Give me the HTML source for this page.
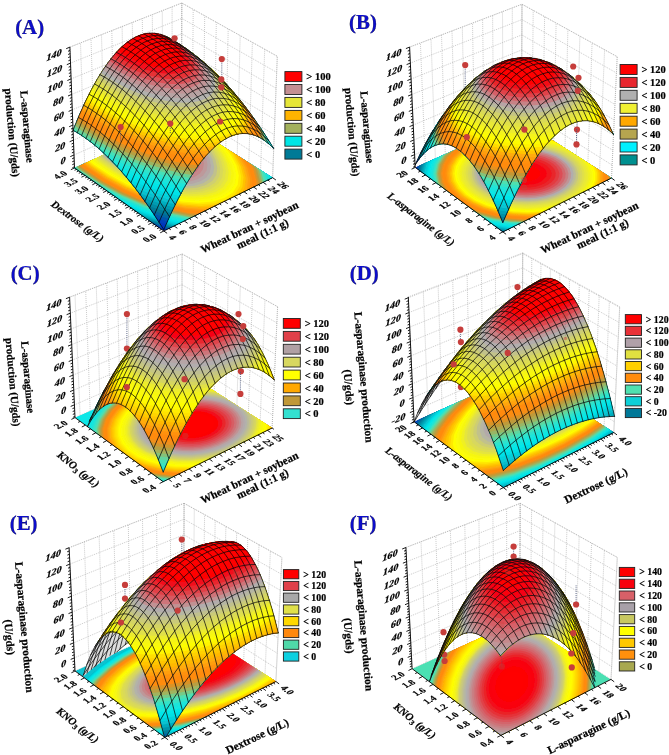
<!DOCTYPE html><html><head><meta charset="utf-8"><title>Figure</title>
<style>html,body{margin:0;padding:0;background:#fff}svg{display:block}text{font-family:"Liberation Serif","DejaVu Serif",serif;font-weight:bold;stroke:#000;stroke-width:.22px}</style></head><body>
<svg width="669" height="755" viewBox="0 0 669 755">
<rect width="669" height="755" fill="#fff"/>
<defs><filter id="bl" x="-2%" y="-2%" width="104%" height="104%"><feGaussianBlur stdDeviation="0.45"/></filter></defs>
<g filter="url(#bl)">
<g>
<path d="M74.5 167.9L69.9 47.1M84.6 163.3L80.5 43M94.7 158.9L91 38.8M104.6 154.4L101.5 34.7M114.5 150L111.8 30.6M124.3 145.6L122.1 26.5M134 141.3L132.3 22.5M143.7 137L142.3 18.5M153.2 132.7L152.3 14.6M162.7 128.5L162.3 10.7M172.1 124.3L172.1 6.8M181.5 120.2L181.8 3M272.6 177.7L277.3 56.3M260.6 170.2L264.7 49.3M248.8 162.7L252.4 42.4M237.2 155.4L240.2 35.6M225.8 148.1L228.2 28.9M214.5 141L216.3 22.2M203.3 134L204.7 15.7M192.3 127L193.2 9.3M181.5 120.2L181.8 3M74 155L181.5 107.6M181.5 107.6L273.1 164.8M73.4 140.1L181.5 93.2M181.5 93.2L273.6 149.8M72.9 125.1L181.6 78.6M181.6 78.6L274.2 134.7M72.3 109.8L181.6 63.8M181.6 63.8L274.8 119.4M71.7 94.4L181.7 48.8M181.7 48.8L275.4 103.9M71.1 78.9L181.7 33.7M181.7 33.7L276 88.2M70.5 63.1L181.8 18.4M181.8 18.4L276.6 72.3M69.9 47.1L181.8 3M181.8 3L277.3 56.3" stroke="#a8a8a8" stroke-width="0.6" stroke-dasharray="1 1" fill="none"/><path d="M69.9 47.1L181.8 3M181.8 3L277.3 56.3M181.5 120.2L181.8 3M272.6 177.7L277.3 56.3M74.5 167.9L181.5 120.2M181.5 120.2L272.6 177.7" stroke="#aaa" stroke-width="0.6" stroke-dasharray="1 1" fill="none"/>
<clipPath id="fcA"><path d="M163.8 231L272.6 177.7L181.5 120.2L74.5 167.9z"/></clipPath><g clip-path="url(#fcA)"><path d="M163.8 231L272.6 177.7L181.5 120.2L74.5 167.9z" fill="#0028c8"/><path d="M275.4 234.1l-19.1 6-23.8 1.9-27.6-2.2-29.8-6.3-30.5-10-30-13.1-27.9-15.4-24.7-17.1-20.7-18-16-18-10.9-17.3-5.7-16.2-.5-14.4 4.5-12.3 9.2-9.8 13.4-7.1 17.1-4.3 20.4-1.4 22.9 1.6 24.9 4.6 26.1 7.3 26.5 10 26.1 12.5 24.8 14.6 22.7 16.2 19.5 17.5 15.4 18 10.6 17.9 5 17-1.1 15.3-7.3 12.8z" fill="#0035bf"/><path d="M274 233.2l-18.8 5.9-23.7 1.9-27.2-2.3-29.5-6.2-30.2-9.8-29.6-13-27.7-15.3-24.5-16.9-20.4-17.7-15.9-17.9-10.8-17.2-5.7-16-.5-14.2 4.5-12.2 9-9.7 13.3-7.1 17-4.2 20.2-1.4 22.7 1.6 24.6 4.5 25.9 7.3 26.2 9.9 25.9 12.3 24.6 14.5 22.4 16.1 19.3 17.3 15.2 17.8 10.5 17.7 4.9 16.8-1.1 15.2-7.2 12.7z" fill="#003eb9"/><path d="M272.6 232.2l-18.6 5.8-23.4 1.9-26.9-2.2-29.2-6.2-29.9-9.7-29.3-12.8-27.3-15.1-24.3-16.8-20.3-17.5-15.7-17.7-10.7-17-5.7-15.8-.5-14.2 4.4-12 9-9.7 13.1-7 16.9-4.2 19.9-1.3 22.6 1.5 24.4 4.5 25.6 7.2 26 9.9 25.6 12.2 24.3 14.3 22.2 16 19.1 17.1 15.1 17.6 10.3 17.5 4.8 16.7-1.1 14.9-7.2 12.6z" fill="#004eb0"/><path d="M271.2 231.2l-18.5 5.7-23.1 1.9-26.6-2.2-28.8-6.1-29.6-9.6-29-12.6-27-15-24-16.5-20.1-17.4-15.6-17.4-10.6-16.9-5.6-15.7-.6-14 4.4-11.9 8.8-9.6 13-6.9 16.7-4.2 19.8-1.4 22.3 1.6 24.2 4.4 25.4 7.2 25.7 9.7 25.4 12.2 24.1 14.1 21.9 15.8 18.9 17 14.9 17.4 10.2 17.4 4.7 16.4-1.1 14.8-7.1 12.4z" fill="#0060a5"/><path d="M269.8 230.2l-18.3 5.7-22.8 1.8-26.3-2.2-28.5-6-29.3-9.5-28.6-12.4-26.8-14.8-23.7-16.4-20-17.2-15.4-17.2-10.5-16.7-5.6-15.6-.5-13.8 4.2-11.9 8.8-9.4 12.9-6.9 16.5-4.2 19.6-1.3 22.1 1.6 23.9 4.3 25.2 7.1 25.5 9.7 25.1 12 23.8 14 21.7 15.7 18.6 16.7 14.8 17.3 10 17.2 4.7 16.2-1.1 14.7-7.1 12.2z" fill="#00729b"/><path d="M268.4 229.2l-18.1 5.6-22.6 1.8-26-2.1-28.2-6-28.9-9.3-28.3-12.4-26.5-14.6-23.5-16.2-19.7-17-15.2-17-10.5-16.5-5.5-15.4-.6-13.8 4.2-11.7 8.7-9.3 12.7-6.9 16.4-4.1 19.4-1.3 21.9 1.6 23.7 4.3 24.8 7 25.3 9.6 24.8 11.9 23.6 13.9 21.5 15.5 18.4 16.5 14.6 17.1 9.9 17 4.6 16.1-1.1 14.4-7 12.1z" fill="#01829d"/><path d="M266.9 228.1l-17.9 5.6-22.3 1.8-25.7-2.1-27.8-5.9-28.6-9.2-28-12.2-26.1-14.5-23.3-15.9-19.5-16.8-15.1-16.9-10.4-16.4-5.4-15.2-.6-13.6 4.1-11.6 8.6-9.3 12.6-6.7 16.2-4.1 19.2-1.3 21.7 1.5 23.4 4.3 24.6 7 25 9.5 24.6 11.8 23.3 13.7 21.2 15.3 18.2 16.4 14.4 16.9 9.8 16.8 4.5 15.9-1.1 14.3-6.9 11.9z" fill="#0392a9"/><path d="M265.5 227.1l-17.7 5.5-22.1 1.7-25.3-2-27.5-5.8-28.2-9.1-27.7-12.1-25.9-14.2-23-15.8-19.3-16.6-14.9-16.7-10.3-16.2-5.4-15-.6-13.5 4.1-11.5 8.4-9.2 12.5-6.7 16-4 19-1.3 21.4 1.5 23.3 4.3 24.3 6.9 24.7 9.4 24.3 11.6 23.1 13.6 21 15.2 18 16.2 14.2 16.7 9.6 16.6 4.5 15.7-1.1 14.1-6.9 11.8z" fill="#04a2b6"/><path d="M264 226.1l-17.5 5.4-21.8 1.7-25-2-27.2-5.7-27.8-9.1-27.4-11.8-25.5-14.1-22.8-15.6-19-16.4-14.8-16.5-10.2-16-5.4-14.9-.6-13.3 4-11.3 8.4-9.2 12.3-6.6 15.8-4 18.8-1.2 21.2 1.5 23 4.2 24.1 6.8 24.5 9.3 24 11.5 22.8 13.5 20.7 15 17.8 16 14 16.5 9.5 16.4 4.4 15.5-1.1 13.9-6.8 11.7z" fill="#06b2c3"/><path d="M262.5 225l-17.3 5.3-21.5 1.8-24.7-2.1-26.8-5.6-27.5-8.9-27-11.7-25.3-13.9-22.4-15.4-18.9-16.2-14.7-16.3-10-15.8-5.4-14.7-.6-13.2 4-11.2 8.2-9 12.2-6.6 15.7-3.9 18.6-1.3 20.9 1.5 22.8 4.1 23.8 6.8 24.2 9.2 23.7 11.4 22.6 13.3 20.4 14.9 17.6 15.8 13.8 16.3 9.4 16.2 4.3 15.3-1.1 13.7-6.8 11.5z" fill="#07c2cf"/><path d="M261 223.9l-17 5.3-21.3 1.7-24.4-2-26.4-5.5-27.2-8.8-26.7-11.6-24.9-13.7-22.2-15.2-18.6-16-14.5-16.1-10-15.6-5.3-14.6-.7-13 3.9-11.1 8.2-8.9 12-6.5 15.5-3.9 18.4-1.2 20.7 1.4 22.5 4.1 23.6 6.7 23.9 9.1 23.5 11.3 22.3 13.2 20.2 14.6 17.3 15.7 13.6 16.1 9.3 16 4.2 15.1-1.2 13.6-6.6 11.3z" fill="#06ced9"/><path d="M259.5 222.9l-16.8 5.2-21 1.6-24.1-1.9-26.1-5.5-26.8-8.7-26.3-11.4-24.6-13.5-21.9-15-18.5-15.8-14.3-15.9-9.9-15.4-5.3-14.4-.6-12.9 3.8-11 8.1-8.8 11.9-6.4 15.3-3.9 18.1-1.2 20.6 1.5 22.2 4 23.3 6.7 23.6 9 23.2 11.1 22 13 20 14.5 17.1 15.5 13.4 15.9 9.1 15.8 4.2 14.9-1.2 13.4-6.6 11.1z" fill="#04d8e0"/><path d="M257.9 221.8l-16.6 5.1-20.6 1.6-23.8-1.9-25.7-5.4-26.5-8.5-25.9-11.2-24.3-13.4-21.7-14.8-18.2-15.6-14.2-15.7-9.8-15.2-5.2-14.2-.6-12.7 3.8-10.9 7.9-8.7 11.7-6.4 15.1-3.8 18-1.2 20.3 1.4 22 4 23 6.6 23.3 8.9 22.9 11 21.8 12.9 19.7 14.3 16.8 15.3 13.3 15.7 8.9 15.5 4.1 14.8-1.2 13.2-6.5 11z" fill="#02e2e7"/><path d="M256.4 220.7l-16.4 5-20.4 1.6-23.4-1.9-25.4-5.3-26.1-8.4-25.6-11-23.9-13.2-21.4-14.6-18-15.4-14-15.5-9.7-15-5.2-14-.6-12.6 3.7-10.8 7.8-8.6 11.6-6.2 14.9-3.8 17.8-1.2 20 1.4 21.7 4 22.8 6.4 23 8.8 22.7 10.9 21.4 12.8 19.4 14.1 16.7 15.1 13 15.5 8.8 15.3 4 14.5-1.1 13-6.5 10.9z" fill="#05e7e9"/><path d="M254.8 219.6l-16.1 4.9-20.1 1.6-23.1-1.8-25-5.3-25.8-8.3-25.2-10.9-23.6-12.9-21.1-14.4-17.8-15.2-13.8-15.3-9.6-14.8-5.1-13.9-.7-12.4 3.7-10.6 7.7-8.5 11.4-6.2 14.7-3.7 17.6-1.2 19.8 1.4 21.4 3.9 22.5 6.4 22.7 8.7 22.4 10.8 21.1 12.5 19.2 14 16.4 14.9 12.8 15.3 8.7 15.1 3.9 14.3-1.1 12.8-6.4 10.7z" fill="#0fe6e3"/><path d="M253.2 218.5l-15.9 4.8-19.8 1.6-22.8-1.8-24.6-5.2-25.3-8.1-24.9-10.8-23.3-12.7-20.9-14.2-17.5-15-13.7-15.1-9.4-14.6-5.1-13.7-.7-12.2 3.6-10.5 7.6-8.4 11.3-6.1 14.6-3.7 17.3-1.2 19.5 1.4 21.2 3.9 22.1 6.3 22.5 8.6 22.1 10.6 20.8 12.4 18.9 13.8 16.2 14.7 12.6 15.1 8.6 14.9 3.8 14.1-1.2 12.6-6.3 10.5z" fill="#19e5dc"/><path d="M251.6 217.3l-15.7 4.8-19.5 1.6-22.4-1.9-24.3-5-24.9-8-24.5-10.6-23-12.6-20.5-13.9-17.3-14.8-13.5-14.8-9.4-14.5-5-13.5-.7-12.1 3.5-10.3 7.5-8.3 11.2-6.1 14.3-3.6 17.1-1.2 19.3 1.4 20.9 3.8 21.8 6.3 22.2 8.4 21.8 10.5 20.5 12.3 18.7 13.6 15.9 14.5 12.4 14.8 8.4 14.7 3.8 13.9-1.2 12.4-6.2 10.4z" fill="#26e3d3"/><path d="M250 216.2l-15.5 4.7-19.2 1.5-22-1.8-23.9-4.9-24.6-7.9-24.2-10.4-22.6-12.4-20.2-13.8-17.1-14.5-13.3-14.6-9.2-14.3-5-13.3-.7-11.9 3.5-10.2 7.3-8.2 11-6 14.1-3.6 16.9-1.1 19 1.3 20.6 3.8 21.6 6.2 21.9 8.3 21.4 10.4 20.3 12.1 18.4 13.4 15.6 14.2 12.3 14.7 8.2 14.5 3.7 13.6-1.2 12.3-6.1 10.2z" fill="#3ce2c1"/><path d="M248.3 215l-15.2 4.6-18.9 1.5-21.7-1.7-23.5-4.9-24.2-7.8-23.8-10.2-22.3-12.2-19.9-13.5-16.8-14.3-13.2-14.4-9.1-14.1-4.9-13.1-.7-11.7 3.4-10.1 7.3-8.1 10.8-5.9 13.9-3.6 16.6-1.1 18.8 1.3 20.3 3.8 21.3 6.1 21.6 8.2 21.1 10.3 20 11.9 18 13.2 15.5 14 12 14.5 8.1 14.2 3.6 13.5-1.2 12-6 10.1z" fill="#52dfae"/><path d="M246.6 213.8l-14.9 4.6-18.6 1.4-21.4-1.7-23.1-4.8-23.8-7.6-23.4-10.1-21.9-11.9-19.6-13.4-16.6-14-13-14.2-9-13.8-4.8-13-.8-11.6 3.4-9.9 7.1-8 10.7-5.8 13.7-3.5 16.4-1.1 18.5 1.3 20 3.7 21 6 21.2 8.1 20.9 10.1 19.6 11.7 17.8 13.1 15.2 13.8 11.8 14.2 8 14.1 3.5 13.2-1.2 11.8-6 9.9z" fill="#80c57f"/><path d="M244.9 212.6l-14.7 4.5-18.2 1.4-21-1.6-22.8-4.8-23.4-7.5-23-9.8-21.6-11.8-19.3-13.1-16.3-13.8-12.8-14-8.9-13.6-4.8-12.7-.7-11.5 3.3-9.8 7-7.8 10.5-5.8 13.5-3.4 16.2-1.1 18.2 1.3 19.7 3.6 20.7 5.9 20.9 8.1 20.5 9.9 19.4 11.6 17.5 12.8 14.9 13.6 11.6 14 7.8 13.8 3.5 13-1.2 11.6-6 9.7z" fill="#a8ad55"/><path d="M243.2 211.4l-14.4 4.4-18 1.4-20.6-1.6-22.4-4.7-23-7.3-22.6-9.7-21.2-11.6-19-12.9-16.1-13.5-12.5-13.8-8.8-13.4-4.8-12.5-.7-11.3 3.2-9.6 6.9-7.8 10.3-5.6 13.3-3.4 15.9-1.1 18 1.3 19.4 3.6 20.4 5.8 20.6 7.9 20.2 9.8 19 11.4 17.2 12.6 14.6 13.4 11.5 13.8 7.6 13.5 3.4 12.8-1.2 11.4-5.8 9.6z" fill="#bd9b3c"/><path d="M241.5 210.2l-14.2 4.3-17.7 1.4-20.2-1.6-22-4.6-22.5-7.2-22.2-9.5-20.9-11.4-18.7-12.6-15.8-13.4-12.4-13.5-8.6-13.2-4.7-12.3-.8-11.1 3.2-9.4 6.8-7.7 10.1-5.6 13.1-3.3 15.6-1.1 17.7 1.3 19.1 3.5 20.1 5.8 20.2 7.8 19.9 9.6 18.7 11.2 16.9 12.4 14.4 13.2 11.2 13.5 7.5 13.3 3.3 12.6-1.2 11.2-5.8 9.4z" fill="#e09224"/><path d="M239.7 208.9l-14 4.3-17.3 1.3-19.8-1.6-21.6-4.4-22.1-7.1-21.8-9.3-20.5-11.2-18.4-12.4-15.5-13.1-12.2-13.3-8.5-12.9-4.7-12.1-.7-10.9 3.1-9.4 6.6-7.5 10-5.5 12.9-3.3 15.3-1 17.4 1.2 18.9 3.5 19.6 5.6 20 7.7 19.5 9.5 18.4 11 16.6 12.2 14.1 13 11 13.3 7.3 13.1 3.2 12.3-1.1 11-5.7 9.2z" fill="#ff8c10"/><path d="M237.9 207.7l-13.7 4.1-17 1.3-19.5-1.5-21.1-4.4-21.7-6.9-21.4-9.2-20.1-10.9-18.1-12.2-15.2-12.8-12-13.1-8.4-12.7-4.6-11.9-.7-10.7 3-9.2 6.5-7.4 9.8-5.4 12.7-3.2 15.1-1.1 17.1 1.3 18.5 3.4 19.3 5.6 19.6 7.5 19.2 9.3 18.1 10.8 16.3 12 13.8 12.8 10.8 13 7.1 12.9 3.2 12-1.2 10.8-5.6 9z" fill="#ff8b10"/><path d="M236.1 206.4l-13.5 4-16.6 1.3-19.1-1.5-20.7-4.3-21.3-6.8-21-8.9-19.7-10.7-17.7-11.9-15-12.7-11.8-12.8-8.2-12.4-4.5-11.7-.8-10.6 2.9-9 6.5-7.2 9.6-5.3 12.4-3.2 14.8-1.1 16.8 1.2 18.2 3.4 19 5.5 19.3 7.4 18.8 9.2 17.7 10.6 16 11.8 13.6 12.5 10.5 12.8 7 12.6 3.1 11.8-1.2 10.6-5.5 8.8z" fill="#ff920e"/><path d="M234.2 205.1l-13.1 3.9-16.3 1.3-18.7-1.5-20.3-4.2-20.9-6.6-20.5-8.8-19.4-10.5-17.3-11.6-14.7-12.4-11.6-12.6-8.1-12.2-4.5-11.5-.7-10.3 2.8-8.9 6.3-7.1 9.4-5.2 12.2-3.1 14.6-1 16.5 1.1 17.8 3.3 18.7 5.4 18.9 7.3 18.4 9 17.4 10.4 15.7 11.6 13.3 12.3 10.3 12.5 6.9 12.3 2.9 11.6-1.2 10.4-5.3 8.6z" fill="#ffa00b"/><path d="M232.3 203.7l-12.9 3.9-15.9 1.3-18.3-1.5-19.8-4.1-20.5-6.5-20.1-8.6-18.9-10.2-17-11.4-14.4-12.2-11.4-12.2-8-12-4.3-11.3-.8-10.1 2.8-8.7 6.1-7 9.2-5.1 12-3.1 14.3-1 16.2 1.1 17.5 3.3 18.3 5.3 18.5 7.1 18.1 8.9 17 10.2 15.4 11.3 13 12 10.1 12.3 6.7 12.1 2.8 11.4-1.1 10.1-5.3 8.4z" fill="#ffaf08"/><path d="M230.4 202.4l-12.6 3.8-15.6 1.2-17.9-1.5-19.4-3.9-19.9-6.4-19.7-8.4-18.6-10-16.6-11.2-14.1-11.8-11.2-12-7.8-11.8-4.3-11-.8-9.9 2.8-8.6 6-6.8 9-5 11.7-3.1 14-.9 15.9 1.1 17.1 3.2 18 5.2 18.1 7 17.7 8.6 16.7 10.1 15 11.1 12.7 11.7 9.9 12.1 6.5 11.8 2.8 11.1-1.2 9.9-5.1 8.2z" fill="#ffc203"/><path d="M228.4 201l-12.3 3.7-15.2 1.2-17.5-1.4-18.9-3.9-19.5-6.2-19.3-8.2-18.1-9.8-16.2-10.9-13.9-11.6-10.9-11.7-7.6-11.5-4.3-10.8-.8-9.7 2.7-8.4 5.8-6.7 8.9-4.9 11.5-3 13.7-.9 15.5 1.1 16.8 3.1 17.6 5.1 17.7 6.8 17.4 8.5 16.3 9.8 14.6 10.9 12.5 11.5 9.6 11.8 6.3 11.5 2.7 10.9-1.1 9.6-5.1 8.1z" fill="#ffd800"/><path d="M226.4 199.6l-12 3.6-14.9 1.1-17-1.3-18.5-3.8-19-6.1-18.8-7.9-17.7-9.6-15.9-10.6-13.5-11.3-10.7-11.5-7.5-11.2-4.1-10.6-.8-9.5 2.6-8.2 5.7-6.6 8.6-4.8 11.2-2.9 13.4-.9 15.2 1.1 16.5 3 17.2 5 17.3 6.7 17 8.3 15.9 9.6 14.3 10.7 12.1 11.2 9.4 11.5 6.2 11.3 2.6 10.5-1.1 9.5-5 7.8z" fill="#ffeb00"/><path d="M224.4 198.1l-11.7 3.5-14.5 1.2-16.6-1.4-18-3.7-18.6-5.8-18.3-7.8-17.2-9.3-15.6-10.4-13.2-11-10.4-11.2-7.4-11-4-10.3-.8-9.3 2.5-7.9 5.6-6.5 8.4-4.7 10.9-2.8 13.1-1 14.9 1.1 16 3 16.8 4.9 17 6.5 16.5 8.2 15.6 9.3 14 10.4 11.8 11 9.1 11.2 6 11 2.5 10.3-1.1 9.2-4.9 7.6z" fill="#ffff00"/><path d="M222.3 196.6l-11.4 3.5-14.1 1-16.2-1.2-17.5-3.6-18.1-5.7-17.8-7.6-16.8-9-15.1-10.1-12.9-10.8-10.2-10.9-7.2-10.7-4-10-.8-9.1 2.5-7.8 5.4-6.3 8.2-4.6 10.7-2.8 12.8-.9 14.5 1.1 15.6 2.9 16.4 4.8 16.6 6.4 16.1 7.9 15.2 9.2 13.6 10.1 11.5 10.7 8.8 10.9 5.9 10.7 2.4 10-1.1 9-4.8 7.4z" fill="#fbfb08"/><path d="M220.1 195.1l-11.1 3.3-13.7 1.1-15.7-1.2-17-3.5-17.6-5.6-17.3-7.3-16.3-8.8-14.8-9.8-12.5-10.5-9.9-10.6-7.1-10.4-3.9-9.8-.7-8.8 2.3-7.6 5.3-6.2 8-4.4 10.4-2.8 12.4-.8 14.2 1 15.2 2.9 16 4.6 16.1 6.3 15.7 7.7 14.8 8.9 13.2 9.9 11.2 10.4 8.6 10.6 5.7 10.4 2.3 9.8-1.1 8.6-4.6 7.2z" fill="#f7f711"/><path d="M217.9 193.6l-10.7 3.2-13.3 1-15.3-1.2-16.5-3.4-17-5.3-16.8-7.2-15.9-8.5-14.3-9.5-12.3-10.1-9.6-10.4-6.9-10.1-3.8-9.5-.8-8.6 2.3-7.4 5.1-6 7.8-4.4 10.1-2.6 12.1-.8 13.8.9 14.9 2.8 15.5 4.5 15.7 6.1 15.3 7.6 14.3 8.6 12.8 9.6 10.9 10.2 8.3 10.3 5.5 10.1 2.3 9.5-1.2 8.4-4.5 7z" fill="#f1f121"/><path d="M215.7 192l-10.5 3.1-12.9 1-14.7-1.2-16-3.2-16.5-5.2-16.3-6.9-15.4-8.3-13.9-9.2-11.8-9.8-9.4-10.1-6.7-9.8-3.7-9.2-.8-8.4 2.2-7.2 4.9-5.8 7.6-4.2 9.8-2.6 11.8-.8 13.3.9 14.5 2.7 15.1 4.4 15.2 6 14.8 7.3 13.9 8.4 12.5 9.3 10.5 9.9 8.1 10 5.3 9.8 2.1 9.1-1.1 8.2-4.4 6.7z" fill="#e8e837"/><path d="M213.4 190.4l-10.2 2.9-12.4 1-14.3-1.1-15.4-3.2-16-5-15.8-6.6-14.9-8-13.4-8.9-11.5-9.5-9.1-9.7-6.5-9.5-3.6-9-.8-8.1 2.1-7 4.8-5.6 7.3-4.2 9.5-2.5 11.5-.8 12.9 1 14 2.6 14.7 4.3 14.7 5.7 14.4 7.1 13.5 8.2 12 9 10.2 9.5 7.8 9.7 5 9.5 2.1 8.9-1.1 7.8-4.2 6.6z" fill="#e1e148"/><path d="M211 188.7l-9.8 2.8-12 1-13.8-1.1-14.9-3-15.4-4.9-15.2-6.4-14.4-7.7-13-8.6-11.1-9.2-8.8-9.3-6.3-9.2-3.5-8.7-.8-7.8 2-6.8 4.7-5.4 7-4 9.2-2.5 11.1-.7 12.5.9 13.6 2.5 14.1 4.2 14.3 5.5 13.9 6.9 13 7.9 11.7 8.7 9.7 9.2 7.6 9.4 4.8 9.1 2 8.6-1 7.6-4.2 6.3z" fill="#d9d959"/><path d="M208.5 186.9l-9.4 2.8-11.6.9-13.2-1.1-14.3-2.9-14.9-4.6-14.6-6.2-13.8-7.4-12.6-8.3-10.7-8.8-8.5-9-6.1-8.9-3.4-8.3-.7-7.6 1.9-6.5 4.4-5.3 6.8-3.9 8.9-2.3 10.7-.7 12.1.8 13.1 2.5 13.6 4 13.8 5.4 13.4 6.6 12.5 7.6 11.2 8.4 9.4 8.9 7.3 9 4.6 8.8 1.9 8.3-1 7.3-4 6z" fill="#cfcf6f"/><path d="M205.9 185.1l-9 2.7-11.1.8-12.7-1-13.7-2.8-14.2-4.4-14.1-5.9-13.3-7.1-12-8-10.3-8.4-8.2-8.7-5.9-8.5-3.3-8-.7-7.3 1.8-6.3 4.3-5.1 6.5-3.7 8.6-2.3 10.2-.7 11.7.9 12.6 2.3 13.1 3.9 13.2 5.2 12.9 6.3 12.1 7.4 10.7 8.1 9.1 8.5 6.9 8.7 4.4 8.4 1.8 7.9-1 7-3.8 5.8z" fill="#c1c18b"/><path d="M203.3 183.2l-8.7 2.6-10.6.8-12.1-1-13.1-2.6-13.6-4.3-13.4-5.6-12.8-6.8-11.5-7.6-9.9-8.1-7.8-8.3-5.6-8.1-3.2-7.7-.8-7 1.8-6 4-4.9 6.3-3.6 8.2-2.2 9.8-.7 11.2.8 12.1 2.3 12.6 3.7 12.7 5 12.3 6.1 11.6 7.1 10.2 7.7 8.7 8.2 6.6 8.3 4.2 8.1 1.7 7.5-1 6.7-3.7 5.5z" fill="#b4b4a8"/><path d="M200.5 181.3l-8.2 2.4-10.1.7-11.6-.9-12.5-2.5-12.9-4-12.8-5.4-12.1-6.4-11-7.2-9.4-7.8-7.5-7.9-5.4-7.7-3.1-7.4-.7-6.7 1.6-5.7 3.9-4.7 6-3.4 7.8-2.1 9.4-.6 10.7.7 11.5 2.2 12.1 3.5 12.1 4.8 11.8 5.8 11 6.8 9.8 7.4 8.2 7.8 6.2 7.9 4.1 7.7 1.6 7.1-1 6.4-3.5 5.3z" fill="#b5a6a7"/><path d="M197.6 179.2l-7.8 2.3-9.6.7-10.9-.8-11.8-2.4-12.3-3.8-12.1-5.1-11.5-6.1-10.4-6.8-8.9-7.4-7.2-7.5-5.1-7.3-3-7-.6-6.4 1.5-5.4 3.7-4.5 5.6-3.2 7.5-2 8.9-.6 10.1.7 11 2.1 11.4 3.3 11.5 4.6 11.2 5.5 10.5 6.4 9.3 7.1 7.7 7.4 5.9 7.4 3.9 7.3 1.4 6.8-.9 6-3.4 5z" fill="#bd999b"/><path d="M194.5 177.1l-7.3 2.1-9 .7-10.3-.8-11.1-2.3-11.5-3.6-11.4-4.7-10.9-5.7-9.8-6.5-8.4-6.9-6.8-7-4.8-7-2.8-6.6-.7-6 1.4-5.2 3.5-4.2 5.3-3 7-1.9 8.5-.6 9.5.7 10.4 2 10.8 3.1 10.9 4.3 10.5 5.3 9.9 6 8.7 6.7 7.3 6.9 5.6 7.1 3.6 6.9 1.3 6.4-.9 5.6-3.1 4.7z" fill="#c5888b"/><path d="M191.3 174.8l-6.9 2-8.4.6-9.6-.8-10.4-2-10.7-3.4-10.7-4.4-10.1-5.4-9.2-6-7.9-6.4-6.3-6.6-4.6-6.5-2.6-6.2-.7-5.6 1.4-4.9 3.2-3.9 5-2.9 6.6-1.8 7.9-.5 8.9.6 9.8 1.9 10.1 3 10.2 4 9.8 4.9 9.2 5.7 8.2 6.2 6.8 6.5 5.2 6.6 3.3 6.4 1.3 6-.9 5.3-2.9 4.3z" fill="#d06d73"/><path d="M187.8 172.3l-6.3 1.9-7.8.5-8.8-.7-9.6-1.9-10-3.1-9.8-4-9.4-5-8.5-5.5-7.3-6-5.9-6.1-4.3-6-2.4-5.7-.6-5.3 1.2-4.5 3-3.6 4.6-2.7 6.1-1.7 7.3-.5 8.3.6 9.1 1.8 9.4 2.7 9.4 3.8 9.2 4.5 8.5 5.3 7.5 5.8 6.3 6 4.8 6.1 3 5.9 1.2 5.5-.8 4.9-2.8 4z" fill="#db535b"/><path d="M184 169.7l-5.7 1.6-7.1.6-8.1-.7-8.7-1.7-9-2.8-9-3.7-8.5-4.5-7.8-5.1-6.7-5.4-5.4-5.6-3.9-5.5-2.3-5.2-.6-4.8 1.1-4.1 2.7-3.4 4.3-2.4 5.5-1.5 6.8-.5 7.6.5 8.2 1.6 8.6 2.6 8.7 3.4 8.3 4.2 7.8 4.8 6.9 5.3 5.7 5.5 4.4 5.5 2.7 5.5 1 5-.7 4.4-2.5 3.7z" fill="#e23b42"/><path d="M179.9 166.8l-5.2 1.4-6.3.5-7.1-.6-7.8-1.5-8.1-2.5-8-3.3-7.6-4-7-4.5-6-4.9-4.8-5-3.5-4.9-2.1-4.7-.5-4.2.9-3.8 2.5-3 3.7-2.2 5-1.3 6-.5 6.9.5 7.4 1.5 7.7 2.2 7.7 3.1 7.5 3.8 7 4.3 6.1 4.7 5.1 5 3.9 4.9 2.4 4.9.9 4.4-.7 4-2.2 3.2z" fill="#ea232a"/><path d="M175.2 163.5l-4.4 1.2-5.5.4-6.2-.4-6.7-1.4-7-2.1-6.9-2.9-6.6-3.4-6-3.9-5.2-4.2-4.2-4.3-3.1-4.3-1.8-4.1-.5-3.7.9-3.2 2.1-2.6 3.2-2 4.4-1.1 5.2-.4 5.9.4 6.5 1.3 6.7 2 6.7 2.6 6.5 3.3 6 3.8 5.3 4 4.4 4.3 3.3 4.3 2.1 4.2.8 3.9-.6 3.4-2 2.8z" fill="#f40a17"/><path d="M169.7 159.6l-3.6 1-4.4.3-5.1-.3-5.4-1.1-5.7-1.8-5.6-2.3-5.4-2.8-4.9-3.2-4.3-3.4-3.5-3.5-2.5-3.5-1.5-3.3-.4-3.1.7-2.6 1.7-2.2 2.6-1.5 3.6-1 4.3-.3 4.8.3 5.3 1.1 5.5 1.6 5.5 2.2 5.3 2.7 4.9 3 4.4 3.4 3.6 3.5 2.7 3.5 1.6 3.4.6 3.2-.5 2.7-1.6 2.3z" fill="#ff0000"/><path d="M162.6 154.6l-2.6.7-3.1.2-3.5-.3-3.9-.7-3.9-1.2-4-1.7-3.8-1.9-3.5-2.3-3-2.4-2.5-2.4-1.8-2.5-1-2.4-.4-2.1.5-1.9 1.2-1.6 1.9-1.1 2.5-.7 3-.2 3.5.3 3.8.7 3.8 1.1 4 1.6 3.7 1.9 3.5 2.2 3.1 2.4 2.5 2.5 1.9 2.4 1.1 2.4.4 2.2-.4 2-1.1 1.6z" fill="#ff0000"/></g>

<path d="M168.1 37.3l4.5 2.9 3 2.1 6.1 5.2 8.9 5.4 9 6.4 9 7.5 9.3 8.5-4.1-4.1-6.7-6.2-6.7-5.7-6.7-5.4-6.9-5-6.7-4.5-6.6-4.1z" fill="#dcdcdc"/><path d="M113.2 55.8l-6.3 8.2-4.7 6.9-4.6 7.6-4.7 8.2-4.7 9-6.1 12.9-4.6 10.5-4.5 11.1 6.1 3.7 5 3.2 6.2 4.6 5 4 6.4 5.5 5.1 4.8 10.3 10.6 6.5 7.4 5.3 6.3 6.6 8.3 5.3 7.1 10.8 15.2 12.1 18.8 8.2-18.2 6.6-13.2 8.1-14.8 6.6-10.5 6.5-9.3 6.5-8 6.4-6.8 3.2-3 4.8-3.8 3.2-2.1 3.2-1.9 3.2-1.5 3.1-1.2 3.1-.9 3.1-.6 3.1-.3 4.6.1 3 .5 3 .7 3 1.1 4.5 2.1 2.9 1.8 2.9 2.1 2.9 2.4 4.3 4.1-5.3-8.7-6.7-10.3-12-17.1-5.4-7.1-6.6-8.3-5.3-6.3-6.6-7.4-5.3-5.5-6.7-6.6-6.7-6.2-6.7-5.7-6.7-5.4-6.9-5-6.7-4.5-6.6-4.1-5.4-3-3.1-1.4-3-1.2-3.1-.8-4.7-.7-3.1-.1-4.7.4-3.2.6-4.7 1.6-3.2 1.4-4.7 2.8-3.1 2.2-4.8 3.9-3.2 3z" fill="#002dc5"/><path d="M113.2 55.8l-6.3 8.2-4.7 6.9-4.6 7.6-4.7 8.2-4.7 9-6.1 12.9-4.6 10.5-4.5 11.1 6.1 3.7 5 3.2 4.9 3.6 5.1 3.9 6.3 5.5 5.1 4.7 10.3 10.4 6.5 7.3 5.3 6.2 10.6 13.4 12 16.8 11.1 16.9 3.7 1.1 8.6-18.8 8.1-15.9 8.2-14.1 3.3-5.1 4.8-7.1 4.9-6.4 6.5-7.4 6.4-6.2 6.4-4.9 3.2-2 3.2-1.7 3.1-1.3 3.2-1.1 3.1-.8 3.1-.4 3-.2 4.6.4 3 .6 3 .9 3 1.2 3 1.5 2.9 1.8 2.9 2.1 2.9 2.4 4.3 4.1-5.3-8.7-6.7-10.3-12-17.1-5.4-7.1-6.6-8.3-5.3-6.3-6.6-7.4-5.3-5.5-6.7-6.6-6.7-6.2-6.7-5.7-6.7-5.4-6.9-5-6.7-4.5-6.6-4.1-5.4-3-3.1-1.4-3-1.2-3.1-.8-4.7-.7-3.1-.1-4.7.4-3.2.6-4.7 1.6-3.2 1.4-4.7 2.8-3.1 2.2-4.8 3.9-3.2 3z" fill="#0036be"/><path d="M114.8 54l-6.3 7.8-4.7 6.7-4.7 7.4-6.2 10.8-4.7 9-6.1 12.9-4.6 10.5-4.5 11.1 6.1 3.7 5 3.2 4.9 3.6 5.1 3.9 6.3 5.5 5.1 4.7 10.3 10.4 10.5 11.9 10.6 13.3 10.6 14.6 11.4 16.9 7.3 2.3 7.4-16.1 6.5-12.9 8.2-14.5 6.5-10.2 6.5-8.9 3.2-4 4.9-5.5 6.4-6.2 3.2-2.6 4.8-3.3 3.2-1.9 3.2-1.5 3.1-1.2 3.1-.9 3.1-.6 3.1-.3 3.1 0 3 .3 3 .6 3 .9 3 1.2 3 1.5 2.9 1.8 2.9 2.1 2.9 2.4 4.3 4.1-10.7-16.9-12-17.4-5.3-7.1-6.7-8.5-5.3-6.4-6.6-7.4-5.3-5.6-6.7-6.7-6.7-6.3-6.7-5.8-6.7-5.5-6.7-5-6.7-4.5-6.9-4.3-8.1-4.5-4.6-1.9-3.1-.8-4.7-.7-3.1-.1-3.2.2-3.1.5-4.7 1.3-3.2 1.3-4.7 2.5-3.2 2-4.7 3.7-3.2 2.8z" fill="#0040b8"/><path d="M114.8 54l-6.3 7.8-4.7 6.7-4.7 7.4-6.2 10.8-4.7 9-6.1 12.9-4.6 10.5-4.5 11.1 6.1 3.7 5 3.2 4.9 3.6 5.1 3.9 10.1 9 10.3 10.3 10.5 11.6 10.5 13.1 10.7 14.5 10.1 14.9 11.1 3.4 7.8-16.6 6.5-12.6 8.2-14.1 6.5-9.9 6.5-8.7 3.3-3.8 4.8-5.3 6.4-5.8 3.2-2.5 4.8-3.1 3.2-1.7 3.1-1.3 3.2-1.1 3.1-.8 3.1-.4 3-.2 3.1.2 3 .5 3 .7 3 1.1 3 1.4 2.9 1.6 3 2 2.9 2.2 5.7 5.3-10.7-16.9-12-17.4-5.3-7.1-6.7-8.5-5.3-6.4-6.6-7.4-5.3-5.6-6.7-6.7-6.7-6.3-6.7-5.8-6.7-5.5-6.7-5-6.7-4.5-6.9-4.3-8.1-4.5-4.6-1.9-3.1-.8-4.7-.7-3.1-.1-3.2.2-3.1.5-4.7 1.3-3.2 1.3-4.7 2.5-3.2 2-4.7 3.7-3.2 2.8z" fill="#0053ad"/><path d="M114.8 54l-6.3 7.8-4.7 6.7-4.7 7.4-6.2 10.8-4.7 9-6.1 12.9-4.6 10.5-4.5 11.1 4.9 2.9 4.9 3.2 5 3.5 5 3.8 10.1 8.8 10.3 10.1 10.4 11.5 9.3 11.2 10.6 14.2 10.2 14.6 14.9 4.7 6.6-13.9 8.2-15.6 6.5-11.1 3.3-5.1 4.8-7.1 6.5-8.3 3.3-3.8 4.8-4.9 6.4-5.6 3.2-2.3 4.8-2.9 4.7-2.1 3.2-1.1 3.1-.8 3.1-.4 3-.2 3.1.2 3 .5 3 .7 3 1.1 3 1.4 2.9 1.6 3 2 2.9 2.2 5.7 5.3-10.7-16.9-12-17.4-5.3-7.1-6.7-8.5-5.3-6.4-6.6-7.4-5.3-5.6-6.7-6.7-6.7-6.3-6.7-5.8-6.7-5.5-6.7-5-6.7-4.5-6.9-4.3-8.1-4.5-4.6-1.9-3.1-.8-4.7-.7-3.1-.1-3.2.2-3.1.5-4.7 1.3-3.2 1.3-4.7 2.5-3.2 2-4.7 3.7-3.2 2.8z" fill="#0067a1"/><path d="M116.4 52.2l-6.3 7.6-4.7 6.4-4.7 7.1-6.3 10.6-4.6 8.7-6.2 12.7-6.1 13.8-4.5 11.1 4.9 2.9 4.9 3.2 5 3.5 5 3.8 10.1 8.8 9 8.7 10.4 11.4 9.2 11.1 9.3 12.1 10.1 14.2 10.5 3.5 8.5 2.5 6.9-14.4 8.2-15.2 6.5-10.8 3.3-5 4.9-6.8 6.5-8 3.2-3.6 4.8-4.7 6.4-5.3 3.2-2.1 4.8-2.7 4.7-1.9 3.1-.9 3.1-.6 3.1-.3 3.1 0 3 .3 3 .6 4.5 1.5 3 1.4 2.9 1.6 3 2 2.9 2.2 5.7 5.3-10.7-16.9-12-17.4-5.3-7.1-6.7-8.5-5.3-6.4-6.6-7.4-5.3-5.6-6.7-6.7-6.7-6.3-6.7-5.8-5.4-4.4-6.7-5.1-5.4-3.8-6.7-4.3-5.3-3.2-5.6-3-3.1-1.3-3.1-1-4.6-1-3.2-.2-3.1 0-3.1.4-4.7 1.1-3.2 1.1-4.7 2.3-3.2 1.9-4.7 3.4-3.2 2.7z" fill="#007a96"/><path d="M116.4 52.2l-6.3 7.6-4.7 6.4-4.7 7.1-6.3 10.6-4.6 8.7-6.2 12.7-6.1 13.8-4.5 11.1 4.9 2.9 4.9 3.2 8.7 6.3 8.9 7.5 8.9 8.4 10.4 11 9.2 10.8 9.3 11.8 9.9 13.7 10.8 3.7 12.3 3.6 7.3-14.8 8.1-14.8 6.6-10.5 3.2-4.8 4.9-6.6 6.5-7.8 3.2-3.4 4.8-4.5 6.4-4.9 3.2-2 4.8-2.4 4.7-1.7 3.1-.8 3.1-.4 4.6-.1 3 .3 3 .6 4.5 1.5 3 1.4 2.9 1.6 3 2 2.9 2.2 5.7 5.3-10.7-16.9-12-17.4-5.3-7.1-6.7-8.5-5.3-6.4-6.6-7.4-5.3-5.6-6.7-6.7-6.7-6.3-6.7-5.8-5.4-4.4-6.7-5.1-5.4-3.8-6.7-4.3-5.3-3.2-5.6-3-3.1-1.3-3.1-1-4.6-1-3.2-.2-3.1 0-3.1.4-4.7 1.1-3.2 1.1-4.7 2.3-3.2 1.9-4.7 3.4-3.2 2.7z" fill="#028ba4"/><path d="M116.4 52.2l-6.3 7.6-4.7 6.4-4.7 7.1-6.3 10.6-4.6 8.7-6.2 12.7-6.1 13.8-4.5 11.1 8.6 5.2 8.7 6.3 8.8 7.2 9 8.4 9 9.3 9.2 10.5 9.2 11.5 9.6 13 15 5.1 12.4 3.6 7.6-15.1 6.5-11.7 6.6-10.5 3.2-4.8 4.9-6.6 6.5-7.8 3.2-3.4 4.8-4.5 6.4-4.9 3.2-2 4.8-2.4 4.7-1.7 3.1-.8 3.1-.4 4.6-.1 3 .3 3 .6 4.5 1.5 3 1.4 2.9 1.6 3 2 2.9 2.2 5.7 5.3-10.7-16.9-12-17.4-5.3-7.1-6.7-8.5-5.3-6.4-6.6-7.4-5.3-5.6-6.7-6.7-6.7-6.3-6.7-5.8-5.4-4.4-6.7-5.1-5.4-3.8-6.7-4.3-5.3-3.2-5.6-3-3.1-1.3-3.1-1-4.6-1-3.2-.2-3.1 0-3.1.4-4.7 1.1-3.2 1.1-4.7 2.3-3.2 1.9-4.7 3.4-3.2 2.7z" fill="#049cb1"/><path d="M118 50.6l-6.3 7.2-6.3 8.4-4.7 7.1-6.3 10.6-4.6 8.7-6.2 12.7-6.1 13.8-4.5 11.1 8.6 5.2 8.7 6.3 8.8 7.2 7.7 7.1 9 9.2 7.8 8.8 9.3 11.2 9.1 12.1 7.7 2.8 9 3 15.2 4.4 7.8-15.3 6.6-11.5 6.5-10.2 3.2-4.6 4.9-6.4 6.5-7.4 3.2-3.2 4.8-4.3 3.2-2.5 3.2-2.1 3.2-1.9 4.7-2.1 4.7-1.5 3.1-.6 3.1-.3 4.6.1 3 .5 3 .7 4.5 1.7 3 1.5 2.9 1.8 4.4 3.3 5.7 5.3-10.7-16.9-12-17.4-10.7-13.9-5.3-6.5-6.6-7.6-6.6-7-6.7-6.7-6.7-6.3-5.4-4.7-6.7-5.5-5.4-4.2-6.7-4.7-5.4-3.5-10.7-6.3-3.1-1.4-3-1.2-4.7-1.1-3.1-.4-3.1-.1-3.2.2-4.7.8-3.1 1-4.8 2-3.1 1.8-4.7 3.2-3.2 2.5z" fill="#05aebf"/><path d="M118 50.6l-6.3 7.2-4.8 6.2-6.2 9.3-4.7 7.8-6.2 11.5-6.2 12.7-6.1 13.8-4.5 11.1 8.6 5.2 7.4 5.3 8.8 7.1 7.7 7 9 9.1 7.8 8.6 7.9 9.4 8.6 11 8.3 3.2 9.5 3.2 9.3 2.9 9.3 2.5 8.2-15.5 6.5-11.1 6.5-9.9 3.3-4.5 4.8-6.1 6.5-7.2 3.2-3 4.8-4.1 3.2-2.3 3.2-2 3.2-1.7 4.7-1.9 4.7-1.3 4.6-.5 4.6.1 3 .5 3 .7 4.5 1.7 3 1.5 2.9 1.8 4.4 3.3 5.7 5.3-10.7-16.9-12-17.4-10.7-13.9-5.3-6.5-6.6-7.6-6.6-7-6.7-6.7-6.7-6.3-5.4-4.7-6.7-5.5-5.4-4.2-6.7-4.7-5.4-3.5-10.7-6.3-3.1-1.4-3-1.2-4.7-1.1-3.1-.4-3.1-.1-3.2.2-4.7.8-3.1 1-4.8 2-3.1 1.8-4.7 3.2-3.2 2.5z" fill="#07bfcd"/><path d="M118 50.6l-6.3 7.2-4.8 6.2-6.2 9.3-4.7 7.8-6.2 11.5-6.2 12.7-6.1 13.8-4.5 11.1 8.6 5.2 7.4 5.3 7.6 6 7.6 6.9 7.7 7.5 7.8 8.4 7.9 9.2 7.7 9.7 11.1 4.2 9.5 3.3 10.1 3.1 10.7 2.8 6.7-12.6 4.9-8.5 6.5-10.2 6.5-8.9 6.5-7.8 6.4-6.4 6.4-5.3 3.2-2.1 3.2-1.9 4.7-2.1 3.2-1.1 3.1-.8 3.1-.4 3-.2 3.1.2 3 .5 3 .7 3 1.1 3 1.4 2.9 1.6 3 2 2.9 2.2 5.7 5.3-10.7-16.9-12-17.4-10.7-13.9-5.3-6.5-6.6-7.6-6.6-7-6.7-6.7-6.7-6.3-5.4-4.7-6.7-5.5-5.4-4.2-6.7-4.7-5.4-3.5-10.7-6.3-3.1-1.4-3-1.2-4.7-1.1-3.1-.4-3.1-.1-3.2.2-4.7.8-3.1 1-4.8 2-3.1 1.8-4.7 3.2-3.2 2.5z" fill="#07cdd8"/><path d="M118.2 50.3l-5 5.6-6.3 8.1-4.7 6.9-6.2 10.2-6.2 11.5-6.2 12.7-6.1 13.8-4.5 11.1 7.4 4.4 7.4 5.2 7.5 5.9 6.4 5.5 7.6 7.3 7.8 8.1 7.9 8.9 6.7 8.2 12.2 4.9 11.3 3.9 10.3 3.2 12.6 3.2 5.3-9.7 6.5-11.1 6.5-9.9 6.5-8.7 4.9-5.7 6.4-6.4 6.4-5.3 3.2-2.1 3.2-1.9 4.7-2.1 3.2-1.1 3.1-.8 3.1-.4 3-.2 3.1.2 3 .5 3 .7 3 1.1 3 1.4 2.9 1.6 3 2 2.9 2.2 5.7 5.3-10.7-16.9-12-17.4-10.7-13.9-5.3-6.5-6.6-7.6-6.6-7-6.7-6.7-6.7-6.3-5.4-4.7-6.7-5.5-5.4-4.2-6.7-4.7-5.4-3.5-10.7-6.3-3.1-1.4-3-1.2-4.7-1.1-3.1-.4-3.1-.1-3.2.2-4.7.8-3.1 1-3.2 1.3-3.1 1.6-4.8 2.9-3.1 2.4-3.2 2.7z" fill="#04d8e0"/><path d="M119.5 49l-6.3 6.9-6.3 8.1-4.7 6.9-6.2 10.2-6.2 11.5-6.2 12.7-6.1 13.8-4.5 11.1 7.4 4.4 6.1 4.3 7.6 5.7 6.3 5.5 7.7 7.2 6.4 6.6 6.5 7.1 6.7 7.8 13.5 5.6 11.5 4.1 13.9 4.3 13 3.2 5.4-9.7 6.5-10.8 6.5-9.6 6.5-8.3 4.9-5.5 6.4-6.2 6.4-4.9 3.2-2 3.2-1.7 4.7-1.9 3.1-.9 3.1-.6 3.1-.3 3.1 0 3 .3 3 .6 4.5 1.5 3 1.4 2.9 1.6 3 2 2.9 2.2 5.7 5.3-10.7-16.9-12-17.4-10.7-13.9-5.3-6.5-6.6-7.6-10.5-11-6.7-6.4-6.9-6.2-6.7-5.6-5.4-4.2-6.7-4.8-5.4-3.6-9.2-5.5-4.3-2.3-3.1-1.3-4.6-1.4-3.1-.6-3.2-.2-3.1 0-4.7.7-3.1.8-4.8 1.8-3.1 1.6-4.8 2.9-3.1 2.4z" fill="#01e2e8"/><path d="M119.5 49l-6.3 6.9-6.3 8.1-4.7 6.9-6.2 10.2-6.2 11.5-6.2 12.7-6.1 13.8-4.5 11.1 6.1 3.7 6.2 4.1 6.2 4.6 6.3 5.2 6.4 5.8 6.4 6.2 6.5 6.8 6.3 7.2 14.3 6 14.3 5.2 13.9 4.3 8.2 2.2 7.1 1.6 5.4-9.6 6.6-10.5 4.8-7.1 6.5-8.3 4.9-5.5 6.4-6.2 6.4-4.9 3.2-2 3.2-1.7 4.7-1.9 3.1-.9 3.1-.6 3.1-.3 3.1 0 3 .3 3 .6 4.5 1.5 3 1.4 2.9 1.6 3 2 2.9 2.2 5.7 5.3-10.7-16.9-12-17.4-10.7-13.9-5.3-6.5-6.6-7.6-10.5-11-6.7-6.4-6.9-6.2-6.7-5.6-5.4-4.2-6.7-4.8-5.4-3.6-9.2-5.5-4.3-2.3-3.1-1.3-4.6-1.4-3.1-.6-3.2-.2-3.1 0-4.7.7-3.1.8-4.8 1.8-3.1 1.6-4.8 2.9-3.1 2.4z" fill="#06e7e8"/><path d="M119.5 49l-6.3 6.9-6.3 8.1-4.7 6.9-6.2 10.2-6.2 11.5-6.2 12.7-6.1 13.8-4.5 11.1 6.1 3.7 5 3.2 6.2 4.6 5 4 6.4 5.5 5.1 4.8 6.4 6.5 5.5 5.8 8.1 3.8 8.2 3.4 8.9 3.5 7.5 2.6 15.6 4.8 8.9 2.2 6.9 1.6 5.5-9.5 6.5-10.2 4.9-6.8 6.5-8 4.8-5.3 6.4-5.8 4.8-3.6 3.2-2 3.2-1.7 4.7-1.9 3.1-.9 3.1-.6 4.6-.4 3.1.2 3 .5 3 .7 3 1.1 3 1.4 2.9 1.6 4.4 3 6.1 5.3-.6-1.7-6.3-10-6.7-10-6.7-9.5-5.3-7.3-6.7-8.5-5.3-6.5-6.6-7.6-10.5-11-6.7-6.4-6.9-6.2-6.7-5.6-5.4-4.2-6.7-4.8-5.4-3.6-9.2-5.5-4.3-2.3-3.1-1.3-4.6-1.4-3.1-.6-3.2-.2-3.1 0-4.7.7-3.1.8-4.8 1.8-3.1 1.6-4.8 2.9-3.1 2.4z" fill="#11e6e1"/><path d="M121.1 47.4l-6.3 6.6-6.3 7.8-6.3 9.1-4.6 7.6-6.3 11.1-6.1 12.4-6.2 13.5-6 14.7 9.8 6.1 5 3.5 5 3.8 10.1 8.8 10.3 10.1 9.1 4.3 8.7 3.9 8.7 3.5 9.2 3.3 9.7 3.2 8.1 2.3 8.6 2.2 9.2 2 5.4-9.1 4.9-7.6 4.9-6.8 6.5-8 4.8-5.3 6.4-5.8 4.8-3.6 3.2-2 3.2-1.7 4.7-1.9 3.1-.9 3.1-.6 4.6-.4 3.1.2 3 .5 4.5 1.2 3 1.2 3 1.5 4.4 2.9 6.1 4.9-1.4-3.8-8.1-12.6-8-11.6-5.4-7.3-6.6-8.7-5.3-6.5-6.7-7.7-10.5-11.2-6.7-6.5-6.7-6.1-5.4-4.6-6.7-5.4-5.4-4-6.7-4.5-9.4-5.8-4.1-2.3-3.1-1.4-4.6-1.6-3.1-.7-3.1-.4-3.1-.1-4.7.4-3.2.6-4.7 1.6-3.2 1.4-4.7 2.8-3.1 2.2z" fill="#1ce5db"/><path d="M121.1 47.4l-6.3 6.6-6.3 7.8-6.3 9.1-4.6 7.6-6.3 11.1-6.1 12.4-6.2 13.5-6 14.7 8.6 5.2 8.7 6.3 7.5 6.1 8.7 8 9.4 4.8 9.7 4.5 10.1 4.2 9.9 3.8 10.9 3.7 9.7 2.8 8.9 2.3 11.1 2.3 5.3-8.7 4.9-7.3 4.9-6.6 6.5-7.8 4.8-4.9 4.8-4.3 4.8-3.6 3.2-2 3.2-1.7 4.7-1.9 4.7-1.3 4.6-.5 3.1 0 3 .3 4.5 1 3 1.1 3 1.4 4.4 2.5 6.1 4.7-2.1-6.1-5.9-9-6.7-9.7-5.3-7.4-6.7-8.8-6.6-8.2-6.7-7.7-10.5-11.2-6.7-6.5-6.7-6.1-5.4-4.6-6.7-5.4-5.4-4-6.7-4.5-9.4-5.8-4.1-2.3-3.1-1.4-4.6-1.6-3.1-.7-3.1-.4-3.1-.1-4.7.4-3.2.6-4.7 1.6-3.2 1.4-4.7 2.8-3.1 2.2z" fill="#2ee3cc"/><path d="M121.1 47.4l-6.3 6.6-6.3 7.8-6.3 9.1-4.6 7.6-6.3 11.1-6.1 12.4-6.2 13.5-6 14.7 6.1 3.7 6.2 4.1 6.2 4.6 5.6 4.6 10.8 6 10.7 5.4 11.4 5.2 12.1 4.8 11.4 3.9 12 3.6 11.2 2.8 11.3 2.2 5.2-8.1 4.8-7.1 4.9-6.4 4.9-5.7 4.8-4.9 4.8-4.3 4.8-3.6 3.2-2 3.2-1.7 4.7-1.9 4.7-1.3 4.6-.5 3.1 0 3 .3 4.5 1 4.5 1.7 4.4 2.4 6 4.2-1.2-4-1.7-4.3-6.2-9.3-6.7-9.5-6.6-9-6.7-8.5-7.9-9.4-5.3-5.9-6.6-6.8-5.4-5.3-6.7-6.2-5.4-4.6-6.7-5.5-6.7-5-6.7-4.5-9.4-5.8-4.1-2.3-3.1-1.4-4.6-1.6-3.1-.7-3.1-.4-3.1-.1-4.7.4-3.2.6-4.7 1.6-3.2 1.4-4.7 2.8-3.1 2.2z" fill="#45e1b9"/><path d="M122.7 46l-6.3 6.2-6.3 7.6-6.3 8.7-4.7 7.4-6.2 10.8-6.2 12.1-6.1 13.2-6.1 14.4-.7 1.8 5.8 4.3 6.2 4.3 11.8 7.4 12.9 7.1 12.5 6.1 13.4 5.7 13.8 5.1 12.7 3.9 12.8 3.3 6.6 1.3 7.6 1.4 4.9-7.6 4.9-6.8 4.8-6.1 4.9-5.5 4.8-4.7 4.8-4.1 4.8-3.3 4.8-2.7 4.7-1.9 4.7-1.3 4.6-.5 4.6.1 4.5.8 4.5 1.5 4.5 2.1 5.7 3.8-.6-2.8-1.3-3.9-1.6-3.9-1.2-1.8-6.7-9.7-8-11-8-10.2-7.9-9.4-5.3-5.9-6.6-6.8-5.4-5.3-6.7-6.2-5.4-4.6-6.7-5.5-5.4-4-6.7-4.7-9.4-5.9-5.4-3-3.1-1.4-4.6-1.6-3.1-.7-3.1-.4-3.1-.1-4.7.4-3.2.6-3.1 1-3.2 1.3-4.7 2.5-3.2 2-3.1 2.4z" fill="#6bd195"/><path d="M122.7 46l-6.3 6.2-6.3 7.6-6.3 8.7-4.7 7.4-6.2 10.8-6.2 12.1-6.1 13.2-5.7 13.5 5.8 4.4 6.1 4.2 11.9 7.4 13 7.1 12.5 6.1 13.5 5.7 14.6 5.2 14.2 4.2 13.3 3.1 12.1 2 4.5-6.7 4.9-6.6 4.9-5.9 4.8-5.3 3.2-3 4.8-4.1 4.8-3.3 4.8-2.7 4.7-1.9 4.7-1.3 4.6-.5 4.6.1 4.5.8 4.5 1.5 4.5 2.1 3.9 2.5-.5-2.8-1-3.7-2.7-6.5-6.7-9.7-6.7-9.1-6.7-8.5-7.9-9.6-5.3-5.9-6.6-7-6.7-6.6-5.4-5-6.7-5.8-5.4-4.4-6.7-5.1-6.7-4.7-9.4-5.9-5.4-3-3.1-1.4-4.6-1.6-3.1-.7-3.1-.4-3.1-.1-4.7.4-3.2.6-3.1 1-3.2 1.3-4.7 2.5-3.2 2-3.1 2.4z" fill="#9cb562"/><path d="M122.7 46l-6.3 6.2-4.7 5.6-6.3 8.4-4.7 7.1-4.7 7.8-6.2 11.5-6.2 12.7-6.1 13.8-1.6 3.9 10.8 7.6 11.8 7.5 12.8 7.1 14.1 6.7 13.6 5.7 14.8 5.2 14.3 4 13 2.9 12.8 2 4.1-5.8 4.9-6.4 3.3-3.8 4.8-5.3 3.2-3 4.8-4.1 4.8-3.3 4.8-2.7 3.1-1.3 4.7-1.5 4.7-.8 4.6-.1 4.5.6 4.5 1.2 4.5 2 3.6 1.9-.5-2.9-.9-4-1.5-4-2-4.5-5.6-7.8-6.6-9-5.4-6.8-6.6-8.1-5.3-6-6.6-7-6.7-6.7-6.7-6.3-6.7-5.8-5.4-4.4-6.7-5.1-6.7-4.7-9.4-5.9-5.4-3-3.1-1.4-4.6-1.6-3.1-.7-3.1-.4-3.1-.1-4.7.4-3.2.6-3.1 1-3.2 1.3-4.7 2.5-3.2 2-3.1 2.4z" fill="#b7a043"/><path d="M124.3 44.6l-6.3 6-4.8 5.2-4.7 6-4.7 6.7-4.7 7.4-4.7 8-4.6 8.7-4.6 9.4-8.2 18.3 8.3 6 6.3 4.2 6.6 4.1 12.8 7.1 14 6.7 14.3 6 14.1 4.9 14.2 4 6.9 1.7 7.9 1.6 7.4 1.1 6.3.8 5.2-6.9 3.2-4 3.3-3.8 4.8-4.9 3.2-3 4.8-3.8 3.2-2.1 4.8-2.7 3.1-1.3 4.7-1.5 3.1-.6 4.6-.4 3.1.2 4.5.8 4.5 1.5 4.6 2.1-.5-4.3-1.3-4.9-1.6-4.2-2.2-4.6-9.5-13-10.7-13.3-5.3-6.1-6.6-7.2-6.7-6.7-6.7-6.4-6.7-5.9-6.7-5.5-6.7-5.1-5.4-3.8-10.7-6.8-5.4-3-3.1-1.4-3-1.2-3.1-.8-3.2-.6-3.1-.2-4.7.2-3.1.5-3.1.8-3.2 1.1-4.7 2.3-3.2 1.9-3.2 2.2z" fill="#d89329"/><path d="M124.3 44.6l-6.3 6-4.8 5.2-4.7 6-4.7 6.7-4.7 7.4-4.7 8-4.6 8.7-4.6 9.4-7 15.6 8.3 6 6.3 4.2 6.6 4.1 12.8 7 14.1 6.8 8.4 3.5 6.9 2.7 7.5 2.6 7.7 2.5 14.7 3.9 6.7 1.4 7.2 1.3 5.4.8 7.7.8 7.7-9.5 3.2-3.6 4.8-4.7 6.4-5.3 3.2-2.1 4.8-2.7 3.1-1.3 4.7-1.5 3.1-.6 4.6-.4 3.1.2 4.5.8 3 .9 3.9 1.6-.2-4.2-.8-4.3-1.7-5.2-2.2-4.8-1.2-2.2-4.2-5.7-10.6-13.6-5.3-6.3-6.6-7.4-6.6-6.8-6.7-6.5-6.7-6.1-8.2-6.9-6.7-5.2-6.7-4.7-10.7-6.8-5.4-3-3.1-1.4-3-1.2-3.1-.8-3.2-.6-3.1-.2-4.7.2-3.1.5-3.1.8-3.2 1.1-4.7 2.3-3.2 1.9-3.2 2.2z" fill="#ff8c10"/><path d="M124.3 44.6l-4.8 4.4-4.7 5-4.7 5.8-4.7 6.4-3.2 4.7-4.6 7.6-4.7 8.2-4.7 9-4.6 9.6-4.3 9.6 7.1 5.2 6.2 4.2 6.6 4.1 12.8 7 14 6.8 13.6 5.5 14.9 5.2 14.3 3.9 12.2 2.6 7.3 1.1 6.8.8 6 .5 6.7-8 3.2-3.4 4.8-4.5 6.4-4.9 3.2-2 4.8-2.4 3.1-1.2 3.1-.9 3.1-.6 3.1-.3 3.1 0 3 .3 3 .6 4.6 1.5.1-4.6-.6-4-1-3.9-1.6-4.2-1.6-3.4-1.9-3.5-9.4-12.1-6.6-8.1-6.6-7.4-6.6-7-6.7-6.6-6.7-6.2-6.7-5.7-6.7-5.4-8.2-5.9-9.2-6-9.7-5.4-4.6-1.9-3.1-.8-3.1-.6-3.2-.2-4.7.2-3.1.5-3.1.8-3.2 1.1-4.7 2.3-3.2 1.9-3.2 2.2z" fill="#ff8b10"/><path d="M125.9 43.3l-4.8 4.1-3.1 3.2-6.3 7.2-4.8 6.2-3.1 4.5-6.2 10-4.7 8.2-4.7 9-7.7 16.5 3.5 2.7 11.1 7.5 12.3 7.2 13.5 6.9 13.1 5.7 14.3 5.3 13.8 4.2 13 3.1 7 1.3 7.6 1.1 6.2.6 8 .5 3.9-4.5 3.2-3.4 3.2-3 4.8-4.1 3.2-2.3 3.2-2 3.2-1.7 4.7-1.9 4.7-1.3 3.1-.4 3-.2 4.6.4 5 1.1.5-4.3-.2-3.3-.6-3.7-.9-3.1-1.9-5-1.8-3.5-2.1-3.7-2.4-3.1-6.6-8.3-6.6-7.8-6.6-7.3-6.6-6.7-8.2-7.8-6.7-5.9-6.7-5.5-8-6.1-9.5-6.3-10.7-6.3-3.1-1.4-3-1.2-3.1-.8-3.2-.6-4.6-.2-3.2.2-4.7.8-3.1 1-4.8 2-3.1 1.8-3.2 2z" fill="#ff920e"/><path d="M125.9 43.3l-4.8 4.1-3.1 3.2-6.3 7.2-6.3 8.4-6.3 9.7-4.7 8-4.6 8.7-4.6 9.4-3.5 7.5 2.3 1.8 11 7.6 12.2 7.2 13.4 6.8 13.1 5.8 13.8 5.1 14.2 4.3 13.1 3.1 11.9 2 9.9 1.1 10.5.3 5.5-5.7 4.8-4.3 4.8-3.6 3.2-2 3.2-1.7 4.7-1.9 3.1-.9 3.1-.6 3.1-.3 3.1 0 5.1.7.9-4 .1-3.2-.2-3.4-.7-3.7-1.2-4-1.8-4.1-1.9-3.5-2.4-4-5.9-7.4-6.6-7.8-6.6-7.3-6.6-6.7-8.2-7.8-6.7-5.9-6.7-5.5-6.7-5.1-10.8-7.3-10.7-6.3-3.1-1.4-3-1.2-3.1-.8-3.2-.6-4.6-.2-3.2.2-4.7.8-3.1 1-4.8 2-3.1 1.8-3.2 2z" fill="#ffa20a"/><path d="M125.9 43.3l-6.4 5.7-6.3 6.8-6.3 8.2-4.7 6.9-3.1 5-4.7 8-7.7 14.9-3.8 8 1.2 1 10.9 7.5 10.7 6.4 11.6 6.2 12.8 5.8 13.4 5.3 11.9 3.9 13 3.4 13.2 2.6 7.6 1.1 8 .7 6.6.2 6.9-.2 3.5-3.3 4.8-4.1 4.8-3.3 4.8-2.7 4.7-1.9 4.7-1.3 4.6-.5 4.7.1 1.4-3.7.6-3.3.1-4.5-.6-4.1-1.1-3.9-1.7-4.2-2.4-4.6-3.3-5.1-10.6-12.6-5.2-5.8-6.6-6.7-6.7-6.4-6.9-6.2-6.7-5.6-6.7-5.2-6.7-4.7-5.4-3.5-10.7-6.3-3.1-1.4-3-1.2-3.1-.8-3.1-.6-4.7-.2-3.2.2-4.7.8-3.1 1-4.8 2-3.1 1.8-3.2 2z" fill="#ffb207"/><path d="M127.4 42.1l-6.3 5.3-4.7 4.8-6.3 7.6-4.7 6.4-4.7 7.1-6.3 10.6-6.2 11.8-4 8.5 9.5 6.7 10.5 6.5 11.5 6.2 12.5 5.9 10.9 4.4 12.1 4.2 14.1 4 11.2 2.4 11.8 1.7 9.4.8 8.5.1 9.1-.7 3.7-3.1 3.2-2.3 3.2-2 3.2-1.7 3.1-1.3 4.7-1.5 3.1-.6 3.5-.4 2-3.4 1.1-2.7.9-4.4 0-3.3-.8-5.3-1.2-4-1.9-4.3-2.6-4.8-3.2-4.6-2.3-2.9-6.6-7.6-6.6-7-6.7-6.7-6.7-6.3-6.7-5.8-5.4-4.4-6.7-5.1-5.4-3.8-5.4-3.5-6.6-4-4.1-2.3-3.1-1.4-4.6-1.6-3.1-.7-4.7-.5-3.1 0-4.7.7-3.1.8-4.8 1.8-3.1 1.6-3.2 1.9z" fill="#ffc902"/><path d="M127.4 42.1l-6.3 5.3-4.7 4.8-4.7 5.6-4.8 6.2-6.2 9.3-4.7 7.8-6.2 11.5-4.3 8.9 9.5 6.7 9.2 5.6 11.4 6.2 10.9 5.2 11.6 4.8 12.9 4.5 10.9 3.2 12.7 2.8 10.9 1.8 6.6.6 5.5.3 8.8 0 5-.3 4.6-.6 6.3-1.4 3.1-1.9 3.2-1.7 3.1-1.3 4.4-1.5 2.5-2.1 1.9-2.2 1.9-3.1 1.4-3.3.6-3.6.1-4.2-.5-3.6-1.1-3.8-1.7-4.3-2.5-4.7-2.9-4.4-2.7-3.6-6-6.8-6.6-7-6.7-6.6-6.7-6.2-5.4-4.6-6.7-5.5-10.8-7.8-5.4-3.5-6.6-4-4.1-2.3-3.1-1.4-4.6-1.6-3.1-.7-4.7-.5-3.1 0-4.7.7-3.1.8-4.8 1.8-3.1 1.6-3.2 1.9z" fill="#ffdf00"/><path d="M127.4 42.1l-6.3 5.3-4.7 4.8-4.7 5.6-4.8 6.2-6.2 9.3-4.7 7.8-4.7 8.5-4.5 9.1 9.6 6.7 9.1 5.6 11.5 6.2 11.5 5.4 13 5.2 11.2 3.7 10.3 2.9 12.4 2.7 10.8 1.5 6.3.6 5.2.2 8.8-.1 4.8-.5 4.5-.6 6-1.5 3.6-1.2 3.2-1.4 2.9-1.6 2.6-1.8 2.2-2 1.9-2.2 2.1-3.6 1-2.8.7-3.9-.1-4-.6-3.6-1.2-4-1.9-4.3-2.5-4.4-2.9-4.3-3.7-4.6-9.9-10.5-5.4-5.3-6.7-6.2-6.7-5.7-6.7-5.4-10.8-7.7-10.7-6.6-4.1-2.3-3.1-1.4-4.6-1.6-3.1-.7-4.7-.5-3.1 0-4.7.7-3.1.8-4.8 1.8-3.1 1.6-3.2 1.9z" fill="#fff400"/><path d="M127.5 42.1l-6.4 5.3-4.7 4.8-4.7 5.6-4.8 6.2-4.7 6.9-4.6 7.6-4.7 8.2-4.7 9.2 9.5 6.7 10.6 6.4 10.1 5.4 11 5 10.2 4.1 11 3.8 12.1 3.4 11.1 2.4 6 1 6.5.8 9.5.6 9.3-.1 8.3-1 6-1.4 3.6-1.2 3.3-1.4 2.9-1.6 2.5-1.8 2.3-2 1.8-2.2 2.1-3.7.9-2.8.5-3 .1-3.2-.5-3.6-1.1-3.8-1.7-4.3-2.7-5-3-4.3-3.2-4.1-2.7-3.1-6.6-6.7-6.7-6.4-6.9-6.2-6.7-5.6-6.7-5.2-6.7-4.7-5.4-3.5-10.7-6.3-3.1-1.4-3-1.2-3.1-.8-3.1-.6-4.7-.2-3.2.2-3.1.5-3.1.8-4.8 1.8-3.1 1.6-3.2 1.9z" fill="#fdfd04"/><path d="M129 40.9l-3.1 2.4-3.2 2.7-4.7 4.6-4.8 5.3-4.7 5.9-4.7 6.7-4.7 7.4-4.7 8-4.8 9.2 9.6 6.7 9.2 5.6 10 5.4 11 5 10.1 4.1 11.1 3.8 9.9 2.8 12.5 2.8 10.7 1.6 9.4.7 8.9-.1 4.3-.3 4.6-.6 6.1-1.3 3.6-1.2 3.3-1.4 2.9-1.6 2.5-1.8 2.2-2 1.9-2.2 2-3.8.9-2.8.4-3-.1-3.3-.6-3.6-1.2-4-1.9-4.3-2.6-4.5-3-4.2-3.4-4.1-3.6-3.9-5.2-5.1-6.7-6.3-5.4-4.7-6.7-5.5-5.4-4.2-10.8-7.4-10.7-6.4-2.8-1.4-3.1-1.3-3.1-1-3.1-.7-4.7-.5-3.1 0-3.1.4-3.2.6-4.7 1.6-3.2 1.4-3.1 1.8z" fill="#f9f90e"/><path d="M129 40.9l-4.7 3.7-4.8 4.4-4.7 5-4.7 5.8-4.7 6.4-4.7 7.1-4.7 7.8-5 9.2 8.4 5.9 9.1 5.6 10 5.3 10.9 5.1 10.7 4.3 11.5 3.9 11 3 10.9 2.3 10.5 1.4 9.2.6 8-.2 4.9-.4 4.4-.7 5.8-1.5 3.5-1.3 3.1-1.4 4-2.7 2.1-2 1.8-2.2 1.6-2.7 1.2-3.9.3-3.1-.1-3.4-.8-3.6-1.4-4.1-1.8-3.8-1.9-3.1-3.1-4.5-3.3-4-3.2-3.5-4.5-4.4-6.7-6.2-5.4-4.6-5.4-4.4-6.7-5.1-10.8-7.3-10.7-6.3-3.1-1.4-3-1.2-4.7-1.1-4.7-.5-3.1 0-3.1.4-3.2.6-4.7 1.6-3.2 1.4-3.1 1.8z" fill="#f3f31b"/><path d="M129 40.9l-4.7 3.7-4.8 4.4-4.7 5-4.7 5.8-4.7 6.4-4.7 7.1-4.7 7.8-3.5 6.4 8.4 5.8 9.1 5.6 10.1 5.3 9.3 4.4 11.8 4.6 9.3 3.2 11.3 3.1 9.8 2 9.4 1.4 9.3.7 8.2 0 4.9-.4 4.4-.7 6-1.4 3.4-1.3 3.1-1.5 2.8-1.7 1.6-1.3 1.8-1.6 1.7-2.3 1.4-2.4.9-2.8.5-3 0-3.2-.6-3.6-1.2-3.9-2-4.2-1.9-3.4-3-4.2-2.8-3.4-3.2-3.5-3.7-3.7-5.5-5.1-6.7-5.7-5.4-4.4-6.7-5-9.5-6.3-10.7-6.3-3.1-1.4-3-1.2-3.1-.8-3.1-.6-4.7-.2-3.2.2-3.1.5-3.1.8-3.2 1.1-3.2 1.4-3.1 1.8z" fill="#eaea32"/><path d="M130.6 39.9l-4.7 3.4-4.8 4.1-4.7 4.8-4.7 5.6-4.8 6.2-4.7 6.9-4.6 7.6-3.5 6.2 8.3 5.8 7.9 4.7 9.9 5.4 9.3 4.3 10.1 4.1 11 3.7 10.1 2.7 9.8 2.1 10.6 1.5 9.1.6 8-.2 6.9-.8 6-1.4 5.1-2 2.9-1.5 2.6-1.8 3-3.2 1.5-2.4 1.1-2.6.7-2.9.1-3.2-.4-3.5-1-3.5-1.5-3.6-1.8-3.4-2.1-3.2-3.2-4.1-3.4-4-2.8-2.8-10.2-9.1-5.4-4.4-6.7-5.1-10.8-7.3-10.7-6.3-3.1-1.4-3-1.2-4.7-1.1-4.7-.5-3.1 0-3.1.4-3.2.6-3.1 1-3.2 1.3-3.1 1.6z" fill="#e1e146"/><path d="M130.6 39.9l-4.7 3.4-4.8 4.1-4.7 4.8-3.2 3.7-4.7 5.9-4.7 6.7-4.7 7.4-3.4 5.9 8.4 5.8 7.8 4.7 8.5 4.6 9.3 4.3 10.1 4.1 9.1 3.1 9.9 2.8 11 2.3 8 1.2 9.4.7 8.1-.1 7-.7 6-1.4 5.2-1.9 2.9-1.6 2.5-1.8 3-3.1 1.5-2.4 1-2.7.6-2.9 0-3.3-.6-3.5-.9-3-1.4-3.2-2.1-3.7-2.5-3.8-2.4-2.9-3.1-3.5-3.5-3.5-9.4-8.2-10.8-8.3-9.5-6.3-10.7-6.3-3.1-1.4-3-1.2-4.7-1.1-4.7-.5-3.1 0-3.1.4-3.2.6-3.1 1-3.2 1.3-3.1 1.6z" fill="#d9d959"/><path d="M130.6 39.9l-4.7 3.4-4.8 4.1-4.7 4.8-3.2 3.6-4.7 6-3.1 4.4-4.7 7.1-3.3 5.6 7.1 4.9 7.8 4.8 8.4 4.6 9.2 4.3 8.3 3.4 10.6 3.6 9.7 2.8 9.4 2 7.2 1.1 8.8.8 8.3 0 7.2-.7 6.1-1.3 5.1-1.9 3-1.5 2.5-1.8 2.1-2.1.8-1.1 1.5-2.4.9-2.7.4-3 0-2.9-.5-2.6-1.1-3.5-1.7-3.7-1.8-3.2-1.8-2.6-2.9-3.7-2.6-2.9-3.8-3.8-4.1-3.5-5.2-4.3-10.8-8-9.2-6-9.7-5.4-3.1-1.3-3.1-1-4.6-1-3.2-.2-3.1 0-3.1.4-3.2.6-3.1 1-3.2 1.3-3.1 1.6z" fill="#cece70"/><path d="M132.2 38.9l-4.8 3.2-4.7 3.9-4.7 4.6-3.2 3.4-4.7 5.8-3.2 4.2-4.7 6.9-3.1 5 7.1 5 7.8 4.7 8.6 4.6 7.7 3.6 8.3 3.3 10.3 3.6 9.7 2.6 8.2 1.8 9.1 1.3 7.6.6 8.1-.1 6.9-.9 5.8-1.4 4.9-2.1 3.9-2.6 2.1-2 .8-1.2 1.4-2.4.7-2.2.4-2.1 0-3.2-.6-3.1-.7-2.5-1.5-3.5-1.8-3.2-4-5.4-2.8-3.2-3.6-3.7-7.2-6.2-10.8-8-8-5.2-9.4-5.5-3.1-1.4-3-1.2-4.7-1.1-3.1-.4-3.1-.1-3.2.2-3.1.5-3.1.8-3.2 1.1-3.2 1.4z" fill="#c0c08f"/><path d="M132.2 38.9l-4.7 3.2-3.2 2.5-4.8 4.4-3.1 3.2-4.7 5.6-3.2 4-4.7 6.7-2.8 4.5 7.1 4.9 7.8 4.7 8.6 4.5 7.8 3.6 8.4 3.3 8.1 2.7 9.6 2.6 8.2 1.7 7.5 1.1 8.8.6 6.6-.2 5.8-.7 5.9-1.4 4.9-2 2.2-1.3 1.7-1.3 1.6-1.6 1.2-1.6 1.3-2.5.8-2.8.2-3.1-.2-1.8-.8-3.4-.9-2.3-1.1-2.4-1.9-3.3-2.3-3.1-2.4-3-5.6-5.6-7.3-6.1-9.7-7-9.4-5.9-6.9-3.7-3.1-1.3-3.1-1-4.6-1-3.2-.2-3.1 0-3.1.4-3.2.6-3.1 1-3.2 1.3z" fill="#b1b1ae"/><path d="M132.2 38.9l-4.7 3.2-3.2 2.5-6.3 6-4.8 5.2-3.1 4-4.7 6.4-2.5 3.7 7.1 5 6.5 3.9 8.6 4.5 7.7 3.5 8.4 3.3 7.3 2.5 9.5 2.5 8.1 1.7 7 .9 9 .5 6.1-.2 5.9-.8 3.9-1 4.9-2 1.4-.8 2.5-1.8 1-1 1.7-2.3 1.2-2.5.5-2.1.2-2.4-.3-3.2-.7-2.5-1.4-3.5-3.1-5.1-2.2-2.9-2.8-3.2-5.9-5.7-6.5-5.1-9.7-6.5-7.9-4.7-5.9-3-3-1.2-3.1-.8-4.7-.7-3.1-.1-3.2.2-4.7.8-3.1 1-3.2 1.3z" fill="#b8a3a3"/><path d="M133.8 38l-4.8 2.9-3.1 2.4-6.4 5.7-4.7 5-3.1 3.8-3.2 4-3.5 5.1 7.1 4.9 6.5 3.9 7.1 3.8 7.8 3.5 6.6 2.6 7.7 2.6 9.5 2.6 6.6 1.3 8.4 1.2 6 .3 5.4 0 6.9-.8 3.9-.9 5-2 2.7-1.7 2.1-2 .9-1.1.9-1.4 1-2.3.4-2.5 0-2.1-.5-3.2-.8-2.4-2.2-4.4-1.7-2.6-2.2-2.8-5.2-5.6-6.2-5.3-6.8-5-8.4-5.2-6.9-3.7-4.6-1.9-4.7-1.1-3.1-.4-3.1-.1-3.2.2-3.1.5-3.1.8-3.2 1.1z" fill="#c09496"/><path d="M133.8 38l-4.8 2.9-3.1 2.4-6.4 5.7-6.3 6.9-6 7.9 5.8 4.1 6.5 3.9 7 3.8 6.9 3.1 7.3 2.9 7.5 2.5 8 2.1 6.6 1.4 7.4 1 5.7.3 6.4-.1 4.6-.5 4-.9 1.8-.6 3.2-1.3 1.4-.8 2.2-1.8 2-2.2 1-1.8.7-2.1.2-1.5 0-2.4-.5-2.6-.6-2-.9-2.2-1.5-2.6-3.8-5.1-2.6-2.9-2.9-2.8-6.3-5.2-7-4.8-6.4-3.8-5.9-3-4.6-1.6-4.7-1-3.1-.2-3.1 0-4.7.7-3.1.8-3.2 1.1z" fill="#cc767b"/><path d="M133.8 38l-3.2 1.9-3.2 2.2-6.3 5.3-6.3 6.6-5.3 6.6 5.9 4.1 5.1 3.1 7 3.8 6.1 2.8 6.6 2.6 7.2 2.5 7.6 2 7 1.4 7.7 1 5.7.2 5.2-.2 4.4-.7 3.8-1 1.7-.6 2.9-1.5 2.3-1.9 1.8-2.2.6-1.2.7-2.1.2-2.2-.1-1.7-.3-1.8-.7-2.2-1-2.2-1.9-3.3-3.4-4.2-5.4-5.3-6.4-5.2-7.2-4.7-6-3.3-4.6-1.9-4.7-1.1-4.7-.5-4.7.2-4.7.8-4.7 1.6z" fill="#dc5159"/><path d="M135.3 37.1l-3.1 1.8-3.2 2-4.7 3.7-6.3 6-5.9 6.7 4.6 3.3 6.4 4 5.6 2.9 6.9 3.2 7.1 2.7 5.6 1.8 6.5 1.6 6.4 1.3 6.7.8 5.7.1 4.9-.3 4.2-.8 3.5-1.1 3-1.5 2.3-1.9 1.6-2.2.6-1.3.4-1.5.1-1.5-.2-2.6-1.1-3.6-2.4-4.3-1.5-2.1-2.6-2.9-4.4-4.2-5.9-4.5-6-3.9-5.2-3-2.9-1.1-4.7-1.1-4.7-.5-4.7.2-4.7.8-4.7 1.6z" fill="#e63036"/><path d="M135.3 37.1l-3.1 1.8-3.2 2-4.7 3.7-4.8 4.4-4.5 4.9 4.6 3.3 5 3.2 4.7 2.5 5.4 2.6 4.9 2 5.7 2 5.2 1.5 6.3 1.4 5.5.8 4.6.4 4.2.1 4.8-.5 4-.8 3.2-1.3 2.6-1.7 1.9-2.1 1.1-2.6.2-1.5 0-1.7-.3-1.7-.6-1.9-1-2.2-1.5-2.4-3-3.7-4.8-4.6-5.5-4.2-6.1-3.8-4-2.2-1.7-.5-4.7-1-4.6-.2-4.7.4-3.2.6-4.7 1.6z" fill="#f30d1a"/><path d="M135.3 37.1l-4.7 2.8-4.7 3.4-4.8 4.1-2.9 3 3.4 2.5 5 3.2 4 2.2 4.5 2.1 4.8 2 5.2 1.9 5.7 1.6 4.8 1 4.2.6 5.6.4 3.4-.1 3.8-.4 3.7-1 3-1.5 2.1-2 .7-1.1.6-1.3.2-1.5 0-1.6-.3-1.8-.7-2-.9-1.6-2.3-3.4-3.3-3.5-4.1-3.5-4.6-3.3-6.5-3.7-1.3-.7-3.2-.6-4.6-.2-3.2.2-3.1.5-3.1.8-3.2 1.1z" fill="#ff0000"/><path d="M136.9 36.4l-4.7 2.5-3.2 2-3.1 2.4-3.8 3.3 3.3 2.5 3.7 2.4 7 3.7 3.9 1.6 4.3 1.6 7.8 2.1 2.8.5 4.4.5 4.6 0 2.3-.2 2.1-.3 3.4-1.2 1.4-.8 1.1-1 .8-1.1.6-1.3.3-1.4-.2-2.2-.4-1.3-1-2.1-1.9-2.8-3-3.1-3-2.6-4.7-3.2-3.9-2.2-2.8-1.5-2.4-.1-3.1 0-3.1.4-3.2.6-3.1 1z" fill="#ff0000"/><path d="M136.9 36.4l-4.7 2.5-4.9 3.4 4.3 3.4 5.2 3 5.1 2.3 6.8 2 3 .6 3.3.4 2.7 0 2.4-.2 2-.4 1.6-.6 1.3-.9 1-1 .5-1.3.2-1.5-.5-1.8-1.4-2.6-2.5-2.8-2.1-1.8-3.4-2.4-4-2.2-2.9-1.4-2 .2-3.1.5-3.1.8z" fill="#ff0000"/><path d="M163.8 229.6l-10.8-16.7-5.4-7.9-6.7-9.3-5.3-7.1-6.6-8.3-5.3-6.3-6.5-7.4-5.2-5.5-5.2-5.1-5.1-4.8-6.3-5.6-5.1-4-6.2-4.5-4.9-3.3-6.1-3.6M163.8 229.6l8.1-18.1 6.5-13.2 6.5-12 6.6-10.8 6.5-9.6 3.2-4.4 4.9-5.9 3.3-3.5 3.2-3.3 3.2-2.9 4.8-3.8 3.2-2.2 3.2-1.8 3.1-1.6 3.2-1.2 3.1-.9 3.1-.6 3.1-.3 4.6.1 3 .5 3.1.8 3 1 4.4 2.2 2.9 1.8 2.9 2.1 2.9 2.4 4.3 4M169.5 216.7l-10.9-16.8-5.4-7.8-6.7-9.4-5.3-7-6.7-8.4-5.3-6.3-6.5-7.4-5.2-5.5-5.2-5.1-5.2-4.8-6.3-5.5-5.1-4-6.3-4.6-4.9-3.2-6.2-3.6M159 222.1l8.1-18.1 6.5-13.3 6.6-12 6.5-10.8 6.5-9.6 3.2-4.3 4.9-6 3.2-3.5 3.3-3.3 3.2-2.9 4.8-3.8 3.2-2.2 3.2-1.8 3.1-1.6 3.2-1.2 3.1-.9 3.1-.6 3.1-.3 4.6.2 3.1.4 3 .8 3 1.1 4.5 2.1 2.9 1.8 2.9 2.1 2.9 2.4 4.3 4.1M175.2 204.7l-10.9-16.8-5.4-7.9-6.8-9.3-5.3-7.1-6.7-8.4-5.3-6.3-6.6-7.3-5.2-5.5-5.2-5.2-5.2-4.8-6.4-5.5-5.1-4-6.3-4.5-4.9-3.3-6.2-3.5M154.3 214.9l8.1-18.2 6.5-13.2 6.5-12.1 6.5-10.8 6.5-9.6 3.2-4.3 4.9-6 3.2-3.5 3.3-3.3 3.2-2.9 4.8-3.8 3.2-2.2 3.2-1.8 3.1-1.6 3.2-1.2 3.1-.9 3.1-.6 3.1-.3 4.7.1 3 .5 3.1.8 3 1.1 4.4 2.1 3 1.8 2.9 2.1 2.9 2.4 4.3 4.1M180.9 193.6l-10.9-16.8-5.5-7.9-6.7-9.4-5.4-7.1-6.7-8.3-5.3-6.3-6.6-7.4-5.3-5.5-5.2-5.2-5.2-4.8-6.4-5.5-5.1-4-6.3-4.5-5-3.2-6.2-3.5M149.6 207.9l8.1-18.2 6.4-13.2 6.5-12.1 6.5-10.8 6.5-9.6 3.3-4.4 4.8-5.9 3.3-3.6 3.2-3.2 3.2-3 4.8-3.8 3.2-2.2 3.2-1.8 3.2-1.5 3.1-1.3 3.2-.9 3.1-.6 3.1-.3 4.6.2 3.1.5 3 .7 3 1.1 4.5 2.2 3 1.8 2.9 2.1 2.9 2.4 4.3 4.1M186.6 183.5l-11-16.9-5.4-7.9-6.8-9.4-5.3-7.1-6.8-8.4-5.3-6.3-6.6-7.4-5.3-5.5-5.2-5.1-5.2-4.8-6.5-5.5-5.1-4-6.3-4.5-5.1-3.2-6.2-3.6M144.9 201.2l8-18.2 6.5-13.2 6.5-12.1 6.5-10.9 6.5-9.6 3.2-4.3 4.9-6 3.2-3.5 3.2-3.3 3.2-2.9 4.8-3.9 3.2-2.1 3.2-1.9 3.2-1.5 3.1-1.2 3.2-.9 3.1-.6 3.1-.3 4.7.1 3 .5 3.1.8 3 1 4.5 2.2 3 1.8 2.9 2.1 2.9 2.4 4.4 4.1M192.3 174.2l-11-16.9-5.4-7.9-6.8-9.4-5.4-7.1-6.7-8.4-5.4-6.3-6.6-7.4-5.3-5.5-5.2-5.2-5.3-4.7-6.4-5.5-5.2-4-6.3-4.5-5.1-3.3-6.3-3.5M140.2 194.8l8-18.2 6.5-13.3 6.4-12.1 6.5-10.8 6.5-9.7 3.2-4.3 4.9-6 3.2-3.5 3.2-3.3 3.3-2.9 4.8-3.9 3.2-2.1 3.2-1.9 3.1-1.5 3.2-1.2 3.1-1 3.2-.6 3.1-.2 4.6.1 3.1.5 3 .7 3.1 1.1 4.5 2.2 3 1.8 2.9 2.1 2.9 2.4 4.4 4.1M198 165.9l-11-16.9-5.4-8-6.8-9.4-5.4-7.1-6.8-8.4-5.3-6.3-6.7-7.4-5.3-5.5-5.3-5.1-5.2-4.8-6.5-5.5-5.1-4-6.4-4.5-5.1-3.2-6.3-3.6M135.6 188.6l8-18.2 6.4-13.3 6.4-12.1 6.5-10.8 6.5-9.7 3.2-4.3 4.9-6 3.2-3.6 3.2-3.2 3.2-3 4.8-3.8 3.2-2.2 3.2-1.8 3.2-1.6 3.1-1.2 3.2-.9 3.1-.6 3.1-.3 4.7.2 3.1.4 3 .8 3.1 1.1 4.5 2.2 3 1.8 2.9 2.1 3 2.4 4.3 4.1M203.7 158.5l-11-16.9-5.4-8-6.9-9.4-5.4-7.1-6.7-8.4-5.4-6.3-6.7-7.4-5.3-5.5-5.2-5.2-5.3-4.8-6.5-5.5-5.2-4-6.4-4.5-5.1-3.2-6.3-3.5M130.9 182.7l8-18.2 6.4-13.3 6.4-12.1 6.5-10.9 6.5-9.6 3.2-4.4 4.8-5.9 3.2-3.6 3.3-3.3 3.2-2.9 4.8-3.9 3.2-2.1 3.2-1.9 3.1-1.5 3.2-1.2 3.1-1 3.2-.6 3.1-.3 4.7.2 3 .5 3.1.7 3 1.1 4.6 2.2 3 1.8 2.9 2.1 3 2.4 4.4 4.1M209.4 152.1l-11-17-5.5-7.9-6.8-9.4-5.4-7.2-6.8-8.4-5.4-6.3-6.6-7.4-5.4-5.5-5.2-5.2-5.3-4.8-6.5-5.5-5.2-4-6.4-4.5-5.1-3.2-6.4-3.5M126.3 177.1l8-18.3 6.3-13.3 6.5-12 6.4-10.9 6.5-9.7 3.2-4.3 4.8-6 3.2-3.6 3.2-3.2 3.3-3 4.8-3.8 3.2-2.2 3.1-1.9 3.2-1.5 3.2-1.2 3.1-.9 3.2-.7 3.1-.2 4.7.1 3 .5 3.1.7 3.1 1.1 4.5 2.2 3 1.8 3 2.1 2.9 2.4 4.4 4.1M215 146.6l-11-17-5.4-7.9-6.9-9.4-5.4-7.2-6.8-8.4-5.3-6.3-6.7-7.4-5.4-5.5-5.2-5.2-5.3-4.8-6.6-5.5-5.2-4-6.4-4.5-5.1-3.2-6.3-3.6M121.7 171.7l7.9-18.2 6.4-13.3 6.4-12.1 6.4-10.9 6.5-9.7 3.2-4.3 4.8-6 3.2-3.6 3.2-3.2 3.3-3 4.8-3.8 3.2-2.2 3.1-1.9 3.2-1.5 3.2-1.2 3.1-1 3.2-.6 3.1-.3 4.7.2 3 .4 3.1.8 3.1 1.1 4.5 2.1 3 1.9 3 2.1 3 2.4 4.4 4.1M220.6 142.1l-11-17-5.4-7.9-6.8-9.5-5.5-7.1-6.7-8.4-5.4-6.4-6.7-7.4-5.4-5.5-5.3-5.2-5.2-4.8-6.6-5.5-5.2-4-6.4-4.5-5.2-3.2-6.3-3.6M117.2 166.6l7.8-18.2 6.4-13.3 6.4-12.1 6.4-10.9 6.4-9.7 3.2-4.3 4.8-6 3.3-3.6 3.2-3.3 3.2-2.9 4.8-3.9 3.2-2.2 3.1-1.8 3.2-1.6 3.2-1.2 3.1-.9 3.2-.6 3.1-.3 4.7.1 3.1.5 3 .7 3.1 1.1 4.6 2.2 3 1.8 3 2.1 2.9 2.4 4.4 4.1M226.2 138.5l-11-17-5.5-7.9-6.8-9.4-5.4-7.2-6.8-8.4-5.3-6.4-6.7-7.4-5.4-5.5-5.3-5.2-5.3-4.8-6.5-5.5-5.2-4-6.5-4.6-5.1-3.2-6.4-3.5M112.6 161.8l7.9-18.3 6.3-13.3 6.4-12.1 6.4-10.9 6.4-9.6 3.2-4.4 4.8-6 3.2-3.5 3.2-3.3 3.2-3 4.8-3.8 3.2-2.2 3.2-1.9 3.2-1.5 3.1-1.3 3.2-.9 3.1-.6 3.1-.3 4.7.1 3.1.5 3.1.8 3.1 1 4.5 2.2 3 1.8 3 2.1 3 2.4 4.4 4.1M231.7 135.9l-10.9-17-5.5-7.9-6.8-9.5-5.4-7.1-6.8-8.4-5.4-6.4-6.7-7.4-5.3-5.5-5.3-5.2-5.3-4.9-6.6-5.5-5.2-4-6.5-4.5-5.1-3.3-6.4-3.5M108.1 157.2l7.8-18.2 6.3-13.3 6.4-12.1 6.4-10.9 6.4-9.7 3.2-4.4 4.8-5.9 3.2-3.6 3.2-3.3 3.2-3 4.8-3.8 3.1-2.2 3.2-1.9 3.2-1.5 3.2-1.2 3.1-1 3.2-.6 3.1-.3 4.7.1 3.1.5 3.1.7 3 1.1 4.6 2.1 3 1.9 3 2 3 2.4 4.4 4.1M237.2 134.2l-11-16.9-5.4-8-6.8-9.4-5.4-7.2-6.8-8.4-5.4-6.4-6.7-7.4-5.3-5.5-5.3-5.2-5.3-4.9-6.6-5.5-5.2-4-6.5-4.6-5.1-3.2-6.4-3.6M103.6 152.9l7.8-18.2 6.3-13.3 6.3-12.1 6.4-10.9 6.4-9.7 6.4-8.4 3.2-3.8 3.2-3.4 3.2-3.1 4.7-4.1 3.2-2.4 3.2-2 3.2-1.7 3.2-1.4 3.1-1.1 3.2-.7 3.1-.5 4.7-.1 3.1.3 3.1.6 3.1.9 4.6 1.9 3 1.7 3 1.9 3 2.2 4.5 3.9M242.6 133.5l-10.9-16.9-5.5-8-6.7-9.4-5.5-7.2-6.7-8.4-5.4-6.4-6.7-7.4-5.3-5.6-5.3-5.2-5.3-4.8-6.6-5.6-5.2-4-6.5-4.6-5.1-3.2-6.4-3.6M99.2 148.9l7.7-18.3 6.3-13.2 6.3-12.1 6.3-10.9 6.4-9.7 6.4-8.4 3.2-3.8 3.2-3.4 3.2-3.1 4.7-4.1 3.2-2.4 3.2-2 3.2-1.7 3.1-1.4 3.2-1.1 3.2-.8 3.1-.5 4.7-.1 3.1.3 3.1.6 3.1.9 3 1.2 3.1 1.5 3 1.8 3 2.1 4.5 3.6M248 133.7l-10.9-16.9-5.5-8-6.7-9.4-5.4-7.2-6.8-8.4-5.4-6.4-6.6-7.4-5.4-5.6-5.3-5.2-5.3-4.8-6.5-5.6-5.2-4-6.5-4.6-5.2-3.3-6.3-3.6M94.7 145.1l7.8-18.2 6.2-13.3 6.3-12.1 6.3-10.9 6.4-9.6 6.3-8.5 3.2-3.7 3.2-3.5 3.2-3.1 3.2-2.8 3.2-2.5 3.1-2.2 3.2-1.9 3.2-1.5 3.1-1.3 3.2-.9 3.1-.7 4.7-.3 3.2.1 3.1.5 3.1.7 3 1 3.1 1.4 3 1.6 3.1 2 4.5 3.4M253.3 134.9l-10.9-17-5.4-7.9-6.8-9.4-5.4-7.2-6.7-8.4-5.4-6.4-6.7-7.5-5.3-5.5-5.3-5.2-5.2-4.9-6.6-5.6-5.2-4-6.5-4.6-5.1-3.3-6.4-3.7M90.3 141.6l7.7-18.2 6.3-13.3 6.2-12.1 6.3-10.9 6.4-9.6 6.3-8.5 3.2-3.7 3.2-3.5 3.2-3.1 3.1-2.8 3.2-2.5 3.2-2.2 3.2-1.9 3.1-1.5 3.2-1.3 3.1-.9 3.2-.7 3.1-.3 3.1 0 3.1.3 3.1.5 3.1.9 3.1 1.2 3.1 1.5 3 1.8 4.5 3.2M258.5 136.9l-10.8-16.9-5.5-7.9-6.7-9.5-5.4-7.1-6.7-8.5-5.3-6.3-6.7-7.5-5.3-5.6-5.3-5.2-5.3-4.9-6.5-5.6-5.2-4-6.5-4.7-5.1-3.3-6.4-3.6M86 138.4l6.1-14.7 6.2-13.6 6.2-12.4 6.3-11.2 6.3-9.9 6.3-8.8 3.2-3.9 3.2-3.6 3.2-3.3 3.1-2.9 3.2-2.7 3.2-2.4 3.1-2 3.2-1.7 3.2-1.4 3.1-1.1 3.2-.8 3.1-.5 3.1-.2 3.2.1 3.1.4 3.1.8 3 1 3.1 1.3 3.1 1.7 4.5 2.9M263.6 139.9l-10.8-16.9-10.7-15.5-5.4-7.3-5.4-6.9-5.3-6.5-6.7-7.7-5.3-5.7-5.3-5.4-5.2-5.1-5.3-4.7-5.2-4.4-5.2-4-5.2-3.7-6.4-4.1M81.6 135.4l6.1-14.7 6.2-13.6 6.2-12.3 6.3-11.2 6.3-10 6.3-8.7 3.1-3.9 3.2-3.6 3.2-3.3 3.1-3 3.2-2.7 3.2-2.3 3.1-2.1 3.2-1.7 3.2-1.4 3.1-1.1 3.2-.8 3.1-.5 3.1-.2 3.1.1 3.1.4 3.1.8 3.1 1 3.1 1.3 3 1.6 3.1 1.9M268.7 143.7l-8.1-12.8-9.4-13.9-9.3-12.9-9.4-11.8-8-9.3-9.2-9.9-9.2-8.8-9.1-7.7M77.3 132.7l6.1-14.7 6.1-13.6 6.2-12.3 6.3-11.2 4.7-7.6 6.3-9 6.3-7.8 3.1-3.5 3.2-3.1 3.2-2.8 3.1-2.6 3.2-2.2 3.1-1.8 3.2-1.6 3.2-1.3 3.1-1 3.1-.6 3.2-.4 3.1 0 3.1.3 3.1.5 3.1.9 3.1 1.1 3 1.5 3.1 1.8M273.7 148.4l-6.7-10.6-6.7-10.2-6.7-9.6-8-10.9-6.6-8.4-6.7-8-6.6-7.3-7.9-8.2M73.1 130.2l6-14.7 6.1-13.5 6.2-12.3 6.2-11.2 4.7-7.6 6.3-9 6.3-7.9 3.1-3.4 3.2-3.1 4.7-4.2 3.2-2.3 3.1-2.1 3.2-1.7 3.1-1.4 3.2-1.2 3.1-.8 3.1-.5 3.2-.2 3.1.1 3.1.4 3.1.7 3.1 1 3 1.3 3.1 1.6" fill="none" stroke="#0a0a0a" stroke-width="0.75" stroke-linejoin="round" stroke-linecap="round"/>
<circle cx="174.6" cy="38.3" r="3.1" fill="#c63e3a" opacity="1"/><path d="M221.8 59.1L221.8 87" stroke="#4a5478" stroke-width="0.9" stroke-dasharray="1 1.1" fill="none" opacity="1"/><circle cx="221.8" cy="59.1" r="3.1" fill="#c63e3a" opacity="1"/><circle cx="221.3" cy="79.4" r="3.1" fill="#c63e3a" opacity="1"/><circle cx="221.3" cy="87.3" r="3.1" fill="#c63e3a" opacity="1"/><path d="M170.3 123.6L170.3 133" stroke="#4a5478" stroke-width="0.9" stroke-dasharray="1 1.1" fill="none" opacity="1"/><circle cx="170.3" cy="123.6" r="3.1" fill="#c63e3a" opacity="1"/><circle cx="220.1" cy="121.5" r="3.1" fill="#c63e3a" opacity="1"/><path d="M120.6 127L120.6 142" stroke="#4a5478" stroke-width="0.9" stroke-dasharray="1 1.1" fill="none" opacity="1"/><circle cx="120.6" cy="127" r="3.1" fill="#c63e3a" opacity="1"/>
<text transform="matrix(1.000 -0.421 -0.200 1.000 65.2 162.9)" font-size="10.3" text-anchor="end">0</text><text transform="matrix(1.000 -0.421 -0.200 1.000 64.7 148)" font-size="10.3" text-anchor="end">20</text><text transform="matrix(1.000 -0.421 -0.200 1.000 64.1 132.9)" font-size="10.3" text-anchor="end">40</text><text transform="matrix(1.000 -0.421 -0.200 1.000 63.5 117.7)" font-size="10.3" text-anchor="end">60</text><text transform="matrix(1.000 -0.421 -0.200 1.000 62.9 102.3)" font-size="10.3" text-anchor="end">80</text><text transform="matrix(1.000 -0.421 -0.200 1.000 62.3 86.7)" font-size="10.3" text-anchor="end">100</text><text transform="matrix(1.000 -0.421 -0.200 1.000 61.7 71)" font-size="10.3" text-anchor="end">120</text><text transform="matrix(1.000 -0.421 -0.200 1.000 61.1 55)" font-size="10.3" text-anchor="end">140</text><text transform="matrix(0.826 -0.405 0.751 0.531 157.5 237.3)" font-size="10.3" text-anchor="end">0.0</text><text transform="matrix(0.826 -0.405 0.751 0.531 145.8 229)" font-size="10.3" text-anchor="end">0.5</text><text transform="matrix(0.826 -0.405 0.751 0.531 134.2 220.9)" font-size="10.3" text-anchor="end">1.0</text><text transform="matrix(0.826 -0.405 0.751 0.531 122.8 212.8)" font-size="10.3" text-anchor="end">1.5</text><text transform="matrix(0.826 -0.405 0.751 0.531 111.6 204.9)" font-size="10.3" text-anchor="end">2.0</text><text transform="matrix(0.826 -0.405 0.751 0.531 100.5 197)" font-size="10.3" text-anchor="end">2.5</text><text transform="matrix(0.826 -0.405 0.751 0.531 89.6 189.3)" font-size="10.3" text-anchor="end">3.0</text><text transform="matrix(0.826 -0.405 0.751 0.531 78.8 181.7)" font-size="10.3" text-anchor="end">3.5</text><text transform="matrix(0.826 -0.405 0.751 0.531 68.2 174.2)" font-size="10.3" text-anchor="end">4.0</text><text transform="matrix(0.751 0.531 -0.826 0.405 167.8 237.4)" font-size="10.3" text-anchor="start">4</text><text transform="matrix(0.751 0.531 -0.826 0.405 178.1 232.3)" font-size="10.3" text-anchor="start">6</text><text transform="matrix(0.751 0.531 -0.826 0.405 188.3 227.3)" font-size="10.3" text-anchor="start">8</text><text transform="matrix(0.751 0.531 -0.826 0.405 198.5 222.3)" font-size="10.3" text-anchor="start">10</text><text transform="matrix(0.751 0.531 -0.826 0.405 208.5 217.4)" font-size="10.3" text-anchor="start">12</text><text transform="matrix(0.751 0.531 -0.826 0.405 218.5 212.5)" font-size="10.3" text-anchor="start">14</text><text transform="matrix(0.751 0.531 -0.826 0.405 228.4 207.7)" font-size="10.3" text-anchor="start">16</text><text transform="matrix(0.751 0.531 -0.826 0.405 238.2 202.9)" font-size="10.3" text-anchor="start">18</text><text transform="matrix(0.751 0.531 -0.826 0.405 247.9 198.1)" font-size="10.3" text-anchor="start">20</text><text transform="matrix(0.751 0.531 -0.826 0.405 257.5 193.4)" font-size="10.3" text-anchor="start">22</text><text transform="matrix(0.751 0.531 -0.826 0.405 267.1 188.7)" font-size="10.3" text-anchor="start">24</text><text transform="matrix(0.751 0.531 -0.826 0.405 276.5 184.1)" font-size="10.3" text-anchor="start">26</text><path d="M74.5 167.9L69.9 47.1M74 155l-3.7 1.6M73.9 152l-2 0.9M73.8 149l-2 0.9M73.7 146.1l-2 0.9M73.5 143.1l-2 0.9M73.4 140.1l-3.7 1.6M73.3 137.1l-2 0.9M73.2 134.1l-2 0.9M73.1 131.1l-2 0.9M73 128.1l-2 0.9M72.9 125.1l-3.7 1.6M72.7 122l-2 0.9M72.6 119l-2 0.9M72.5 115.9l-2 0.9M72.4 112.9l-2 0.9M72.3 109.8l-3.7 1.6M72.2 106.8l-2 0.9M72 103.7l-2 0.9M71.9 100.6l-2 0.9M71.8 97.5l-2 0.9M71.7 94.4l-3.7 1.6M71.6 91.3l-2 0.9M71.4 88.2l-2 0.9M71.3 85.1l-2 0.9M71.2 82l-2 0.9M71.1 78.9l-3.7 1.6M71 75.7l-2 0.9M70.8 72.6l-2 0.9M70.7 69.4l-2 0.9M70.6 66.3l-2 0.9M70.5 63.1l-3.7 1.6M70.4 59.9l-2 0.9M70.2 56.7l-2 0.9M70.1 53.6l-2 0.9M70 50.4l-2 0.9M69.9 47.1l-3.7 1.6M74.1 157.9l-2 0.9M74.2 160.9l-2 0.9M74.3 163.8l-2 0.9M74.4 166.8l-2 0.9M74.5 167.9L163.8 231M163.8 231L272.6 177.7M163.8 231l-3.6 1.8M161.4 229.4l-2 1M159.1 227.7l-2 1M156.7 226l-2 1M154.4 224.4l-2 1M152 222.7l-3.6 1.8M149.7 221.1l-2 1M147.4 219.5l-2 1M145.1 217.8l-2 1M142.8 216.2l-2 1M140.5 214.6l-3.6 1.8M138.2 212.9l-2 1M135.9 211.3l-2 1M133.6 209.7l-2 1M131.4 208.1l-2 1M129.1 206.5l-3.6 1.8M126.8 204.9l-2 1M124.6 203.3l-2 1M122.3 201.7l-2 1M120.1 200.1l-2 1M117.9 198.5l-3.6 1.8M115.6 197l-2 1M113.4 195.4l-2 1M111.2 193.8l-2 1M109 192.3l-2 1M106.8 190.7l-3.6 1.8M104.6 189.2l-2 1M102.4 187.6l-2 1M100.2 186.1l-2 1M98 184.5l-2 1M95.9 183l-3.6 1.8M93.7 181.4l-2 1M91.5 179.9l-2 1M89.4 178.4l-2 1M87.2 176.9l-2 1M85.1 175.4l-3.6 1.8M83 173.9l-2 1M80.8 172.3l-2 1M78.7 170.8l-2 1M76.6 169.3l-2 1M74.5 167.9l-3.6 1.8M163.8 231l3.3 2.3M169 228.5l1.8 1.3M174.1 226l3.3 2.3M179.2 223.5l1.8 1.3M184.3 221l3.3 2.3M189.4 218.5l1.8 1.3M194.5 216l3.3 2.3M199.5 213.5l1.8 1.3M204.6 211l3.3 2.3M209.6 208.6l1.8 1.3M214.5 206.2l3.3 2.3M219.5 203.7l1.8 1.3M224.4 201.3l3.3 2.3M229.3 198.9l1.8 1.3M234.2 196.5l3.3 2.3M239.1 194.1l1.8 1.3M243.9 191.7l3.3 2.3M248.7 189.4l1.8 1.3M253.6 187l3.3 2.3M258.3 184.7l1.8 1.3M263.1 182.3l3.3 2.3M267.8 180l1.8 1.3M272.6 177.7l3.3 2.3" stroke="#000" stroke-width="0.9" fill="none"/><text transform="translate(23.5 127) rotate(85)" font-size="11" text-anchor="middle" style="" fill="#000">L-asparaginase</text><text transform="translate(8.5 133) rotate(85)" font-size="11" text-anchor="middle" style="" fill="#000">production (U/gds)</text><text transform="translate(75.5 224) rotate(36.5)" font-size="10.4" text-anchor="middle" style="font-style:italic;" fill="#000">Dextrose (g/L)</text><text transform="translate(251 230.5) rotate(-25.5)" font-size="11.1" text-anchor="middle" style="" fill="#000">Wheat bran + soybean</text><text transform="translate(264.1 237.1) rotate(-25.5)" font-size="11.1" text-anchor="middle" style="" fill="#000">meal (1:1 g)</text>
<rect x="284.9" y="71.6" width="17" height="10" fill="#ff0000" stroke="#222" stroke-width="0.9"/><text transform="translate(306.3 80.4) rotate(0)" font-size="10.5" text-anchor="start" style="" fill="#000">&gt; 100</text><rect x="284.9" y="84.5" width="17" height="10" fill="#c48f93" stroke="#222" stroke-width="0.9"/><text transform="translate(306.3 93.3) rotate(0)" font-size="10.5" text-anchor="start" style="" fill="#000">&lt; 100</text><rect x="284.9" y="97.4" width="17" height="10" fill="#e6e637" stroke="#222" stroke-width="0.9"/><text transform="translate(306.3 106.2) rotate(0)" font-size="10.5" text-anchor="start" style="" fill="#000">&lt; 80</text><rect x="284.9" y="110.4" width="17" height="10" fill="#ffb400" stroke="#222" stroke-width="0.9"/><text transform="translate(306.3 119.2) rotate(0)" font-size="10.5" text-anchor="start" style="" fill="#000">&lt; 60</text><rect x="284.9" y="123.3" width="17" height="10" fill="#a3b15b" stroke="#222" stroke-width="0.9"/><text transform="translate(306.3 132.1) rotate(0)" font-size="10.5" text-anchor="start" style="" fill="#000">&lt; 40</text><rect x="284.9" y="136.2" width="17" height="10" fill="#00e5e5" stroke="#222" stroke-width="0.9"/><text transform="translate(306.3 145) rotate(0)" font-size="10.5" text-anchor="start" style="" fill="#000">&lt; 20</text><rect x="284.9" y="149.1" width="17" height="10" fill="#007a96" stroke="#222" stroke-width="0.9"/><text transform="translate(306.3 157.9) rotate(0)" font-size="10.5" text-anchor="start" style="" fill="#000">&lt; 0</text>
</g>
<g>
<path d="M415.2 167.4L409.6 47.1M425.3 163L420.4 43M435.4 158.5L431 38.9M445.3 154.1L441.5 34.9M455.2 149.7L452 30.9M464.9 145.4L462.3 27M474.6 141.1L472.5 23.1M484.2 136.9L482.6 19.2M493.6 132.7L492.6 15.4M503 128.5L502.5 11.6M512.3 124.4L512.3 7.9M521.5 120.4L522 4.2M611.5 178L617.2 56.7M599.6 170.3L604.6 49.7M587.9 162.8L592.1 42.9M576.3 155.5L579.9 36.1M565 148.2L567.9 29.5M553.9 141.1L556.1 23M542.9 134.1L544.6 16.6M532.1 127.2L533.2 10.3M521.5 120.4L522 4.2M414.6 154.7L521.5 108M521.5 108L612.1 165.1M413.9 140L521.6 93.8M521.6 93.8L612.8 150.3M413.2 125.1L521.7 79.3M521.7 79.3L613.5 135.3M412.5 109.9L521.7 64.7M521.7 64.7L614.2 120M411.8 94.5L521.8 49.9M521.8 49.9L615 104.5M411.1 79L521.8 34.9M521.8 34.9L615.7 88.8M410.3 63.1L521.9 19.6M521.9 19.6L616.4 72.9M409.6 47.1L522 4.2M522 4.2L617.2 56.7" stroke="#a8a8a8" stroke-width="0.6" stroke-dasharray="1 1" fill="none"/><path d="M409.6 47.1L522 4.2M522 4.2L617.2 56.7M521.5 120.4L522 4.2M611.5 178L617.2 56.7M415.2 167.4L521.5 120.4M521.5 120.4L611.5 178" stroke="#aaa" stroke-width="0.6" stroke-dasharray="1 1" fill="none"/>
<clipPath id="fcB"><path d="M502.9 231.9L611.5 178L521.5 120.4L415.2 167.4z"/></clipPath><g clip-path="url(#fcB)"><path d="M502.9 231.9L611.5 178L521.5 120.4L415.2 167.4z" fill="#0034c0"/><path d="M634.7 184.5l-4.3 11.2-8.5 10.7-12.6 9.5-16.3 8-19.3 6.1-21.5 3.8-22.8 1.3-22.9-1.2-22-3.7-20.2-6-17.5-7.9-14-9.5-10-10.6-5.9-11.3-1.6-11.4 2.7-11.2 6.6-10.4 10.1-9.5 13.3-8.1 15.9-6.5 17.9-4.9 19.2-2.9 20.1-1.1 20.2 1 19.7 2.9 18.5 4.7 16.8 6.5 14.4 8.1 11.6 9.4 8.1 10.4 4.2 11.1z" fill="#0043b6"/><path d="M633.6 184.3l-4.2 11.2-8.5 10.5-12.5 9.5-16.1 7.9-19.1 6-21.3 3.7-22.5 1.3-22.7-1.2-21.8-3.6-20-5.9-17.3-7.9-13.8-9.4-10-10.5-5.8-11.1-1.6-11.3 2.6-11 6.5-10.4 10.1-9.4 13.1-8 15.8-6.5 17.7-4.8 19.1-2.9 19.8-1 20 .9 19.5 2.8 18.4 4.7 16.6 6.5 14.3 8 11.4 9.3 8 10.3 4.2 11z" fill="#0055ac"/><path d="M632.5 184.2l-4.2 11.1-8.4 10.4-12.4 9.3-15.9 7.9-18.9 5.9-21.1 3.7-22.2 1.3-22.5-1.2-21.6-3.6-19.7-5.9-17.1-7.7-13.8-9.3-9.9-10.4-5.7-11-1.6-11.2 2.6-10.9 6.4-10.3 10-9.3 13-7.9 15.5-6.5 17.6-4.7 18.9-2.9 19.7-1 19.8.9 19.3 2.8 18.2 4.7 16.5 6.4 14.1 7.9 11.3 9.2 7.9 10.2 4.1 10.9z" fill="#0067a1"/><path d="M631.4 184.1l-4.2 10.9-8.3 10.4-12.2 9.2-15.8 7.7-18.8 5.9-20.8 3.6-22 1.3-22.2-1.2-21.3-3.5-19.6-5.8-16.9-7.7-13.6-9.1-9.8-10.3-5.7-10.9-1.6-11.1 2.5-10.8 6.4-10.2 9.8-9.2 12.9-7.9 15.4-6.4 17.4-4.6 18.7-2.9 19.5-1 19.6.9 19.1 2.8 18.1 4.6 16.3 6.3 14 7.9 11.1 9.1 7.8 10.1 4.1 10.8z" fill="#007997"/><path d="M630.2 184l-4.1 10.8-8.2 10.2-12.1 9.1-15.7 7.7-18.5 5.8-20.6 3.6-21.7 1.2-22-1.1-21.1-3.5-19.4-5.7-16.7-7.6-13.4-9.1-9.8-10.2-5.6-10.7-1.6-11 2.5-10.7 6.3-10.1 9.7-9.1 12.8-7.8 15.2-6.3 17.2-4.7 18.5-2.8 19.3-1 19.5.9 18.9 2.8 17.8 4.6 16.2 6.2 13.8 7.8 11.1 9 7.7 10.1 4 10.6z" fill="#0289a2"/><path d="M629.1 183.9l-4.1 10.7-8.1 10.1-12 9-15.5 7.5-18.3 5.7-20.4 3.6-21.5 1.3-21.7-1.2-20.9-3.5-19.1-5.6-16.5-7.5-13.4-9-9.6-10-5.6-10.7-1.5-10.8 2.4-10.6 6.2-10 9.6-9 12.6-7.7 15.1-6.3 17-4.6 18.4-2.8 19.1-1 19.2.9 18.7 2.8 17.7 4.5 16 6.2 13.7 7.7 10.9 8.9 7.6 10 4 10.5z" fill="#0399af"/><path d="M627.9 183.8l-4 10.5-8.1 10-11.9 8.9-15.2 7.5-18.1 5.6-20.2 3.6-21.2 1.2-21.5-1.2-20.6-3.4-18.9-5.5-16.4-7.4-13.2-8.9-9.5-9.9-5.6-10.6-1.5-10.7 2.4-10.5 6.1-9.9 9.5-8.9 12.5-7.6 14.9-6.2 16.8-4.6 18.2-2.8 18.9-.9 19 .8 18.6 2.8 17.5 4.5 15.8 6.1 13.5 7.6 10.8 8.9 7.5 9.8 3.9 10.5z" fill="#05a9bb"/><path d="M626.8 183.7l-4 10.4-8 9.8-11.8 8.9-15.1 7.3-17.9 5.6-19.9 3.5-21 1.2-21.2-1.1-20.4-3.4-18.7-5.5-16.1-7.3-13.1-8.8-9.4-9.8-5.5-10.4-1.6-10.6 2.4-10.4 6.1-9.7 9.4-8.8 12.3-7.6 14.7-6.2 16.7-4.5 17.9-2.7 18.7-1 18.9.9 18.3 2.7 17.3 4.4 15.6 6.1 13.4 7.5 10.7 8.8 7.4 9.7 3.9 10.4z" fill="#06b9c8"/><path d="M625.6 183.5l-4 10.4-7.9 9.7-11.6 8.7-15 7.3-17.6 5.5-19.7 3.4-20.7 1.2-21-1.1-20.1-3.4-18.5-5.4-16-7.2-12.9-8.6-9.3-9.7-5.5-10.3-1.5-10.5 2.3-10.3 6-9.6 9.3-8.7 12.2-7.5 14.6-6.1 16.4-4.5 17.8-2.7 18.5-1 18.6.9 18.2 2.7 17.1 4.4 15.4 6 13.3 7.4 10.5 8.7 7.3 9.6 3.8 10.3z" fill="#08c9d5"/><path d="M624.4 183.4l-3.9 10.2-7.9 9.6-11.4 8.6-14.8 7.2-17.5 5.4-19.4 3.4-20.5 1.2-20.7-1.1-19.9-3.3-18.2-5.3-15.8-7.2-12.8-8.5-9.2-9.6-5.4-10.2-1.5-10.3 2.3-10.2 5.9-9.5 9.1-8.6 12.1-7.4 14.4-6 16.3-4.5 17.5-2.7 18.3-.9 18.4.9 18 2.6 16.9 4.4 15.3 5.9 13.1 7.4 10.4 8.5 7.2 9.5 3.8 10.2z" fill="#05d3dc"/><path d="M623.2 183.3l-3.9 10.1-7.7 9.4-11.4 8.5-14.6 7.1-17.2 5.4-19.2 3.3-20.2 1.2-20.5-1.1-19.6-3.2-18-5.3-15.6-7.1-12.6-8.4-9.1-9.4-5.4-10.1-1.5-10.2 2.2-10 5.8-9.5 9.1-8.5 11.9-7.3 14.2-6 16.1-4.3 17.4-2.7 18.1-.9 18.2.8 17.7 2.6 16.7 4.3 15.1 5.9 13 7.3 10.2 8.5 7.2 9.4 3.7 10z" fill="#03dde3"/><path d="M622 183.2l-3.9 9.9-7.6 9.4-11.3 8.3-14.4 7-17 5.3-18.9 3.3-20 1.2-20.1-1.1-19.4-3.2-17.8-5.2-15.4-6.9-12.5-8.4-9-9.3-5.3-9.9-1.5-10.1 2.2-9.9 5.7-9.3 8.9-8.4 11.8-7.3 14.1-5.9 15.9-4.3 17.1-2.7 17.9-.9 18 .9 17.5 2.6 16.6 4.2 14.9 5.8 12.7 7.2 10.2 8.4 7 9.3 3.7 9.9z" fill="#00e6eb"/><path d="M620.8 183l-3.9 9.9-7.5 9.2-11.1 8.3-14.3 6.9-16.8 5.2-18.6 3.2-19.7 1.2-19.9-1.1-19.2-3.2-17.5-5.1-15.2-6.8-12.3-8.3-8.9-9.2-5.3-9.8-1.5-9.9 2.2-9.8 5.6-9.2 8.8-8.3 11.6-7.2 13.9-5.8 15.7-4.3 17-2.6 17.6-.9 17.8.8 17.4 2.6 16.3 4.2 14.7 5.8 12.6 7.1 10 8.2 7 9.2 3.5 9.8z" fill="#09e7e6"/><path d="M619.5 182.9l-3.8 9.7-7.5 9.1-10.9 8.2-14.1 6.8-16.5 5.1-18.5 3.2-19.4 1.1-19.6-1-18.9-3.1-17.3-5.1-15-6.7-12.2-8.1-8.7-9.1-5.2-9.7-1.6-9.8 2.2-9.7 5.5-9.1 8.7-8.2 11.5-7.1 13.7-5.7 15.5-4.2 16.7-2.6 17.5-.9 17.6.8 17.1 2.5 16.1 4.2 14.5 5.7 12.5 7 9.8 8.2 6.9 9 3.5 9.7z" fill="#13e6e0"/><path d="M618.2 182.8l-3.7 9.5-7.4 9-10.8 8-13.9 6.8-16.3 5-18.2 3.2-19.2 1.1-19.3-1-18.6-3.1-17.1-5-14.8-6.6-12-8-8.7-9-5.1-9.5-1.5-9.7 2.1-9.5 5.5-9 8.5-8.1 11.3-7 13.6-5.7 15.3-4.2 16.5-2.5 17.2-.9 17.4.8 16.9 2.5 15.9 4.1 14.3 5.6 12.3 7 9.7 8 6.8 9 3.4 9.5z" fill="#1ee4d9"/><path d="M617 182.7l-3.8 9.4-7.3 8.8-10.6 7.9-13.7 6.6-16.1 5-17.9 3.1-18.9 1.1-19.1-1-18.3-3-16.9-4.9-14.6-6.6-11.8-7.8-8.6-8.9-5-9.4-1.5-9.5 2-9.4 5.4-8.9 8.4-8 11.2-6.9 13.3-5.6 15.1-4.1 16.4-2.5 17-.9 17.1.8 16.7 2.5 15.7 4 14.1 5.6 12.1 6.8 9.6 8 6.7 8.8 3.4 9.4z" fill="#32e3c9"/><path d="M615.7 182.5l-3.7 9.3-7.2 8.7-10.5 7.8-13.5 6.5-15.9 4.9-17.6 3.1-18.7 1.1-18.7-1-18.1-3-16.6-4.8-14.4-6.5-11.7-7.7-8.4-8.7-5.1-9.3-1.4-9.4 2-9.3 5.3-8.7 8.3-7.9 11-6.8 13.1-5.6 14.9-4 16.1-2.5 16.8-.9 16.9.8 16.5 2.4 15.5 4 13.9 5.5 12 6.8 9.4 7.8 6.6 8.7 3.3 9.3z" fill="#48e1b7"/><path d="M614.3 182.4l-3.6 9.1-7.1 8.6-10.4 7.7-13.3 6.4-15.6 4.8-17.4 3.1-18.3 1-18.5-1-17.8-2.9-16.4-4.8-14.2-6.3-11.4-7.6-8.4-8.6-5-9.1-1.4-9.3 1.9-9.2 5.2-8.6 8.2-7.8 10.8-6.7 13-5.4 14.7-4.1 15.9-2.4 16.6-.9 16.6.8 16.3 2.4 15.2 4 13.8 5.4 11.8 6.6 9.3 7.8 6.4 8.6 3.3 9.1z" fill="#6ecf91"/><path d="M613 182.2l-3.6 9-7 8.5-10.2 7.6-13.1 6.3-15.4 4.7-17.1 3-18.1 1-18.2-.9-17.5-2.9-16.1-4.7-14-6.2-11.3-7.6-8.2-8.4-4.9-9-1.5-9.1 1.9-9 5.1-8.5 8.1-7.7 10.6-6.6 12.8-5.4 14.5-4 15.7-2.4 16.3-.9 16.4.8 16 2.4 15.1 3.9 13.6 5.3 11.5 6.6 9.2 7.7 6.4 8.4 3.2 9z" fill="#9eb460"/><path d="M611.7 182.1l-3.6 8.9-6.9 8.3-10.1 7.4-12.9 6.2-15.1 4.7-16.9 2.9-17.7 1-17.9-.9-17.3-2.8-15.8-4.6-13.8-6.2-11.1-7.4-8.2-8.3-4.8-8.8-1.5-9 1.9-8.9 5-8.4 8-7.5 10.5-6.6 12.6-5.3 14.2-3.9 15.5-2.4 16.1-.8 16.1.8 15.8 2.3 14.8 3.8 13.4 5.3 11.4 6.5 9 7.5 6.3 8.3 3.1 8.9z" fill="#b7a043"/><path d="M610.3 182l-3.5 8.7-6.9 8.2-9.9 7.3-12.6 6.1-15 4.6-16.5 2.8-17.5 1-17.6-.9-17-2.8-15.6-4.5-13.5-6-11-7.3-8-8.2-4.7-8.7-1.5-8.9 1.8-8.7 5-8.2 7.8-7.5 10.3-6.4 12.4-5.2 14.1-3.9 15.2-2.3 15.8-.9 15.9.8 15.6 2.3 14.6 3.8 13.1 5.2 11.3 6.4 8.8 7.4 6.2 8.2 3 8.7z" fill="#d0952e"/><path d="M608.9 181.8l-3.5 8.6-6.7 8-9.8 7.2-12.4 6-14.7 4.5-16.3 2.8-17.1 1-17.4-.9-16.6-2.7-15.4-4.5-13.3-5.9-10.8-7.1-7.9-8.1-4.7-8.5-1.4-8.8 1.8-8.5 4.8-8.1 7.7-7.4 10.2-6.3 12.2-5.2 13.8-3.8 15-2.3 15.5-.8 15.7.8 15.3 2.2 14.4 3.8 12.9 5.1 11.1 6.2 8.7 7.4 6 8 3.1 8.6z" fill="#f08f1a"/><path d="M607.5 181.7l-3.5 8.4-6.6 7.9-9.6 7.1-12.2 5.8-14.4 4.5-16 2.7-16.9 1-17-.9-16.4-2.7-15.1-4.3-13.1-5.9-10.6-7-7.7-7.9-4.7-8.4-1.4-8.6 1.8-8.4 4.7-8 7.6-7.2 9.9-6.2 12-5.1 13.6-3.7 14.8-2.3 15.3-.8 15.4.7 15.1 2.3 14.1 3.6 12.8 5 10.8 6.2 8.6 7.2 5.9 8 2.9 8.4z" fill="#ff8b10"/><path d="M606 181.5l-3.4 8.3-6.5 7.8-9.4 6.9-12 5.8-14.2 4.3-15.7 2.7-16.6 1-16.7-.9-16-2.7-14.8-4.2-12.9-5.7-10.4-6.9-7.7-7.8-4.5-8.2-1.5-8.5 1.7-8.2 4.7-7.9 7.4-7.1 9.8-6.1 11.8-5 13.4-3.7 14.5-2.2 15-.8 15.2.7 14.8 2.2 13.9 3.6 12.5 5 10.7 6 8.4 7.1 5.8 7.8 2.9 8.3z" fill="#ff8a10"/><path d="M604.5 181.4l-3.3 8.1-6.4 7.6-9.3 6.8-11.8 5.7-13.9 4.2-15.4 2.7-16.2.9-16.4-.8-15.8-2.6-14.5-4.2-12.6-5.6-10.3-6.8-7.5-7.6-4.5-8.1-1.4-8.3 1.7-8.1 4.5-7.7 7.3-7 9.6-6 11.6-4.9 13.2-3.6 14.2-2.2 14.8-.8 14.9.7 14.6 2.2 13.6 3.5 12.3 4.9 10.5 6 8.2 6.9 5.7 7.7 2.8 8.1z" fill="#ff910e"/><path d="M603 181.2l-3.2 8-6.3 7.5-9.1 6.6-11.6 5.6-13.7 4.1-15.1 2.6-15.9.9-16-.8-15.5-2.5-14.3-4.1-12.4-5.5-10-6.6-7.4-7.5-4.4-7.9-1.4-8.2 1.6-8 4.5-7.5 7.1-6.9 9.4-5.9 11.4-4.8 12.9-3.6 14-2.1 14.6-.8 14.6.7 14.3 2.1 13.4 3.5 12.1 4.8 10.2 5.9 8.1 6.8 5.6 7.5 2.8 8z" fill="#ff9d0c"/><path d="M601.5 181.1l-3.2 7.8-6.2 7.3-8.9 6.5-11.4 5.4-13.3 4.1-14.8 2.6-15.7.9-15.7-.9-15.1-2.4-14-4.1-12.1-5.3-9.9-6.5-7.2-7.3-4.4-7.8-1.4-8 1.6-7.8 4.4-7.4 6.9-6.7 9.3-5.9 11.2-4.7 12.6-3.5 13.7-2.1 14.3-.8 14.4.7 14 2.1 13.2 3.4 11.8 4.7 10.1 5.8 7.9 6.7 5.4 7.4 2.7 7.8z" fill="#ffaa09"/><path d="M599.9 180.9l-3.1 7.7-6.1 7.1-8.7 6.4-11.2 5.3-13.1 4-14.4 2.5-15.3.9-15.4-.8-14.9-2.5-13.6-3.9-11.9-5.3-9.7-6.3-7.1-7.1-4.3-7.7-1.3-7.8 1.5-7.7 4.3-7.2 6.8-6.6 9.1-5.7 10.9-4.7 12.4-3.4 13.4-2.1 14.1-.7 14.1.7 13.7 2 12.9 3.4 11.6 4.6 9.9 5.6 7.7 6.6 5.4 7.2 2.6 7.7z" fill="#ffc004"/><path d="M598.4 180.8l-3.2 7.4-5.9 7-8.6 6.3-10.9 5.2-12.8 3.9-14.1 2.4-15 .9-15-.8-14.6-2.4-13.3-3.8-11.7-5.2-9.4-6.2-7-7-4.2-7.4-1.3-7.7 1.4-7.5 4.2-7.1 6.7-6.5 8.9-5.6 10.7-4.5 12.1-3.4 13.2-2 13.7-.8 13.8.7 13.5 2 12.6 3.3 11.4 4.5 9.6 5.6 7.6 6.4 5.2 7.1 2.6 7.5z" fill="#ffd600"/><path d="M596.7 180.6l-3 7.3-5.8 6.8-8.4 6.1-10.7 5.1-12.5 3.8-13.9 2.4-14.6.8-14.7-.7-14.2-2.4-13-3.7-11.4-5-9.3-6.1-6.8-6.8-4.1-7.3-1.3-7.5 1.4-7.3 4.1-7 6.5-6.3 8.7-5.5 10.5-4.5 11.8-3.2 12.9-2.1 13.5-.7 13.5.7 13.2 1.9 12.3 3.3 11.1 4.4 9.5 5.4 7.4 6.3 5.1 7 2.5 7.3z" fill="#ffeb00"/><path d="M595.1 180.4l-3 7.2-5.7 6.6-8.2 6-10.4 4.9-12.3 3.7-13.5 2.4-14.2.8-14.4-.8-13.8-2.2-12.8-3.7-11.1-4.9-9.1-5.9-6.6-6.7-4-7.1-1.4-7.3 1.4-7.2 4-6.8 6.4-6.2 8.4-5.3 10.3-4.4 11.6-3.2 12.6-2 13.1-.7 13.3.7 12.8 1.9 12.1 3.2 10.9 4.3 9.2 5.3 7.3 6.2 4.9 6.7 2.4 7.2z" fill="#ffff00"/><path d="M593.4 180.2l-3 7-5.5 6.5-8 5.8-10.2 4.8-11.9 3.7-13.2 2.2-13.9.8-14-.7-13.5-2.2-12.4-3.6-10.9-4.8-8.8-5.7-6.5-6.5-4-7-1.3-7.1 1.4-7 3.8-6.6 6.2-6.1 8.3-5.2 10-4.3 11.3-3.1 12.3-2 12.9-.6 12.9.6 12.6 1.9 11.8 3.1 10.6 4.2 9 5.2 7.1 6 4.8 6.6 2.3 7z" fill="#fbfb08"/><path d="M591.6 180.1l-2.9 6.7-5.4 6.4-7.8 5.6-9.9 4.7-11.6 3.5-12.8 2.2-13.6.8-13.6-.7-13.1-2.1-12.2-3.5-10.5-4.7-8.7-5.6-6.3-6.3-3.9-6.8-1.2-6.9 1.3-6.8 3.7-6.5 6.1-5.9 8-5.1 9.7-4.2 11.1-3 12-1.9 12.5-.7 12.7.6 12.2 1.9 11.5 3 10.4 4.1 8.8 5.1 6.8 5.8 4.7 6.5 2.3 6.8z" fill="#f7f711"/><path d="M589.8 179.9l-2.8 6.6-5.3 6.1-7.6 5.5-9.6 4.6-11.3 3.4-12.5 2.1-13.1.8-13.3-.7-12.8-2.1-11.8-3.3-10.2-4.6-8.4-5.4-6.2-6.2-3.8-6.5-1.2-6.8 1.2-6.7 3.6-6.3 5.9-5.7 7.8-5 9.5-4 10.8-3 11.7-1.9 12.2-.6 12.3.6 12 1.8 11.2 2.9 10 4 8.6 5 6.7 5.7 4.5 6.3 2.2 6.6z" fill="#f0f023"/><path d="M588 179.7l-2.8 6.4-5.1 6-7.4 5.3-9.4 4.4-10.9 3.4-12.1 2-12.8.7-12.9-.6-12.4-2-11.4-3.3-10-4.4-8.2-5.3-6-5.9-3.7-6.4-1.2-6.6 1.2-6.5 3.5-6.1 5.7-5.6 7.6-4.8 9.2-4 10.5-2.9 11.4-1.8 11.9-.6 11.9.6 11.7 1.7 10.9 2.9 9.7 3.9 8.3 4.8 6.5 5.6 4.4 6.1 2.2 6.4z" fill="#ebeb31"/><path d="M586.1 179.5l-2.7 6.2-5 5.8-7.2 5.2-9 4.3-10.7 3.2-11.7 2-12.4.7-12.5-.7-12-1.9-11.1-3.2-9.7-4.2-7.9-5.2-5.8-5.7-3.6-6.2-1.2-6.4 1.1-6.3 3.4-5.9 5.6-5.5 7.3-4.7 9-3.8 10.2-2.8 11-1.8 11.5-.6 11.7.6 11.2 1.7 10.6 2.8 9.5 3.8 8.1 4.6 6.3 5.4 4.2 6 2.1 6.2z" fill="#e7e73b"/><path d="M584.1 179.3l-2.6 6-4.8 5.6-7 5-8.8 4.1-10.2 3.2-11.4 1.9-12 .7-12-.7-11.7-1.8-10.7-3.1-9.4-4.1-7.6-5-5.7-5.5-3.5-6-1.2-6.2 1.1-6.1 3.3-5.8 5.4-5.2 7.1-4.6 8.7-3.7 9.8-2.8 10.7-1.6 11.2-.6 11.3.5 10.9 1.7 10.3 2.7 9.2 3.6 7.7 4.6 6.1 5.2 4.2 5.8 1.9 6z" fill="#e0e049"/><path d="M582.1 179.1l-2.5 5.8-4.7 5.4-6.7 4.8-8.5 4-9.9 3-11 1.9-11.5.6-11.7-.6-11.2-1.8-10.4-2.9-9-4-7.4-4.8-5.5-5.4-3.4-5.8-1.2-5.9 1.1-5.9 3.2-5.6 5.1-5.1 6.9-4.4 8.4-3.6 9.5-2.6 10.4-1.7 10.8-.5 10.9.5 10.6 1.6 9.9 2.6 8.8 3.6 7.6 4.4 5.9 5 3.9 5.6 1.9 5.8z" fill="#d9d958"/><path d="M580 178.9l-2.4 5.6-4.6 5.2-6.4 4.6-8.2 3.8-9.6 2.9-10.5 1.8-11.1.6-11.2-.5-10.8-1.8-10-2.8-8.7-3.8-7.2-4.6-5.3-5.2-3.2-5.6-1.2-5.7 1-5.7 3.1-5.4 4.9-4.9 6.7-4.2 8-3.5 9.2-2.6 10-1.6 10.5-.5 10.5.5 10.2 1.5 9.5 2.6 8.6 3.4 7.2 4.2 5.7 4.9 3.8 5.4 1.8 5.7z" fill="#d2d269"/><path d="M577.9 178.7l-2.4 5.3-4.4 5-6.2 4.5-7.9 3.6-9.1 2.8-10.2 1.7-10.6.6-10.8-.5-10.3-1.7-9.6-2.7-8.4-3.7-6.9-4.4-5.1-5-3.1-5.3-1.1-5.5 1-5.5 2.9-5.1 4.7-4.8 6.4-4.1 7.8-3.3 8.8-2.5 9.6-1.5 10-.5 10.1.5 9.9 1.4 9.1 2.5 8.3 3.3 6.9 4.1 5.5 4.7 3.6 5.1 1.8 5.5z" fill="#c6c681"/><path d="M575.6 178.4l-2.3 5.2-4.2 4.7-5.9 4.3-7.6 3.5-8.7 2.6-9.7 1.7-10.2.6-10.3-.6-9.9-1.6-9.2-2.6-8-3.5-6.6-4.2-4.8-4.7-3.1-5.2-1-5.2.9-5.2 2.8-5 4.5-4.5 6.1-4 7.4-3.2 8.5-2.3 9.2-1.5 9.6-.5 9.7.5 9.4 1.4 8.8 2.3 7.9 3.2 6.7 3.9 5.2 4.5 3.5 5 1.6 5.2z" fill="#baba9a"/><path d="M573.2 178.2l-2.2 4.9-4 4.5-5.6 4.1-7.2 3.3-8.4 2.5-9.2 1.6-9.7.5-9.8-.5-9.4-1.5-8.8-2.5-7.6-3.3-6.3-4-4.6-4.5-2.9-4.9-1.1-5 .9-5 2.6-4.7 4.3-4.4 5.9-3.7 7-3.1 8.1-2.2 8.8-1.4 9.2-.5 9.2.4 9 1.4 8.4 2.2 7.6 3.1 6.3 3.7 5 4.3 3.3 4.7 1.5 5z" fill="#b1adae"/><path d="M570.7 177.9l-2 4.7-3.8 4.3-5.4 3.8-6.8 3.2-8 2.3-8.7 1.5-9.2.5-9.3-.4-8.9-1.5-8.3-2.3-7.2-3.1-6-3.8-4.4-4.3-2.8-4.7-1-4.7.8-4.8 2.5-4.4 4.1-4.1 5.5-3.6 6.7-2.9 7.7-2.2 8.4-1.3 8.7-.5 8.8.4 8.5 1.3 8 2.2 7.1 2.8 6.1 3.6 4.6 4.1 3.2 4.5 1.4 4.7z" fill="#bf9597"/><path d="M568.1 177.7l-2 4.3-3.6 4.1-5.1 3.6-6.4 3-7.4 2.2-8.3 1.4-8.6.5-8.7-.5-8.5-1.3-7.8-2.2-6.8-3-5.6-3.5-4.2-4.1-2.6-4.4-.9-4.4.7-4.5 2.3-4.2 3.9-3.9 5.2-3.4 6.3-2.7 7.3-2.1 7.9-1.2 8.2-.5 8.3.4 8 1.3 7.6 2 6.7 2.7 5.7 3.3 4.4 3.9 2.9 4.2 1.4 4.5z" fill="#c97d81"/><path d="M565.3 177.4l-1.8 4.1-3.4 3.8-4.8 3.3-6 2.8-7 2.1-7.6 1.3-8.1.4-8.2-.4-7.8-1.3-7.3-2-6.4-2.8-5.3-3.3-3.9-3.8-2.4-4-.9-4.2.6-4.2 2.2-4 3.6-3.6 4.9-3.2 5.9-2.6 6.8-1.9 7.4-1.1 7.7-.5 7.8.4 7.5 1.2 7.1 1.9 6.3 2.5 5.3 3.2 4.1 3.6 2.7 3.9 1.3 4.2z" fill="#d3666c"/><path d="M562.3 177.1l-1.7 3.7-3.2 3.6-4.4 3.1-5.5 2.5-6.5 1.9-7.1 1.2-7.4.4-7.6-.3-7.2-1.2-6.8-1.9-5.9-2.5-4.9-3.1-3.6-3.5-2.3-3.8-.8-3.9.6-3.8 2-3.7 3.3-3.4 4.5-2.9 5.5-2.4 6.3-1.8 6.8-1.1 7.2-.3 7.2.3 7 1.1 6.5 1.7 5.9 2.4 4.9 2.9 3.8 3.4 2.5 3.6 1.2 3.9z" fill="#dc4e56"/><path d="M559 176.7l-1.5 3.5-2.9 3.2-4 2.8-5.1 2.3-5.9 1.8-6.5 1.1-6.8.3-6.8-.3-6.7-1.1-6.1-1.7-5.4-2.3-4.4-2.8-3.4-3.2-2.1-3.4-.7-3.6.5-3.5 1.8-3.3 3.1-3.1 4.1-2.7 5-2.2 5.7-1.6 6.3-1 6.5-.4 6.6.3 6.4 1 6 1.6 5.3 2.2 4.5 2.7 3.5 3 2.3 3.4 1 3.5z" fill="#e33a40"/><path d="M555.4 176.4l-1.4 3-2.6 2.9-3.6 2.5-4.5 2.1-5.3 1.6-5.7.9-6.1.4-6.1-.4-6-.9-5.4-1.5-4.9-2.1-3.9-2.5-3-2.8-1.9-3.1-.7-3.2.5-3.1 1.6-3 2.7-2.8 3.6-2.4 4.5-2 5.2-1.4 5.6-.9 5.8-.3 6 .3 5.7.8 5.3 1.5 4.8 1.9 4 2.4 3.1 2.8 2.1 3 .9 3.1z" fill="#e9252c"/><path d="M551.3 176l-1.2 2.6-2.2 2.5-3.2 2.2-3.9 1.8-4.5 1.3-5 .8-5.3.3-5.3-.3-5.1-.8-4.7-1.3-4.2-1.8-3.4-2.1-2.6-2.5-1.7-2.6-.6-2.8.4-2.7 1.4-2.6 2.3-2.4 3.2-2.1 3.9-1.7 4.4-1.3 4.9-.8 5.1-.2 5.1.2 5 .8 4.6 1.2 4.2 1.7 3.5 2.1 2.6 2.4 1.8 2.6.8 2.7z" fill="#f0131e"/><path d="M546.5 175.5l-1 2.1-1.9 2-2.5 1.8-3.2 1.5-3.7 1.1-4.1.6-4.3.3-4.3-.2-4.1-.7-3.9-1.1-3.4-1.4-2.8-1.8-2.1-2-1.4-2.1-.5-2.3.3-2.2 1.1-2.2 1.9-1.9 2.6-1.7 3.2-1.4 3.6-1.1 4-.6 4.2-.2 4.2.2 4.1.6 3.7 1 3.4 1.4 2.9 1.7 2.1 2 1.5 2.1.6 2.2z" fill="#f80111"/><path d="M540.2 174.8l-.8 1.5-1.3 1.5-1.8 1.2-2.2 1-2.6.8-2.9.5-3 .1-3.1-.1-2.9-.5-2.7-.7-2.4-1-2-1.3-1.5-1.4-1-1.5-.4-1.6.2-1.6.8-1.5 1.4-1.4 1.8-1.2 2.2-1 2.6-.7 2.9-.5 2.9-.2 3 .2 2.9.4 2.7.8 2.4 1 2 1.2 1.5 1.4 1 1.5.4 1.5z" fill="#ff0000"/></g>
<path d="M465.2 65.1L465.2 112" stroke="#4a5478" stroke-width="0.9" stroke-dasharray="1 1.1" fill="none" opacity="1"/><circle cx="465.2" cy="65.1" r="3.1" fill="#c63e3a" opacity="1"/><path d="M577 129.6L577 100" stroke="#4a5478" stroke-width="0.9" stroke-dasharray="1 1.1" fill="none" opacity="1"/><circle cx="577" cy="129.6" r="3.1" fill="#c63e3a" opacity="1"/><path d="M576.5 144.4L576.5 129" stroke="#4a5478" stroke-width="0.9" stroke-dasharray="1 1.1" fill="none" opacity="1"/><circle cx="576.5" cy="144.4" r="3.1" fill="#c63e3a" opacity="1"/>
<path d="M477.3 76.5l-5.7 4.9-5.6 5.3-5.5 5.9-5.5 6.4-5.9 7.4-5.4 7.5-5.3 7.9-5.3 8.4 6.3-9.3 4.6-6.2 4.6-5.5 6.2-6.4 4.7-3.9 3.1-2.3 3.1-1.9 4.6-2.4 3.1-1.2 3.1-.9 4.6-.9 3.1-.1 3.1.1 3 .4 3.1.7 3 1 3 1.2 4.5 2.5 5.9 4.1 5.9 5.3 5.8 6.4 5-7.9 3.7-5.2 3.8-4.6 3.8-4.1 5.2-4.5 3.9-2.7 3.9-2 4-1.4 2.6-.6 2.7-.3 4 .1 4 .8 4 1.4 4 2.1 4.1 2.8 4 3.5 4.1 4.1-5.6-6-8.4-7.9-7.1-5.6-7.1-4.8-7.3-3.9-5.7-2.5-7.4-2.3-7.1-1.4-7.4-.5-5.8.2-7.4 1.1-7.1 1.9-7.3 2.9-5.8 3-7.3 4.5z" fill="#dcdcdc"/><path d="M513.6 58.5l-5.8 1.3-7.3 2.6-5.8 2.6-7.3 4.2-5.7 3.9-7.3 5.8-5.6 5.1-7.1 7.3-6.7 7.7-7 9-6.9 9.7-5.4 8.2-5.6 9.3-4.6 8.2-6 11.9-4.5 9.7 5.5-7.6 4.4-4.9 3.4-3 2.3-1.6 2.3-1.4 2.3-1.1 3.6-1 2.4-.4 2.4-.1 2.5.3 3.7.9 2.5.9 2.5 1.3 2.6 1.6 3.8 3 2.6 2.3 5.3 5.6 5.3 6.9 5.3 8.1 5.4 9.3 5.4 10.5 5.5 11.7 6.8 16.4 8.3-18.9 6.6-13.7 8.3-15.5 6.6-11 6.6-9.8 6.6-8.6 6.5-7.2 3.3-3.2 4.8-4.1 3.2-2.4 3.3-2 3.1-1.7 3.2-1.4 3.2-1.1 3.1-.8 3.1-.4 4.6-.1 3 .3 3 .7 3 .9 4.4 2 3 1.6 2.8 2 2.9 2.3 4.3 3.9-3.9-8.5-5.3-10.2-5.4-9-5.3-7.9-4-5-7-7.5-7-6.7-7-5.7-5.7-4.1-7.3-4.3-7.1-3.3-7.3-2.5-5.8-1.4-7.4-.8-7.1 0z" fill="#0039bd"/><path d="M514.5 58.3l-6.7 1.5-5.7 2-7.4 3.2-5.7 3.2-7.3 4.9-5.7 4.4-7.2 6.5-5.5 5.6-7.1 8-5.5 6.8-7 9.5-6.9 10.2-6.7 11.1-4.6 8.2-6 11.9-3.3 6.9-.3 1.4 5.7-7.5 4.4-4.7 3.4-2.7 2.3-1.5 2.3-1.3 2.4-.9 3.6-.8 2.4-.3 2.4.1 2.5.4 2.5.7 2.5.9 2.5 1.3 2.6 1.6 3.8 3 2.6 2.3 5.3 5.6 5.3 6.9 5.3 8.1 5.4 9.3 5.4 10.5 5.5 11.7 6.8 16.4 8.3-18.9 6.6-13.7 8.3-15.5 6.6-11 6.6-9.8 6.6-8.6 6.5-7.2 3.3-3.2 4.8-4.1 3.2-2.4 3.3-2 3.1-1.7 3.2-1.4 3.2-1.1 3.1-.8 3.1-.4 4.6-.1 3 .3 3 .7 3 .9 4.4 2 3 1.6 2.8 2 2.9 2.3 4.3 3.9-3.9-8.5-5.3-10.2-5.4-9-5.3-7.9-4-5-7-7.5-7-6.7-7-5.7-5.7-4.1-7.3-4.3-7.1-3.3-7.3-2.5-5.8-1.4-7.4-.8-5.8-.1-2.9.2z" fill="#0045b5"/><path d="M514.9 58.3l-7.1 1.5-5.7 2-7.4 3.2-5.7 3.2-7.3 4.9-5.7 4.4-7.2 6.5-5.5 5.6-7.1 8-5.5 6.8-7 9.5-6.9 10.2-6.7 11.1-6.1 11-6.5 13.3-.7 2.7 5.9-7.4 4.4-4.4 2.3-1.7 2.3-1.5 2.3-1.3 2.4-.9 3.6-.8 2.4-.3 2.4.1 2.5.4 2.5.7 2.5.9 2.5 1.3 2.6 1.6 3.8 3 2.6 2.3 5.3 5.6 5.3 6.9 5.3 8.1 5.4 9.3 5.4 10.5 5.5 11.7 6.8 16.4 8.3-18.9 6.6-13.7 8.3-15.5 6.6-11 6.6-9.8 6.6-8.6 6.5-7.2 3.3-3.2 4.8-4.1 3.2-2.4 3.3-2 3.1-1.7 3.2-1.4 3.2-1.1 3.1-.8 3.1-.4 4.6-.1 3 .3 3 .7 3 .9 4.4 2 3 1.6 2.8 2 2.9 2.3 4.3 3.9-3.9-8.5-5.3-10.2-5.4-9-5.3-7.9-4-5-7-7.5-7-6.7-7-5.7-5.7-4.1-7.3-4.3-7.1-3.3-7.3-2.5-5.8-1.4-7.4-.8-5.8-.1z" fill="#0058aa"/><path d="M514.9 58.3l-7.1 1.5-5.7 2-7.4 3.2-5.7 3.2-7.3 4.9-5.7 4.4-7.2 6.5-5.5 5.6-7.1 8-5.5 6.8-7 9.5-6.9 10.2-6.7 11.1-6.1 11-5.2 10.6-1 4 4.9-6 4.4-4.4 3.5-2.5 2.3-1.4 2.3-1.1 2.4-.7 3.6-.7 2.4-.1 2.5.3 2.4.5 2.5.8 2.6 1.1 2.5 1.5 2.6 1.7 3.8 3.2 2.7 2.5 5.2 5.9 5.3 7.2 5.4 8.4 5.4 9.6 5.4 10.8 5.4 12 5.5 13.3 8.3-18.9 6.6-13.7 8.3-15.5 6.6-11 6.6-9.8 6.6-8.6 6.5-7.2 3.3-3.2 4.8-4.1 3.2-2.4 3.3-2 3.1-1.7 3.2-1.4 3.2-1.1 3.1-.8 3.1-.4 4.6-.1 3 .3 3 .7 3 .9 4.4 2 3 1.6 2.8 2 2.9 2.3 4.3 3.9-3.9-8.5-5.3-10.2-5.4-9-5.3-7.9-4-5-7-7.5-7-6.7-7-5.7-5.7-4.1-7.3-4.3-7.1-3.3-7.3-2.5-5.8-1.4-7.4-.8-5.8-.1z" fill="#006c9e"/><path d="M514.9 58.3l-7.1 1.5-5.7 2-7.4 3.2-5.7 3.2-7.3 4.9-5.7 4.4-7.2 6.5-5.5 5.6-7.1 8-5.5 6.8-7 9.5-6.9 10.2-8.3 13.8-6 11.3-2.4 4.9-.9 3.1-.5 2.3 5.1-5.9 4.5-4.1 2.3-1.6 2.3-1.4 2.3-1.1 2.4-.7 3.6-.7 2.4-.1 2.5.3 2.4.5 2.5.8 2.6 1.1 2.5 1.5 2.6 1.7 5.1 4.4 5.3 5.6 5.3 6.9 4 5.9 6.7 11.5 5.4 10.5 5.5 11.7 5.6 13.4 2.3.3 7.2-16.2 6.6-13.7 8.3-15.5 6.6-11 6.6-9.8 6.6-8.6 6.5-7.2 3.3-3.2 4.8-4.1 3.2-2.4 3.3-2 3.1-1.7 3.2-1.4 3.2-1.1 3.1-.8 3.1-.4 4.6-.1 3 .3 3 .7 3 .9 4.4 2 3 1.6 2.8 2 2.9 2.3 4.3 3.9-3.9-8.5-5.3-10.2-5.4-9-5.3-7.9-4-5-7-7.5-7-6.7-7-5.7-5.7-4.1-7.3-4.3-7.1-3.3-7.3-2.5-5.8-1.4-7.4-.8-5.8-.1z" fill="#007f9a"/><path d="M516.4 58l-5.7 1.1-7.3 2.2-5.8 2.3-7.3 3.9-5.8 3.6-7.2 5.4-5.7 4.9-7.1 7-6.8 7.4-7 8.6-7 9.5-6.8 10.2-8.4 13.8-6 11.3-1.1 2.1-.5 1.6-1.2 5.2 4.1-4.5 4.5-4.1 2.3-1.6 2.3-1.4 2.3-1.1 2.4-.7 2.4-.5 2.4-.3 2.4.1 2.5.4 2.5.7 2.5.9 2.5 1.3 2.6 1.6 5.1 4.1 4 3.9 3.9 4.5 4 5.3 6.7 10.3 6.7 12.2 6.8 14.1 5.7 13.2 4.8.7 7.6-16.9 6.6-13.5 6.7-12.2 6.6-11 6.6-9.8 6.6-8.6 6.5-7.2 3.3-3.2 4.8-4.1 3.2-2.4 3.3-2 3.1-1.7 3.2-1.4 3.2-1.1 3.1-.8 3.1-.4 4.6-.1 3 .3 3 .7 3 .9 4.4 2 3 1.6 2.8 2 2.9 2.3 4.3 3.9-3.9-8.5-5.3-10.2-5.4-9-5.3-7.9-4-5-7-7.5-5.6-5.4-7.1-6-7-5.1-5.8-3.4-7.2-3.6-5.8-2.2-7.4-2-7.1-1-7.4-.2z" fill="#0290a8"/><path d="M516.5 58l-5.8 1.1-7.3 2.2-5.8 2.3-5.8 3-7.3 4.5-5.6 4.1-7.3 6.2-5.6 5.3-7.1 7.7-8.2 10-7 9.5-6.8 10.2-6.8 11.1-7.3 13.3-1.5 4.8-.5 3.5 4.1-4.3 4.5-3.8 2.3-1.5 2.3-1.3 2.4-.9 2.4-.6 2.4-.4 2.4-.1 2.5.3 2.4.5 2.5.8 2.6 1.1 3.8 2.3 5.1 4.1 5.3 5.3 5.3 6.6 5.3 7.7 5.4 9 5.4 10.3 5.4 11.4 4.4 10.1 7.3 1 8.1-17.6 6.6-13.1 6.6-12 6.6-10.7 6.6-9.5 6.6-8.2 6.5-7 3.3-2.9 4.8-3.9 3.3-2.2 3.1-1.9 3.2-1.6 3.2-1.2 3.1-.9 3.1-.6 3.1-.3 4.6.1 3 .5 3 .8 3 1.1 2.9 1.4 3 1.6 2.8 2 2.9 2.3 4.3 3.9-3.9-8.5-5.3-10.2-5.4-9-5.3-7.9-4-5-7-7.5-5.6-5.4-7.1-6-7-5.1-5.8-3.4-7.2-3.6-5.8-2.2-7.4-2-7.1-1-7.4-.2z" fill="#04a2b5"/><path d="M516.5 58l-5.8 1.1-7.3 2.2-5.8 2.3-5.8 3-7.3 4.5-5.6 4.1-7.3 6.2-5.6 5.3-7.1 7.7-8.2 10-7 9.5-6.8 10.2-6.8 11.1-5.8 10.5-1.7 4.8-.7 5 4.1-4.1 4.6-3.5 2.3-1.4 2.3-1.1 3.6-1 2.4-.4 2.4-.1 2.5.3 2.4.5 2.5.8 2.6 1.1 3.8 2.3 5.1 4.1 5.3 5.3 5.3 6.6 4 5.7 5.3 8.7 5.4 9.9 5.4 11.1 4.4 9.9 10 1.4 6.8-14.8 6.6-13.1 6.6-12 6.6-10.7 6.6-9.5 6.6-8.2 6.5-7 3.3-2.9 4.8-3.9 3.3-2.2 3.1-1.9 3.2-1.6 3.2-1.2 3.1-.9 3.1-.6 3.1-.3 4.6.1 3 .5 3 .8 3 1.1 2.9 1.4 3 1.6 2.8 2 2.9 2.3 4.3 3.9-3.9-8.5-5.3-10.2-5.4-9-5.3-7.9-4-5-7-7.5-5.6-5.4-7.1-6-7-5.1-5.8-3.4-7.2-3.6-5.8-2.2-7.4-2-7.1-1-7.4-.2z" fill="#06b3c3"/><path d="M516.5 58l-5.8 1.1-7.3 2.2-5.8 2.3-5.8 3-7.3 4.5-5.6 4.1-7.3 6.2-5.6 5.3-7.1 7.7-8.2 10-7 9.5-6.8 10.2-6.8 11.1-4.3 7.7-1.8 4.9-.7 2.9-.3 3 .1.6 4-3.9 2.3-1.7 2.3-1.5 2.3-1.3 2.4-.9 3.6-.8 2.4-.3 2.4.1 3.7.7 3.8 1.3 3.8 2.1 5.1 3.8 5.3 5 5.2 6.2 4 5.5 5.4 8.4 5.4 9.6 5.4 10.8 4.3 9.6 12.6 1.7 7.2-15.3 6.6-12.8 6.7-11.7 6.6-10.4 6.6-9.2 6.5-7.9 6.6-6.6 6.4-5.3 3.3-2.2 3.1-1.9 3.2-1.6 3.2-1.2 3.1-.9 3.1-.6 3.1-.3 4.6.1 3 .5 3 .8 3 1.1 2.9 1.4 3 1.6 2.8 2 2.9 2.3 4.3 3.9-3.9-8.5-5.3-10.2-5.4-9-5.3-7.9-4-5-7-7.5-5.6-5.4-7.1-6-7-5.1-5.8-3.4-7.2-3.6-5.8-2.2-7.4-2-7.1-1-7.4-.2z" fill="#08c4d1"/><path d="M516.6 58l-5.9 1.1-7.3 2.2-5.8 2.3-5.8 3-7.3 4.5-5.6 4.1-7.3 6.2-5.6 5.3-7.1 7.7-7 8.5-6.6 8.8-6.9 10.1-6.8 10.8-4.4 7.7-1.2 2.8-1 3.1-.8 5 .1 1.9 4-3.6 2.3-1.6 2.3-1.4 2.3-1.1 2.4-.7 3.6-.7 3.6 0 3.7.7 3.8 1.3 3.8 2.1 5.1 3.8 5.3 5 5.2 6.2 4 5.5 5.4 8.4 4 7.1 5.4 10.5 4.3 9.1 7.2 1.2 8.1.9 7.6-15.7 6.6-12.6 6.6-11.3 6.6-10.1 6.6-8.9 6.6-7.5 6.5-6.3 3.2-2.7 3.2-2.4 3.3-2 3.1-1.7 3.2-1.4 3.2-1.1 3.1-.8 3.1-.4 3.1-.1 3 .1 3 .5 3 .8 3 1.1 2.9 1.4 3 1.6 2.8 2 2.9 2.3 4.3 3.9-3.9-8.5-5.3-10.2-4-6.9-5.4-8.1-4-5.3-5.5-6.2-7-7-7-6.1-5.7-4.3-7.2-4.7-7.1-3.6-7.3-2.9-7.4-2-7.1-1-7.4-.2z" fill="#06d1da"/><path d="M518.8 57.7l-5.2.8-7.4 1.8-5.7 2.1-5.8 2.6-7.3 4.2-5.7 3.9-5.7 4.4-7.2 6.5-8.3 8.6-7.1 8.3-7 9.2-8 11.7-6.8 10.8-3.5 6.3-1.8 4.8-.6 3-.3 2.9.1 2.3 3.9-3.2 2.3-1.5 2.3-1.3 2.4-.9 2.4-.6 3.6-.5 3.7.3 3.7.9 3.8 1.5 2.5 1.5 5.1 3.8 4 3.6 5.2 5.9 4 5.3 5.3 8.1 4.1 6.8 5.4 10.3 4.1 8.5 10 1.7 8.1.9 6.3-12.9 6.6-12.6 6.6-11.3 6.6-10.1 6.6-8.9 6.6-7.5 6.5-6.3 3.2-2.7 3.2-2.4 3.3-2 3.1-1.7 3.2-1.4 3.2-1.1 3.1-.8 3.1-.4 3.1-.1 3 .1 3 .5 3 .8 3 1.1 2.9 1.4 3 1.6 2.8 2 2.9 2.3 4.3 3.9-3.9-8.5-5.3-10.2-4-6.9-5.4-8.1-4-5.3-5.5-6.2-7-7-7-6.1-5.7-4.3-7.2-4.7-7.1-3.6-7.3-2.9-5.8-1.7-7.4-1.2-5.8-.3z" fill="#03dbe2"/><path d="M519.4 57.7l-5.8.8-5.8 1.3-7.3 2.6-5.8 2.6-7.3 4.2-5.7 3.9-5.7 4.4-7.2 6.5-5.5 5.6-7.1 8-8.2 10.4-6.9 9.7-6.9 10.6-4.6 7.8-1.2 2.8-.9 3-.8 5 .1 3.8 3.8-2.8 3.4-2 3.6-1.2 3.6-.7 3.6 0 3.7.7 3.8 1.3 3.8 2.1 5.1 3.8 4 3.6 3.9 4.3 4 5.1 5.3 7.7 4 6.7 4.1 7.3 5.2 10.5 10.2 1.8 10.9 1.2 6.5-13.3 6.7-12.2 6.6-11 6.6-9.8 6.6-8.6 6.5-7.2 6.5-6 3.2-2.5 3.3-2.2 3.1-1.9 3.2-1.6 3.2-1.2 3.1-.9 3.1-.6 3.1-.3 3.1 0 3 .3 3 .7 3 .9 3 1.2 2.9 1.6 2.9 1.8 2.9 2.1 5.7 5.1-3.9-8.5-5.3-10.2-4-6.9-5.4-8.1-4-5.3-5.5-6.2-7-7-7-6.1-5.7-4.3-7.2-4.7-7.1-3.6-7.3-2.9-5.8-1.7-5.8-1-7.4-.5z" fill="#01e6ea"/><path d="M519.4 57.7l-5.8.8-5.8 1.3-7.3 2.6-5.8 2.6-7.3 4.2-5.7 3.9-5.7 4.4-7.2 6.5-8.3 8.6-7.1 8.3-7 9.2-6.9 10-5.3 8.2-3.7 6.5-1.1 2.7-.9 3-.6 5 .3 4.1 3.5-2.4 3.5-1.8 3.6-1 3.6-.5 3.7.3 3.7.9 3.8 1.5 2.5 1.5 5.1 3.8 4 3.6 3.9 4.3 4 5.1 4 5.7 4 6.4 4 7.1 5 9.6 11.2 2 12.9 1.5 6.8-13.5 6.6-12 5-8.1 6.6-9.8 6.6-8.6 6.5-7.2 6.5-6 3.2-2.5 3.3-2.2 3.1-1.9 3.2-1.6 3.2-1.2 3.1-.9 3.1-.6 3.1-.3 3.1 0 3 .3 3 .7 3 .9 3 1.2 2.9 1.6 2.9 1.8 2.9 2.1 5.7 5.1-3.9-8.5-5.3-10.2-4-6.9-5.4-8.1-4-5.3-5.5-6.2-7-7-7-6.1-5.7-4.3-7.2-4.7-7.1-3.6-7.3-2.9-5.8-1.7-5.8-1-7.4-.5z" fill="#09e7e6"/><path d="M519.4 57.7l-5.8.8-5.8 1.3-7.3 2.6-5.8 2.6-7.3 4.2-5.7 3.9-5.7 4.4-7.2 6.5-5.5 5.6-7.1 8-8.2 10.4-6.9 9.7-5.4 8.2-3.6 6-1.1 2.7-1 3-.5 2.2-.3 2.9 0 2.8.4 3 4.4-2.6 3.6-1.2 3.6-.7 3.6 0 3.7.7 3.8 1.3 3.8 2.1 3.9 2.7 3.8 3.4 4 4.1 3.9 4.8 2.7 3.6 6.7 10.3 4 7.1 3.3 6.2 6 1.2 7.5 1.3 8 1 5.7.4 7-13.6 5-8.9 6.6-10.7 6.6-9.5 6.6-8.2 6.5-7 6.5-5.6 3.2-2.4 3.3-2 4.7-2.5 3.2-1.2 3.1-.9 3.1-.6 3.1-.3 3.1 0 3 .3 3 .7 3 .9 3 1.2 2.9 1.6 2.9 1.8 2.9 2.1 5.7 5.1-3.9-8.5-5.3-10.2-4-6.9-5.4-8.1-4-5.3-5.5-6.2-7-7-7-6.1-5.7-4.3-7.2-4.7-7.1-3.6-7.3-2.9-5.8-1.7-5.8-1-7.4-.5z" fill="#15e5df"/><path d="M519.4 57.7l-5.8.8-5.8 1.3-7.3 2.6-5.8 2.6-7.3 4.2-5.7 3.9-5.7 4.4-7.2 6.5-5.5 5.6-7.1 8-8.2 10.4-6.9 9.7-6.2 9.5-1.9 3.5-1 2.5-.9 3-.4 2.3-.2 2.8.1 2.8.6 3.4 2.8-1.6 3.6-1.2 3.6-.7 3.6 0 3.7.7 3.8 1.3 3.8 2.1 3.9 2.7 3.8 3.4 2.7 2.7 3.9 4.5 2.7 3.5 4 5.7 2.6 4.2 6.8 11.9 8.1 1.8 7.3 1.2 6.8.9 8.4.7 5.5-10.7 6.7-11.7 6.6-10.4 6.6-9.2 4.9-6 6.5-7 6.5-5.6 3.2-2.4 3.3-2 4.7-2.5 3.2-1.2 3.1-.9 3.1-.6 3.1-.3 3.1 0 3 .3 3 .7 3 .9 3 1.2 2.9 1.6 2.9 1.8 2.9 2.1 5.7 5.1-3.9-8.5-5.3-10.2-4-6.9-5.4-8.1-4-5.3-5.5-6.2-7-7-7-6.1-5.7-4.3-7.2-4.7-7.1-3.6-7.3-2.9-5.8-1.7-5.8-1-7.4-.5z" fill="#20e4d8"/><path d="M520.7 57.6l-7.1.9-5.8 1.3-7.3 2.6-5.8 2.6-5.7 3.2-5.7 3.8-6 4.5-5.7 4.9-7.1 7-6.8 7.4-7 8.6-7 9.5-5.3 7.9-3.7 6-1.2 2.6-.9 2.9-.5 2.4-.3 2.8.2 4.1.8 3.9 3.6-1.5 3.6-.8 3.6-.3 3.7.5 3.7 1.1 3.8 1.8 3.9 2.5 2.5 2.1 4 3.6 2.6 2.8 5.3 6.6 5.3 7.7 6.2 10.5 7.6 1.8 8.2 1.5 9.5 1.3 8.6.6 5.8-10.8 6.6-11.3 5-7.7 6.6-9.2 4.9-6 6.5-7 6.5-5.6 3.2-2.4 3.3-2 4.7-2.5 3.2-1.2 3.1-.9 3.1-.6 3.1-.3 3.1 0 3 .3 3 .7 3 .9 3 1.2 2.9 1.6 2.9 1.8 2.9 2.1 5.7 5.1-3.9-8.5-5.3-10.2-4-6.9-5.4-8.1-4-5.3-5.5-6.2-5.6-5.7-7.1-6.3-7-5.4-5.7-3.8-7.3-3.9-5.7-2.5-5.8-1.9-7.4-1.6-7.1-.7z" fill="#38e2c4"/><path d="M521 57.6l-6.1.7-5.8 1.2-5.7 1.8-5.8 2.3-5.7 3-4.5 2.6-5.7 3.9-5.7 4.4-5.6 5-5.9 5.9-5.6 6-5.5 6.5-7 9.2-8 11.7-2.6 4.4-1.5 3.6-.9 3.8-.3 3.5.4 4 1.2 4.5 2.9-.9 2.4-.5 3.6-.3 2.5.3 3.7.9 2.5.9 2.5 1.3 2.6 1.6 3.8 3 2.6 2.3 4 4.1 2.6 3.1 5.3 7.2 6.8 10.8 8.6 2.2 9.6 1.8 10.6 1.3 8.8.6 7.5-13.6 6.6-10.7 6.6-9.5 6.6-8.2 6.5-7 6.5-5.6 3.2-2.4 3.3-2 3.1-1.7 4.8-2 4.7-1.3 4.6-.5 4.6.1 3 .5 3 .8 4.5 1.7 4.4 2.4 4.3 3.1 5.7 5.1-3.9-8.5-5.3-10.2-4-6.9-5.4-8.1-4-5.3-5.5-6.2-5.6-5.7-7.1-6.3-7-5.4-5.7-3.8-7.3-3.9-5.7-2.5-5.8-1.9-7.4-1.6-5.8-.6z" fill="#50e0b0"/><path d="M521 57.6l-6.1.7-5.8 1.2-5.7 1.8-5.8 2.3-5.7 3-4.5 2.6-5.7 3.9-5.7 4.4-5.6 5-5.9 5.9-5.6 6-5.5 6.5-7 9.2-5.3 7.6-2.9 4.4-2.2 4.8-1.2 4.5-.3 4.3.6 4.3.6 2.3.9 2.6 3.4-.7 2.4-.3 2.4.1 2.5.4 2.5.7 2.5.9 2.5 1.3 2.6 1.6 3.8 3 2.6 2.3 5.3 5.6 5.3 6.9 5.8 8.9 9.9 2.6 10.7 2.1 10.2 1.3 10.7.7 7.6-13.4 6.6-10.4 6.6-9.2 6.5-7.9 6.6-6.6 6.4-5.3 3.3-2.2 3.1-1.9 3.2-1.6 4.8-1.7 4.6-1 4.7-.3 4.5.3 4.5 1.1 4.5 1.7 4.4 2.4 4.3 3.1 5.7 5.1-3.9-8.5-5.3-10.2-4-6.9-5.4-8.1-4-5.3-5.5-6.2-5.6-5.7-7.1-6.3-7-5.4-5.7-3.8-7.3-3.9-5.7-2.5-5.8-1.9-7.4-1.6-5.8-.6z" fill="#84c27b"/><path d="M521.2 57.6l-4.7.4-5.8 1.1-4.5 1.2-5.7 2.1-5.8 2.6-5.7 3.2-4.5 2.9-5.6 4.1-5.7 4.7-4.4 4.1-5.5 5.6-7.1 8-5.5 6.8-7 9.5-3.8 5.5-2.2 4.5-.9 2.4-.6 3.1-.3 2.1.1 2.7.3 2.6.6 2.6.8 2.4 1.2 2.5 2.3-.3 2.4-.1 2.5.3 2.4.5 2.5.8 2.6 1.1 3.8 2.3 5.1 4.1 5.3 5.3 5.3 6.6 4.6 6.7 9.5 2.8 12 2.5 12.2 1.6 11.9.8 7.6-13.1 6.6-10.1 6.6-8.9 6.6-7.5 6.5-6.3 3.2-2.7 3.2-2.4 3.3-2 3.1-1.7 3.2-1.4 3.2-1.1 4.6-1 4.7-.3 4.5.3 4.5 1.1 4.5 1.7 4.4 2.4 4.3 3.1 5.7 5.1-3.9-8.5-5.3-10.2-4-6.9-5.4-8.1-4-5.3-5.5-6.2-5.6-5.7-7.1-6.3-7-5.4-5.7-3.8-7.3-3.9-5.7-2.5-5.8-1.9-7.4-1.6-5.8-.6z" fill="#afa74d"/><path d="M522.3 57.5l-5.8.5-5.8 1.1-4.5 1.2-5.7 2.1-5.8 2.6-5.7 3.2-4.5 2.9-5.6 4.1-5.7 4.7-4.4 4.1-5.5 5.6-5.6 6.2-5.8 7.1-5.5 7.2-4.7 6.7-2.3 4.1-.9 2.6-.8 3-.4 3.4.1 2.8.5 2.6.8 3 1.3 3.1 1.5 2.6 4.6.2 3.7.9 3.8 1.5 3.8 2.3 5.1 4.1 4 3.9 3.9 4.5 4.5 6 5 1.7 6.2 1.8 11.4 2.6 7.2 1.1 6.7.8 7.4.6 6.2.2 7.6-12.6 6.6-9.8 6.6-8.6 6.5-7.2 6.5-6 3.2-2.5 3.3-2.2 3.1-1.9 3.2-1.6 3.2-1.2 3.1-.9 4.7-.8 4.6-.1 4.5.6 4.5 1.3 4.4 2 4.4 2.6 4.3 3.3 4.2 3.8-3.8-8.4-5.3-10.2-4-6.9-5.4-8.1-4-5.3-5.5-6.2-5.6-5.7-5.6-5.1-5.6-4.5-7.2-5-5.8-3.4-7.1-3.3-7.3-2.5-5.8-1.4-7.4-.8z" fill="#c49735"/><path d="M522.3 57.5l-7.4.8-7.1 1.5-7.3 2.6-4.5 2-4.2 2.2-7.3 4.5-8.5 6.4-7.2 6.5-8.3 8.6-7.1 8.3-7 9.2-4.2 6.1-1.5 3-.8 2-.7 3-.4 2.8 0 2.9.4 2.6.7 2.6 1.4 3.5 1.2 2.3 2.1 3.1 2.7.4 2.5.7 3.8 1.5 2.5 1.5 3.9 2.7 3.8 3.4 4 4.1 3.6 4.4 5.9 2.3 5.9 1.9 6.3 1.7 11.6 2.3 12.1 1.6 7.2.4 6.4.2 5.8-9.5 4.9-7.5 5-6.8 6.5-7.9 4.9-5.1 4.9-4.3 4.8-3.7 3.3-2 3.1-1.7 4.8-2 3.1-.9 3.1-.6 4.7-.3 3 .1 3 .5 4.5 1.3 3 1.2 2.9 1.6 4.3 2.8 5.6 4.6 0-1.9-5-10.3-5.3-9.6-5.3-8.4-4.1-5.5-4-4.9-7-7.3-7-6.5-5.6-4.5-7.2-5-5.8-3.4-7.1-3.3-7.3-2.5-5.8-1.4-7.4-.8z" fill="#e69120"/><path d="M523.9 57.5l-7.4.5-4.5.8-4.2 1-4.4 1.5-5.8 2.3-7.3 3.9-4.2 2.5-4.4 3.1-7.3 5.8-8.4 7.8-8.3 9.1-7 8.6-6.4 8.7-1.2 2.1-1.3 2.7-1.2 4.5-.3 3.2.1 2.7.4 2.6 1.1 3.4 1.3 2.8 2 3.2 3.7 4.5 4.7 1.8 3.8 2.3 5.1 4.1 4.4 4.3 7.9 3.5 7.6 2.6 10.6 2.8 12 2.2 11.1 1.1 12.5.5 5.6-9 5-7.2 4.9-6.6 4.9-5.8 4.9-5.1 4.9-4.3 4.8-3.7 3.3-2 3.1-1.7 4.8-2 4.7-1.3 4.6-.5 3.1 0 3 .3 4.5 1.1 3 1.1 2.9 1.4 4.4 2.6 5.4 4.2.1-3.6-.8-1.9-6.7-12.6-2.6-4.5-4-6.2-4.1-5.5-4-4.9-7-7.3-7-6.5-5.6-4.5-5.7-4.1-7.3-4.3-5.7-2.7-5.8-2.2-7.4-2-7.1-1z" fill="#ff8c10"/><path d="M525.2 57.5l-4.2.1-4.5.4-5.8 1.1-4.5 1.2-4.1 1.5-4.5 1.8-5.7 3-4.5 2.6-8.5 6-5.7 4.7-4.4 4.1-5.5 5.6-4.4 4.8-8.2 10-5 6.8-2.1 4-1 2.8-.5 1.9-.3 2.8.1 2.7.3 2.6.9 3.1 1.1 2.6 1.5 2.7 2.3 3.2 1.8 2.1 2 2 3.4 2.8 6.4 4.5 7.6 4 8.7 3.6 9.9 3.1 11.3 2.5 10.1 1.5 10.5.9 10.8.2 5.4-8.3 4.9-7 5-6.3 4.9-5.5 4.9-4.9 4.8-4.1 4.9-3.4 4.7-2.7 4.8-2 4.7-1.3 4.6-.5 3.1 0 3 .3 4.5 1.1 4.5 1.7 4.4 2.4 5.2 3.8.3-3.2-.1-2.3-6-11.2-5.3-8.7-4-5.8-5.4-6.6-7-7.3-7-6.5-5.6-4.5-5.7-4.1-7.3-4.3-5.7-2.7-5.8-2.2-5.8-1.7-5.8-1z" fill="#ff8b10"/><path d="M525.2 57.5l-4.2.1-4.5.4-4.5.8-4.2 1-4.4 1.5-5.8 2.3-4.5 2.3-4.1 2.3-7.3 4.9-5.7 4.4-4.4 3.9-8.3 8.2-4.4 4.8-5.5 6.5-5.8 7.7-2.2 3.8-1.6 4.5-.4 2.9 0 2.7.3 2.7.7 2.8 1 2.5 1.6 3 2.3 3.3 1.8 2.1 3 2.9 2.3 1.9 6.4 4.5 7.6 4 8.8 3.6 9.9 3 11.4 2.5 10.3 1.4 10.4.8 11.3.1 5-7.5 5-6.8 3.3-4.1 4.9-5.5 4.9-4.9 4.8-4.1 4.9-3.4 4.7-2.7 4.8-2 4.7-1.3 4.6-.5 4.6.1 4.5.9 4.5 1.5 4.4 2.2 4.9 3.2.5-4-.2-3.4-4.3-7.9-5.3-8.7-4-5.8-5.4-6.6-7-7.3-7-6.5-5.6-4.5-5.7-4.1-7.3-4.3-5.7-2.7-5.8-2.2-5.8-1.7-5.8-1z" fill="#ff900f"/><path d="M525.2 57.5l-4.2.1-4.5.4-4.5.8-4.2 1-4.4 1.5-5.8 2.3-7.3 3.9-4.2 2.5-4.4 3.1-8.5 6.8-4.4 4.1-4.3 4.4-8.3 9.2-6.7 8.4-2.3 3.7-1.6 4.3-.5 2.8-.2 2.8.3 2.7.5 2.5.9 2.4 1.4 2.9 1.8 2.8 1.6 2.1 2.9 3 2.2 2 3.6 2.7 4 2.6 7.6 4 8.8 3.6 10 3 5.2 1.2 6.3 1.2 10.4 1.4 10.4.7 11.8-.1 4.6-6.5 4.9-6.6 3.3-3.9 4.9-5.3 3.3-3.2 4.8-4.1 4.9-3.4 4.7-2.7 3.2-1.4 4.7-1.5 4.7-.8 4.6-.1 4.5.6 4.5 1.3 4.4 2 4.6 2.7.6-2.8.2-2.1-.4-4.5-6.6-11.2-5.3-7.9-5.4-6.6-7-7.3-7-6.5-5.6-4.5-5.7-4.1-7.3-4.3-5.7-2.7-5.8-2.2-5.8-1.7-5.8-1z" fill="#ff9e0c"/><path d="M525.2 57.5l-4.2.1-4.5.4-4.5.8-4.2 1-4.4 1.5-5.8 2.3-7.3 3.9-4.2 2.5-4.4 3.1-8.5 6.8-4.4 4.1-4.3 4.4-8.3 9.2-5.2 6.4-1.2 1.8-1.3 2.6-1 2.4-.5 1.9-.4 2.6 0 2.5.3 2.8.7 2.5.9 2.4 1.2 2.3 1.4 2.2 1.6 2.1 2.2 2.4 2.8 2.6 3.6 2.8 4.1 2.6 7.6 4 8.8 3.5 10.1 3 5.7 1.2 5.9 1.1 10.6 1.3 12.2.6 10.6-.2 3.9-5.5 5-6.3 3.2-3.8 4.9-5.1 3.3-2.9 4.8-3.9 3.3-2.2 4.7-2.7 3.2-1.4 4.7-1.5 4.7-.8 4.6-.1 3 .3 4.5 1.1 4.5 1.7 4 2.2.9-3.5.3-2.8-.1-1.7-.6-3.5-2-3.5-5.3-8.4-5.4-7.2-2.7-3.2-5.6-5.9-7-6.7-7-5.7-5.7-4.1-7.3-4.3-5.7-2.7-5.8-2.2-5.8-1.7-5.8-1z" fill="#ffac08"/><path d="M526.8 57.5l-7.4.2-4.5.6-4.2.8-4.5 1.2-4.1 1.5-4.5 1.8-4.5 2.3-4.1 2.3-4.5 2.9-8.5 6.4-7.2 6.5-8.3 8.6-7 8.2-2.5 3.6-1.2 2.7-.8 2.2-.5 2.2-.3 2.2.1 2.7.4 2.5.8 2.5 1 2.4 1.2 2.3 1.5 2.1 2.2 2.5 2.6 2.6 2.2 1.9 3.7 2.7 4.2 2.5 4.6 2.4 8.6 3.6 9.9 3.1 4.4 1 7 1.4 10.4 1.4 12 .7 11.5-.2 2.8-.2 4.8-6.4 4.9-5.8 3.3-3.4 4.9-4.6 3.2-2.7 3.2-2.4 3.3-2 4.7-2.5 3.2-1.2 4.7-1.3 3.1-.4 4.6-.1 3 .3 4.5 1.1 3 1.1 3.4 1.6 1.2-3.6.4-3.2-.1-3.3-.9-3.7-5.3-8.4-5.4-7.2-5.5-6.2-8.4-8.3-5.6-4.8-5.7-4.3-7.2-4.7-5.8-3-5.7-2.5-7.4-2.3-7.1-1.4z" fill="#ffc502"/><path d="M526.8 57.5l-7.4.2-4.5.6-4.2.8-7.3 2.2-4.2 1.6-4.5 2.1-7.3 4.2-8.5 6-8.5 7.3-4.4 4.2-4.3 4.6-5.5 6.3-3.2 4.2-1.3 2.6-.8 1.8-.6 2.6-.3 1.9 0 2.7.3 2.5.7 2.6.9 2.4 1.3 2.3 1.4 2.1 1.7 2.1 3 3 2.2 1.9 3.8 2.7 2.7 1.7 4.4 2.5 8.4 3.6 9.8 3.1 10.6 2.5 10.8 1.5 11.8.8 11.4-.1 6.7-.5 7.1-8.7 3.3-3.4 4.9-4.6 3.2-2.7 3.2-2.4 3.3-2 4.7-2.5 3.2-1.2 3.1-.9 3.1-.6 4.7-.3 3 .1 3 .5 3 .8 4.1 1.5.9-1.9.8-2.5.5-4.1-.3-3.8-1.2-3.8-4.5-6.8-5.3-6.9-7-7.5-5.6-5.4-5.6-4.8-5.7-4.3-7.2-4.7-5.8-3-5.7-2.5-7.4-2.3-7.1-1.4z" fill="#ffdc00"/><path d="M528.1 57.6l-7.1 0-7.4.9-7.4 1.8-4.1 1.5-4.5 1.8-4.5 2.3-4.1 2.3-7.3 4.9-8.5 6.8-7.2 6.8-7.1 7.7-3.8 4.8-2.1 3.9-.9 2.9-.3 1.6-.1 2.8.2 2.6.6 2.6.8 1.9 1.3 2.7 1.5 2.2 3.6 4.1 3.2 2.9 2.4 1.8 2.9 2 4.1 2.3 8.2 3.7 9.5 3.2 4.9 1.3 6.1 1.3 10.1 1.5 11.5.9 10.1 0 6.2-.3 5.8-.6 4.3-5.1 3.3-3.4 6.5-6 3.2-2.5 3.3-2.2 3.1-1.9 4.8-2.2 4.7-1.5 3.1-.6 3.1-.3 3.1 0 3 .3 3 .7 3.1.9 1.9-3.9.7-2.7.3-2.3-.1-4.1-1.2-4.1-.8-1.8-.7-1.1-5.4-7.2-5.5-6.2-5.6-5.7-5.6-5.1-7.1-5.6-5.7-3.9-7.1-4.1-7.3-3.2-5.8-1.9-5.8-1.4z" fill="#fff200"/><path d="M528.1 57.6l-7.1 0-7.4.9-7.4 1.8-4.1 1.5-4.5 1.8-4.5 2.3-4.1 2.3-7.3 4.9-8.5 6.8-7.2 6.8-5.5 5.9-3.3 4.1-2.2 3.8-.9 2.6-.4 1.8-.2 2.5.1 2.7.6 2.5.6 2 1.3 2.7 1.5 2.2 3.5 4.1 2.6 2.4 3 2.3 4 2.6 3 1.6 7.6 3.5 8.2 2.8 8.5 2.2 10.2 1.8 10.3 1.1 11.2.3 9.3-.4 8.8-1 4.5-4.8 3.3-3.2 6.4-5.3 3.3-2.2 3.1-1.9 3.2-1.6 3.2-1.2 4.7-1.3 4.6-.5 4.6.1 4.7.9 1.4-2.2 1-2 .8-2 .7-2.8.2-1.9-.1-2.9-1-4-2-4.1-3.4-4.4-5.5-6.2-5.6-5.7-5.6-5.1-7.1-5.6-5.7-3.9-7.1-4.1-7.3-3.2-5.8-1.9-5.8-1.4z" fill="#fdfd04"/><path d="M528.1 57.6l-7.1 0-7.4.9-5.8 1.3-7.3 2.6-4.5 2-4.1 2.2-7.4 4.5-7.2 5.4-6.9 6-4.4 4.2-5.8 6.3-2.5 3.6-1.2 2.7-.7 2.1-.4 2.4-.1 1.9.3 2.6.6 2.5.9 2.4 1.3 2.3 1.5 2.1 1.7 2.1 2.7 2.6 2.6 2.2 2.6 1.8 4.1 2.5 3.1 1.6 4.9 2.2 7.4 2.6 8.3 2.3 9.5 1.8 9.5 1.1 10.6.4 6.6-.1 5.2-.3 7.2-.7 5.6-.9 5.7-5.4 4.8-3.9 4.9-3.2 4.7-2.5 4.8-1.7 4.6-1 4.7-.3 4.4.3 1.9-2.4 1.3-2.1 1.6-3.7.5-2 .2-2.8-.3-3.6-1.2-3.9-2.2-3.9-3.6-4.4-5.6-5.9-7-6.7-7-5.7-5.7-4.1-7.3-4.3-7.1-3.3-7.3-2.5-5.8-1.4z" fill="#f9f90d"/><path d="M529.7 57.7l-7.4-.2-7.4.8-7.1 1.5-7.3 2.6-5.8 2.6-7.3 4.2-5.7 3.9-8.5 6.8-4.4 4.1-6.4 6.6-2.5 3.5-1.3 2.6-.6 1.5-.6 2.9-.2 1.7.2 2.5.5 2.5.9 2.4 1.2 2.3 1.4 2.2 1.7 2 4.2 3.9 2.4 1.8 4 2.6 6.1 3.2 6.9 2.8 8 2.4 9.2 2 10 1.4 9.8.6 8.3 0 7.7-.4 9.3-1.2 6.9-1.3 4.5-3.8 3.2-2.4 3.3-2 4.7-2.5 3.2-1.2 4.7-1.3 3.1-.4 3.3-.2 2.9-3 2.4-3.4 1.8-3.9.7-3.7 0-2.3-.2-1.7-1.1-3.8-2-3.8-2.4-3.2-8.1-8.3-5.6-5.1-4.3-3.5-4.2-3.1-7.2-4.7-7.1-3.6-7.3-2.9-7.4-2z" fill="#f4f41a"/><path d="M529.7 57.7l-7.4-.2-5.8.5-7.4 1.5-7 2.3-7.4 3.2-7.3 4.2-5.7 3.9-7.3 5.8-5.6 5.1-5 5.2-2.5 3.6-1.5 3.7-.4 2-.2 2.4.2 2.6.7 2.5 1.5 3.5 1.4 2.2 1.7 2 1.9 2 2.2 1.9 2.4 1.9 4 2.5 6.1 3.2 7 2.7 8 2.4 9.1 1.9 7.7 1.1 8.8.7 9.8 0 9-.5 9.2-1.3 8.2-1.7 4.2-1.2 4.6-3 4.7-2.5 4.8-1.7 3.4-.8 4.6-3.6 3-3.2 2.3-3.5 1.6-3.9.5-3.2-.2-3-.9-3.8-1.8-3.5-1.5-2.2-1.7-1.9-7.2-7.2-7-6.1-5.7-4.3-7.2-4.7-7.1-3.6-7.3-2.9-7.4-2z" fill="#ecec2f"/><path d="M531 57.8l-5.8-.3-5.8.2-7.4 1.1-7.1 1.9-7.3 2.9-5.8 3-7.3 4.5-5.6 4.1-5.7 4.7-6.1 5.8-2.8 3.4-2 3.8-.6 1.9-.4 2.7 0 1.8.3 2.4.4 1.6 1 2.4 1 1.8 1.5 2.2 1.8 2.1 2 1.9 4.8 3.6 2.7 1.7 4.5 2.4 6.8 2.8 7.8 2.5 7 1.6 9.5 1.5 8.5.7 9.8.1 8.5-.4 9.2-1.2 8.4-1.7 7.5-2.3 6.7-2.7 5.8-3.2 5-3.6 3.1-3.1 2.5-3.5 1.4-3 .9-3.7 0-3.2-.9-3.7-.9-2.1-1.3-2.2-2.5-3.2-7-6.8-5.6-4.8-5.7-4.3-7.2-4.7-7.1-3.6-7.3-2.9-5.8-1.7z" fill="#e8e838"/><path d="M531 57.8l-5.8-.3-5.8.2-7.4 1.1-7.1 1.9-7.3 2.9-5.8 3-7.3 4.5-5.6 4.1-5.7 4.7-4.7 4.5-2.6 3.5-1.7 3.6-.7 3.4.1 3.6.6 2.5.8 2 2.2 3.7 1.8 2 2 2 4.7 3.6 5.7 3.3 6.6 2.9 7.6 2.5 8.6 2 7.6 1.2 9.4.9 8.6.1 7.8-.4 9.4-1.1 8.4-1.7 7.5-2.2 6.7-2.7 5.8-3.2 2.6-1.8 2.4-1.9 3-3.1 1.6-2.3 1.8-3.7.8-3.3 0-2.9-.3-1.6-.6-2.3-1.8-3.5-2.4-3.2-5.4-5.3-7.1-6-7-5.1-5.8-3.4-7.2-3.6-5.8-2.2-5.8-1.7z" fill="#e1e147"/><path d="M531 57.8l-5.8-.3-5.8.2-5.8.8-7.4 1.8-5.7 2.1-5.8 2.6-7.3 4.2-5.7 3.9-5.7 4.4-5 4.6-2.2 2.5-2 3.5-.6 1.6-.5 2.7 0 3.5.5 2 .9 2.4 1.9 3.3 1.7 2.1 2 1.9 4.7 3.7 5.7 3.2 6.7 2.9 7.7 2.5 7.9 1.8 8.6 1.3 8.3.6 8.5.1 10-.7 6.8-1 8.3-1.7 7.3-2.4 6.5-2.8 4.6-2.7 4.5-3.4 2.6-2.7 1.9-2.8 1.4-3.2.5-1.6.2-2.1-.2-3.3-.9-3-1.8-3.4-2.5-3.1-5.7-5.3-5.6-4.5-5.7-4.1-7.3-4.3-5.7-2.7-5.8-2.2-5.8-1.7z" fill="#dada57"/><path d="M532.6 58l-7.4-.5-5.8.2-5.8.8-5.8 1.3-4.4 1.5-5.8 2.3-5.8 3-7.3 4.5-5.6 4.1-5.4 4.6-2.6 3-1.6 2.8-.9 2.2-.3 1.5-.2 2.3.1 1.8.5 2 .5 1.7 1.9 3.4 1.7 2.1 1.9 1.9 3.4 2.8 5.4 3.4 6.5 2.9 7.5 2.6 8.7 2 7.8 1.2 8.2.7 9.6 0 7.6-.5 6.9-.9 8.2-1.7 7.4-2.3 6.5-2.9 4.2-2.4 2.5-1.8 2.3-2 2-2.1 2.3-3.5 1.1-2.6.5-3-.1-3.2-1.1-3.5-1.5-2.7-2.3-2.9-3.8-3.6-7.1-5.6-5.7-3.9-5.8-3.4-5.7-2.7-5.8-2.2-5.8-1.7z" fill="#d1d16a"/><path d="M532.6 58l-5.8-.5-5.8.1-6.1.7-5.8 1.2-5.7 1.8-5.8 2.3-5.8 3-5.7 3.4-4.4 3.1-5.6 4.4-2.8 3.3-1.5 2.4-1.1 2.8-.3 1.5-.1 2.7.2 1.3.7 2.4 1.7 3.4 2.5 3.1 2 2 2.3 1.8 5.5 3.4 6.5 2.9 7.3 2.4 6.8 1.6 7.4 1.2 8 .7 8.5.2 7.7-.4 7-.9 8.4-1.7 6.1-1.8 6.2-2.5 4.4-2.4 2.6-1.7 2.3-1.9 2.5-2.5 2.1-3 1.2-2.9.6-3.1-.2-2.9-.4-1.6-.8-2.1-1.3-2.3-2.4-3-4.2-3.7-5.7-4.3-5.7-3.8-5.7-3.2-4.4-2-5.8-2.2-5.8-1.7z" fill="#c5c584"/><path d="M533.9 58.2l-5.8-.6-5.8-.1-5.8.5-5.8 1.1-4.5 1.2-5.7 2.1-5.8 2.6-5.7 3.2-4.5 2.9-5.6 4.2-3 3.2-1.4 2.2-1.2 2.9-.5 3.2.1 1.8.5 2.1 1.6 3.4 2.4 3.2 2 1.9 2.3 1.8 4 2.6 6.2 3 7.4 2.6 6.4 1.6 7.2 1.2 8.3.8 6.5.2 7.9-.3 8.3-1 7.2-1.5 7.4-2.2 4.9-2.1 3-1.5 2.7-1.7 3.6-2.8 2.8-3.3 1.5-2.4.9-2.6.4-2.4-.2-2.8-.8-2.6-1.8-3.2-1.8-2.2-3-2.9-4.9-3.6-5.7-3.8-5.7-3.2-4.4-2-5.8-2.2-5.8-1.7z" fill="#b8b89f"/><path d="M533.9 58.2l-5.8-.6-5.8-.1-5.8.5-4.5.8-5.8 1.5-5.7 2.1-5.8 2.6-4.4 2.5-5.8 3.6-2.8 2.1-3 3.1-1.6 2.4-1.3 3.2-.3 2.8.1 1.6.5 2 1.1 2.6 2.3 3.2 2 1.9 2.2 1.8 4 2.6 6.3 3 5.5 1.9 6.2 1.7 7.2 1.3 8.1.8 7.3.2 7.8-.4 6.9-.9 7.2-1.4 6.6-2 4.9-2.1 3-1.5 2.6-1.8 3.5-2.8 1.9-2.2 1.7-2.7.8-2.3.4-2.9-.2-2.4-.8-2.5-1.9-3.2-1.9-2.2-3.2-2.8-4.6-3.3-4.4-2.7-5.8-3-4.2-1.9-4.4-1.6-5.8-1.7z" fill="#b7a4a5"/><path d="M533.9 58.2l-5.8-.6-4.2-.1-4.5.2-5.8.8-5.8 1.3-4.4 1.5-5.8 2.3-5.8 3-4.4 2.6-2.7 1.9-3.1 3.1-1.7 2.4-1.3 3.2-.3 2.8.2 1.5.5 2.1 1.2 2.5 2.5 3.1 3.2 2.8 2.6 1.7 2.8 1.6 4.9 2.2 5.5 1.9 6.4 1.6 5.3.9 7.6.8 6.3.2 7.3-.3 6.5-.7 6.4-1.2 5.7-1.6 3.5-1.3 3.2-1.4 4.3-2.4 3.6-2.8 1.9-2.1 1.8-2.7.9-2.2.4-2.7-.2-2.7-.9-2.5-1.3-2.2-1.7-2.1-3.1-2.8-2.6-1.9-4.4-2.7-5.8-3-4.2-1.9-4.4-1.6-5.8-1.7z" fill="#c78286"/><path d="M535.5 58.4l-5.8-.7-4.5-.2-5.8.2-4.5.6-4.2.8-5.8 1.6-4.4 1.7-5.8 2.6-4.4 2.4-2.5 1.7-3.2 3-1.7 2.2-1.2 2.8-.3 1.9.1 2.7.7 2.5 2 3.2 2.9 3 3.6 2.6 4.4 2.4 5.2 2 5.9 1.8 6.9 1.4 5.2.6 5.9.4 7.6-.1 7.2-.7 6.5-1.1 5.8-1.6 5.1-1.9 4.4-2.3 3.8-2.7 2-2 1.7-2.3.9-2 .5-2 .1-2.6-.6-2.5-1.2-2.4-1.5-2.1-2-1.9-3.4-2.7-3.9-2.2-4.4-2.3-4.2-1.9-4.4-1.6-4.5-1.3z" fill="#d56168"/><path d="M535.5 58.4l-5.8-.7-4.5-.2-4.2.1-4.5.4-4.5.8-4.2 1-4.4 1.5-5.8 2.3-3.9 2-2.6 1.7-3.2 2.7-1.5 1.9-1 1.8-.5 1.6-.3 1.4.1 2.7.8 2.4 1.3 2.2 2.8 3 3.6 2.6 4.4 2.4 5.2 2 6.1 1.7 5 .9 6.8.8 7.2.2 6.5-.3 6-.7 5-1 5.5-1.7 4.9-2 3.8-2.2 2.7-2.2 1-1 1.7-2.3 1.2-2.5.4-2.3-.2-2.4-.5-1.5-1.1-2.3-1.7-2.1-2-1.9-2.3-1.8-3.1-1.8-4.2-2-7.3-2.9-4.5-1.3z" fill="#e04249"/><path d="M536.8 58.7l-4.2-.7-4.5-.4-4.2-.1-4.5.2-4.5.6-4.2.8-4.5 1.2-5.7 2.1-3.2 1.5-2.7 1.6-2.4 1.8-1.9 2.1-1.5 2.5-.6 2.4 0 2.3.6 2 1.5 2.7 2 2.2 2.3 1.8 4.1 2.5 5 2.1 3.9 1.2 6.1 1.3 5.7.8 4.3.3 5.5 0 7.4-.6 4.4-.7 4-.9 5.4-1.8 4.6-2.2 2.6-1.7 2.2-2 1.8-2.2 1.1-2.5.3-1.4.1-1.7-.6-2.5-.7-1.4-1.4-1.9-3-2.9-2.4-1.7-2.9-1.5-5-2.2-2.9-1z" fill="#e9252c"/><path d="M536.8 58.7l-4.2-.7-4.5-.4-4.2-.1-4.5.2-4.5.6-4.2.8-6.4 1.9-3.1 1.3-2.8 1.5-2.5 1.8-2 2.1-1.3 2.4-.5 1.5-.1 1.7.5 2.3 1.2 2.2 1.7 2.1 2.2 1.8 4.1 2.5 3.3 1.4 3.7 1.2 4.2 1.1 4.8.8 5.6.5 5.6 0 5-.3 4.5-.6 4.1-.9 5.4-1.7 3.1-1.5 2.7-1.6 2-1.6 1.3-1.4 1.5-2.4.4-1.3.3-1.5-.2-1.9-.5-1.7-1.1-1.8-.8-1.1-2-1.9-2.4-1.7-2.8-1.6-5.2-2z" fill="#f30c19"/><path d="M501.2 63.3l-2.2 1.9-1 1.1-.7 1.2-.6 1.3-.2 1.5.2 1.8.7 1.9.7 1.1.8 1 2.1 1.9 4.1 2.4 5.2 2 6.4 1.5 5.7.7 5.8.1 7.2-.6 6.1-1.3 5.1-1.9 4.1-2.5 1.1-1 1.8-2.1.7-1.3.3-1.4.1-2-.4-1.2-.5-1.2-1.5-2.1-2.1-1.9-2.6-1.7-4.7-2.1-3.7-1.1-4.2-.9-5.3-.7-4.5-.2-4 .1-4.6.4-4.2.7-3.7 1-4.8 2z" fill="#ff0001"/><path d="M507.2 61.3l-2.5 1.8-2 2.2-.6 1.2-.3 1.5.2 1.7.5 1.2 1.5 2.1 1 .9 2.6 1.7 4.5 2 4.5 1.2 4.9.8 6.1.2 4.2-.3 6.3-1.1 5.1-1.9 2.7-1.7 2.1-2 .8-1.2.5-1.3.1-1.6-.6-2.1-1.5-2.1-1-1-2.5-1.7-3-1.4-5.6-1.7-4.1-.7-3.2-.3-3.1-.1-4.7.2-6.3 1.1-3.5 1z" fill="#ff0000"/><path d="M514.5 60.2l-2.9 1.5-1.2.9-.9 1.1-.6 1.3-.1.9.2 1.3 1 1.8 1.4 1.3 2.8 1.6 3.7 1.2 2.6.6 5 .4 3.8-.1 4.3-.7 3.6-1.1 2.9-1.6 1.8-2 .6-1.5-.1-1.5-.5-1.1-.8-1.1-1-1-2.7-1.6-3.5-1.2-4.4-.9-2.7-.2-3.2 0-5.4.6z" fill="#ff0000"/><path d="M502.8 222.6l-5.4-13.2-5.5-12-5.4-10.8-2.7-5-4-6.9-5.4-8.1-5.3-6.8-5.2-5.6-2.6-2.4-3.9-2.9-2.5-1.6-2.6-1.3-2.5-1-3.7-.9-2.5-.2-2.4 0-2.4.4-3.6 1.1-2.4 1.1-2.3 1.3-2.3 1.7-3.4 2.9-4.4 5-2.1 2.8-3.2 4.8M502.8 222.6l8.2-18.8 6.6-13.7 5-9.6 3.3-5.9 6.6-11.1 6.6-9.8 6.6-8.5 3.3-3.8 3.3-3.5 3.2-3.1 4.9-4.2 3.2-2.3 3.2-2.1 3.2-1.7 3.2-1.4 3.1-1.1 3.2-.7 3.1-.5 4.6-.1 3 .4 3 .6 3 .9 4.5 2 2.9 1.7 2.9 2 2.8 2.2 4.2 4M508.6 209.3l-5.5-13.2-5.4-11.9-5.5-10.8-2.7-4.9-4-6.8-5.4-8-5.3-6.8-2.7-2.9-2.6-2.6-2.6-2.3-3.9-2.9-2.6-1.5-2.5-1.2-2.6-.9-3.7-.8-2.5-.2-2.4.2-2.5.4-3.6 1.2-2.4 1.2-2.3 1.4-2.3 1.7-3.4 3.1-4.5 5.1-2.2 3-3.2 4.9M498.1 211l8.2-18.7 6.6-13.7 4.9-9.5 3.3-6 6.6-10.9 6.6-9.7 6.6-8.5 3.3-3.7 3.3-3.4 3.3-3.2 4.8-4 3.3-2.3 3.2-2 3.2-1.6 3.1-1.4 3.2-1 3.1-.7 3.2-.4 4.6 0 3 .4 3.1.7 3 1 4.4 2.1 2.9 1.8 2.9 2 2.9 2.3 4.2 4.1M514.3 196.8l-5.4-13.1-5.5-11.9-5.4-10.7-2.8-4.9-4-6.7-5.4-7.9-5.3-6.7-2.7-2.8-2.6-2.6-2.7-2.2-3.9-2.8-2.6-1.4-2.5-1.2-2.6-.8-3.8-.7-2.5-.1-2.4.2-2.5.5-3.6 1.3-2.4 1.3-2.4 1.5-2.3 1.8-3.5 3.2-4.5 5.3-2.2 3-3.2 5M493.3 200.3l8.2-18.7 6.6-13.6 4.9-9.4 3.3-5.9 6.6-10.9 6.7-9.6 6.5-8.4 3.3-3.7 3.3-3.4 3.3-3 4.8-4 3.3-2.2 3.2-2 3.2-1.6 3.2-1.2 3.2-1 3.1-.6 3.1-.4 4.7.1 3 .5 3.1.8 3 1 4.4 2.2 3 1.8 2.9 2.1 2.9 2.5 4.2 4.1M520.1 185.2l-5.5-13-5.4-11.9-5.5-10.6-2.7-4.8-4.1-6.7-5.4-7.8-5.3-6.5-2.7-2.8-2.7-2.5-2.6-2.2-3.9-2.7-2.6-1.4-2.6-1.1-2.6-.7-3.8-.6-2.5 0-2.5.2-2.5.6-3.6 1.5-2.4 1.3-2.4 1.6-2.4 1.8-3.4 3.4-4.6 5.4-2.2 3.1-3.3 5.1M488.5 190.5l8.2-18.6 6.6-13.6 6.6-12.3 6.6-11.1 6.6-9.9 3.3-4.4 4.9-6.1 3.3-3.6 3.3-3.3 3.3-3 4.9-3.9 3.2-2.2 3.2-1.9 3.2-1.5 3.2-1.3 3.2-.9 3.1-.5 3.2-.3 4.6.2 3.1.5 3 .8 3.1 1.2 4.4 2.2 3 1.9 2.9 2.2 2.9 2.5 4.3 4.2M525.9 174.6l-5.5-13-5.4-11.8-5.5-10.5-5.5-9.3-5.4-8-5.4-6.8-2.7-2.9-2.6-2.5-2.7-2.3-3.9-2.8-2.7-1.5-2.6-1.2-2.6-.9-2.5-.5-2.6-.3-2.5.1-2.5.3-3.7 1.1-2.5 1.1-2.4 1.4-2.4 1.7-3.6 3-2.3 2.4-2.3 2.6-2.3 2.9-3.4 4.9M483.8 181.6l8.2-18.5 6.5-13.5 6.6-12.2 6.6-11 6.6-9.8 3.3-4.4 5-6 3.2-3.6 3.3-3.2 3.3-3 4.9-3.8 3.2-2.1 3.2-1.9 3.2-1.4 3.2-1.2 3.2-.8 3.2-.6 3.1-.2 4.7.3 3 .6 3.1.9 3 1.2 4.5 2.3 3 2 2.9 2.2 2.9 2.6 4.3 4.3M531.7 164.8l-5.5-12.9-5.4-11.6-5.5-10.5-5.5-9.2-5.4-7.9-5.4-6.6-2.7-2.9-2.7-2.5-2.7-2.2-2.6-1.9-2.7-1.6-2.6-1.3-2.6-.9-2.6-.7-2.6-.3-2.5-.1-2.5.3-2.6.6-2.4.8-2.5 1.2-2.5 1.4-2.4 1.8-2.4 2-2.3 2.3-2.4 2.6-3.5 4.4M479.1 173.7l8.1-18.4 6.6-13.4 6.6-12.2 6.5-10.9 6.6-9.7 3.3-4.3 5-5.9 3.3-3.6 3.2-3.2 3.3-2.9 4.9-3.7 3.2-2.1 3.2-1.7 3.2-1.5 3.2-1.1 3.2-.8 3.2-.4 3.1-.2 4.7.4 3.1.6 3 1 3.1 1.2 4.5 2.5 2.9 2 3 2.3 2.9 2.6 4.3 4.4M537.5 156.1l-4.1-9.8-5.5-11.9-5.5-10.6-5.4-9.4-5.5-8.2-5.4-6.8-2.7-3-2.7-2.6-2.7-2.3-2.7-2-2.6-1.7-2.7-1.4-2.6-1-2.6-.8-2.6-.4-2.6-.1-2.5.1-2.6.5-2.5.8-2.5 1.1-2.5 1.3-2.4 1.7-2.4 2-2.4 2.2-2.4 2.5-2.4 2.8M474.4 166.6l8.1-18.2 6.6-13.3 6.5-12.1 6.6-10.8 6.6-9.5 6.6-8.3 3.2-3.7 3.3-3.3 3.3-3 4.9-3.9 3.2-2.2 3.2-1.8 3.3-1.6 3.2-1.2 3.2-.9 3.1-.6 3.2-.2 4.7.2 3.1.5 3 .9 3.1 1.1 3 1.5 3 1.8 3 2 2.9 2.4 4.4 4M543.2 148.2l-4-9.6-5.5-11.8-5.5-10.6-5.5-9.3-4.1-6.1-5.4-7.1-2.7-3.1-2.7-2.7-2.7-2.4-2.7-2.1-4-2.6-2.7-1.3-2.6-1-2.6-.7-2.6-.4-2.6 0-2.6.2-3.8.9-2.5 1-2.5 1.3-2.5 1.6-2.5 1.9-2.4 2.1-2.4 2.4M469.8 160.6l6.4-14.7 6.5-13.5 6.6-12.2 6.5-11.1 6.6-9.7 6.6-8.5 3.2-3.8 3.3-3.4 3.3-3.1 3.2-2.8 3.3-2.5 3.2-2.1 3.3-1.8 3.2-1.5 3.2-1.1 3.2-.9 3.1-.5 3.2-.2 3.1.1 3.1.4 3.1.8 3.1 1 3.1 1.4 3 1.7 3 1.9 4.4 3.5M549 141.4l-4.1-9.6-5.5-11.7-4.1-8-5.5-9.5-4.1-6.3-5.4-7.3-4.1-4.6-2.7-2.7-2.7-2.3-4-3-2.7-1.6-2.7-1.2-4-1.3-2.6-.5-2.6-.2-3.9.4-2.5.6-2.6.9-2.5 1.2-2.5 1.4-2.5 1.8-2.4 2.1M465.2 155.5l6.4-14.6 6.5-13.4 6.5-12.1 4.9-8.3 4.9-7.6 6.6-9 3.2-4.1 3.3-3.7 3.3-3.3 3.2-3.1 4.9-4 3.3-2.2 3.2-1.9 3.2-1.6 3.2-1.3 3.2-1 3.2-.6 3.2-.3 3.1 0 3.1.3 3.1.7 3.1.9 3.1 1.3 3 1.5 3 1.9M554.7 135.5l-4.1-9.5-4.1-8.8-4.1-8.1-5.5-9.8-4.1-6.4-5.4-7.5-4.1-4.8-2.7-2.8-2.8-2.5-4-3.1-4-2.4-4-1.7-2.7-.7-2.6-.4-3.9 0-2.6.3-2.6.7-3.8 1.5-2.6 1.4-2.5 1.7M460.6 151.3l6.4-14.5 4.9-10 6.5-12.4 4.8-8.4 4.9-7.8 6.6-9.2 4.9-6.1 3.2-3.6 3.3-3.3 4.9-4.4 3.2-2.5 3.2-2.2 4.9-2.7 3.2-1.4 3.2-1 4.8-1 3.1-.3 3.2.1 3.1.4 3.1.6 3.1 1 3 1.3M560.4 130.6l-4.1-9.4-4.1-8.7-4.1-8.1-4.1-7.3-4.1-6.6-4.1-5.9-4.1-5.2-2.7-3.1-2.8-2.7-4-3.5-4.1-2.8-4-2.1-2.7-1-2.6-.7-4-.4-3.9.3-3.9.9-2.6 1-2.5 1.3M456.1 148l6.4-14.3 4.8-10 4.9-9.2 4.8-8.6 4.9-7.9 4.9-7.2 4.9-6.5 3.2-3.9 3.3-3.6 4.8-4.7 4.9-4.1 4.9-3.3 3.2-1.8 3.2-1.5 4.8-1.7 3.2-.7 3.1-.3 4.8 0 3.1.4 3.1.7M566 126.7l-4.1-9.3-4-8.7-4.1-7.9-4.1-7.3-4.1-6.5-4.2-5.8-4.1-5.2-4-4.3-4.1-3.7-4.1-2.9-4-2.3-4-1.5-4-.8-4-.2-3.9.6-3.9 1.2M451.7 145.7l6.3-14.2 4.8-9.8 4.8-9.2 4.9-8.5 4.8-7.8 4.9-7.1 4.9-6.4 4.8-5.6 4.9-5 4.8-4.2 4.9-3.5 4.8-2.7 4.8-2.1 4.8-1.3 4.8-.6 3.1 0 3.1.3M571.6 123.8l-6.8-15.1-4.1-8.1-4.1-7.4-2.7-4.5-4.1-6.2-4.1-5.5-4.1-4.8-2.7-2.8-4.1-3.6-4.1-2.9-4-2.1-4-1.5-4-.7-4-.1-4 .6M447.3 144.3l4.7-10.6 4.8-10 4.8-9.3 4.8-8.6 4.8-8 3.2-4.9 4.9-6.7 4.8-6.1 3.3-3.6 4.8-4.9 4.9-4.1 4.8-3.4 4.8-2.7 4.8-2 4.8-1.2 4.7-.6M577.1 121.8l-2.7-6.2-4-8.7-2.8-5.4-4-7.5-2.8-4.7-4.1-6.3-4.1-5.7-4.1-4.9-2.7-2.9-4.1-3.8-2.7-2.1-4.1-2.5-2.7-1.4-4-1.3-4-.7-4 0M443 143.9l4.7-10.6 4.7-9.8 4.8-9.2 3.2-5.8 4.8-8.1 3.2-5 3.2-4.6 4.8-6.5 3.2-3.9 4.9-5.2 3.2-3.1 4.8-4.1 3.2-2.3 4.8-2.8 4.8-2.2 4.8-1.4M582.6 120.8l-5.4-11.9-2.7-5.5-4.1-7.7-2.7-4.8-4.1-6.5-2.7-3.9-4.1-5.4-2.8-3.1-4-4.2-2.8-2.3-4-3-2.8-1.6-4-1.8-2.7-.8-4-.6M438.8 144.3l4.6-10.4 3.2-6.6 4.7-9.3 3.2-5.9 4.7-8.2 3.2-5 6.4-9.3 6.4-7.9 3.2-3.6 4.8-4.6 3.2-2.8 4.8-3.5 3.2-1.9 4.8-2.3M587.9 120.8l-5.3-11.8-2.7-5.5-4.1-7.6-5.4-9-2.7-4.1-4.1-5.4-2.7-3.3-2.8-3-2.7-2.6-4.1-3.3-2.7-1.9-2.7-1.5-2.7-1.3-4-1.2M434.6 145.6l6.2-13.6 6.3-12.4 6.3-11.2 6.3-10 6.4-8.8 3.1-3.9 3.2-3.7 3.2-3.3 3.2-3 3.2-2.6 4.8-3.4M593.2 121.7l-5.3-11.7-5.4-10.4-5.4-9.3-5.4-8-5.5-6.7-2.7-2.9-2.7-2.6-2.7-2.2-2.7-2-2.8-1.6-4-1.9M430.5 147.8l6.2-13.4 4.6-9.3 6.3-11.4 4.7-7.7 4.7-7.1 6.4-8.4 3.1-3.7 3.2-3.4 3.2-3.1 3.2-2.7M598.5 123.5l-4-8.7-5.4-10.7-4-7.1-5.4-8.5-4.1-5.6-2.7-3.3-2.7-3-2.7-2.7-2.8-2.4-2.7-2-2.7-1.8M426.5 150.9l6.1-13.3 4.7-9.2 4.6-8.5 4.7-7.9 4.7-7.2 4.7-6.5 4.7-5.8 4.8-5.1M603.6 126.3l-4-8.7-4-8-4-7.3-5.4-8.6-4-5.7-4.1-5-4.1-4.3-2.7-2.5-2.7-2.2M422.6 154.8l4.6-10 4.5-9.2 4.6-8.7 3.1-5.4 4.7-7.5 3.1-4.6 3.1-4.4 4.7-5.9M608.6 130l-2.6-5.8-4-8.1-4-7.5-4-6.7-4-6.1-4.1-5.4-4-4.7-4.1-4M418.8 159.5l6-12.9 6.1-11.8 6.1-10.6 6.2-9.5M613.5 134.5l-5.2-11.1-2.7-5.1-3.9-7.2-2.7-4.3-4-6-2.7-3.6-4-4.8M415.1 165l4.4-9.7 4.5-9 4.6-8.4 4.6-7.8" fill="none" stroke="#0a0a0a" stroke-width="0.75" stroke-linejoin="round" stroke-linecap="round"/>
<circle cx="573.2" cy="66.5" r="3.1" fill="#c63e3a" opacity="1"/><circle cx="578.5" cy="77.8" r="3.1" fill="#c63e3a" opacity="1"/><circle cx="577.8" cy="90.8" r="3.1" fill="#c63e3a" opacity="1"/><circle cx="524.4" cy="129.6" r="3.1" fill="#c63e3a" opacity="1"/><circle cx="466.8" cy="137.2" r="3.1" fill="#c63e3a" opacity="1"/><circle cx="524.2" cy="180" r="3.1" fill="#c63e3a" opacity="0.45"/><circle cx="524.2" cy="187.5" r="3.1" fill="#c63e3a" opacity="0.45"/>
<text transform="matrix(1.000 -0.413 -0.200 1.000 405.8 162.6)" font-size="10.3" text-anchor="end">0</text><text transform="matrix(1.000 -0.413 -0.200 1.000 405.1 147.8)" font-size="10.3" text-anchor="end">20</text><text transform="matrix(1.000 -0.413 -0.200 1.000 404.4 132.9)" font-size="10.3" text-anchor="end">40</text><text transform="matrix(1.000 -0.413 -0.200 1.000 403.7 117.7)" font-size="10.3" text-anchor="end">60</text><text transform="matrix(1.000 -0.413 -0.200 1.000 403 102.4)" font-size="10.3" text-anchor="end">80</text><text transform="matrix(1.000 -0.413 -0.200 1.000 402.3 86.8)" font-size="10.3" text-anchor="end">100</text><text transform="matrix(1.000 -0.413 -0.200 1.000 401.6 71)" font-size="10.3" text-anchor="end">120</text><text transform="matrix(1.000 -0.413 -0.200 1.000 400.8 54.9)" font-size="10.3" text-anchor="end">140</text><text transform="matrix(0.824 -0.409 0.741 0.545 496.6 238.3)" font-size="10.3" text-anchor="end">4</text><text transform="matrix(0.824 -0.409 0.741 0.545 484.9 229.7)" font-size="10.3" text-anchor="end">6</text><text transform="matrix(0.824 -0.409 0.741 0.545 473.5 221.3)" font-size="10.3" text-anchor="end">8</text><text transform="matrix(0.824 -0.409 0.741 0.545 462.2 213.1)" font-size="10.3" text-anchor="end">10</text><text transform="matrix(0.824 -0.409 0.741 0.545 451.2 205)" font-size="10.3" text-anchor="end">12</text><text transform="matrix(0.824 -0.409 0.741 0.545 440.3 197)" font-size="10.3" text-anchor="end">14</text><text transform="matrix(0.824 -0.409 0.741 0.545 429.7 189.1)" font-size="10.3" text-anchor="end">16</text><text transform="matrix(0.824 -0.409 0.741 0.545 419.2 181.4)" font-size="10.3" text-anchor="end">18</text><text transform="matrix(0.824 -0.409 0.741 0.545 408.9 173.9)" font-size="10.3" text-anchor="end">20</text><text transform="matrix(0.741 0.545 -0.824 0.409 506.8 238.4)" font-size="10.3" text-anchor="start">4</text><text transform="matrix(0.741 0.545 -0.824 0.409 517.2 233.2)" font-size="10.3" text-anchor="start">6</text><text transform="matrix(0.741 0.545 -0.824 0.409 527.5 228.1)" font-size="10.3" text-anchor="start">8</text><text transform="matrix(0.741 0.545 -0.824 0.409 537.6 223.1)" font-size="10.3" text-anchor="start">10</text><text transform="matrix(0.741 0.545 -0.824 0.409 547.7 218.1)" font-size="10.3" text-anchor="start">12</text><text transform="matrix(0.741 0.545 -0.824 0.409 557.7 213.1)" font-size="10.3" text-anchor="start">14</text><text transform="matrix(0.741 0.545 -0.824 0.409 567.6 208.2)" font-size="10.3" text-anchor="start">16</text><text transform="matrix(0.741 0.545 -0.824 0.409 577.3 203.4)" font-size="10.3" text-anchor="start">18</text><text transform="matrix(0.741 0.545 -0.824 0.409 587 198.6)" font-size="10.3" text-anchor="start">20</text><text transform="matrix(0.741 0.545 -0.824 0.409 596.6 193.8)" font-size="10.3" text-anchor="start">22</text><text transform="matrix(0.741 0.545 -0.824 0.409 606 189.1)" font-size="10.3" text-anchor="start">24</text><text transform="matrix(0.741 0.545 -0.824 0.409 615.4 184.5)" font-size="10.3" text-anchor="start">26</text><path d="M415.2 167.4L409.6 47.1M414.6 154.7l-3.7 1.5M414.5 151.8l-2 0.8M414.3 148.9l-2 0.8M414.2 145.9l-2 0.8M414 143l-2 0.8M413.9 140l-3.7 1.5M413.8 137l-2 0.8M413.6 134l-2 0.8M413.5 131.1l-2 0.8M413.3 128.1l-2 0.8M413.2 125.1l-3.7 1.5M413.1 122l-2 0.8M412.9 119l-2 0.8M412.8 116l-2 0.8M412.6 113l-2 0.8M412.5 109.9l-3.7 1.5M412.4 106.8l-2 0.8M412.2 103.8l-2 0.8M412.1 100.7l-2 0.8M411.9 97.6l-2 0.8M411.8 94.5l-3.7 1.5M411.7 91.4l-2 0.8M411.5 88.3l-2 0.8M411.4 85.2l-2 0.8M411.2 82.1l-2 0.8M411.1 79l-3.7 1.5M410.9 75.8l-2 0.8M410.8 72.7l-2 0.8M410.6 69.5l-2 0.8M410.5 66.3l-2 0.8M410.3 63.1l-3.7 1.5M410.2 60l-2 0.8M410 56.8l-2 0.8M409.9 53.5l-2 0.8M409.7 50.3l-2 0.8M409.6 47.1l-3.7 1.5M414.7 157.6l-2 0.8M414.9 160.6l-2 0.8M415 163.5l-2 0.8M415.1 166.4l-2 0.8M415.2 167.4L502.9 231.9M502.9 231.9L611.5 178M502.9 231.9l-3.6 1.8M497 227.6l-2 1M491.2 223.3l-3.6 1.8M485.5 219.1l-2 1M479.8 214.9l-3.6 1.8M474.1 210.8l-2 1M468.5 206.7l-3.6 1.8M463 202.6l-2 1M457.5 198.5l-3.6 1.8M452 194.5l-2 1M446.6 190.6l-3.6 1.8M441.3 186.6l-2 1M436 182.7l-3.6 1.8M430.7 178.9l-2 1M425.5 175l-3.6 1.8M420.3 171.2l-2 1M415.2 167.4l-3.6 1.8M502.9 231.9l3.2 2.4M508.1 229.3l1.8 1.3M513.3 226.7l3.2 2.4M518.4 224.2l1.8 1.3M523.6 221.6l3.2 2.4M528.7 219.1l1.8 1.3M533.8 216.6l3.2 2.4M538.8 214l1.8 1.3M543.8 211.6l3.2 2.4M548.8 209.1l1.8 1.3M553.8 206.6l3.2 2.4M558.8 204.1l1.8 1.3M563.7 201.7l3.2 2.4M568.6 199.3l1.8 1.3M573.4 196.9l3.2 2.4M578.3 194.4l1.8 1.3M583.1 192.1l3.2 2.4M587.9 189.7l1.8 1.3M592.7 187.3l3.2 2.4M597.4 185l1.8 1.3M602.1 182.6l3.2 2.4M606.8 180.3l1.8 1.3M611.5 178l3.2 2.4" stroke="#000" stroke-width="0.9" fill="none"/><text transform="translate(363.5 127.5) rotate(85)" font-size="11" text-anchor="middle" style="" fill="#000">L-asparaginase</text><text transform="translate(348.5 132.5) rotate(85)" font-size="11" text-anchor="middle" style="" fill="#000">production (U/gds)</text><text transform="translate(419 222) rotate(37.5)" font-size="10.4" text-anchor="middle" style="font-style:italic;" fill="#000">L-asparagine (g/L)</text><text transform="translate(591 230.9) rotate(-25.5)" font-size="11.1" text-anchor="middle" style="" fill="#000">Wheat bran + soybean</text><text transform="translate(604.1 237.1) rotate(-25.5)" font-size="11.1" text-anchor="middle" style="" fill="#000">meal (1:1 g)</text>
<rect x="620.1" y="64.5" width="17" height="10" fill="#ff0000" stroke="#222" stroke-width="0.9"/><text transform="translate(641.5 73.3) rotate(0)" font-size="10.5" text-anchor="start" style="" fill="#000">&gt; 120</text><rect x="620.1" y="77.4" width="17" height="10" fill="#e8282e" stroke="#222" stroke-width="0.9"/><text transform="translate(641.5 86.2) rotate(0)" font-size="10.5" text-anchor="start" style="" fill="#000">&lt; 120</text><rect x="620.1" y="90.3" width="17" height="10" fill="#b0b0b0" stroke="#222" stroke-width="0.9"/><text transform="translate(641.5 99.1) rotate(0)" font-size="10.5" text-anchor="start" style="" fill="#000">&lt; 100</text><rect x="620.1" y="103.3" width="17" height="10" fill="#f0f030" stroke="#222" stroke-width="0.9"/><text transform="translate(641.5 112.1) rotate(0)" font-size="10.5" text-anchor="start" style="" fill="#000">&lt; 80</text><rect x="620.1" y="116.2" width="17" height="10" fill="#ffa800" stroke="#222" stroke-width="0.9"/><text transform="translate(641.5 125) rotate(0)" font-size="10.5" text-anchor="start" style="" fill="#000">&lt; 60</text><rect x="620.1" y="129.1" width="17" height="10" fill="#b5a550" stroke="#222" stroke-width="0.9"/><text transform="translate(641.5 137.9) rotate(0)" font-size="10.5" text-anchor="start" style="" fill="#000">&lt; 40</text><rect x="620.1" y="142" width="17" height="10" fill="#00f0ff" stroke="#222" stroke-width="0.9"/><text transform="translate(641.5 150.8) rotate(0)" font-size="10.5" text-anchor="start" style="" fill="#000">&lt; 20</text><rect x="620.1" y="154.9" width="17" height="10" fill="#009090" stroke="#222" stroke-width="0.9"/><text transform="translate(641.5 163.7) rotate(0)" font-size="10.5" text-anchor="start" style="" fill="#000">&lt; 0</text>
</g>
<g>
<path d="M80.1 415.4L75 295.2M90.2 410.9L85.7 291.1M100.2 406.4L96.3 287M110.1 402L106.8 283M120 397.7L117.2 279M129.7 393.4L127.4 275M139.4 389.1L137.6 271.1M148.9 384.9L147.7 267.3M158.4 380.7L157.6 263.5M167.8 376.6L167.5 259.7M177.1 372.4L177.3 255.9M272.1 428L277.6 306.7M260.2 420.3L265 299.7M248.4 412.9L252.5 292.9M236.9 405.5L240.3 286.1M225.5 398.3L228.3 279.5M214.3 391.1L216.4 273M203.2 384.1L204.8 266.6M192.4 377.2L193.4 260.3M181.7 370.4L182.1 254M74.4 404.9L181.7 358M181.7 358L272.7 415.1M73.7 390.1L181.8 343.7M181.8 343.7L273.4 400.2M73.1 375.1L181.8 329.3M181.8 329.3L274.1 385.2M72.4 360L181.9 314.6M181.9 314.6L274.8 369.9M71.7 344.6L182 299.8M182 299.8L275.5 354.4M71 329L182 284.7M182 284.7L276.2 338.8M70.3 313.2L182.1 269.5M182.1 269.5L276.9 322.9M69.6 297.2L182.1 254M182.1 254L277.6 306.7" stroke="#a8a8a8" stroke-width="0.6" stroke-dasharray="1 1" fill="none"/><path d="M69.6 297.2L182.1 254M182.1 254L277.6 306.7M181.7 370.4L182.1 254M272.1 428L277.6 306.7M75 417.6L181.7 370.4M181.7 370.4L272.1 428" stroke="#aaa" stroke-width="0.6" stroke-dasharray="1 1" fill="none"/>
<clipPath id="fcC"><path d="M163.2 481.7L272.1 428L181.7 370.4L75 417.6z"/></clipPath><g clip-path="url(#fcC)"><path d="M163.2 481.7L272.1 428L181.7 370.4L75 417.6z" fill="#08e7e7"/><path d="M102.2 460.8l-8.4-9.8-4.4-10.7-.3-11 3.7-10.9 7.5-10.5 10.7-9.6 13.6-8.5 15.8-7 17.6-5.5 18.6-3.6 19.2-1.8 19 .1 18.3 2.1 17 3.9 15.1 5.6 12.6 7.3 9.7 8.6 6.3 9.8 2.6 10.5-1.3 11-5.3 11-9.3 10.6-12.9 9.7-16.2 8.4-18.8 6.6-20.6 4.5-21.5 2.3-21.5-.2-20.4-2.6-18.4-4.8-15.7-6.9z" fill="#10e6e2"/><path d="M103.2 460.5l-8.4-9.8-4.4-10.5-.2-10.9 3.6-10.9 7.4-10.4 10.6-9.5 13.4-8.4 15.7-6.9 17.4-5.4 18.5-3.6 19-1.8 18.8.1 18.2 2.1 16.8 3.8 14.9 5.6 12.5 7.2 9.6 8.6 6.2 9.6 2.6 10.5-1.3 10.9-5.3 10.9-9.2 10.4-12.8 9.6-16 8.3-18.6 6.5-20.4 4.5-21.3 2.3-21.2-.2-20.2-2.5-18.2-4.8-15.6-6.9z" fill="#16e5de"/><path d="M104.1 460.1l-8.3-9.6-4.3-10.5-.3-10.8 3.6-10.7 7.3-10.3 10.5-9.4 13.3-8.3 15.5-7 17.2-5.3 18.4-3.6 18.8-1.7 18.6.1 18 2 16.6 3.9 14.8 5.5 12.4 7.1 9.4 8.5 6.2 9.6 2.6 10.3-1.3 10.8-5.3 10.8-9.1 10.4-12.7 9.4-15.8 8.2-18.4 6.5-20.2 4.4-21.1 2.2-21-.1-19.9-2.5-18.1-4.8-15.3-6.7z" fill="#1de4da"/><path d="M105.1 459.7l-8.3-9.5-4.2-10.3-.3-10.7 3.5-10.7 7.2-10.1 10.4-9.4 13.1-8.2 15.4-6.8 17.1-5.3 18.1-3.6 18.6-1.7 18.5.1 17.8 2 16.5 3.8 14.6 5.5 12.2 7.1 9.4 8.3 6.1 9.5 2.5 10.3-1.3 10.6-5.2 10.7-9 10.3-12.5 9.3-15.7 8.1-18.2 6.4-20 4.4-20.8 2.2-20.8-.1-19.8-2.5-17.8-4.7-15.2-6.7z" fill="#27e3d2"/><path d="M106 459.3l-8.1-9.4-4.3-10.2-.3-10.6 3.5-10.5 7.1-10.1 10.3-9.2 13-8.2 15.2-6.7 16.9-5.3 18-3.5 18.4-1.7 18.3.1 17.6 2 16.3 3.8 14.5 5.4 12.1 7 9.3 8.3 6 9.4 2.5 10.1-1.3 10.6-5.2 10.5-8.9 10.2-12.4 9.2-15.5 8-18.1 6.4-19.7 4.3-20.6 2.2-20.5-.2-19.6-2.4-17.6-4.7-15.1-6.6z" fill="#35e2c7"/><path d="M107 459l-8.1-9.4-4.2-10.1-.3-10.4 3.5-10.4 7-10 10.1-9.2 12.9-8 15.1-6.7 16.7-5.2 17.7-3.5 18.3-1.7 18.1.1 17.4 2 16.2 3.7 14.3 5.4 12 6.9 9.1 8.2 6 9.3 2.4 10.1-1.3 10.4-5.1 10.5-8.8 10-12.3 9.1-15.4 7.9-17.8 6.3-19.5 4.3-20.4 2.1-20.3-.1-19.3-2.5-17.5-4.5-14.8-6.5z" fill="#42e1bc"/><path d="M108 458.6l-8-9.2-4.2-10-.3-10.4 3.4-10.3 6.9-9.8 10.1-9.1 12.7-8 14.9-6.6 16.5-5.1 17.6-3.5 18.1-1.7 17.9.2 17.2 1.9 16 3.7 14.2 5.3 11.8 6.9 9.1 8.1 5.9 9.2 2.4 9.9-1.3 10.4-5.1 10.3-8.7 9.9-12.2 9-15.2 7.9-17.6 6.1-19.3 4.3-20.1 2.1-20.1-.2-19.1-2.4-17.3-4.5-14.7-6.4z" fill="#50e0b0"/><path d="M109 458.2l-7.9-9.1-4.2-9.9-.3-10.2 3.3-10.2 6.9-9.8 9.9-8.9 12.6-7.9 14.7-6.6 16.4-5.1 17.4-3.4 17.8-1.6 17.8.1 17 1.9 15.8 3.6 14.1 5.3 11.7 6.8 8.9 8.1 5.8 9.1 2.4 9.8-1.3 10.2-5 10.2-8.7 9.8-12 8.9-15 7.7-17.4 6.2-19.1 4.1-19.9 2.1-19.8-.1-18.9-2.4-17.1-4.5-14.5-6.3z" fill="#6dd092"/><path d="M110 457.8l-7.9-9-4.1-9.8-.3-10.1 3.3-10 6.7-9.7 9.8-8.8 12.5-7.9 14.6-6.5 16.1-5 17.2-3.4 17.7-1.6 17.6.1 16.8 1.9 15.7 3.6 13.8 5.2 11.6 6.7 8.8 8 5.8 9 2.3 9.7-1.3 10.1-4.9 10.1-8.6 9.7-11.9 8.8-14.9 7.6-17.2 6.1-18.8 4.1-19.7 2.1-19.6-.2-18.6-2.3-16.9-4.5-14.3-6.2z" fill="#8bbf74"/><path d="M111 457.4l-7.8-8.9-4-9.6-.4-10 3.3-10 6.6-9.5 9.7-8.8 12.3-7.7 14.4-6.4 16-5 17-3.3 17.5-1.7 17.3.2 16.7 1.8 15.5 3.6 13.7 5.2 11.4 6.6 8.8 7.9 5.6 8.9 2.3 9.6-1.3 10-4.9 9.9-8.5 9.6-11.8 8.7-14.6 7.5-17 6-18.6 4.1-19.5 2-19.3-.2-18.4-2.3-16.7-4.3-14.2-6.2z" fill="#a6af58"/><path d="M112 457l-7.7-8.8-4-9.5-.3-9.9 3.2-9.8 6.5-9.4 9.6-8.7 12.1-7.6 14.3-6.4 15.8-4.9 16.8-3.3 17.3-1.6 17.1.1 16.5 1.8 15.3 3.6 13.5 5.1 11.3 6.6 8.7 7.7 5.5 8.8 2.3 9.5-1.3 9.9-4.9 9.8-8.3 9.5-11.7 8.6-14.5 7.4-16.8 5.9-18.4 4-19.1 2-19.1-.1-18.2-2.3-16.5-4.3-14-6.1z" fill="#b6a044"/><path d="M113 456.6l-7.5-8.7-4-9.4-.4-9.7 3.2-9.7 6.4-9.3 9.5-8.6 12-7.6 14-6.3 15.6-4.8 16.7-3.3 17-1.6 17 .1 16.3 1.9 15.1 3.5 13.4 5 11.1 6.5 8.5 7.7 5.6 8.7 2.2 9.4-1.3 9.7-4.8 9.7-8.3 9.3-11.5 8.6-14.3 7.3-16.6 5.8-18.2 4-18.9 1.9-18.8-.1-18-2.3-16.2-4.2-13.9-6z" fill="#cc9630"/><path d="M114.1 456.1l-7.5-8.5-4-9.3-.3-9.6 3.1-9.6 6.4-9.2 9.3-8.4 11.8-7.5 13.9-6.2 15.4-4.8 16.4-3.2 16.9-1.6 16.8.1 16.1 1.8 14.9 3.5 13.2 5 11 6.4 8.4 7.6 5.4 8.6 2.2 9.2-1.3 9.6-4.7 9.6-8.2 9.2-11.4 8.4-14.1 7.3-16.4 5.7-17.9 3.9-18.7 1.9-18.6-.1-17.7-2.2-16-4.2-13.7-6z" fill="#e9901e"/><path d="M115.1 455.7l-7.4-8.4-3.9-9.1-.4-9.5 3.1-9.5 6.3-9.1 9.2-8.3 11.7-7.4 13.7-6.1 15.2-4.8 16.2-3.2 16.7-1.5 16.5.1 15.9 1.8 14.8 3.4 13 4.9 10.9 6.3 8.3 7.6 5.3 8.4 2.2 9.2-1.3 9.5-4.7 9.4-8.1 9.1-11.2 8.3-14 7.1-16.1 5.7-17.7 3.8-18.4 1.9-18.4-.1-17.4-2.2-15.9-4.1-13.5-5.9z" fill="#ff8c10"/><path d="M116.2 455.3l-7.3-8.3-3.9-9-.4-9.4 3.1-9.3 6.1-9 9.1-8.2 11.5-7.3 13.5-6.1 15.1-4.7 16-3.1 16.4-1.6 16.4.2 15.7 1.7 14.5 3.4 12.9 4.9 10.7 6.2 8.2 7.4 5.3 8.4 2.1 9-1.3 9.4-4.6 9.3-8 9-11.1 8.2-13.8 7-15.9 5.5-17.4 3.8-18.2 1.9-18.1-.1-17.2-2.2-15.6-4-13.3-5.8z" fill="#ff8b10"/><path d="M117.3 454.9l-7.2-8.2-3.9-8.9-.3-9.2 2.9-9.3 6.1-8.8 8.9-8.1 11.4-7.2 13.3-6 14.9-4.6 15.8-3.2 16.2-1.5 16.2.1 15.5 1.8 14.3 3.3 12.7 4.8 10.6 6.2 8.1 7.3 5.1 8.3 2.1 8.9-1.3 9.2-4.6 9.2-7.9 8.9-10.9 8-13.6 6.9-15.7 5.5-17.2 3.8-17.9 1.8-17.8-.1-17-2.2-15.4-4-13.1-5.6z" fill="#ff8b10"/><path d="M118.4 454.4l-7.1-8-3.8-8.8-.4-9.1 2.9-9.1 6-8.7 8.8-8 11.2-7.1 13.1-5.9 14.7-4.6 15.6-3.1 16-1.5 15.9.1 15.3 1.8 14.2 3.2 12.5 4.8 10.4 6.1 8 7.2 5.1 8.2 2 8.7-1.3 9.2-4.5 9-7.8 8.7-10.8 8-13.4 6.8-15.5 5.4-16.9 3.7-17.6 1.8-17.6-.2-16.7-2-15.2-4-12.9-5.6z" fill="#ff970d"/><path d="M119.5 454l-7-8-3.8-8.6-.4-9 2.9-8.9 5.9-8.6 8.6-7.9 11.1-7 13-5.9 14.4-4.5 15.4-3 15.8-1.5 15.7.1 15 1.7 14 3.3 12.3 4.7 10.3 6 7.9 7.1 5 8 2 8.7-1.3 9-4.5 8.9-7.7 8.6-10.6 7.8-13.2 6.7-15.2 5.3-16.7 3.6-17.4 1.8-17.3-.1-16.5-2-14.9-3.9-12.8-5.5z" fill="#ffa20b"/><path d="M120.6 453.5l-6.9-7.8-3.7-8.5-.4-8.8 2.8-8.8 5.8-8.5 8.5-7.8 10.9-6.9 12.8-5.8 14.2-4.4 15.2-3 15.5-1.5 15.5.1 14.9 1.7 13.7 3.2 12.2 4.7 10.1 5.9 7.7 7 5 7.9 1.9 8.6-1.2 8.8-4.5 8.8-7.6 8.4-10.4 7.7-13 6.6-15 5.3-16.4 3.5-17.1 1.8-17.1-.1-16.2-2.1-14.7-3.8-12.6-5.4z" fill="#ffae08"/><path d="M121.8 453.1l-6.9-7.7-3.6-8.4-.4-8.7 2.7-8.7 5.7-8.3 8.4-7.7 10.7-6.8 12.6-5.7 14-4.3 15-3 15.3-1.4 15.3.1 14.6 1.6 13.6 3.2 11.9 4.5 10 5.9 7.6 6.9 4.9 7.8 1.9 8.4-1.3 8.7-4.4 8.7-7.4 8.3-10.4 7.6-12.8 6.5-14.7 5.1-16.2 3.5-16.8 1.7-16.8-.1-15.9-2-14.5-3.7-12.4-5.4z" fill="#ffbb05"/><path d="M122.9 452.6l-6.7-7.5-3.6-8.3-.4-8.5 2.7-8.6 5.6-8.2 8.2-7.6 10.6-6.7 12.4-5.6 13.7-4.3 14.8-2.9 15.1-1.4 15 .1 14.4 1.6 13.4 3.1 11.8 4.5 9.8 5.8 7.4 6.8 4.8 7.7 1.9 8.3-1.3 8.5-4.3 8.6-7.3 8.1-10.2 7.5-12.6 6.4-14.5 5-15.9 3.5-16.6 1.7-16.5-.1-15.7-2-14.2-3.7-12.2-5.2z" fill="#ffc802"/><path d="M124.1 452.1l-6.6-7.4-3.6-8.1-.4-8.4 2.6-8.4 5.5-8.1 8.2-7.4 10.3-6.6 12.2-5.5 13.6-4.3 14.5-2.9 14.8-1.4 14.8.1 14.2 1.7 13.2 3 11.6 4.4 9.6 5.7 7.4 6.7 4.7 7.6 1.8 8.1-1.2 8.5-4.3 8.4-7.3 8-10 7.3-12.4 6.3-14.3 4.9-15.6 3.4-16.2 1.7-16.2-.1-15.5-1.9-14-3.7-11.9-5.1z" fill="#ffd400"/><path d="M125.3 451.7l-6.5-7.3-3.5-8-.5-8.3 2.6-8.2 5.4-8 8-7.3 10.2-6.5 12-5.4 13.3-4.2 14.3-2.8 14.6-1.4 14.6.1 13.9 1.6 13 3 11.4 4.4 9.5 5.5 7.2 6.7 4.6 7.4 1.7 8-1.2 8.3-4.2 8.2-7.1 7.9-9.8 7.2-12.2 6.2-14.1 4.8-15.3 3.4-16 1.6-15.9-.1-15.2-1.9-13.7-3.6-11.8-5z" fill="#ffdf00"/><path d="M126.5 451.2l-6.4-7.2-3.4-7.8-.5-8.1 2.5-8.1 5.3-7.9 7.9-7.2 10-6.3 11.7-5.4 13.2-4.1 14-2.8 14.4-1.3 14.3.1 13.7 1.5 12.7 3 11.3 4.3 9.3 5.5 7.1 6.5 4.5 7.3 1.7 7.9-1.2 8.1-4.2 8.1-7 7.7-9.6 7.1-12 6-13.8 4.8-15.1 3.3-15.7 1.6-15.6-.1-14.9-1.9-13.5-3.5-11.6-4.9z" fill="#ffea00"/><path d="M127.7 450.7l-6.2-7-3.4-7.7-.5-8 2.5-8 5.2-7.6 7.6-7.1 9.9-6.3 11.5-5.2 12.9-4.1 13.8-2.7 14.1-1.3 14.1.1 13.5 1.5 12.5 2.9 11 4.2 9.2 5.4 6.9 6.4 4.4 7.2 1.7 7.7-1.2 8-4.1 8-6.9 7.6-9.4 6.9-11.8 5.9-13.5 4.7-14.8 3.2-15.4 1.6-15.4-.1-14.6-1.8-13.2-3.5-11.4-4.8z" fill="#fff600"/><path d="M129 450.2l-6.2-6.9-3.3-7.5-.5-7.9 2.4-7.8 5.1-7.5 7.6-7 9.6-6.1 11.3-5.2 12.7-4 13.5-2.6 13.9-1.3 13.8 0 13.3 1.6 12.2 2.8 10.9 4.2 8.9 5.3 6.8 6.2 4.4 7.1 1.6 7.6-1.2 7.8-4 7.8-6.8 7.5-9.3 6.8-11.5 5.8-13.3 4.6-14.5 3.1-15.1 1.6-15-.1-14.4-1.8-13-3.4-11.1-4.8z" fill="#ffff01"/><path d="M130.3 449.7l-6.1-6.8-3.3-7.3-.4-7.7 2.3-7.7 5-7.4 7.4-6.8 9.4-6.1 11.2-5 12.4-3.9 13.2-2.6 13.7-1.3 13.5.1 13 1.4 12.1 2.9 10.6 4 8.8 5.2 6.7 6.2 4.2 6.9 1.6 7.5-1.2 7.6-3.9 7.7-6.7 7.3-9.1 6.6-11.3 5.7-13 4.5-14.3 3.1-14.7 1.5-14.8-.1-14-1.7-12.8-3.3-10.9-4.7z" fill="#fcfc07"/><path d="M131.6 449.2l-6-6.7-3.2-7.2-.4-7.5 2.2-7.5 4.9-7.2 7.2-6.7 9.3-6 10.9-4.9 12.2-3.9 13-2.5 13.3-1.3 13.3.1 12.8 1.4 11.8 2.8 10.4 4 8.6 5.1 6.5 6 4.2 6.8 1.5 7.3-1.1 7.6-3.9 7.4-6.5 7.2-9 6.5-11.1 5.6-12.7 4.4-13.9 3-14.5 1.5-14.4-.1-13.8-1.7-12.4-3.3-10.7-4.5z" fill="#f9f90d"/><path d="M132.9 448.6l-5.8-6.4-3.2-7.1-.4-7.4 2.2-7.3 4.7-7.1 7.1-6.6 9.1-5.8 10.6-4.8 12-3.8 12.7-2.5 13.1-1.3 13 .1 12.5 1.4 11.6 2.8 10.2 3.9 8.4 5 6.4 5.9 4 6.6 1.6 7.2-1.2 7.4-3.8 7.3-6.4 7-8.8 6.3-10.8 5.5-12.5 4.3-13.6 2.9-14.2 1.5-14.1-.1-13.4-1.7-12.2-3.1-10.5-4.5z" fill="#f7f713"/><path d="M134.3 448.1l-5.7-6.3-3.1-6.9-.5-7.2 2.2-7.2 4.6-7 6.9-6.4 8.9-5.7 10.4-4.7 11.7-3.7 12.4-2.5 12.9-1.2 12.7.1 12.3 1.4 11.3 2.6 9.9 3.9 8.3 4.9 6.2 5.8 4 6.5 1.4 7-1.1 7.2-3.7 7.1-6.3 6.9-8.6 6.2-10.6 5.3-12.2 4.2-13.3 2.9-13.8 1.4-13.8-.1-13.1-1.6-12-3.1-10.2-4.4z" fill="#f1f120"/><path d="M135.7 447.5l-5.6-6.1-3.1-6.8-.4-7 2.1-7 4.5-6.8 6.7-6.3 8.7-5.5 10.2-4.7 11.4-3.6 12.2-2.4 12.5-1.2 12.5.1 12 1.3 11 2.6 9.7 3.8 8.1 4.8 6.1 5.6 3.9 6.4 1.4 6.8-1.1 7.1-3.7 7-6.1 6.6-8.4 6.1-10.4 5.2-11.9 4.1-13 2.8-13.5 1.4-13.4-.1-12.9-1.6-11.6-3-10-4.2z" fill="#ebeb2f"/><path d="M137.1 447l-5.5-6.1-3-6.5-.4-6.9 2-6.8 4.4-6.7 6.6-6.1 8.4-5.4 10-4.6 11.1-3.5 12-2.4 12.2-1.1 12.2.1 11.7 1.3 10.7 2.5 9.5 3.7 7.9 4.7 6 5.5 3.7 6.2 1.4 6.7-1.1 6.9-3.6 6.8-6 6.5-8.2 5.9-10.1 5.1-11.6 4-12.7 2.7-13.1 1.4-13.2-.1-12.5-1.6-11.3-2.9-9.8-4.2z" fill="#e2e244"/><path d="M138.6 446.4l-5.4-5.9-2.9-6.4-.5-6.6 2-6.7 4.3-6.5 6.4-6 8.2-5.3 9.7-4.4 10.9-3.4 11.6-2.4 12-1.1 11.8.1 11.4 1.3 10.6 2.5 9.2 3.5 7.7 4.6 5.8 5.4 3.6 6.1 1.4 6.5-1.1 6.7-3.5 6.6-5.9 6.4-8 5.7-9.8 4.9-11.3 3.9-12.4 2.7-12.8 1.3-12.8-.1-12.1-1.5-11.1-2.8-9.5-4.1z" fill="#d6d65f"/><path d="M140 445.8l-5.1-5.7-2.9-6.2-.5-6.5 2-6.5 4.1-6.3 6.2-5.8 8-5.2 9.5-4.3 10.6-3.4 11.3-2.2 11.6-1.2 11.6.1 11.1 1.3 10.2 2.4 9.1 3.5 7.4 4.5 5.7 5.2 3.5 5.9 1.3 6.4-1.1 6.5-3.4 6.4-5.7 6.2-7.8 5.6-9.6 4.8-11 3.8-12 2.5-12.4 1.3-12.5-.1-11.8-1.4-10.8-2.8-9.2-3.9z" fill="#d0d06b"/><path d="M141.6 445.2l-5.1-5.6-2.8-6-.4-6.3 1.8-6.3 4.1-6.1 6-5.7 7.8-5 9.2-4.2 10.3-3.3 11-2.2 11.3-1.1 11.2.1 10.8 1.2 10 2.4 8.8 3.4 7.2 4.3 5.5 5.1 3.4 5.8 1.3 6.1-1.1 6.4-3.3 6.3-5.6 5.9-7.5 5.5-9.3 4.6-10.7 3.7-11.7 2.5-12.1 1.2-12.1-.1-11.4-1.4-10.5-2.7-9-3.8z" fill="#c9c97b"/><path d="M143.2 444.5l-5-5.3-2.7-5.9-.4-6.1 1.8-6.1 3.9-6 5.8-5.5 7.6-4.8 8.9-4.1 10-3.2 10.6-2.1 11-1.1 11 .1 10.5 1.2 9.6 2.3 8.5 3.3 7.1 4.2 5.3 5 3.3 5.5 1.2 6-1.1 6.2-3.2 6.1-5.4 5.8-7.3 5.2-9.1 4.5-10.3 3.6-11.3 2.4-11.7 1.2-11.7-.1-11.2-1.4-10.1-2.6-8.7-3.6z" fill="#c2c28b"/><path d="M144.8 443.9l-4.8-5.2-2.6-5.6-.5-6 1.8-5.9 3.7-5.8 5.7-5.3 7.3-4.7 8.6-4 9.7-3.1 10.3-2 10.7-1.1 10.6.1 10.1 1.2 9.4 2.2 8.3 3.2 6.8 4.1 5.1 4.8 3.2 5.4 1.1 5.8-1 6-3.1 5.9-5.2 5.6-7.2 5.1-8.7 4.3-10 3.4-10.9 2.4-11.4 1.1-11.3-.1-10.8-1.3-9.8-2.5-8.4-3.5z" fill="#baba9a"/><path d="M146.5 443.2l-4.6-5-2.6-5.4-.4-5.8 1.6-5.7 3.6-5.6 5.5-5.1 7-4.6 8.4-3.8 9.3-3 10-2 10.3-1 10.3.1 9.8 1.1 9.1 2.2 7.9 3.1 6.6 3.9 5 4.7 3.1 5.2 1 5.6-.9 5.7-3.1 5.7-5 5.5-6.9 4.9-8.5 4.2-9.7 3.3-10.5 2.2-10.9 1.1-10.9-.1-10.4-1.2-9.5-2.4-8.2-3.5z" fill="#b3b3aa"/><path d="M148.2 442.5l-4.4-4.8-2.5-5.2-.5-5.5 1.6-5.6 3.5-5.3 5.3-5 6.7-4.4 8.1-3.7 9-2.9 9.7-1.9 9.9-1 9.9.1 9.5 1.1 8.7 2 7.7 3 6.3 3.8 4.8 4.5 2.9 5.1 1.1 5.4-1 5.5-2.9 5.5-4.9 5.2-6.6 4.7-8.2 4.1-9.3 3.2-10.1 2.1-10.6 1.1-10.5-.1-10-1.2-9.1-2.3-7.8-3.3z" fill="#b3abac"/><path d="M150 441.8l-4.3-4.6-2.4-5.1-.4-5.2 1.5-5.4 3.3-5.1 5.1-4.8 6.5-4.2 7.7-3.6 8.7-2.8 9.3-1.8 9.5-.9 9.6 0 9.1 1.1 8.4 2 7.4 2.8 6.1 3.7 4.5 4.3 2.9 4.9.9 5.2-.9 5.3-2.8 5.3-4.7 5-6.4 4.5-7.8 3.9-9 3-9.7 2.1-10.1 1-10.1-.1-9.6-1.1-8.8-2.2-7.5-3.2z" fill="#b7a4a5"/><path d="M151.9 441.1l-4.1-4.4-2.3-4.9-.4-5 1.4-5.1 3.2-5 4.8-4.5 6.2-4.1 7.4-3.4 8.3-2.7 8.9-1.8 9.2-.9 9.1.1 8.7 1 8.1 1.9 7.1 2.8 5.8 3.5 4.4 4.2 2.7 4.6.9 5-.9 5.1-2.7 5-4.5 4.8-6.1 4.3-7.5 3.7-8.6 2.9-9.3 2-9.7 1-9.6-.1-9.2-1.1-8.4-2.1-7.2-3z" fill="#c19294"/><path d="M153.8 440.3l-3.9-4.2-2.2-4.6-.4-4.8 1.3-4.9 3.1-4.7 4.6-4.4 5.9-3.9 7.1-3.2 7.9-2.6 8.5-1.7 8.7-.8 8.7 0 8.4 1 7.7 1.8 6.7 2.7 5.6 3.3 4.1 4 2.6 4.4.9 4.8-.9 4.8-2.6 4.8-4.3 4.6-5.8 4.1-7.2 3.5-8.1 2.8-8.9 1.9-9.2.9-9.2 0-8.7-1.1-8-2-6.9-2.9z" fill="#c88184"/><path d="M155.9 439.5l-3.7-4-2.1-4.4-.4-4.6 1.2-4.6 2.9-4.4 4.3-4.2 5.7-3.7 6.7-3.1 7.5-2.4 8.1-1.6 8.3-.8 8.2.1 8 .9 7.3 1.7 6.4 2.5 5.2 3.2 4 3.8 2.4 4.2.8 4.5-.8 4.6-2.5 4.5-4.1 4.4-5.5 3.9-6.8 3.3-7.7 2.6-8.4 1.8-8.7.9-8.7-.1-8.3-1-7.6-1.9-6.5-2.7z" fill="#cf6f74"/><path d="M158.1 438.6l-3.5-3.7-2-4.2-.4-4.3 1.2-4.3 2.6-4.2 4.1-3.9 5.3-3.5 6.4-3 7.1-2.2 7.6-1.6 7.8-.7 7.8 0 7.5.9 6.9 1.6 6 2.4 5 3 3.7 3.6 2.3 3.9.8 4.3-.8 4.3-2.4 4.3-3.9 4.1-5.2 3.7-6.4 3.1-7.3 2.5-7.9 1.7-8.2.8-8.2-.1-7.8-.9-7.1-1.8-6.1-2.6z" fill="#d75d64"/><path d="M160.4 437.7l-3.3-3.5-1.9-3.9-.4-4 1.1-4.1 2.5-3.9 3.9-3.7 4.9-3.2 5.9-2.8 6.7-2.1 7.1-1.5 7.4-.7 7.3.1 7 .8 6.4 1.5 5.7 2.3 4.6 2.8 3.5 3.3 2.1 3.7.7 4-.7 4.1-2.3 4-3.6 3.8-4.9 3.4-5.9 3-6.8 2.3-7.4 1.5-7.7.8-7.7-.1-7.2-.8-6.7-1.7-5.7-2.4z" fill="#dd4c54"/><path d="M162.8 436.7l-3-3.2-1.7-3.6-.4-3.7 1-3.8 2.3-3.6 3.5-3.4 4.6-3.1 5.5-2.5 6.2-2 6.6-1.3 6.8-.7 6.8.1 6.5.7 5.9 1.4 5.3 2.1 4.3 2.6 3.2 3.1 1.9 3.5.7 3.6-.7 3.8-2.1 3.7-3.4 3.5-4.5 3.2-5.5 2.7-6.3 2.1-6.8 1.5-7.1.7-7.1-.1-6.7-.8-6.2-1.5-5.3-2.2z" fill="#e23b42"/><path d="M165.5 435.6l-2.8-2.9-1.6-3.3-.3-3.4.9-3.4 2.1-3.3 3.2-3.1 4.2-2.8 5-2.3 5.6-1.9 6.1-1.2 6.2-.6 6.2.1 5.9.6 5.5 1.4 4.8 1.8 3.9 2.4 2.9 2.9 1.8 3.1.6 3.4-.7 3.4-1.9 3.4-3 3.2-4.2 2.9-5 2.5-5.8 1.9-6.2 1.3-6.5.7-6.4-.1-6.1-.7-5.6-1.4-4.9-2z" fill="#e9252c"/><path d="M168.5 434.4l-2.5-2.6-1.4-2.9-.4-3 .8-3.1 1.9-3 2.9-2.8 3.7-2.4 4.5-2.1 5-1.7 5.4-1.1 5.6-.5 5.6 0 5.3.6 4.9 1.2 4.3 1.7 3.5 2.2 2.6 2.5 1.6 2.8.5 3-.6 3.1-1.7 3-2.8 2.9-3.7 2.6-4.5 2.2-5.1 1.7-5.6 1.2-5.8.5-5.7 0-5.5-.7-5-1.2-4.3-1.8z" fill="#f20e1b"/><path d="M171.8 433.1l-2.1-2.3-1.3-2.5-.3-2.6.7-2.7 1.6-2.5 2.5-2.5 3.2-2.1 3.9-1.8 4.4-1.5 4.7-.9 4.8-.5 4.9.1 4.6.5 4.2 1 3.7 1.5 3.1 1.9 2.2 2.2 1.4 2.4.4 2.6-.5 2.7-1.5 2.6-2.4 2.5-3.2 2.2-3.9 1.9-4.5 1.5-4.8 1-5 .5-4.9-.1-4.8-.5-4.3-1.1-3.7-1.5z" fill="#fd0006"/><path d="M175.8 431.5l-1.8-1.8-1-2.1-.2-2.1.5-2.2 1.3-2.1 2-2 2.7-1.7 3.1-1.5 3.6-1.2 3.8-.8 4-.4 4 .1 3.7.4 3.5.8 3 1.3 2.5 1.5 1.9 1.8 1.1 2 .3 2.1-.5 2.2-1.2 2.1-1.9 2-2.7 1.9-3.1 1.5-3.7 1.2-3.9.8-4 .4-4.1 0-3.8-.5-3.6-.8-3-1.3z" fill="#ff0000"/><path d="M181 429.5l-1.3-1.3-.7-1.5-.2-1.5.3-1.5 1-1.5 1.4-1.4 1.9-1.3 2.2-1 2.5-.9 2.7-.5 2.9-.3 2.8 0 2.6.3 2.5.6 2.2.9 1.7 1.1 1.3 1.3.8 1.4.2 1.5-.3 1.5-.9 1.5-1.4 1.5-1.9 1.2-2.2 1.1-2.6.9-2.7.5-2.9.3-2.8 0-2.7-.3-2.5-.6-2.2-.9z" fill="#ff0000"/></g>
<path d="M126.9 314.1L126.9 349" stroke="#4a5478" stroke-width="0.9" stroke-dasharray="1 1.1" fill="none" opacity="1"/><circle cx="126.9" cy="314.1" r="3.1" fill="#c63e3a" opacity="1"/><circle cx="126.9" cy="348.6" r="3.1" fill="#c63e3a" opacity="1"/><circle cx="238.5" cy="314.1" r="3.1" fill="#c63e3a" opacity="1"/><path d="M240.9 371.3L240.9 345" stroke="#4a5478" stroke-width="0.9" stroke-dasharray="1 1.1" fill="none" opacity="1"/><circle cx="240.9" cy="371.3" r="3.1" fill="#c63e3a" opacity="1"/><path d="M240.4 393.9L240.4 371" stroke="#4a5478" stroke-width="0.9" stroke-dasharray="1 1.1" fill="none" opacity="1"/><circle cx="240.4" cy="393.9" r="3.1" fill="#c63e3a" opacity="1"/>
<path d="M124.7 374.3l6.1-4.6 3.1-1.8 3.1-1.6 3-1.3 3-1 3.1-.7 4.5-.5 3 .1 3 .3 3 .6 4.5 1.4 3 1.3 2.9 1.5 2.9 1.8 3.8 2.8 7.1-.8 4.1-9.4 3.8-7.8 3.8-7 3.9-6.3 3.9-5.5 3.9-4.8 4-3.9 4-3.1 4-2.3 4.1-1.4 4-.5 4.1.4 4.1 1.2 2.7 1.3 4 2.8 4.2 3.6-4.3-4.2-5.6-4.9-4.4-3.4-4.3-2.9-5.8-3.2-4.4-2.1-5.8-2-4.5-1.2-4.5-.7-5.9-.3-4.5.2-4.5.6-5.8 1.3-4.6 1.6-4.5 1.9-5.8 3.1-4.5 2.8-4.5 3.3-5.8 4.7-4.5 4.1-4.4 4.6-5.7 6.3-6 7.4-4.4 6-4.4 6.2-5.5 8.6-8.6 14.5-4.2 7.8-6.8 13.4-8.5 18.4 1.8-3.6 2-3.4 2.7-3.6 2.8-3.2 4.7-7.6 6-8.6 3.1-4 4.6-5.3 3-3.2z" fill="#dcdcdc"/><path d="M183.4 306l-5.9 1.9-7.4 3.4-5.8 3.4-6.1 4.3-5.8 4.7-6.1 5.7-7.3 7.9-5.7 6.8-5.9 8-7.2 10.4-5.5 8.8-5.8 10.1-6.9 12.9-6.8 13.8-5.9 12.8-1 2.6-.9 3.2 5.1-8.5 3.4-4.6 2.3-2.6 2.4-2.3 2.3-1.9 2.4-1.5 2.5-1.1 2.4-.8 2.5-.4 2.5.1 2.5.4 2.6.8 3.8 1.9 2.6 1.9 2.7 2.2 2.6 2.6 2.7 3 5.3 7.3 4.1 6.5 5.4 10.1 4.1 8.7 4.1 9.5 5.5 14.1 8.3-19.2 6.6-14 8.2-15.8 6.7-11.2 6.6-10.1 6.6-8.7 6.5-7.5 3.3-3.3 4.9-4.3 3.2-2.5 3.2-2.1 3.2-1.8 3.2-1.5 3.1-1.2 3.2-.9 3.1-.6 4.6-.2 3.1.2 3 .5 3 .9 4.5 1.8 2.9 1.6 2.9 1.9 2.9 2.1 4.4 3.8-3.9-10-5.3-11.9-4-7.9-5.3-9.1-4.1-5.8-4-4.8-5.7-5.6-5.6-4.9-7.2-5.3-7.3-4.2-5.8-2.6-6-2-5.8-1.2-4.5-.4-3-.1-4.5.2-2.9.3z" fill="#02e8eb"/><path d="M183.4 306l-5.9 1.9-7.4 3.4-5.8 3.4-6.1 4.3-5.8 4.7-6.1 5.7-5.7 6.1-6 7.1-7.2 9.5-5.6 8-5.9 9.3-7 12-6.9 12.9-6.8 13.8-5.3 11.6-1.7 5.4 4.3-6.9 2.3-3.1 2.3-2.9 2.3-2.4 2.3-2.1 3.6-2.4 2.5-1.1 2.4-.8 2.5-.4 2.5.1 2.5.4 2.6.8 3.8 1.9 2.6 1.9 2.7 2.2 2.6 2.6 2.7 3 5.3 7.3 4.1 6.5 5.4 10.1 4.1 8.7 4.1 9.5 5.5 14.1 8.3-19.2 6.6-14 8.2-15.8 6.7-11.2 6.6-10.1 6.6-8.7 6.5-7.5 3.3-3.3 4.9-4.3 3.2-2.5 3.2-2.1 3.2-1.8 3.2-1.5 3.1-1.2 3.2-.9 3.1-.6 4.6-.2 3.1.2 3 .5 3 .9 4.5 1.8 2.9 1.6 2.9 1.9 2.9 2.1 4.4 3.8-3.9-10-5.3-11.9-4-7.9-5.3-9.1-4.1-5.8-4-4.8-5.7-5.6-5.6-4.9-7.2-5.3-7.3-4.2-5.8-2.6-6-2-5.8-1.2-4.5-.4-3-.1-4.5.2-2.9.3z" fill="#09e7e7"/><path d="M183.4 306l-5.9 1.9-7.4 3.4-5.8 3.4-6.1 4.3-5.8 4.7-6.1 5.7-5.7 6.1-6 7.1-7.2 9.5-5.6 8-5.9 9.3-7 12-6.9 12.9-8.3 17-3.2 7.3-1.4 4.9 4.5-6.9 2.3-3 2.3-2.6 2.4-2.3 2.3-1.9 3.6-2.1 2.5-1 2.5-.5 3.7-.1 2.5.4 2.6.8 3.8 1.9 2.6 1.9 2.7 2.2 2.6 2.6 2.7 3 5.3 7.3 4.1 6.5 5.4 10.1 4.1 8.7 4.1 9.5 5.5 14.1 8.3-19.2 6.6-14 8.2-15.8 6.7-11.2 6.6-10.1 6.6-8.7 6.5-7.5 3.3-3.3 4.9-4.3 3.2-2.5 3.2-2.1 3.2-1.8 3.2-1.5 3.1-1.2 3.2-.9 3.1-.6 4.6-.2 3.1.2 3 .5 3 .9 4.5 1.8 2.9 1.6 2.9 1.9 2.9 2.1 4.4 3.8-3.9-10-5.3-11.9-4-7.9-5.3-9.1-4.1-5.8-4-4.8-5.7-5.6-5.6-4.9-7.2-5.3-7.3-4.2-5.8-2.6-6-2-5.8-1.2-4.5-.4-3-.1-4.5.2-2.9.3z" fill="#10e6e2"/><path d="M185 305.6l-5.9 1.7-6.1 2.5-5.8 3.1-7.4 4.9-6.1 4.8-5.8 5.2-6 6.3-5.7 6.5-7.2 9.3-6 8.4-7.1 11.1-5.4 9.2-8.5 15.7-6.8 13.8-3.4 7.6-1.1 3.3-.7 2.9 4.8-6.8 2.3-2.9 2.3-2.4 2.3-2.1 2.4-1.7 3.7-1.8 2.4-.8 2.5-.4 3.8.2 2.5.6 2.6 1 3.8 2.3 2.7 2 2.6 2.4 4 4.4 5.3 7.3 4.1 6.5 5.4 10.1 4.1 8.7 4.1 9.5 5.5 14.1 8.3-19.2 6.6-14 8.2-15.8 6.7-11.2 6.6-10.1 6.6-8.7 6.5-7.5 3.3-3.3 4.9-4.3 3.2-2.5 3.2-2.1 3.2-1.8 3.2-1.5 3.1-1.2 3.2-.9 3.1-.6 4.6-.2 3.1.2 3 .5 3 .9 4.5 1.8 2.9 1.6 2.9 1.9 2.9 2.1 4.4 3.8-3.9-10-4-9-3.9-8.2-5.4-9.5-4-6.1-4.1-5.2-5.5-5.7-5.8-5.2-5.7-4.5-7.2-4.6-7.3-3.6-5.8-2-4.5-1.2-2.9-.5-6.1-.5-5.9.2-2.9.3z" fill="#17e5de"/><path d="M185 305.6l-5.9 1.7-6.1 2.5-5.8 3.1-7.4 4.9-6.1 4.8-5.8 5.2-6 6.3-5.7 6.5-7.2 9.3-6 8.4-7.1 11.1-5.4 9.2-8.5 15.7-8.2 16.7-1.7 4.5-1.1 4.9 4.9-6.8 3.5-3.8 2.3-2.1 2.4-1.7 3.7-1.8 2.4-.8 2.5-.4 3.8.2 2.5.6 2.6 1 3.8 2.3 2.7 2 2.6 2.4 4 4.4 5.3 7.3 4.1 6.5 5.4 10.1 4.1 8.7 4.1 9.5 5.5 14.1 8.3-19.2 6.6-14 8.2-15.8 6.7-11.2 6.6-10.1 6.6-8.7 6.5-7.5 3.3-3.3 4.9-4.3 3.2-2.5 3.2-2.1 3.2-1.8 3.2-1.5 3.1-1.2 3.2-.9 3.1-.6 4.6-.2 3.1.2 3 .5 3 .9 4.5 1.8 2.9 1.6 2.9 1.9 2.9 2.1 4.4 3.8-3.9-10-4-9-3.9-8.2-5.4-9.5-4-6.1-4.1-5.2-5.5-5.7-5.8-5.2-5.7-4.5-7.2-4.6-7.3-3.6-5.8-2-4.5-1.2-2.9-.5-6.1-.5-5.9.2-2.9.3z" fill="#1ee4d9"/><path d="M185 305.6l-5.9 1.7-6.1 2.5-5.8 3.1-7.4 4.9-6.1 4.8-5.8 5.2-6 6.3-5.7 6.5-7.2 9.3-6 8.4-7.1 11.1-5.4 9.2-8.5 15.7-6.8 13.8-2 5.1-1.1 4.7-.1 1 2.8-3.8 2.3-2.9 2.3-2.4 2.3-2.1 3.6-2.4 3.7-1.6 2.5-.5 2.4-.2 3.8.5 3.9 1.3 3.8 2.3 2.7 2 2.6 2.4 4 4.4 5.3 7.3 4.1 6.5 5.4 10.1 4.1 8.7 4.1 9.5 4.4 11.2 2.2.2 7.2-16.5 8.2-17.3 8.3-15.4 6.6-11 6.6-9.7 6.6-8.4 6.6-7.2 6.5-5.9 3.2-2.5 3.2-2.1 3.2-1.8 3.2-1.5 3.1-1.2 3.2-.9 3.1-.6 4.6-.2 3.1.2 3 .5 3 .9 4.5 1.8 2.9 1.6 2.9 1.9 2.9 2.1 4.4 3.8-3.9-10-4-9-3.9-8.2-5.4-9.5-4-6.1-4.1-5.2-5.5-5.7-5.8-5.2-5.7-4.5-7.2-4.6-7.3-3.6-5.8-2-4.5-1.2-2.9-.5-6.1-.5-5.9.2-2.9.3z" fill="#2ce3ce"/><path d="M186.6 305.2l-6.1 1.6-5.9 2.3-6.1 3-5.8 3.6-5.8 4.3-6.1 5.1-5.8 5.6-6 6.6-7.2 8.8-5.6 7.7-6 8.7-7 11.4-8.5 15.3-6.8 13.4-3.1 6.7-.8 2.6-.7 3.1-.3 2.4 4.1-5.2 2.3-2.4 2.3-2.1 2.4-1.7 2.4-1.3 3.7-1.3 2.5-.4 2.5.1 3.8.7 3.8 1.7 3.9 2.6 2.7 2.2 2.6 2.6 4 4.7 4 5.6 4.1 6.5 4 7.5 4.1 8.3 4.1 9.2 4.6 11.3 4.7.4 7.5-17.1 8.3-16.9 8.3-15.1 3.3-5.4 4.9-7.7 5-6.9 6.6-8.1 6.5-6.9 6.5-5.6 3.2-2.3 3.2-2 3.2-1.6 3.2-1.4 3.1-1 3.1-.7 3.1-.4 4.7 0 3 .3 3 .7 3 1 3 1.3 2.9 1.6 2.9 1.9 2.9 2.1 4.4 3.8-3.9-10-4-9-3.9-8.2-5.4-9.5-4-6.1-4.1-5.2-4.1-4.4-5.7-5.3-7.2-5.7-5.7-3.7-4.4-2.4-2.9-1.4-6-2.3-5.8-1.6-2.9-.5-4.5-.4-3-.1-4.5.2z" fill="#3be2c2"/><path d="M186.6 305.2l-6.1 1.6-5.9 2.3-6.1 3-5.8 3.6-5.8 4.3-6.1 5.1-5.8 5.6-6 6.6-7.2 8.8-5.6 7.7-6 8.7-7 11.4-8.5 15.3-6.8 13.4-2.1 4.8-1.4 5-.3 3.5 4.1-4.9 2.4-2.3 2.3-1.9 2.4-1.5 2.5-1.1 3.7-1 3.7-.1 3.8.7 3.8 1.7 3.9 2.6 4 3.4 4 4.4 4 5.3 4 6.3 4.1 7.1 4 8 4.1 8.9 4.7 11.2 7.2.8 8-17.7 6.6-13.4 8.3-15.1 6.6-10.6 6.6-9.4 6.6-8.1 6.5-6.9 3.2-2.9 4.9-3.9 3.2-2.1 3.2-1.8 3.2-1.5 3.1-1.2 3.2-.9 3.1-.6 3.1-.2 3.1.1 3 .3 3 .7 3 1 3 1.3 2.9 1.6 2.9 1.9 2.9 2.1 4.4 3.8-3.9-10-4-9-3.9-8.2-5.4-9.5-4-6.1-4.1-5.2-4.1-4.4-5.7-5.3-7.2-5.7-5.7-3.7-4.4-2.4-2.9-1.4-6-2.3-5.8-1.6-2.9-.5-4.5-.4-3-.1-4.5.2z" fill="#4ae0b5"/><path d="M187.9 305l-5.8 1.3-6.2 2.2-5.8 2.8-5.8 3.4-6.1 4.3-5.8 4.7-6.1 5.7-5.7 6.1-6 7.1-5.6 7.3-6 8.4-7.1 11.1-7 12-8.4 15.9-3.4 7.1-1.4 4.9-.4 3-.1 2.1 4.2-4.6 2.3-2.1 2.4-1.7 2.4-1.3 2.5-1 3.7-.7 3.8.2 3.8 1.1 3.8 1.9 2.6 1.9 4 3.4 4 4.4 4 5.3 4 6.3 4.1 7.1 4 8 4.1 8.9 3.4 7.9 9.8 1 6.7-14.6 6.6-13.4 8.3-15.1 6.6-10.6 6.6-9.4 3.3-4.2 4.9-5.8 6.5-6.5 3.3-2.8 4.8-3.6 3.2-2 3.2-1.6 3.2-1.4 3.1-1 3.1-.7 3.1-.4 3.1-.1 3.1.2 3 .5 3 .9 3 1.1 3 1.4 2.9 1.8 2.9 2 5.8 4.9-3.9-10-4-9-3.9-8.2-5.4-9.5-4-6.1-4.1-5.2-4.1-4.4-5.7-5.3-5.7-4.6-5.8-4-5.8-3.2-7.3-3.2-2.9-.9-4.5-1.2-5.9-.8-6-.2-3 .2z" fill="#64d59c"/><path d="M187.9 305l-5.8 1.3-6.2 2.2-5.8 2.8-5.8 3.4-6.1 4.3-5.8 4.7-6.1 5.7-5.7 6.1-6 7.1-5.6 7.3-6 8.4-7.1 11.1-7 12-6.9 12.9-3.5 7.1-1.5 5-.5 3-.1 3.6 4.2-4.3 3.5-2.7 3.7-1.8 3.7-1 2.4-.2 2.6.2 3.8 1.1 3.8 1.9 4 2.9 3.9 3.8 4 4.7 4 5.6 2.7 4.3 4.1 7.1 2.7 5.2 4.1 8.7 3.3 7.5 6.8.9 5.8.5 6.9-15.1 6.6-13.1 8.3-14.6 6.6-10.4 6.6-9 6.6-7.9 6.5-6.5 3.3-2.8 4.8-3.6 3.2-2 3.2-1.6 3.2-1.4 3.1-1 3.1-.7 3.1-.4 3.1-.1 3.1.2 3 .5 3 .9 3 1.1 3 1.4 2.9 1.8 2.9 2 5.8 4.9-3.9-10-4-9-3.9-8.2-5.4-9.5-4-6.1-4.1-5.2-4.1-4.4-5.7-5.3-5.7-4.6-5.8-4-5.8-3.2-7.3-3.2-2.9-.9-4.5-1.2-5.9-.8-6-.2-3 .2z" fill="#84c27a"/><path d="M187.9 305l-5.8 1.3-6.2 2.2-5.8 2.8-5.8 3.4-6.1 4.3-5.8 4.7-6.1 5.7-5.7 6.1-6 7.1-5.6 7.3-6 8.4-7.1 11.1-7 12-6.9 12.9-2.6 5.5-1.3 4.6-.5 3.6 0 3.6 4.1-3.9 3.6-2.4 3.7-1.6 3.7-.7 3.8.2 3.8 1.1 3.8 1.9 4 2.9 3.9 3.8 2.7 3 4 5.3 2.7 4.1 4 6.8 2.7 5.1 4.1 8.3 3.2 7.1 7 1 8.4.8 7.3-15.5 6.6-12.8 8.3-14.2 6.6-10.1 6.6-8.7 6.5-7.5 6.5-6.2 3.3-2.7 4.8-3.3 4.8-2.6 3.2-1.4 3.1-1 3.1-.7 3.1-.4 3.1-.1 3.1.2 3 .5 3 .9 3 1.1 3 1.4 2.9 1.8 2.9 2 5.8 4.9-3.9-10-4-9-3.9-8.2-5.4-9.5-4-6.1-4.1-5.2-4.1-4.4-5.7-5.3-5.7-4.6-5.8-4-5.8-3.2-7.3-3.2-2.9-.9-4.5-1.2-5.9-.8-6-.2-3 .2z" fill="#a4b05a"/><path d="M189.5 304.7l-6.1 1.3-5.9 1.9-4.5 1.9-5.8 3.1-6.1 3.9-5.8 4.4-6.1 5.4-5.7 5.8-5.7 6.3-6 7.4-5.6 7.7-6 8.7-7 11.4-7 12.4-4.8 9.2-1.1 2.7-.9 3.1-.4 2.3-.3 2.7.2 3.9 2.8-2.5 3.6-2.4 3.7-1.6 3.7-.7 3.8.2 3.8 1.1 3.8 1.9 4 2.9 3.9 3.8 2.7 3 4 5.3 2.7 4.1 4 6.8 2.7 5.1 5.8 12 9.7 1.4 8.6.7 7.5-15.7 6.6-12.5 6.7-11.2 3.3-5.2 4.9-7.2 6.6-8.4 6.6-7.2 6.5-5.9 3.2-2.5 4.8-3.1 4.8-2.3 3.1-1.2 3.2-.9 3.1-.6 3.1-.2 3.1.1 3 .3 4.5 1.2 3 1.1 3 1.4 2.9 1.8 2.9 2 5.8 4.9-3.9-10-4-9-3.9-8.2-5.4-9.5-4-6.1-4.1-5.2-4.1-4.4-5.7-5.3-5.7-4.6-5.8-4-5.8-3.2-7.3-3.2-5.9-1.7-6-1.1-5.9-.3-4.5.2z" fill="#b6a043"/><path d="M189.5 304.7l-6.1 1.3-5.9 1.9-4.5 1.9-5.8 3.1-6.1 3.9-5.8 4.4-6.1 5.4-5.7 5.8-5.7 6.3-6 7.4-5.6 7.7-6 8.7-7 11.4-7 12.4-3.8 7.4-1.6 4.4-.5 2.5-.3 3 0 2.8.3 2.5 2.6-2.1 3.6-2.1 3.7-1.3 3.7-.4 3.8.5 3.9 1.3 3.8 2.3 4 3.2 3.9 4.1 2.7 3.2 5.4 7.7 5.4 9.3 5.5 11 10.7 1.7 10.6.9 7.8-15.8 6.6-12.2 6.6-11 3.3-5 5-6.9 6.6-8.1 6.5-6.9 6.5-5.6 3.2-2.3 4.8-2.8 4.8-2.2 3.1-1 3.1-.7 4.7-.5 3.1.1 3 .3 4.5 1.2 3 1.1 3 1.4 2.9 1.8 2.9 2 5.8 4.9-3.9-10-4-9-3.9-8.2-5.4-9.5-4-6.1-4.1-5.2-4.1-4.4-5.7-5.3-5.7-4.6-5.8-4-5.8-3.2-7.3-3.2-5.9-1.7-6-1.1-5.9-.3-4.5.2z" fill="#d0952e"/><path d="M190.9 304.6l-5.9 1-5.9 1.7-6.1 2.5-5.8 3.1-6.1 3.9-5.8 4.4-4.5 3.9-5.8 5.6-6 6.6-5.7 6.8-5.9 8-5.6 8-5.9 9.3-7 12-5 9.3-1.6 4.3-.8 3.2-.3 3.4.1 3.3.4 2.8 3.6-2.4 2.5-1.1 3.7-1 2.4-.2 3.8.5 2.6.8 2.5 1.2 2.6 1.6 4 3.2 2.6 2.6 2.7 3 2.6 3.5 4.1 5.9 2.7 4.4 2.7 4.9 3.8 7.5 7.5 1.3 5.5.8 11.5.9 7.9-15.9 6.7-11.9 6.6-10.6 6.6-9.4 6.6-8.1 6.5-6.9 6.5-5.6 3.2-2.3 4.8-2.8 4.8-2.2 3.1-1 3.1-.7 4.7-.5 3.1.1 3 .3 4.5 1.2 3 1.1 3 1.4 2.9 1.8 2.9 2 5.8 4.9-3.9-10-4-9-3.9-8.2-4-7.3-4.1-6.4-4-5.5-2.7-3.1-5.7-5.6-7.1-6.1-5.7-4.1-7.3-4.2-4.4-2.1-5.8-2-4.5-1.2-2.9-.5-4.5-.4-3-.1z" fill="#f08f1a"/><path d="M190.9 304.6l-5.9 1-4.5 1.2-5.9 2.3-6.1 3-5.8 3.6-4.5 3.3-5.8 4.7-6.1 5.7-5.7 6.1-4.4 5.1-6 7.6-5.6 7.8-7.1 10.9-5.9 9.7-6.1 11.1-1.7 4.2-.9 3.1-.4 4.2.2 4.1.6 3.2 3.2-1.8 2.5-1 2.5-.5 2.4-.2 3.8.5 2.6.8 2.5 1.2 2.6 1.6 4 3.2 2.6 2.6 2.7 3 2.6 3.5 5.4 8.1 6.1 10.9 5.9 1.2 7.5 1.2 7.9.8 6.5.4 8.1-15.9 6.6-11.5 6.6-10.4 6.6-9 6.6-7.9 6.5-6.5 6.5-5.3 3.2-2.1 4.8-2.6 4.7-1.9 3.2-.9 3.1-.6 4.6-.2 3.1.2 3 .5 4.5 1.4 3 1.3 2.9 1.6 4.4 2.9 5.8 4.9-3.9-10-4-9-3.9-8.2-4-7.3-4.1-6.4-4-5.5-2.7-3.1-5.7-5.6-7.1-6.1-5.7-4.1-7.3-4.2-4.4-2.1-5.8-2-4.5-1.2-2.9-.5-4.5-.4-3-.1z" fill="#ff8b10"/><path d="M190.9 304.6l-5.9 1-4.5 1.2-5.9 2.3-4.5 2.2-5.8 3.4-6.1 4.3-5.8 4.7-4.5 4.1-6 6.3-5.7 6.5-6 7.6-5.6 7.8-5.9 9-5.5 8.9-6.1 10.8-1.8 4.1-1.2 4.4-.4 3.8.3 3.9 1.1 4.5 2.7-1.2 2.4-.8 2.5-.4 2.5.1 2.5.4 2.6.8 2.5 1.2 2.6 1.6 2.7 2 2.6 2.4 2.6 2.9 2.7 3.2 5.4 7.7 5.4 9.3 6.8 1.6 8.6 1.4 6.9.7 9 .6 8.2-15.8 6.7-11.2 6.6-10.1 6.6-8.7 6.5-7.5 6.5-6.2 3.3-2.7 3.2-2.3 3.2-2 4.8-2.3 4.7-1.7 4.7-1 4.6-.2 3.1.2 3 .5 4.5 1.4 3 1.3 2.9 1.6 4.4 2.9 5.8 4.9-3.9-10-4-9-3.9-8.2-4-7.3-4.1-6.4-4-5.5-2.7-3.1-5.7-5.6-7.1-6.1-5.7-4.1-7.3-4.2-4.4-2.1-5.8-2-4.5-1.2-2.9-.5-4.5-.4-3-.1z" fill="#ff8a10"/><path d="M192.4 304.4l-4.5.6-5.8 1.3-6.2 2.2-5.8 2.8-5.8 3.4-6.1 4.3-5.8 4.7-4.5 4.1-4.4 4.6-5.7 6.3-6 7.4-4.4 6-5.6 8-5.9 9.3-7 12-2.1 4.4-1.3 4.5-.4 2.9-.1 2.4.6 4.5 1.4 4.3 2-.7 2.5-.5 2.4-.2 2.6.2 2.5.6 2.6 1 3.8 2.3 2.7 2 2.6 2.4 4 4.4 5.3 7.3 4.6 7.5 8.6 2.1 9.1 1.5 8.3.9 9.1.5 6.6-12.6 6.7-11.2 6.6-10.1 3.3-4.5 4.9-6.2 6.6-7.2 6.5-5.9 3.2-2.5 3.2-2.1 3.2-1.8 4.8-2.2 4.7-1.4 4.6-.7 4.7 0 3 .3 3 .7 4.5 1.6 4.4 2.3 4.4 2.9 5.8 4.9-3.9-10-4-9-3.9-8.2-4-7.3-4.1-6.4-4-5.5-2.7-3.1-5.7-5.6-7.1-6.1-5.7-4.1-7.3-4.2-4.4-2.1-5.8-2-4.5-1.2-2.9-.5-6.1-.5z" fill="#ff910e"/><path d="M192.4 304.4l-4.5.6-5.8 1.3-4.6 1.6-5.8 2.5-4.5 2.5-6.1 3.9-5.8 4.4-4.5 3.9-5.8 5.6-6 6.6-4.4 5.3-5.6 7.3-6 8.4-5.5 8.6-7 11.7-2.1 4.2-1.4 4.4-.5 3-.1 2.9.2 2.7.6 2.6.8 2.6 1.2 2.6 2.3-.4 2.4-.2 3.8.5 3.9 1.3 3.8 2.3 4 3.2 3.9 4.1 4 5 4.9 7.2 9.3 2.5 9.6 1.8 10.9 1.2 9.3.4 6.7-12.3 6.6-11 6.6-9.7 6.6-8.4 6.6-7.2 6.5-5.9 3.2-2.5 3.2-2.1 3.2-1.8 4.8-2.2 4.7-1.4 4.6-.7 4.7 0 3 .3 3 .7 4.5 1.6 4.4 2.3 4.4 2.9 5.8 4.9-3.9-10-4-9-3.9-8.2-4-7.3-4.1-6.4-4-5.5-2.7-3.1-5.7-5.6-7.1-6.1-5.7-4.1-7.3-4.2-4.4-2.1-5.8-2-4.5-1.2-2.9-.5-6.1-.5z" fill="#ff9e0b"/><path d="M192.4 304.4l-4.5.6-5.8 1.3-4.6 1.6-5.8 2.5-4.5 2.5-6.1 3.9-5.8 4.4-4.5 3.9-5.8 5.6-6 6.6-4.4 5.3-5.6 7.3-4.4 6.1-5.9 9-5.5 8.9-3.2 5.9-1.1 2.8-.8 3.1-.3 3 0 2.8.3 2.7.9 3.2 1.3 3 1.5 2.7 3.4 0 3.8.7 3.8 1.7 2.6 1.6 4 3.2 2.6 2.6 4 4.7 3.4 4.7 4.8 1.6 5 1.4 10.8 2.2 11.1 1.3 11.9.5 6.7-12 6.6-10.6 6.6-9.4 6.6-8.1 6.5-6.9 6.5-5.6 3.2-2.3 3.2-2 3.2-1.6 4.7-1.9 4.7-1.2 4.7-.5 4.6.2 4.5.9 4.5 1.6 4.4 2.3 4.4 2.9 5.8 4.9-3.9-10-4-9-3.9-8.2-4-7.3-4.1-6.4-4-5.5-2.7-3.1-5.7-5.6-7.1-6.1-5.7-4.1-7.3-4.2-4.4-2.1-5.8-2-4.5-1.2-2.9-.5-6.1-.5z" fill="#ffab08"/><path d="M194 304.3l-4.5.4-6.1 1.3-5.9 1.9-4.5 1.9-5.8 3.1-4.5 2.8-4.5 3.3-5.8 4.7-4.5 4.1-6 6.3-5.7 6.5-4.4 5.5-4.4 6-5.6 8-5.9 9.3-3.9 6.7-1.5 3.4-.9 3.1-.4 3.1-.1 2 .3 3.5.7 2.6.9 2.7 1.5 2.9 2.6 3.6 2.6.5 2.6.8 3.8 1.9 2.6 1.9 4 3.4 2.6 2.9 2.6 3.1 5.6 2.1 5.5 1.7 4.9 1.3 7 1.4 7.5 1 5.8.6 6 .3 6.5.1 6.6-11.4 5-7.9 4.9-7.2 6.6-8.4 4.9-5.5 6.5-6.2 4.9-3.9 3.2-2.1 3.2-1.8 4.8-2.2 3.1-1 3.1-.7 4.7-.5 3.1.1 3 .3 4.5 1.2 3 1.1 3 1.4 2.9 1.8 2.9 2 5.8 4.9-3.9-10-4-9-3.9-8.2-4-7.3-4.1-6.4-4-5.5-2.7-3.1-5.7-5.6-7.1-6.1-5.7-4.1-7.3-4.2-4.4-2.1-5.8-2-6.1-1.4-5.8-.7z" fill="#ffb905"/><path d="M194 304.3l-4.5.4-4.5.9-4.5 1.2-5.9 2.3-4.5 2.2-5.8 3.4-6.1 4.3-4.5 3.6-5.8 5.2-4.4 4.6-4.5 4.9-5.7 6.8-4.3 5.8-4.4 6.1-4.4 6.5-6.1 10-1.4 2.7-1.1 2.8-1 4.8-.1 2.7.3 2.7.6 2.6.8 2.5 1.2 2.5 2.1 3.3 3.7 4.2 1.1 1 2.5 1.2 2.6 1.6 2.7 2 2.3 2.2 5.2 2.5 7.2 2.8 6 1.8 6.7 1.6 7.3 1.3 8.1.9 6.7.4 8.9.2 6.5-10.9 4.9-7.7 5-6.9 6.6-8.1 4.9-5.3 6.5-5.9 4.8-3.6 3.2-2 3.2-1.6 4.7-1.9 3.2-.9 3.1-.6 4.6-.2 3.1.2 3 .5 4.5 1.4 3 1.3 2.9 1.6 4.4 2.9 5.8 4.9-3.9-10-4-9-3.9-8.2-4-7.3-4.1-6.4-4-5.5-2.7-3.1-5.7-5.6-7.1-6.1-5.7-4.1-7.3-4.2-4.4-2.1-5.8-2-6.1-1.4-5.8-.7z" fill="#ffc702"/><path d="M195.4 304.2l-4.5.4-4.3.6-4.5 1.1-4.6 1.6-4.5 1.9-4.5 2.3-4.2 2.6-4.5 3.1-4.5 3.4-4.5 3.9-4.5 4.3-4.4 4.7-8.6 10-4.3 5.8-4.4 6.1-7.1 10.9-3.1 5.3-1.2 2.8-.8 3-.4 3 0 2.2.4 3.3.7 2.6 1.3 3.1 1.6 2.8 1.6 2.2 2.8 3.1 3.4 2.9 2.5 1.8 5.7 3.5 6.5 3 7.5 2.7 6.3 1.7 9.4 1.9 7.9 1 8.8.6 10 0 6.2-10.2 5-7.4 4.9-6.6 6.6-7.9 4.9-5 4.9-4.3 4.8-3.6 3.2-2 3.2-1.6 4.7-1.9 3.2-.9 3.1-.6 4.6-.2 3.1.2 3 .5 4.5 1.4 3 1.3 2.9 1.6 4.4 2.9 5.1 4.4.2-.7-6.1-14.9-3.9-8.5-4-7.6-4-6.7-4.1-5.8-4-4.8-4.2-4.2-5.8-5.2-5.7-4.5-7.2-4.6-5.8-2.9-6-2.3-5.8-1.6-5.9-.8z" fill="#ffd500"/><path d="M195.4 304.2l-4.5.4-4.3.6-4.5 1.1-4.6 1.6-4.5 1.9-4.5 2.3-4.2 2.6-4.5 3.1-4.5 3.4-4.5 3.9-4.5 4.3-4.4 4.7-8.6 10-4.3 5.8-4.4 6.1-7 10.7-2.1 3.9-1.5 4.4-.5 3 0 2.8.3 2.7.7 2.7 1 2.5 1.7 3.3 2.5 3.2 2 2.1 3.3 2.9 2.5 1.8 5.7 3.5 6.6 3 7.6 2.6 6.3 1.7 7.7 1.6 9.8 1.2 9.6.6 9.6-.1 5.9-9.4 4.9-7.2 5-6.4 4.9-5.8 4.9-5 4.9-4.3 4.8-3.6 3.2-2 3.2-1.6 4.7-1.9 4.7-1.2 4.7-.5 3.1.1 3 .3 4.5 1.2 3 1.1 3 1.4 4.3 2.8 5 3.8.6-2.3-.9-2.4-5.3-12.2-2.6-5.6-4-7.6-4-6.7-4.1-5.8-4-4.8-4.2-4.2-5.8-5.2-5.7-4.5-7.2-4.6-5.8-2.9-6-2.3-5.8-1.6-5.9-.8z" fill="#ffe200"/><path d="M195.4 304.2l-4.5.4-4.3.6-4.5 1.1-4.6 1.6-7.4 3.4-4.5 2.5-4.5 3-4.2 3.2-4.5 3.7-4.5 4.1-4.4 4.6-7.3 8.2-4.4 5.5-4.4 6-7.2 10.4-3 5.2-1.1 2.8-.8 2.9-.3 4.3.2 2.7.6 2.6.9 2.5 1.9 3.5 1.5 2.2 1.8 2.1 3.2 3 2.4 1.8 5.5 3.5 6.4 3.1 7.3 2.8 8.4 2.2 8.1 1.6 9.6 1.1 9.5.5 10.1-.2 5.5-8.5 5-6.9 4.9-6.2 4.9-5.5 4.9-4.8 4.9-4.1 4.8-3.3 4.8-2.6 4.7-1.9 4.7-1.2 4.7-.5 4.6.2 4.5.9 4.5 1.6 4.4 2.3 6.1 4.2 1.1-4-4.9-11.4-5.3-10.8-4-6.9-4-6.1-4.1-5.2-5.5-5.7-5.8-5.2-5.7-4.5-7.2-4.6-5.8-2.9-6-2.3-5.8-1.6-5.9-.8z" fill="#ffee00"/><path d="M196.9 304.2l-4.5.2-2.9.3-4.5.9-4.5 1.2-3 1.1-4.5 1.9-4.5 2.3-4.2 2.6-4.5 3.1-4.5 3.4-7.4 6.6-4.4 4.6-4.5 4.9-7.2 8.8-7.2 9.9-5 7.7-1.2 2.4-1 2.6-.4 1.8-.4 2.7 0 2.8.3 2.7 1 3.3 1.2 2.7 1.5 2.4 1.7 2.1 3 3.1 2.3 1.9 2.5 1.8 3.6 2.2 7 3.5 7.4 2.7 8.5 2.2 9.7 1.7 8.6.9 8.9.4 10.8-.3 5-7.5 4.9-6.6 3.3-4.1 4.9-5.5 4.9-4.8 4.9-4.1 4.8-3.3 4.8-2.6 4.7-1.9 4.7-1.2 4.7-.5 4.6.2 4.5.9 4.5 1.6 4.4 2.3 4.2 2.7 1.1-2.9.6-2.8-3.6-8.2-2.6-5.6-4-7.6-5.4-8.7-4-5.5-2.7-3.1-2.8-2.9-5.7-5.3-5.7-4.6-5.8-4-5.8-3.2-5.8-2.6-6-2-5.8-1.2-4.5-.4z" fill="#fffb00"/><path d="M196.9 304.2l-4.5.2-2.9.3-4.5.9-4.5 1.2-3 1.1-4.5 1.9-4.5 2.3-4.2 2.6-4.5 3.1-4.5 3.4-7.4 6.6-4.4 4.6-4.5 4.9-7.2 8.8-7.2 9.9-3.8 5.8-1.7 4.2-.7 2.6-.3 2.1.1 3.6.4 2.1.9 3 1.1 2.4 1.4 2.2 1.6 2.2 2.8 2.9 2.5 2.1 3.8 2.7 2.9 1.6 6.4 3.1 7.5 2.7 8.6 2.2 8.6 1.5 9.8.9 9.3.3 11.1-.5 4.3-6.2 5-6.4 3.3-3.9 4.9-5.3 3.2-3.1 4.9-4.1 4.8-3.3 4.8-2.6 3.2-1.4 4.7-1.4 4.6-.7 4.7 0 4.5.6 4.5 1.4 4.5 2 3.6 2.2 1.5-3.7.8-3.9-3.5-7.8-4-7.9-5.3-9.1-2.7-3.9-2.7-3.6-2.7-3.1-2.8-2.9-5.7-5.3-5.7-4.6-5.8-4-5.8-3.2-5.8-2.6-6-2-5.8-1.2-4.5-.4z" fill="#fdfd04"/><path d="M198.3 304.2l-4.3.1-4.5.4-4.5.9-2.9.7-4.6 1.6-2.9 1.2-7.4 3.8-4.5 2.8-4.5 3.3-7.4 6.1-7.3 7.3-7.3 8.2-7.2 9.3-5.5 7.8-1.5 2.6-.9 2-.7 2.2-.5 2.5-.2 2.8.2 2.7.6 2.6 1 2.4 1.2 2.3 1.5 2.3 2.6 3 2.3 2.1 3.6 2.7 2.8 1.8 6.2 3.1 5.4 2.1 3.8 1.3 8.7 2.1 8.8 1.5 9.7.8 9.7.2 11.5-.6 5.2-7 3.3-4.1 3.3-3.8 4.9-5 3.2-2.9 4.9-3.9 3.2-2.1 4.8-2.6 3.2-1.4 4.7-1.4 3.1-.6 4.6-.2 3.1.2 4.5.9 4.5 1.6 4.5 2.2 1.2-2.5 1-2.6.5-2.1.3-2.3-4.7-9.8-5.4-9.5-5.4-8-2.7-3.3-2.7-3-7.1-6.7-4.3-3.5-5.7-4.1-7.3-4.2-5.8-2.6-6-2-5.8-1.2z" fill="#fafa0b"/><path d="M198.3 304.2l-4.3.1-4.5.4-4.5.9-2.9.7-4.6 1.6-2.9 1.2-7.4 3.8-7.4 4.9-7.4 5.9-7.4 7-7.2 8-6 7.4-6.8 9.4-1.1 1.9-1.2 2.7-1 3.7-.3 2.9.1 2.7.6 2.6.8 2.4 1.2 2.4 1.5 2.2 2 2.3 2.8 2.8 3.7 2.8 2.8 1.7 6.2 3.1 7.3 2.7 8.5 2.3 9.7 1.7 10.9.9 10.5.1 10.8-.8 1.2-.1 4.2-5.4 3.3-3.9 3.2-3.6 4.9-4.8 6.5-5.3 3.2-2.1 4.8-2.6 3.2-1.4 4.7-1.4 3.1-.6 4.6-.2 3.1.2 4.5.9 3 1 3.6 1.6 1.8-3.2 1-2.6.7-2.8.3-3.1-4.5-9-4-6.9-4-6.1-2.7-3.6-2.7-3.1-5.7-5.6-7.1-6.1-5.7-4.1-7.3-4.2-5.8-2.6-6-2-5.8-1.2z" fill="#f7f711"/><path d="M198.3 304.2l-4.3.1-4.5.4-4.5.9-2.9.7-4.6 1.6-2.9 1.2-6.1 3-7.4 4.7-7.4 5.8-7.4 6.8-7.3 7.9-7.2 8.8-5.2 7.2-2.1 4.1-1.2 4.3-.2 1.8.1 2.8.4 2.6.9 2.5 1.4 2.8 2 2.8 1.8 2 2.2 2 3.6 2.8 2.8 1.7 6.3 3.1 7.3 2.7 8.5 2.2 9.9 1.6 8.5.7 10.6.2 10.2-.7 5.3-.6 4.6-5.5 3.2-3.6 6.5-6.2 3.3-2.7 3.2-2.3 3.2-2 4.8-2.3 3.1-1.2 3.2-.9 3.1-.6 3.1-.2 3.1.1 3 .3 3 .7 4 1.4 1.9-2.8 1.7-3.8 1.1-4.2.1-3.1-4.2-8-4-6.7-4.1-5.8-4-4.8-5.7-5.6-7.1-6.1-5.7-4.1-7.3-4.2-5.8-2.6-6-2-5.8-1.2z" fill="#f2f21e"/><path d="M199.9 304.3l-3-.1-4.5.2-2.9.3-4.5.9-2.9.7-4.6 1.6-5.8 2.5-6.1 3.4-7.4 5.2-7.4 6.1-7.3 7.3-7.3 8.2-6.8 8.7-2.3 3.7-1.2 2.7-.5 1.6-.5 3 0 2.8.4 2.6.7 2.5 1.1 2.4 1.5 2.2 1.7 2.1 1.9 2 2.3 2 2.5 1.8 5.8 3.3 6.8 2.9 8 2.4 8.4 1.7 8.9 1.1 10.3.5 9.5-.3 6-.5 7.3-1 4.7-5.2 3.3-3.3 6.5-5.6 3.2-2.3 3.2-2 3.2-1.6 3.2-1.4 4.7-1.4 3.1-.6 3.1-.2 4.6.2 5.6 1.2 2.8-3.7 1.3-2.5.8-2 .9-3.4.2-3-.1-1.7-3.7-6.8-2.7-4.4-2.7-3.9-4.1-5.2-2.7-3-4.3-4.1-5.6-4.9-5.9-4.4-5.7-3.6-7.3-3.6-5.8-2-6.1-1.4z" fill="#ecec2f"/><path d="M199.9 304.3l-3-.1-4.5.2-2.9.3-4.5.9-2.9.7-4.6 1.6-5.8 2.5-6.1 3.4-7.4 5.2-7.4 6.1-7.3 7.3-7.3 8.2-5.6 7.1-2.2 3.8-1.4 4.1-.3 1.8-.1 2.5.4 2.6.7 2.5 1 2.4 1.4 2.3 1.7 2.1 1.9 2 2.3 1.9 2.5 1.8 5.8 3.3 6.9 2.9 8.1 2.4 8.2 1.6 9.3 1.1 9.4.3 7.1-.2 8.5-.7 9.9-1.5 5.9-5.9 6.5-5.3 4.8-3.1 3.2-1.6 3.2-1.4 3.1-1 4.7-1 4.6-.2 5.3.6.6-.6 1.9-2.1 1.6-2.2 2.1-3.9.9-2.5.5-2.6.1-1.9-.2-2.4-.1-.9-.5-.9-4-6.7-2.7-3.9-4.1-5.2-2.7-3-4.3-4.1-5.6-4.9-5.9-4.4-5.7-3.6-7.3-3.6-5.8-2-6.1-1.4z" fill="#e1e147"/><path d="M199.9 304.3l-3-.1-4.5.2-5.8.8-6.1 1.6-3 1.1-4.5 1.9-7.4 4-7.4 5.2-7.4 6.1-5.8 5.6-6 6.6-6.3 7.7-2.4 4-1.4 3.9-.4 2.3 0 2.7.8 4 1.1 2.4 1.3 2.2 1.6 2.1 2 2.1 2.2 1.9 2.5 1.8 5.9 3.3 5.1 2.2 7.8 2.4 9.2 1.9 7.8 1 9.1.4 8.1-.1 5.1-.4 6.6-.7 5.2-.9 6.2-1.3 4.8-4.2 3.2-2.5 3.2-2.1 4.8-2.6 3.2-1.4 4.7-1.4 4.6-.7 4.3-.1 3.2-2.9 2.1-2.5 1.5-2.2 2-3.8.6-1.7.5-2.5 0-3.6-.5-3-1.1-1.7-4-6.1-4.1-5.2-2.7-3-4.3-4.1-5.6-4.9-5.9-4.4-5.7-3.6-7.3-3.6-5.8-2-6.1-1.4z" fill="#d5d561"/><path d="M201.4 304.4l-6-.2-3 .2-4.5.6-5.8 1.3-4.6 1.6-2.9 1.2-7.4 3.8-6.1 3.9-5.8 4.4-7.4 6.6-7.3 7.7-5.4 6.3-2.5 3.7-1.5 3.4-.6 2.7-.2 1.8 0 1.6.4 2.4.7 2.5 1.2 2.3 1.4 2.2 1.8 2.1 2.1 2 2.3 1.8 2.7 1.8 2.9 1.6 6.7 2.9 5.8 1.9 8.3 1.9 7.1 1 9.4.6 7.7 0 7.8-.5 7.4-.9 8.6-1.6 7.4-2 5.2-3.6 4.8-2.6 3.2-1.4 3.1-1 4.9-1 3.6-2.7 2.2-1.9 2-2.1 1.8-2.2 2.2-3.5 1.5-4 .5-3.2-.2-2.9-1-3.8-2.7-3.9-2.7-3.6-4.1-4.6-7.1-6.7-7.2-5.7-5.7-3.7-5.9-3.2-5.8-2.4-2.9-.9-4.5-1.2z" fill="#cece70"/><path d="M201.4 304.4l-6-.2-5.9.5-4.5.9-2.9.7-6.2 2.2-5.8 2.8-7.4 4.4-5.8 4.3-6.1 5.1-7.3 7.3-6.4 7.2-1.8 2.4-1.9 3.8-.8 2.8-.2 1.8.1 2.4.4 2.6 1.5 3.6 1.4 2.2 1.8 2.1 2 2 2.4 1.8 4 2.6 6.5 3 5.6 2 8.8 2 7.6 1.2 6.9.5 8.6.1 7.7-.4 9.3-1.2 8.5-1.7 7.6-2.1 7-2.6 6.3-2.9 5.5-3.4 5.1-3.9 2.8-2.9 1.7-2.2 1.3-2 1.6-3.6.7-3.3-.1-3.4-.8-3.4-1.1-2.5-2.6-3.4-4.1-4.6-7.1-6.7-7.2-5.7-5.7-3.7-5.9-3.2-5.8-2.4-2.9-.9-4.5-1.2z" fill="#c6c682"/><path d="M202.8 304.5l-5.9-.3-4.5.2-2.9.3-6.1 1.3-5.9 1.9-5.8 2.5-6.1 3.4-5.8 4-6.1 4.8-5.8 5.2-7.3 7.7-3 3.7-2 3.8-1 3.7-.2 2.6.2 1.9.6 2.2.9 2.3 2.3 3.4 1.9 2 2.2 1.9 3.8 2.7 3 1.6 3.2 1.5 5.5 2 7.3 1.9 7.6 1.3 6.6.7 8.8.2 8.1-.3 9.1-1 6.6-1.3 7.9-2 7.2-2.4 6.4-2.8 5.7-3.3 5-3.6 3.2-3 2.6-3.4 1.9-3.6.8-2.8.4-2.9-.4-3.4-1.3-3.6-1.9-3-4.6-4.9-5.7-5.3-7.2-5.7-5.7-3.7-5.9-3.2-5.8-2.4-5.9-1.7z" fill="#bebe93"/><path d="M202.8 304.5l-5.9-.3-6 .4-5.9 1-5.9 1.7-6.1 2.5-5.8 3.1-6.1 3.9-5.8 4.4-7.4 6.6-6 6.3-2 2.5-2 3.5-.6 1.6-.7 3 .2 3.6.3 1.8 1 2.4 2.1 3.3 2.9 3 2.3 1.9 2.7 1.7 2.9 1.6 3.3 1.5 5.5 2 6.3 1.6 7.3 1.3 7.2.7 7.5.2 7.4-.3 8.7-.9 6.5-1.1 8-2 7.2-2.4 6.4-2.8 5.7-3.3 3.8-2.7 3.3-2.9 2.7-3.3 1.5-2.6 1.4-3.7.4-3-.3-3.3-1.1-3.1-2.1-3.4-1.7-2-3.8-3.6-5.6-4.9-5.9-4.4-5.7-3.6-5.8-2.9-4.4-1.8-5.9-1.7z" fill="#b6b6a4"/><path d="M202.8 304.5l-5.9-.3-4.5.2-5.8.8-6.1 1.6-5.9 2.3-6.1 3-5.8 3.6-5.8 4.3-6.1 5.1-6.7 6.6-2.4 3-1.6 3-1.1 3.6-.2 2.4.1 1.8.6 2.1.6 1.6 2 3.3 2.9 3 2.3 1.9 2.6 1.7 4.6 2.4 5.3 2 6.1 1.8 7.1 1.3 8.2.8 6.2.2 8.1-.2 7.2-.8 6.6-1 6.1-1.4 7.4-2.3 6.7-2.7 5.8-3.2 3.9-2.6 3.4-2.9 2.8-3.2 2-3.3 1.1-2.9.4-2.9-.2-3.4-.8-2.5-2-3.4-1.7-2.1-2.1-1.9-5.6-4.9-5.9-4.4-5.7-3.6-5.8-2.9-4.4-1.8-5.9-1.7z" fill="#b2adae"/><path d="M204.4 304.7l-6.1-.5-5.9.2-4.5.6-5.8 1.3-6.2 2.2-5.8 2.8-4.5 2.5-5.8 4-6.1 4.8-5.8 5.2-3.2 3.5-2 3.2-1.2 3.3-.3 1.6 0 2.6.2 1.3.7 2.5 2 3.4 2.8 3 3.6 2.8 4.3 2.4 5.1 2.1 6 1.8 6.8 1.4 6.7.8 7.5.4 7-.1 7.2-.7 6.7-1 6.2-1.3 5.6-1.7 6.9-2.6 4.6-2.2 5.4-3.4 3.5-2.8 2.9-3.1 1.6-2.4 1.6-3.3.6-3.2-.1-2.8-.7-2.6-1.8-3.4-2.7-3.1-4.9-4.2-5.9-4.4-5.7-3.6-5.8-2.9-4.4-1.8-4.5-1.4z" fill="#b6a5a6"/><path d="M204.4 304.7l-6.1-.5-5.9.2-4.5.6-5.8 1.3-4.6 1.6-5.8 2.5-4.5 2.5-6.1 3.9-5.8 4.4-6.1 5.5-2 2.2-2.3 3.5-1.1 3.3-.2 2.7.1 1.5.6 2.5 1.9 3.4 2.7 3.1 3.6 2.7 4.3 2.4 5.2 2.1 6 1.8 5.3 1 6.9.9 6.2.3 8-.1 7.3-.7 6.6-1.1 5.5-1.3 6.1-1.8 5.1-2 4.6-2.2 5.2-3.3 3.6-3 2.3-2.5 2-3 1.1-2.6.5-3.2-.2-2.8-.7-2.5-1.3-2.3-2.5-3.1-3.1-2.6-5.9-4.4-5.7-3.6-5.8-2.9-4.4-1.8-4.5-1.4z" fill="#c28e91"/><path d="M205.7 305l-5.8-.7-4.5-.1-5.9.5-4.5.9-4.5 1.2-5.9 2.3-6.1 3-5.8 3.6-4.5 3.3-6.4 5.2-2.3 2.6-2 3.1-.8 2.1-.4 1.5-.1 2.9.2 1.3.6 2.2 1.4 2.5 1.7 2.1 3.2 2.8 4.1 2.6 4.9 2.1 5.9 1.9 4.4.9 5 .8 6.4.6 5.8.1 7.2-.4 5.3-.5 6.5-1.2 5.9-1.4 5.4-1.8 6.5-2.8 4.3-2.4 2.5-1.8 3.3-2.9 2.7-3.3 1.4-2.5.8-2.6.2-3-.6-3.2-1.1-2.3-2.5-3.1-2.1-1.9-6.2-4.5-4.4-2.7-5.8-2.9-4.4-1.8-4.5-1.4z" fill="#cd757a"/><path d="M205.7 305l-5.8-.7-4.5-.1-5.9.5-4.5.9-4.5 1.2-5.9 2.3-4.5 2.2-4.5 2.5-5.8 4-4.1 3.1-3.1 3-1.9 2.6-1.4 3.3-.4 2.9.3 2.7.8 2.2.7 1.3 1.6 2.1 3.2 2.9 2.7 1.7 4.7 2.3 5.6 1.9 4.3 1 5.3.9 6.5.6 5.7.1 5.3-.2 5.7-.6 5.7-1 6-1.4 5.5-1.7 4.9-2.1 4.4-2.3 2.7-1.7 3.4-2.9 2-2.1 1.4-2 .8-1.5.9-2.7.2-2.4-.4-2.7-1-2.4-1.4-2.1-2.9-2.9-4.2-3-4.4-2.7-5.8-2.9-4.4-1.8-4.5-1.4z" fill="#d75c63"/><path d="M205.7 305l-4.3-.6-4.5-.2-4.5.2-5.8.8-4.5 1.1-4.6 1.6-4.5 1.9-5.8 3.1-4.5 2.8-4 2.9-3.2 3-1.8 2.3-1.2 2.5-.7 3 0 1.7.4 1.9 1 2.3 1.6 2.2 2 2 3.8 2.6 3 1.5 5.4 2 4.2 1.1 4.7.9 5.3.5 4.7.3 5.5-.1 5-.4 6.7-.9 4.2-.9 5.7-1.6 5.1-1.9 4.6-2.3 3.9-2.5 2.4-1.9 2-2.1 1.6-2.2 1.2-2.5.6-2.9-.2-2.4-.3-1.2-.8-1.9-1.8-2.6-2-1.9-2.4-1.8-4-2.4-5.8-2.9-4.4-1.8-4.5-1.4z" fill="#e0444b"/><path d="M207.3 305.2l-4.5-.7-4.5-.3-4.3.1-4.5.4-4.5.9-4.5 1.2-5.9 2.3-4.5 2.2-4.5 2.5-3.8 2.6-3.3 2.9-1.7 2.3-1.3 2.5-.6 2.5.2 2.7.9 2.4 1.4 2.2 1.9 2 2.4 1.8 4.5 2.3 3.5 1.4 4.1 1.1 4.5.9 5.3.6 4.5.3 5.2-.1 5.3-.4 4.5-.6 4.8-1 5.2-1.4 5.1-1.9 3.1-1.4 2.8-1.7 2.6-1.7 3-2.8 1.7-2.1 1.4-2.8.5-2.3-.1-2.2-.5-1.9-1.1-2.2-1.7-2.1-2.2-1.8-2.8-1.9-4.4-2.3-4.3-1.8-4.4-1.5z" fill="#e9262d"/><path d="M207.3 305.2l-4.5-.7-4.5-.3-4.3.1-4.5.4-4.5.9-2.9.7-4.6 1.6-4.5 1.9-4.5 2.3-3.4 2.2-2.3 1.9-2 2.1-1.7 2.7-.7 2.5 0 1.9.6 2.5 1.3 2.3 1.8 2 2.4 1.8 2.9 1.6 3.3 1.4 3.9 1.2 7.2 1.3 5.4.5 3.8 0 5.1-.2 4.7-.5 4.4-.8 3.9-.9 3.7-1.2 5-2 2.9-1.5 2.6-1.7 2.6-2.1 2-2.3 1.1-1.9.9-2.7.1-2-.7-2.5-.5-1.2-1.6-2.1-2-1.9-2.6-1.7-3.5-1.7-4.4-1.8-2.9-.9z" fill="#f60514"/><path d="M207.3 305.2l-2.9-.5-4.5-.4-4.5-.1-4.5.4-4.3.6-4.5 1.1-4.6 1.6-2.9 1.2-3.3 1.6-2.7 1.6-2.4 1.8-2.1 2.4-1.3 2.2-.4 1.2-.3 1.5.2 2 .6 1.8.6 1.1 1.8 2.1 2.3 1.8 2.9 1.6 5.3 2 6.8 1.3 5.2.5 2.9 0 7.6-.4 4.4-.7 4.1-.9 3.7-1.1 3.4-1.2 3.1-1.5 2.7-1.6 2.4-1.9 1.6-1.6 1.4-2 .9-2.1.3-1.5-.3-2.5-.4-1.2-1.4-2.2-2-1.9-2.4-1.7-5.1-2.3-2.9-.9z" fill="#ff0000"/><path d="M172.5 310.5l-3.5 2.8-1.4 1.9-.8 1.7-.4 1.5 0 1.4.8 2.5 1.6 2.1 1.1.9 1.2.9 2.9 1.6 5.4 1.8 4.8.9 5.7.5 7.4-.3 6.8-1.2 5.6-1.6 4.7-2.2 3.8-2.6 2-2 .8-1.2.6-1.3.4-1.3 0-1.6-.6-2.3-1.5-2.2-2.1-1.8-2.8-1.6-3.3-1.4-4.4-1.2-2.9-.5-4.5-.4-3-.1-4.5.2-4.5.6-2.9.6-5 1.4-4.8 1.9z" fill="#ff0000"/><path d="M175.6 309.9l-2.2 2-1.2 1.6-.6 1.6-.1 1.5.3 1.3 1 1.9 1.2 1.3 1.2.9 2.9 1.5 3.7 1.3 4.7.8 4.8.3 5.2-.2 5-.7 5.1-1.5 4.7-2.1 2.5-1.8 2-2.1.9-1.8.3-1.5-.1-1.4-.4-1.2-.7-1.1-.9-1-2.3-1.8-1.5-.8-3.4-1.3-2.4-.6-4.4-.6-2.8-.2-4.8.1-6.6 1-3.7 1-3.3 1.2-2.3 1.2z" fill="#ff0000"/><path d="M183.6 307.3l-2.7 1.6-2 2.1-.6 1.6-.1 1.4.5 1.2.8 1.1 1.1.9 2.9 1.6 4.2 1 2.6.3 3.9.1 4.6-.6 3.8-1 3.2-1.4 2.6-1.7 1-1 .7-1.2.3-1.4-.4-1.9-1.4-1.8-2.6-1.6-3.9-1.2-5-.6-3.9.1-4.6.7-3.4 1.1z" fill="#ff0000"/><path d="M163.2 472l-5.5-14-4.1-9.6-4.1-8.6-5.4-10.1-4-6.5-2.7-3.9-2.7-3.4-2.7-3-2.6-2.7-2.6-2.2-2.6-1.8-3.9-2-2.6-.8-2.5-.4-2.5 0-2.5.3-2.5.8-2.4 1.1-2.4 1.6-2.4 1.9-2.3 2.2-2.3 2.7-2.3 3-2.3 3.3-3.9 6.8M163.2 472l8.2-19.1 6.6-14 5-9.7 3.3-6.1 6.6-11.3 6.6-10 6.6-8.8 3.3-3.9 3.3-3.6 3.3-3.2 4.8-4.3 3.3-2.5 3.2-2.2 3.2-1.8 3.2-1.5 3.1-1.2 3.2-.9 3.1-.5 4.6-.3 3.1.2 3 .6 3 .8 4.5 1.8 3 1.6 2.9 1.9 2.8 2.2 4.3 3.8M168.9 458.4l-5.4-14-4.1-9.5-5.5-11.3-5.4-9.7-2.7-4.3-2.7-3.8-2.7-3.4-2.7-3-2.7-2.6-2.6-2.2-2.6-1.8-2.6-1.3-2.6-1-2.6-.6-2.5-.2-2.5.3-2.5.6-2.5 1-2.4 1.4-2.5 1.8-2.3 2.1-2.4 2.5-2.3 2.9-2.3 3.2-2.3 3.6-2.2 4-4.1 8.3M158.4 459.6l8.2-19.1 6.6-14 5-9.7 3.3-6.1 6.6-11.2 6.6-10 6.6-8.8 3.3-3.9 3.3-3.5 3.3-3.3 4.9-4.3 3.2-2.4 3.2-2.1 3.2-1.8 3.2-1.5 3.2-1.2 3.2-.8 3.1-.5 4.7-.2 3 .2 3.1.6 3 .9 4.5 1.9 2.9 1.6 3 2 2.9 2.2 4.3 3.9M174.7 445.8l-5.5-14.1-4.1-9.5-5.5-11.3-5.4-9.7-4.1-6.1-2.7-3.6-2.7-3.2-2.6-2.8-2.7-2.4-2.7-1.9-2.6-1.5-2.6-1.2-2.6-.7-2.6-.3-2.5 0-2.5.5-2.5.9-2.5 1.2-2.5 1.7-2.4 2-2.4 2.4-2.4 2.7-2.3 3.2-2.3 3.4-2.3 3.9-4.4 8.7M153.6 448.4l8.2-19.1 6.6-14 5-9.7 3.3-6 6.6-11.3 6.6-10 6.6-8.7 3.3-3.8 3.3-3.6 3.3-3.2 4.9-4.2 3.2-2.5 3.3-2.1 3.2-1.7 3.2-1.5 3.2-1.1 3.1-.8 3.2-.5 4.6-.1 3.1.3 3.1.6 3 .9 4.5 2 3 1.6 2.9 2 2.9 2.3 4.4 4M180.5 434l-5.5-14.1-4.1-9.5-5.5-11.3-5.5-9.6-4-6.1-2.7-3.6-2.7-3.2-2.7-2.7-2.7-2.3-2.7-2-2.6-1.5-4-1.5-2.6-.4-2.5-.1-2.6.3-2.5.7-2.5 1.1-2.5 1.5-3.7 3-2.4 2.4-2.4 2.8-2.4 3.2-2.3 3.6-4.6 8.1M148.9 438.5l8.1-19.2 6.6-13.9 5-9.7 3.3-6.1 6.6-11.2 6.6-9.9 6.6-8.7 3.3-3.8 3.3-3.6 3.3-3.2 4.9-4.2 3.2-2.4 3.3-2 3.2-1.8 3.2-1.4 3.2-1.1 3.2-.8 3.1-.4 4.7-.1 3.1.3 3.1.7 3 1 4.5 2 3 1.7 3 2 2.9 2.3 4.3 4M186.3 423.1l-5.5-14.1-4.1-9.4-4.1-8.6-5.5-10-4.1-6.5-2.7-3.7-2.8-3.4-2.7-2.9-2.6-2.5-2.7-2.1-2.7-1.7-4-1.7-2.6-.7-2.6-.2-1.3 0-2.6.4-2.5.7-2.5 1.2-3.8 2.5-2.5 2.1-2.4 2.5-2.4 2.9-2.4 3.2-2.3 3.6-2.4 4M144.1 429.7l8.2-19.1 6.5-13.9 5-9.7 3.3-6 6.6-11.2 6.6-9.9 6.6-8.6 3.3-3.9 3.3-3.5 3.3-3.1 4.9-4.2 3.2-2.4 3.3-2 3.2-1.7 3.2-1.4 3.2-1.1 3.2-.7 3.1-.4 4.7-.1 3.1.4 3.1.7 3.1 1 4.5 2 3 1.8 2.9 2 3 2.4 4.3 4.1M192.1 413.2l-5.5-14.1-4.1-9.4-4.1-8.6-5.5-10-4.1-6.4-2.8-3.7-2.7-3.3-4.1-4.2-2.7-2.3-2.6-1.8-4-2-2.7-.9-2.6-.4-1.3 0-2.6.2-2.6.6-2.6 1-3.8 2.2-2.5 2-2.4 2.4-3.7 4.2-2.4 3.3-2.4 3.6M139.4 422.2l8.1-19.1 6.6-13.9 4.9-9.6 3.3-6 6.6-11.2 6.6-9.8 6.6-8.6 3.3-3.8 3.3-3.5 3.3-3.1 4.9-4.2 3.2-2.3 3.2-2 3.3-1.7 3.2-1.4 3.2-1 3.2-.7 3.1-.4 4.7 0 3.1.4 3.1.7 3.1 1 4.5 2.1 3 1.8 3 2.1 2.9 2.4 4.4 4.1M197.9 404.2l-4.1-10.7-4.1-9.7-4.2-8.9-5.5-10.3-4.1-6.7-2.7-3.9-2.8-3.5-4-4.5-2.8-2.4-2.7-2.1-4-2.2-4-1.4-1.3-.2-2.6-.2-2.7.2-2.6.7-3.8 1.7-2.6 1.6-2.5 2-3.7 3.8-2.5 3-2.4 3.3M134.7 415.9l8.1-19 6.5-13.9 5-9.5 3.2-6.1 6.6-11 6.6-9.9 6.6-8.5 3.3-3.8 3.3-3.4 3.2-3.1 4.9-4.1 3.3-2.3 3.2-2 3.3-1.7 3.2-1.3 3.2-1 3.1-.7 3.2-.4 4.7 0 3.1.5 3.1.7 3.1 1.1 4.5 2.1 3.1 1.8 2.9 2.1 3 2.4 4.4 4.2M203.7 396.2l-4.1-10.7-4.2-9.7-4.1-8.8-5.5-10.3-4.1-6.7-4.1-5.7-4.1-4.7-2.8-2.6-2.7-2.3-4-2.5-4-1.6-1.4-.3-2.6-.4-2.7.1-2.6.5-3.9 1.4-3.8 2.4-3.8 3.2-2.5 2.7-2.5 3M130.1 410.9l6.4-15.3 6.5-14.1 6.5-12.9 6.6-11.7 6.6-10.4 6.5-9.1 3.3-4.1 3.3-3.7 3.3-3.4 3.3-3.1 3.2-2.8 3.3-2.5 3.2-2.1 3.2-1.8 3.3-1.5 3.2-1.1 3.2-.9 3.1-.5 3.2-.1 3.1.1 3.1.4 3.1.8 3.1 1.1 3 1.3 3.1 1.7 4.5 3.1M209.4 389.1l-4.1-10.6-4.1-9.7-4.1-8.8-4.1-7.8-4.2-7-4.1-5.9-4.1-5.1-4.1-4-4.1-3.2-4-2.1-4.1-1.3-1.3-.2-2.7-.1-1.3.1-2.6.5-3.9 1.5-3.9 2.4-2.6 2.1-2.5 2.5M125.5 407.1l6.4-15.3 6.5-14 6.5-12.8 4.9-8.8 4.9-8.1 6.5-9.7 6.6-8.5 3.3-3.7 3.2-3.4 4.9-4.5 3.3-2.6 3.2-2.2 3.2-2 3.3-1.6 3.2-1.3 3.2-.9 4.7-.9 3.2-.2 3.1.2 3.1.5 3.1.7 3.1 1.1 3.1 1.4M215.1 383.1l-4-10.6-2.8-6.6-4.1-9.1-4.1-8.1-4.1-7.2-4.2-6.2-4.1-5.3-4.1-4.4-4.1-3.4-4.1-2.4-4-1.6-1.4-.2-2.7-.3-1.3 0-2.6.3-4 1.3-3.9 2.1-3.9 3.1M120.9 404.5l6.4-15.2 4.9-10.5 6.4-13.1 4.9-9 4.9-8.3 4.9-7.6 4.9-6.8 3.2-4.2 3.3-3.9 4.9-5.1 3.2-3.1 3.3-2.7 4.9-3.5 3.2-1.9 3.2-1.6 4.8-1.8 3.2-.8 3.2-.4 4.7-.1 3.1.3 3.1.6M220.8 378l-4-10.6-2.8-6.5-4.1-9.1-4.1-8-2.8-4.9-4.1-6.6-4.1-5.5-4.1-4.7-2.8-2.5-4.1-3.1-4-2.1-4.1-1.1-1.4-.2-2.6-.1-1.4.2-2.6.5-4 1.6-3.9 2.5M116.5 403.2l6.3-15.1 4.8-10.5 4.8-9.9 4.9-9.1 4.8-8.5 4.9-7.8 4.9-7 4.9-6.4 4.9-5.6 4.8-4.9 4.9-4.2 4.8-3.4 4.9-2.7 4.8-2 4.7-1.3 3.2-.4 3.1-.2M226.5 373.9l-4.1-10.6-2.7-6.5-2.7-6.1-4.2-8.3-2.7-5.1-4.1-6.8-4.2-5.8-4.1-5-2.7-2.7-4.1-3.3-4.1-2.4-4.1-1.4-2.7-.5-1.3 0-2.7.1-4 1.1-4 1.9M112.1 403l4.7-11.3 4.8-10.7 4.7-10 3.3-6.3 4.8-8.8 4.8-8.2 3.3-5.1 4.8-7 3.2-4.3 4.9-5.8 4.9-5.1 4.8-4.3 4.8-3.7 4.9-2.9 4.8-2.2 4.7-1.5M232.1 370.7l-4.1-10.5-2.7-6.4-2.7-6.1-4.1-8.3-2.8-5-4.1-6.8-2.7-4-4.2-5.2-2.7-2.9-4.1-3.6-2.8-1.9-4.1-2-2.7-.9-1.3-.2-2.7-.2-1.4 0-2.7.4-4 1.4M107.7 404.1l7.9-18.4 4.7-10.1 3.2-6.4 4.8-9.1 3.2-5.6 4.8-7.9 3.3-4.9 3.2-4.5 4.8-6.2 3.2-3.8 4.9-5.1 3.2-2.9 4.8-3.9 3.2-2.1 4.8-2.7M237.6 368.6l-4-10.5-2.7-6.4-5.5-11.7-2.7-5.2-4.1-7-2.8-4.2-4.1-5.4-2.7-3.1-2.8-2.7-2.7-2.3-4.1-2.6-2.8-1.3-4-1-2.8-.2-1.3 0-2.7.5M103.5 406.4l7.8-18.3 6.3-13.3 6.3-12.1 6.4-10.9 6.4-9.6 6.4-8.4 3.2-3.7 3.2-3.4 3.3-3.1 4.8-4.1M243.1 367.4l-4-10.4-2.7-6.4-5.5-11.6-2.7-5.2-2.7-4.7-2.8-4.4-4.1-5.7-2.7-3.3-2.8-2.9-2.7-2.4-4.1-3-2.8-1.4-2.7-1-2.7-.6-1.4-.1-2.7 0M99.3 409.8l6.2-14.7 6.3-13.4 6.3-12.3 4.7-8.4 4.8-7.8 6.3-9.2 4.8-6.2 3.2-3.7 3.2-3.4M248.5 367.1l-5.3-13.5-5.4-11.9-2.8-5.4-2.7-4.9-2.7-4.5-4.1-6-2.8-3.5-2.7-3.1-2.7-2.6-2.8-2.3-2.7-1.8-2.8-1.4-2.7-1-1.4-.3-2.7-.4M95.3 414.3l4.6-11 4.6-10.3 4.7-9.7 4.7-9 4.7-8.4 4.7-7.6 3.1-4.8 4.8-6.5M253.8 367.9l-5.3-13.5-4-9-5.4-10.6-2.7-4.7-2.8-4.3-2.7-3.9-2.7-3.5-2.8-3-2.7-2.6-2.8-2.2-2.7-1.8-2.7-1.4-2.8-1M91.3 419.9l7.6-17.7 6.2-13 6.2-11.7 6.2-10.6M259.1 369.5l-5.3-13.3-4-9-4.1-8.1-2.7-4.8-2.7-4.5-4.1-5.9-2.7-3.4-2.7-3.1-2.8-2.6-2.7-2.1-2.7-1.8-2.8-1.4M87.5 426.6l4.5-10.8 4.5-10.1 4.6-9.5 3.1-5.9M264.3 372.1l-4-10.1-4-9.2-4-8.3-2.7-5-2.7-4.7-4-6.1-4.1-5.3-4.1-4.3-2.7-2.4-2.8-2M89.7 420.3l1.5-3.4M269.3 375.6l-3.9-10-4-9.2-3.9-8.2-4.1-7.3-4-6.5-4.1-5.5-4-4.6-4.1-3.7M274.3 380l-3.9-10-2.6-6.1-2.6-5.7-4-7.9-2.7-4.8-4-6.4-4.1-5.4-4-4.6" fill="none" stroke="#0a0a0a" stroke-width="0.75" stroke-linejoin="round" stroke-linecap="round"/>
<circle cx="126.8" cy="387.2" r="3.1" fill="#c63e3a" opacity="1"/><circle cx="243.3" cy="326.1" r="3.1" fill="#c63e3a" opacity="1"/><circle cx="242.8" cy="339" r="3.1" fill="#c63e3a" opacity="1"/><circle cx="184.5" cy="379.2" r="3.1" fill="#c63e3a" opacity="1"/><circle cx="185.3" cy="435.8" r="3.1" fill="#c63e3a" opacity="0.45"/>
<text transform="matrix(1.000 -0.414 -0.200 1.000 65.6 412.7)" font-size="10.3" text-anchor="end">0</text><text transform="matrix(1.000 -0.414 -0.200 1.000 65 397.9)" font-size="10.3" text-anchor="end">20</text><text transform="matrix(1.000 -0.414 -0.200 1.000 64.3 383)" font-size="10.3" text-anchor="end">40</text><text transform="matrix(1.000 -0.414 -0.200 1.000 63.6 367.8)" font-size="10.3" text-anchor="end">60</text><text transform="matrix(1.000 -0.414 -0.200 1.000 62.9 352.4)" font-size="10.3" text-anchor="end">80</text><text transform="matrix(1.000 -0.414 -0.200 1.000 62.3 336.9)" font-size="10.3" text-anchor="end">100</text><text transform="matrix(1.000 -0.414 -0.200 1.000 61.6 321.1)" font-size="10.3" text-anchor="end">120</text><text transform="matrix(1.000 -0.414 -0.200 1.000 60.9 305.1)" font-size="10.3" text-anchor="end">140</text><text transform="matrix(0.825 -0.407 0.744 0.541 156.9 488.1)" font-size="10.3" text-anchor="end">0.4</text><text transform="matrix(0.825 -0.407 0.744 0.541 145.2 479.6)" font-size="10.3" text-anchor="end">0.6</text><text transform="matrix(0.825 -0.407 0.744 0.541 133.7 471.3)" font-size="10.3" text-anchor="end">0.8</text><text transform="matrix(0.825 -0.407 0.744 0.541 122.4 463)" font-size="10.3" text-anchor="end">1.0</text><text transform="matrix(0.825 -0.407 0.744 0.541 111.3 455)" font-size="10.3" text-anchor="end">1.2</text><text transform="matrix(0.825 -0.407 0.744 0.541 100.4 447)" font-size="10.3" text-anchor="end">1.4</text><text transform="matrix(0.825 -0.407 0.744 0.541 89.6 439.2)" font-size="10.3" text-anchor="end">1.6</text><text transform="matrix(0.825 -0.407 0.744 0.541 79.1 431.5)" font-size="10.3" text-anchor="end">1.8</text><text transform="matrix(0.825 -0.407 0.744 0.541 68.7 424)" font-size="10.3" text-anchor="end">2.0</text><text transform="matrix(0.744 0.541 -0.825 0.407 172.4 485.6)" font-size="10.3" text-anchor="start">5</text><text transform="matrix(0.744 0.541 -0.825 0.407 182.7 480.5)" font-size="10.3" text-anchor="start">7</text><text transform="matrix(0.744 0.541 -0.825 0.407 193 475.4)" font-size="10.3" text-anchor="start">9</text><text transform="matrix(0.744 0.541 -0.825 0.407 203.1 470.4)" font-size="10.3" text-anchor="start">11</text><text transform="matrix(0.744 0.541 -0.825 0.407 213.2 465.5)" font-size="10.3" text-anchor="start">13</text><text transform="matrix(0.744 0.541 -0.825 0.407 223.1 460.5)" font-size="10.3" text-anchor="start">15</text><text transform="matrix(0.744 0.541 -0.825 0.407 233 455.7)" font-size="10.3" text-anchor="start">17</text><text transform="matrix(0.744 0.541 -0.825 0.407 242.7 450.9)" font-size="10.3" text-anchor="start">19</text><text transform="matrix(0.744 0.541 -0.825 0.407 252.4 446.1)" font-size="10.3" text-anchor="start">21</text><text transform="matrix(0.744 0.541 -0.825 0.407 261.9 441.4)" font-size="10.3" text-anchor="start">23</text><text transform="matrix(0.744 0.541 -0.825 0.407 271.4 436.7)" font-size="10.3" text-anchor="start">25</text><path d="M75 417.6L69.6 297.2M74.4 404.9l-3.7 1.5M74.3 401.9l-2 0.8M74.1 399l-2 0.8M74 396l-2 0.8M73.9 393.1l-2 0.8M73.7 390.1l-3.7 1.5M73.6 387.1l-2 0.8M73.5 384.1l-2 0.8M73.3 381.1l-2 0.8M73.2 378.1l-2 0.8M73.1 375.1l-3.7 1.5M72.9 372.1l-2 0.8M72.8 369.1l-2 0.8M72.7 366.1l-2 0.8M72.5 363l-2 0.8M72.4 360l-3.7 1.5M72.3 356.9l-2 0.8M72.1 353.8l-2 0.8M72 350.8l-2 0.8M71.9 347.7l-2 0.8M71.7 344.6l-3.7 1.5M71.6 341.5l-2 0.8M71.5 338.4l-2 0.8M71.3 335.3l-2 0.8M71.2 332.2l-2 0.8M71 329l-3.7 1.5M70.9 325.9l-2 0.8M70.8 322.7l-2 0.8M70.6 319.6l-2 0.8M70.5 316.4l-2 0.8M70.3 313.2l-3.7 1.5M70.2 310.1l-2 0.8M70.1 306.9l-2 0.8M69.9 303.7l-2 0.8M69.8 300.5l-2 0.8M69.6 297.2l-3.7 1.5M74.5 407.8l-2 0.8M74.7 410.7l-2 0.8M74.8 413.6l-2 0.8M74.9 416.5l-2 0.8M75 417.6L163.2 481.7M163.2 481.7L272.1 428M163.2 481.7l-3.6 1.8M157.4 477.5l-2 1M151.5 473.2l-3.6 1.8M145.8 469l-2 1M140 464.9l-3.6 1.8M134.4 460.8l-2 1M128.7 456.7l-3.6 1.8M123.2 452.6l-2 1M117.6 448.6l-3.6 1.8M112.1 444.6l-2 1M106.7 440.7l-3.6 1.8M101.3 436.7l-2 1M95.9 432.8l-3.6 1.8M90.6 429l-2 1M85.4 425.2l-3.6 1.8M80.1 421.4l-2 1M75 417.6l-3.6 1.8M168.5 479.2l3.2 2.4M173.7 476.6l1.8 1.3M178.8 474l3.2 2.4M184 471.5l1.8 1.3M189.1 469l3.2 2.4M194.2 466.5l1.8 1.3M199.2 464l3.2 2.4M204.3 461.5l1.8 1.3M209.3 459l3.2 2.4M214.3 456.5l1.8 1.3M219.2 454.1l3.2 2.4M224.1 451.7l1.8 1.3M229.1 449.2l3.2 2.4M233.9 446.8l1.8 1.3M238.8 444.4l3.2 2.4M243.6 442l1.8 1.3M248.4 439.7l3.2 2.4M253.2 437.3l1.8 1.3M258 434.9l3.2 2.4M262.7 432.6l1.8 1.3M267.5 430.3l3.2 2.4M272.1 428l1.8 1.3" stroke="#000" stroke-width="0.9" fill="none"/><text transform="translate(24.2 377.5) rotate(85)" font-size="11" text-anchor="middle" style="" fill="#000">L-asparaginase</text><text transform="translate(9.3 382.5) rotate(85)" font-size="11" text-anchor="middle" style="" fill="#000">production (U/gds)</text><text transform="translate(76 472) rotate(39)" font-size="10.6" text-anchor="middle" style="font-style:italic;" fill="#000">KNO<tspan font-size="70%" dy="2">3</tspan><tspan dy="-2"> (g/L)</tspan></text><text transform="translate(251 480.9) rotate(-25.5)" font-size="11.1" text-anchor="middle" style="" fill="#000">Wheat bran + soybean</text><text transform="translate(264.1 487.1) rotate(-25.5)" font-size="11.1" text-anchor="middle" style="" fill="#000">meal (1:1 g)</text>
<rect x="283.3" y="318.5" width="17" height="9.8" fill="#ff0000" stroke="#222" stroke-width="0.9"/><text transform="translate(304.7 327.1) rotate(0)" font-size="10.5" text-anchor="start" style="" fill="#000">&gt; 120</text><rect x="283.3" y="331.4" width="17" height="9.8" fill="#e04048" stroke="#222" stroke-width="0.9"/><text transform="translate(304.7 340) rotate(0)" font-size="10.5" text-anchor="start" style="" fill="#000">&lt; 120</text><rect x="283.3" y="344.3" width="17" height="9.8" fill="#b0a0a4" stroke="#222" stroke-width="0.9"/><text transform="translate(304.7 352.9) rotate(0)" font-size="10.5" text-anchor="start" style="" fill="#000">&lt; 100</text><rect x="283.3" y="357.2" width="17" height="9.8" fill="#d8d860" stroke="#222" stroke-width="0.9"/><text transform="translate(304.7 365.8) rotate(0)" font-size="10.5" text-anchor="start" style="" fill="#000">&lt; 80</text><rect x="283.3" y="370.1" width="17" height="9.8" fill="#ffff00" stroke="#222" stroke-width="0.9"/><text transform="translate(304.7 378.7) rotate(0)" font-size="10.5" text-anchor="start" style="" fill="#000">&lt; 60</text><rect x="283.3" y="383" width="17" height="9.8" fill="#ffa800" stroke="#222" stroke-width="0.9"/><text transform="translate(304.7 391.6) rotate(0)" font-size="10.5" text-anchor="start" style="" fill="#000">&lt; 40</text><rect x="283.3" y="395.9" width="17" height="9.8" fill="#c09838" stroke="#222" stroke-width="0.9"/><text transform="translate(304.7 404.5) rotate(0)" font-size="10.5" text-anchor="start" style="" fill="#000">&lt; 20</text><rect x="283.3" y="408.8" width="17" height="9.8" fill="#30e0d0" stroke="#222" stroke-width="0.9"/><text transform="translate(304.7 417.4) rotate(0)" font-size="10.5" text-anchor="start" style="" fill="#000">&lt; 0</text>
</g>
<g>
<path d="M414.1 421.8L408.3 296.9M428.2 415.5L423.3 291.2M442.2 409.3L438.1 285.5M456 403.1L452.7 279.8M469.6 397.1L467.1 274.3M483 391.1L481.3 268.8M496.2 385.2L495.3 263.5M509.3 379.4L509.1 258.1M522.2 373.6L522.7 252.9M613.8 432.5L619.7 306.7M604.1 426.2L609.4 301M594.5 420.1L599.2 295.3M585.1 414L589.2 289.8M575.7 408L579.3 284.3M566.5 402.1L569.5 278.9M557.4 396.2L559.9 273.5M548.5 390.5L550.4 268.3M539.6 384.8L541 263.1M530.8 379.1L531.8 258M522.2 373.6L522.7 252.9M413.6 411.1L522.2 363.2M522.2 363.2L614.3 421.7M412.9 397.6L522.3 350.1M522.3 350.1L615 408M412.3 383.8L522.3 336.8M522.3 336.8L615.6 394.2M411.7 369.9L522.4 323.3M522.4 323.3L616.3 380.2M411 355.8L522.4 309.7M522.4 309.7L616.9 366M410.4 341.6L522.5 295.9M522.5 295.9L617.6 351.7M409.7 327.1L522.6 282M522.6 282L618.3 337.1M409.1 312.5L522.6 267.9M522.6 267.9L618.9 322.4M408.4 297.7L522.7 253.6M522.7 253.6L619.6 307.4" stroke="#a8a8a8" stroke-width="0.6" stroke-dasharray="1 1" fill="none"/><path d="M408.3 296.9L522.7 252.9M522.7 252.9L619.7 306.7M522.2 373.6L522.7 252.9M613.8 432.5L619.7 306.7M414.1 421.8L522.2 373.6M522.2 373.6L613.8 432.5" stroke="#aaa" stroke-width="0.6" stroke-dasharray="1 1" fill="none"/>
<clipPath id="fcD"><path d="M503.4 487.6L613.8 432.5L522.2 373.6L414.1 421.8z"/></clipPath><g clip-path="url(#fcD)"><path d="M503.4 487.6L613.8 432.5L522.2 373.6L414.1 421.8z" fill="#0034c0"/><path d="M402.5 500.1l-11.1-9.8-4-13.5 2.9-16.5 9.4-18.5 15.2-19.6 19.8-19.8 23.6-19.2 26.1-18 27.6-16.2 28.2-13.9 27.8-11.4 26.7-8.7 24.7-5.6 22.2-2.6 18.7.6 10.6 5.8 11.9 6.4 11.6 7.3 1.9 12.2-3.3 14.7-8.5 16.8-14 18.4-19.1 19.5-23.8 19.8-27.9 19.4-30.8 18-32.6 15.6-32.9 12.5-31.3 8.5-28.3 4-23.6-.8z" fill="#003fb8"/><path d="M404.1 499l-10.9-9.7-4-13.4 2.8-16.3 9.3-18.3 15-19.3 19.6-19.7 23.3-19 25.9-17.8 27.3-16.1 27.9-13.8 27.6-11.3 26.4-8.5 24.5-5.6 22-2.6 19 .4 11.4 5.3 11.7 6.4 10.2 7.8 1.9 12.1-3.3 14.6-8.5 16.6-13.8 18.3-18.9 19.3-23.6 19.6-27.6 19.2-30.6 17.7-32.3 15.5-32.4 12.3-31 8.4-27.9 4-23.4-.8z" fill="#004eb0"/><path d="M405.8 497.8l-10.8-9.6-4-13.2 2.8-16.1 9.1-18 14.8-19.2 19.4-19.4 23-18.9 25.6-17.6 27.1-15.9 27.7-13.7 27.2-11.2 26.2-8.5 24.3-5.6 21.9-2.5 18.7.4 12.7 4.7 11.6 6.3 8.7 8.4 1.8 12-3.2 14.4-8.5 16.5-13.7 18.1-18.7 19.1-23.4 19.4-27.3 18.9-30.3 17.6-31.9 15.3-32.1 12.1-30.6 8.3-27.6 3.9-23.1-.7z" fill="#005ea6"/><path d="M407.5 496.6l-10.8-9.4-3.9-13.1 2.7-15.9 9.1-17.8 14.5-19 19.2-19.2 22.8-18.7 25.3-17.4 26.8-15.8 27.4-13.6 27-11.1 25.9-8.4 24.1-5.5 21.7-2.5 18.5.4 14 4 11.4 6.2 7.3 9 1.8 11.9-3.2 14.3-8.4 16.3-13.6 17.9-18.6 18.9-23.2 19.2-27 18.8-29.9 17.3-31.6 15.1-31.7 12-30.3 8.2-27.3 3.9-22.8-.7z" fill="#006e9d"/><path d="M409.2 495.5l-10.6-9.4-4-12.9 2.7-15.7 8.9-17.6 14.4-18.8 18.9-19 22.5-18.4 25.1-17.3 26.5-15.6 27.1-13.5 26.8-11 25.7-8.3 23.8-5.5 21.4-2.5 18.5.5 14.8 3.4 10.9 6.4 6.6 9.1 1.7 11.8-3.2 14.2-8.3 16.2-13.5 17.7-18.4 18.7-23 19-26.7 18.5-29.6 17.2-31.2 14.9-31.3 11.8-30 8.1-27 3.8-22.5-.7z" fill="#007e99"/><path d="M410.9 494.3l-10.5-9.2-3.9-12.8 2.6-15.5 8.7-17.4 14.2-18.6 18.8-18.7 22.2-18.3 24.8-17.1 26.2-15.5 26.8-13.3 26.5-10.9 25.5-8.2 23.6-5.5 21.2-2.5 18.3.5 14.7 3.4 10.8 6.3 6.4 9.1 1.7 11.7-3.2 14-8.2 16-13.4 17.6-18.3 18.5-22.6 18.7-26.5 18.3-29.3 17-30.8 14.7-31 11.7-29.6 8-26.6 3.8-22.3-.7z" fill="#028ca4"/><path d="M412.6 493.1l-10.4-9.1-3.9-12.6 2.6-15.3 8.6-17.2 14-18.3 18.5-18.6 22-18.1 24.5-16.9 25.9-15.3 26.6-13.2 26.2-10.8 25.2-8.2 23.4-5.3 21-2.5 18 .4 14.6 3.4 10.7 6.3 6.3 9 1.7 11.5-3.1 13.9-8.3 15.9-13.2 17.3-18.1 18.3-22.4 18.6-26.2 18.1-28.9 16.7-30.5 14.6-30.6 11.5-29.2 7.9-26.3 3.7-22.1-.7z" fill="#039aaf"/><path d="M414.4 491.9l-10.3-9-3.9-12.4 2.5-15.1 8.5-17 13.8-18.1 18.3-18.4 21.7-17.8 24.2-16.8 25.6-15.1 26.3-13.1 26-10.7 24.9-8.1 23.1-5.3 20.8-2.5 17.9.5 14.4 3.3 10.6 6.2 6.3 8.9 1.6 11.5-3.2 13.7-8.1 15.7-13.1 17.2-17.9 18.1-22.2 18.3-25.9 17.9-28.6 16.5-30.1 14.4-30.2 11.4-28.9 7.8-26 3.6-21.7-.6z" fill="#05a8bb"/><path d="M416.1 490.7l-10.2-8.9-3.8-12.2 2.4-14.9 8.4-16.8 13.6-17.9 18-18.1 21.5-17.7 23.9-16.6 25.4-15 25.9-12.9 25.7-10.6 24.7-8 22.9-5.3 20.6-2.4 17.7.4 14.2 3.4 10.5 6.1 6.2 8.8 1.6 11.4-3.2 13.6-8.1 15.5-13 17-17.7 17.8-22 18.2-25.5 17.6-28.3 16.3-29.7 14.2-29.9 11.3-28.4 7.6-25.7 3.6-21.5-.6z" fill="#06b6c6"/><path d="M417.9 489.4l-10.1-8.7-3.8-12 2.4-14.8 8.2-16.6 13.4-17.6 17.8-17.9 21.2-17.5 23.6-16.4 25.1-14.8 25.7-12.8 25.4-10.5 24.4-7.9 22.6-5.2 20.4-2.4 17.5.4 14.1 3.3 10.3 6.1 6.2 8.7 1.5 11.2-3.1 13.5-8 15.4-12.9 16.7-17.5 17.7-21.8 17.9-25.3 17.4-27.9 16.1-29.3 14-29.5 11.1-28.1 7.6-25.3 3.5-21.2-.6z" fill="#08c4d1"/><path d="M419.7 488.2l-10-8.6-3.8-11.9 2.4-14.5 8.1-16.4 13.2-17.4 17.5-17.7 20.9-17.2 23.3-16.3 24.8-14.6 25.4-12.7 25.1-10.3 24.1-7.9 22.5-5.2 20.1-2.3 17.3.4 14 3.2 10.2 6.1 6 8.6 1.6 11.1-3.2 13.3-7.9 15.2-12.8 16.6-17.3 17.5-21.5 17.7-25 17.1-27.5 15.9-29 13.8-29.1 11-27.7 7.4-25 3.5-20.9-.6z" fill="#06cfd9"/><path d="M421.5 487l-9.8-8.5-3.8-11.7 2.3-14.4 7.9-16.1 13-17.2 17.3-17.5 20.6-17 23.1-16 24.5-14.5 25-12.5 24.9-10.3 23.8-7.8 22.2-5.1 19.9-2.3 17.1.4 13.9 3.2 10 6 6 8.5 1.5 11-3.2 13.2-7.8 15-12.7 16.4-17.1 17.2-21.2 17.5-24.7 16.9-27.2 15.7-28.6 13.6-28.7 10.8-27.3 7.3-24.7 3.5-20.6-.7z" fill="#03dde4"/><path d="M423.3 485.7l-9.7-8.3-3.7-11.6 2.2-14.1 7.8-15.9 12.8-17 17.1-17.2 20.3-16.9 22.7-15.8 24.2-14.3 24.8-12.4 24.5-10.1 23.6-7.7 21.9-5.1 19.7-2.3 16.9.4 13.7 3.2 9.9 5.9 5.9 8.4 1.5 10.9-3.2 13-7.8 14.9-12.5 16.2-16.9 17-21 17.2-24.3 16.7-26.9 15.5-28.2 13.4-28.3 10.6-27 7.2-24.2 3.4-20.4-.6z" fill="#03e8ea"/><path d="M425.2 484.4l-9.6-8.2-3.7-11.4 2.1-13.9 7.7-15.7 12.6-16.7 16.8-17 20.1-16.6 22.4-15.7 23.9-14.1 24.4-12.2 24.3-10.1 23.3-7.6 21.6-5 19.5-2.3 16.7.4 13.5 3.2 9.8 5.8 5.8 8.4 1.4 10.7-3.1 12.9-7.7 14.6-12.4 16-16.7 16.8-20.7 17-24.1 16.5-26.5 15.3-27.8 13.2-27.9 10.4-26.6 7.1-23.9 3.4-20-.6z" fill="#10e6e2"/><path d="M427 483.1l-9.4-8.1-3.7-11.2 2.1-13.7 7.5-15.4 12.4-16.5 16.6-16.8 19.7-16.4 22.2-15.4 23.5-14 24.2-12.1 23.9-9.9 23-7.5 21.4-5 19.3-2.3 16.5.5 13.3 3.1 9.7 5.7 5.7 8.3 1.4 10.6-3.1 12.8-7.7 14.4-12.2 15.8-16.6 16.6-20.4 16.8-23.7 16.2-26.2 15-27.4 13-27.5 10.3-26.2 7-23.5 3.3-19.8-.6z" fill="#1ce5db"/><path d="M428.9 481.8l-9.3-7.9-3.7-11.1 2.1-13.4 7.4-15.3 12.2-16.2 16.2-16.6 19.5-16.1 21.8-15.3 23.3-13.8 23.8-11.9 23.7-9.8 22.7-7.4 21.1-4.9 19-2.3 16.3.4 13.2 3.1 9.5 5.7 5.6 8.2 1.4 10.5-3.1 12.5-7.6 14.3-12.1 15.6-16.3 16.3-20.2 16.6-23.4 16-25.7 14.8-27.1 12.8-27 10.1-25.8 6.9-23.3 3.2-19.4-.6z" fill="#31e3ca"/><path d="M430.8 480.5l-9.2-7.8-3.6-10.9 2-13.2 7.2-15 12-16 16-16.4 19.2-15.9 21.5-15 22.9-13.6 23.6-11.8 23.3-9.7 22.4-7.4 20.9-4.8 18.8-2.2 16.1.4 12.9 3 9.4 5.7 5.6 8 1.3 10.4-3.1 12.4-7.5 14.1-11.9 15.4-16.2 16.1-19.9 16.3-23.1 15.7-25.3 14.6-26.7 12.6-26.6 10-25.4 6.7-22.9 3.2-19.1-.6z" fill="#4be0b4"/><path d="M432.8 479.2l-9.1-7.7-3.6-10.7 1.9-13 7.1-14.8 11.8-15.8 15.8-16 18.9-15.8 21.1-14.8 22.6-13.4 23.2-11.6 23-9.6 22.2-7.3 20.6-4.7 18.5-2.2 15.9.4 12.7 3 9.3 5.5 5.5 8 1.3 10.3-3.1 12.2-7.4 13.9-11.8 15.1-15.9 15.9-19.7 16.1-22.7 15.5-25 14.3-26.2 12.4-26.3 9.8-25 6.7-22.5 3.1-18.8-.6z" fill="#69d296"/><path d="M434.7 477.8l-9-7.5-3.5-10.5 1.9-12.9 6.9-14.5 11.6-15.5 15.5-15.8 18.6-15.5 20.9-14.6 22.2-13.2 22.9-11.5 22.7-9.5 21.8-7.1 20.3-4.8 18.3-2.1 15.6.4 12.7 2.9 9.1 5.5 5.3 7.9 1.3 10.1-3 12.1-7.4 13.7-11.6 14.9-15.7 15.7-19.4 15.8-22.4 15.3-24.6 14-25.8 12.2-25.8 9.6-24.6 6.6-22.1 3.1-18.6-.6z" fill="#88c076"/><path d="M436.7 476.5l-8.9-7.5-3.5-10.3 1.8-12.6 6.9-14.3 11.4-15.2 15.2-15.6 18.3-15.3 20.5-14.3 21.9-13.1 22.5-11.3 22.4-9.3 21.5-7.1 20.1-4.7 18-2.1 15.4.4 12.4 2.9 9 5.4 5.3 7.8 1.2 10-3 11.9-7.3 13.5-11.5 14.7-15.4 15.4-19.1 15.6-22.1 15-24.2 13.8-25.4 12-25.4 9.5-24.1 6.4-21.8 3-18.3-.5z" fill="#a6af58"/><path d="M438.7 475.1l-8.7-7.3-3.5-10.1 1.8-12.4 6.7-14.1 11.1-15 15-15.3 17.9-15 20.2-14.2 21.6-12.8 22.2-11.2 22-9.2 21.2-6.9 19.8-4.6 17.7-2.2 15.3.4 12.2 2.9 8.9 5.4 5.1 7.6 1.2 9.9-3 11.7-7.2 13.3-11.3 14.5-15.3 15.2-18.8 15.2-21.7 14.8-23.8 13.6-25 11.8-24.9 9.3-23.8 6.3-21.3 2.9-18-.5z" fill="#b7a043"/><path d="M440.7 473.7l-8.6-7.2-3.4-9.9 1.7-12.2 6.6-13.8 10.9-14.7 14.7-15.1 17.6-14.7 19.9-14 21.2-12.7 21.8-11 21.7-9 20.9-6.9 19.5-4.5 17.5-2.1 15 .4 12 2.8 8.7 5.3 5.1 7.6 1.1 9.6-2.9 11.6-7.1 13.1-11.2 14.3-15 14.9-18.5 15-21.4 14.5-23.4 13.4-24.5 11.5-24.5 9.2-23.4 6.1-21 3-17.6-.6z" fill="#d0952e"/><path d="M442.8 472.2l-8.5-7-3.4-9.7 1.7-11.9 6.4-13.6 10.7-14.5 14.4-14.8 17.4-14.5 19.5-13.7 20.8-12.5 21.5-10.8 21.4-8.9 20.5-6.8 19.2-4.5 17.2-2 14.8.4 11.8 2.8 8.6 5.2 5 7.4 1.1 9.6-3 11.3-7 12.9-11 14-14.8 14.7-18.2 14.8-21 14.3-23 13.1-24.1 11.3-24.1 8.9-22.9 6.1-20.6 2.8-17.3-.5z" fill="#ef8f1a"/><path d="M444.9 470.8l-8.3-6.9-3.4-9.5 1.6-11.7 6.3-13.3 10.5-14.2 14.1-14.5 17-14.3 19.2-13.5 20.5-12.3 21.1-10.6 21-8.8 20.2-6.7 18.9-4.4 16.9-2 14.5.4 11.7 2.7 8.4 5.1 4.9 7.4 1.1 9.4-2.9 11.2-7 12.7-10.8 13.7-14.6 14.5-17.9 14.5-20.6 14-22.6 12.8-23.7 11.1-23.6 8.8-22.4 5.9-20.3 2.8-16.9-.5z" fill="#ff8b10"/><path d="M447 469.3l-8.2-6.7-3.3-9.3 1.5-11.5 6.2-13 10.2-14 13.9-14.2 16.7-14.1 18.8-13.2 20.1-12.1 20.7-10.5 20.7-8.6 19.9-6.6 18.5-4.3 16.7-2 14.3.4 11.4 2.7 8.3 5 4.8 7.3 1 9.2-2.9 11-6.8 12.5-10.7 13.5-14.3 14.2-17.6 14.2-20.3 13.7-22.1 12.6-23.2 10.9-23.2 8.6-22 5.8-19.8 2.8-16.7-.5z" fill="#ff8a10"/><path d="M449.1 467.9l-8-6.6-3.2-9.2 1.4-11.2 6-12.8 10-13.6 13.6-14 16.3-13.8 18.5-13 19.8-11.8 20.3-10.4 20.3-8.4 19.6-6.5 18.2-4.3 16.3-1.9 14.1.3 11.2 2.7 8.2 5 4.6 7.1 1 9.1-2.8 10.8-6.7 12.2-10.6 13.3-14.1 13.9-17.2 14-19.9 13.4-21.8 12.4-22.7 10.6-22.7 8.4-21.5 5.7-19.4 2.7-16.4-.5z" fill="#ff970d"/><path d="M451.3 466.3l-7.8-6.4-3.3-8.9 1.5-11 5.8-12.5 9.8-13.4 13.2-13.7 16.1-13.5 18-12.8 19.4-11.6 20-10.1 19.9-8.4 19.2-6.3 17.9-4.2 16.1-2 13.8.4 11 2.6 8 4.9 4.5 7 1 8.9-2.8 10.6-6.6 12.1-10.4 13-13.8 13.6-17 13.7-19.5 13.2-21.3 12.1-22.2 10.4-22.2 8.2-21.2 5.6-19 2.6-15.9-.5z" fill="#ffa60a"/><path d="M453.5 464.8l-7.6-6.3-3.2-8.7 1.3-10.8 5.7-12.2 9.6-13.1 12.9-13.4 15.7-13.2 17.7-12.6 19-11.4 19.6-9.9 19.5-8.2 18.8-6.2 17.6-4.1 15.8-1.9 13.5.3 10.8 2.6 7.8 4.8 4.5 6.8.9 8.8-2.8 10.4-6.5 11.8-10.1 12.8-13.6 13.3-16.6 13.4-19.1 12.9-20.9 11.8-21.8 10.2-21.7 8-20.7 5.5-18.5 2.5-15.7-.4z" fill="#ffb506"/><path d="M455.8 463.2l-7.5-6.1-3.2-8.5 1.3-10.5 5.5-12 9.4-12.8 12.6-13.1 15.4-13 17.3-12.2 18.6-11.2 19.2-9.8 19.1-8 18.5-6.1 17.2-4 15.5-1.9 13.2.3 10.6 2.6 7.7 4.7 4.3 6.7.9 8.6-2.7 10.2-6.4 11.6-10 12.5-13.3 13.1-16.3 13.1-18.7 12.6-20.4 11.5-21.3 9.9-21.3 7.9-20.1 5.3-18.2 2.5-15.3-.5z" fill="#ffc403"/><path d="M458.1 461.6l-7.4-5.9-3-8.4 1.2-10.2 5.4-11.6 9.1-12.6 12.3-12.8 15-12.7 16.9-12 18.2-10.9 18.8-9.6 18.7-7.9 18.1-6 16.9-3.9 15.1-1.8 13 .3 10.4 2.5 7.4 4.6 4.3 6.6.8 8.4-2.7 10-6.3 11.3-9.7 12.3-13.1 12.8-15.9 12.8-18.3 12.3-20 11.2-20.8 9.7-20.7 7.7-19.7 5.2-17.7 2.4-14.9-.5z" fill="#ffd400"/><path d="M460.4 460l-7.1-5.8-3.1-8.1 1.2-10 5.2-11.4 8.9-12.2 12-12.5 14.6-12.4 16.5-11.7 17.8-10.7 18.4-9.4 18.3-7.7 17.7-5.9 16.5-3.9 14.8-1.8 12.7.4 10.2 2.4 7.3 4.5 4.1 6.5.8 8.2-2.6 9.8-6.2 11.1-9.6 12-12.8 12.5-15.6 12.5-17.8 12-19.5 11-20.3 9.4-20.2 7.5-19.2 5-17.3 2.4-14.5-.5z" fill="#ffe900"/><path d="M462.8 458.4l-7-5.7-2.9-7.9 1.1-9.7 5-11.1 8.6-11.9 11.7-12.2 14.3-12.1 16.1-11.5 17.3-10.4 18-9.2 17.9-7.5 17.3-5.8 16.1-3.8 14.5-1.7 12.4.3 9.9 2.4 7.2 4.4 4 6.3.8 8.1-2.7 9.6-6 10.8-9.4 11.7-12.5 12.2-15.2 12.2-17.4 11.7-19 10.7-19.8 9.2-19.7 7.2-18.7 4.9-16.9 2.3-14.1-.4z" fill="#fffe00"/><path d="M465.3 456.7l-6.9-5.5-2.9-7.7 1.1-9.4 4.9-10.8 8.3-11.6 11.4-11.9 13.9-11.8 15.7-11.2 16.9-10.2 17.5-8.9 17.4-7.4 16.9-5.6 15.8-3.7 14.1-1.7 12.2.3 9.6 2.3 7 4.3 3.9 6.2.7 7.9-2.6 9.3-5.9 10.6-9.2 11.4-12.1 11.9-14.9 11.8-17 11.4-18.5 10.4-19.2 9-19.2 7-18.2 4.8-16.4 2.2-13.8-.4z" fill="#fbfb08"/><path d="M467.8 454.9l-6.7-5.3-2.8-7.4 1-9.2 4.7-10.5 8.1-11.2 11.1-11.6 13.4-11.5 15.3-10.9 16.4-9.9 17.1-8.7 17-7.2 16.5-5.5 15.3-3.7 13.8-1.6 11.8.3 9.5 2.3 6.7 4.2 3.9 6 .6 7.7-2.5 9.1-5.8 10.3-9 11.1-11.8 11.6-14.5 11.5-16.5 11.1-18 10.1-18.8 8.7-18.6 6.8-17.7 4.6-15.9 2.2-13.3-.4z" fill="#f7f711"/><path d="M470.4 453.2l-6.5-5.2-2.8-7.2 1-8.9 4.5-10.2 7.8-10.9 10.8-11.2 13-11.2 14.8-10.6 16-9.7 16.6-8.4 16.6-7.1 16-5.3 15-3.5 13.4-1.7 11.5.3 9.2 2.3 6.5 4.1 3.7 5.8.7 7.5-2.5 8.9-5.7 10-8.7 10.8-11.6 11.2-14.1 11.3-16 10.7-17.5 9.8-18.2 8.4-18 6.6-17.2 4.5-15.4 2.1-13-.4z" fill="#f0f024"/><path d="M473 451.3l-6.3-5-2.7-6.9.9-8.6 4.4-9.9 7.5-10.5 10.4-11 12.6-10.8 14.4-10.3 15.5-9.4 16.1-8.2 16.1-6.8 15.6-5.2 14.5-3.5 13.1-1.6 11.2.3 8.9 2.2 6.4 4 3.5 5.7.6 7.3-2.4 8.6-5.5 9.7-8.5 10.5-11.3 10.9-13.6 10.9-15.6 10.4-17 9.5-17.6 8.1-17.5 6.4-16.6 4.3-14.9 2.1-12.6-.4z" fill="#e5e53e"/><path d="M475.7 449.5l-6.1-4.9-2.6-6.7.8-8.3 4.2-9.5 7.3-10.2 10-10.6 12.2-10.4 13.9-10 15.1-9.1 15.6-8 15.6-6.7 15.1-5 14.1-3.4 12.7-1.5 10.8.3 8.6 2.1 6.2 3.9 3.5 5.5.5 7.1-2.4 8.4-5.4 9.4-8.2 10.2-10.9 10.5-13.3 10.5-15.1 10.1-16.3 9.1-17.1 7.9-16.9 6.2-16 4.1-14.4 2-12.2-.4z" fill="#dddd50"/><path d="M478.5 447.5l-5.9-4.6-2.6-6.5.8-8 4.1-9.1 7-9.9 9.6-10.2 11.8-10.1 13.4-9.7 14.5-8.8 15.1-7.7 15.1-6.4 14.6-4.9 13.7-3.3 12.2-1.5 10.5.3 8.4 2 6 3.8 3.3 5.4.5 6.8-2.3 8.1-5.3 9.2-8 9.8-10.5 10.2-12.8 10.1-14.6 9.7-15.8 8.8-16.4 7.6-16.3 5.9-15.5 4.1-13.9 1.8-11.7-.3z" fill="#d7d75e"/><path d="M481.4 445.5l-5.7-4.4-2.5-6.2.7-7.7 3.9-8.8 6.7-9.5 9.3-9.8 11.3-9.8 12.9-9.3 14-8.5 14.6-7.5 14.5-6.2 14.1-4.7 13.2-3.1 11.9-1.5 10.1.3 8.1 1.9 5.7 3.7 3.2 5.2.5 6.6-2.3 7.8-5.1 8.8-7.7 9.5-10.2 9.8-12.3 9.8-14.1 9.3-15.2 8.5-15.8 7.3-15.7 5.7-14.8 3.8-13.4 1.8-11.3-.3z" fill="#cdcd73"/><path d="M484.4 443.5l-5.5-4.3-2.4-5.9.7-7.4 3.6-8.4 6.5-9.1 8.8-9.5 10.9-9.3 12.4-9 13.4-8.2 14-7.2 14-6 13.6-4.5 12.7-3 11.4-1.4 9.8.2 7.7 1.9 5.6 3.5 3 5 .5 6.4-2.3 7.6-4.8 8.4-7.5 9.1-9.8 9.5-11.9 9.3-13.5 9-14.6 8.1-15.2 7-15 5.4-14.2 3.7-12.8 1.7-10.8-.3z" fill="#c1c18c"/><path d="M487.5 441.3l-5.3-4-2.3-5.7.6-7 3.5-8.1 6.1-8.7 8.5-9 10.4-9 11.8-8.5 12.9-7.9 13.4-6.9 13.4-5.8 13.1-4.3 12.2-3 10.9-1.3 9.4.2 7.4 1.9 5.3 3.4 2.9 4.8.4 6.1-2.1 7.2-4.8 8.1-7.1 8.8-9.5 9-11.3 9-13 8.5-13.9 7.8-14.5 6.6-14.4 5.2-13.6 3.5-12.2 1.7-10.3-.3z" fill="#b6b6a4"/><path d="M490.7 439.1l-5-3.8-2.3-5.4.6-6.7 3.3-7.7 5.8-8.3 8-8.6 9.9-8.5 11.3-8.2 12.3-7.5 12.8-6.6 12.8-5.5 12.5-4.2 11.6-2.8 10.5-1.3 8.9.3 7.1 1.7 5.1 3.3 2.7 4.6.4 5.8-2.1 6.9-4.5 7.8-6.9 8.3-9 8.6-10.8 8.6-12.4 8.1-13.3 7.4-13.7 6.3-13.7 4.9-12.9 3.4-11.7 1.5-9.8-.3z" fill="#b3aaaa"/><path d="M494 436.8l-4.7-3.6-2.1-5.1.5-6.4 3.1-7.2 5.4-7.9 7.6-8.1 9.4-8.1 10.7-7.8 11.7-7.1 12.1-6.3 12.2-5.2 11.8-4 11.1-2.7 10-1.2 8.5.2 6.7 1.7 4.8 3.1 2.6 4.3.3 5.6-2 6.6-4.3 7.4-6.5 7.9-8.6 8.1-10.3 8.1-11.7 7.7-12.6 7-13.1 6-12.9 4.6-12.2 3.2-11 1.5-9.3-.3z" fill="#be9798"/><path d="M497.6 434.3l-4.5-3.4-2-4.8.5-5.9 2.8-6.8 5.2-7.4 7.1-7.7 8.8-7.6 10.1-7.4 11-6.7 11.4-6 11.5-4.9 11.2-3.8 10.5-2.5 9.4-1.2 8 .3 6.4 1.5 4.5 3 2.5 4.1.3 5.3-1.9 6.2-4.1 7-6.2 7.4-8.1 7.7-9.8 7.6-11 7.3-11.9 6.6-12.3 5.6-12.1 4.3-11.5 3-10.3 1.4-8.8-.3z" fill="#c97f83"/><path d="M501.3 431.7l-4.1-3.1-1.9-4.5.4-5.5 2.6-6.4 4.8-6.9 6.6-7.1 8.2-7.2 9.5-6.9 10.2-6.3 10.8-5.6 10.8-4.6 10.5-3.6 9.8-2.3 8.8-1.1 7.5.2 6 1.5 4.2 2.7 2.3 3.9.3 5-1.8 5.8-3.9 6.5-5.8 7-7.6 7.2-9.1 7.1-10.4 6.8-11.1 6.1-11.4 5.2-11.4 4.1-10.7 2.7-9.6 1.3-8.2-.2z" fill="#d3676d"/><path d="M505.4 429l-3.9-3-1.8-4.1.3-5.1 2.5-5.8 4.4-6.4 6.1-6.6 7.5-6.7 8.8-6.3 9.5-5.9 9.9-5.2 10.1-4.3 9.7-3.3 9.1-2.2 8.2-1 7 .2 5.6 1.4 3.9 2.5 2.1 3.6.2 4.6-1.7 5.5-3.6 6-5.5 6.5-7 6.6-8.5 6.6-9.5 6.3-10.3 5.6-10.6 4.8-10.4 3.8-9.9 2.5-8.9 1.2-7.5-.2z" fill="#dc4f57"/><path d="M509.7 426l-3.5-2.7-1.7-3.7.3-4.6 2.2-5.4 4-5.8 5.5-6 6.9-6.1 8-5.8 8.6-5.4 9.1-4.7 9.2-4 8.9-3 8.4-2 7.5-1 6.4.2 5.1 1.3 3.5 2.3 1.9 3.3.2 4.3-1.6 4.9-3.3 5.6-5 5.9-6.4 6.1-7.8 6-8.7 5.6-9.3 5.2-9.7 4.3-9.5 3.5-9 2.2-8.1 1.1-6.8-.2z" fill="#e33a41"/><path d="M514.5 422.7l-3.2-2.4-1.5-3.3.2-4.1 2-4.8 3.5-5.1 4.9-5.5 6.2-5.4 7.1-5.2 7.7-4.8 8.2-4.3 8.2-3.5 8-2.8 7.5-1.8 6.8-.8 5.7.1 4.6 1.2 3.1 2.1 1.7 3 .2 3.8-1.5 4.4-3 5-4.4 5.3-5.8 5.4-7 5.4-7.8 5.1-8.3 4.5-8.6 3.9-8.5 3.1-8 2-7.2.9-6.1-.1z" fill="#ea232a"/><path d="M519.8 419l-2.7-2.1-1.3-2.8.2-3.6 1.6-4.1 3-4.4 4.3-4.7 5.3-4.7 6.1-4.5 6.7-4.2 7.1-3.7 7.2-3.1 6.9-2.4 6.5-1.6 5.9-.7 5 .1 3.9 1 2.8 1.9 1.5 2.6.1 3.3-1.3 3.8-2.6 4.4-4 4.5-5 4.8-6 4.6-6.7 4.4-7.3 3.9-7.4 3.4-7.3 2.6-6.9 1.7-6.2.8-5.3-.1z" fill="#f40a18"/><path d="M526.1 414.6l-2.2-1.6-1.1-2.3.1-2.9 1.4-3.4 2.4-3.6 3.4-3.8 4.3-3.8 5-3.7 5.5-3.5 5.8-3 5.9-2.6 5.7-1.9 5.3-1.3 4.9-.6 4 .1 3.3.8 2.2 1.5 1.2 2.2.1 2.7-1.1 3.2-2.2 3.5-3.2 3.7-4.1 3.9-4.9 3.8-5.5 3.5-5.9 3.2-6.1 2.7-5.9 2.1-5.6 1.5-5.1.6-4.2-.1z" fill="#ff0000"/><path d="M534.3 409l-1.6-1.2-.8-1.6.1-2 .9-2.3 1.7-2.6 2.4-2.7 3-2.7 3.5-2.6 3.9-2.5 4.1-2.1 4.2-1.9 4-1.4 3.9-.9 3.4-.4 2.9.1 2.3.5 1.6 1.1.8 1.6 0 1.9-.7 2.3-1.6 2.5-2.3 2.6-2.9 2.7-3.5 2.7-3.9 2.5-4.2 2.3-4.2 1.9-4.2 1.4-3.9 1-3.6.5-3-.1z" fill="#ff0000"/></g>
<path d="M517.5 287.1L517.5 300" stroke="#4a5478" stroke-width="0.9" stroke-dasharray="1 1.1" fill="none" opacity="1"/><circle cx="517.5" cy="287.1" r="3.1" fill="#c63e3a" opacity="1"/><path d="M460.4 329.7L460.4 342" stroke="#4a5478" stroke-width="0.9" stroke-dasharray="1 1.1" fill="none" opacity="1"/><circle cx="460.4" cy="329.7" r="3.1" fill="#c63e3a" opacity="1"/><circle cx="460.9" cy="342.1" r="3.1" fill="#c63e3a" opacity="1"/><circle cx="460.9" cy="387" r="3.1" fill="#c63e3a" opacity="1"/>
<path d="M430.2 390.1l-5.5 8.3-3.3 6.2-4.3 9.4-3 7.9 14-21.8 6.2-9.3 7.8-11 6.2-8.5 7.8-10.1 6.3-7.7 7.7-9.1 10.9-11.9 6.2-6.3 6.2-5.9 6.2-5.6 7.7-6.5 7.6-6 7.6-5.4 3.9-5.3 3.9-4.4 3.9-3.5 4-2.8-6.2 3.5-6.2 3.9-7.9 5.4-6.2 4.7-7.9 6.4-6.4 5.5-6.3 5.9-6.4 6.3-8 8.3-6.4 7.1-12.8 15.2-8 10.2-6.5 8.6z" fill="#dcdcdc"/><path d="M544.8 278.4l-4 1.1-5.7 3-9.3 5.7-7.9 5.4-7.8 5.9-7.9 6.5-7.9 7.1-6.4 6.1-8 8.1-8 8.7-8 9.2-6.4 7.8-8 10.2-8.1 10.8-8 11.4-6.4 9.4 4.7-6 2.4-2.4 2.4-2.1 2.4-1.7 2.4-1.2 3.8-1.1 2.5-.2 2.5.2 3.9 1.1 2.6 1.3 2.7 1.7 3.9 3.4 2.7 2.8 2.7 3.2 5.5 7.8 5.5 9.5 4.2 8.3 4.1 9.2 5.6 13.8 4.2 11.5 5.6 16.6 8.5-7.5 6.6-5.6 6.7-5.3 6.6-4.8 6.5-4.5 6.6-4.2 6.4-3.8 8.1-4.2 6.3-3 7.9-3.2 6.3-2.2 7.7-2.2 6.1-1.4 7.6-1.2 6-.6 7.4-.4-3.6-15.4-5-19.3-3.7-13.4-3.9-12.6-5.1-15.4-4-10.4-3.9-9.5-4-8.6-4.1-7.6-4-6.6-4-5.7-2.8-3.2-2.7-2.8-4.1-3.4-2.7-1.7-2.7-1.3-4.1-1.1-2.7-.2z" fill="#04a1b5"/><path d="M544.8 278.4l-4 1.1-5.7 3-9.3 5.7-7.9 5.4-7.8 5.9-7.9 6.5-7.9 7.1-6.4 6.1-8 8.1-8 8.7-8 9.2-6.4 7.8-8 10.2-8.1 10.8-8 11.4-6.4 9.4 4.7-6 2.4-2.4 2.4-2.1 2.4-1.7 2.4-1.2 3.8-1.1 2.5-.2 2.5.2 3.9 1.1 2.6 1.3 2.7 1.7 3.9 3.4 2.7 2.8 2.7 3.2 4.1 5.7 5.5 9.1 4.2 7.9 5.5 12.1 4.2 10.2 5.6 15.1 5 14.6 4.4-1.3 8-7.1 6.7-5.4 6.6-5 8.2-5.8 11.4-7.2 11.3-6.1 11.1-5 10.9-3.8 7.8-2.2 7.6-1.5 7.5-1.1 6.2-.4 3.7-2.6-4.3-18-3.8-14.3-5-17.7-3.9-12.3-5.1-15-4-10.1-4-9.2-4-8.2-4-7.3-4-6.3-4.1-5.3-2.7-3-2.7-2.6-4.1-3.1-4.1-2.1-4.1-1.1-2.7-.2z" fill="#05aebf"/><path d="M547.5 278.2l-4 .5-2.7.8-4.2 2.1-9.3 5.6-7.8 5.3-7.8 5.8-7.9 6.4-7.9 6.9-8 7.6-8 8.1-8 8.7-8 9.2-6.4 7.8-8 10.2-8.1 10.8-8 11.4-6.4 9.4 4.7-6 2.4-2.4 2.4-2.1 2.4-1.7 2.4-1.2 3.8-1.1 2.5-.2 2.5.2 3.9 1.1 2.6 1.3 2.7 1.7 3.9 3.4 2.7 2.8 2.7 3.2 4.1 5.7 5.5 9.1 4.2 7.9 5.5 12.1 4.2 10.2 4.2 11.1 5.5 15.9 10.5-3.3 6.1-5.1 6.7-5.3 11.5-8.2 11.4-7.2 6.5-3.6 6.4-3.3 11.1-4.8 10.9-3.7 4.6-1.3 6.1-1.4 6.1-1 6-.7 7.8-5.3-3.7-15.6-3.8-14.3-5-17.7-3.9-12.3-5.1-15-4-10.1-4-9.2-4-8.2-4-7.3-4-6.3-4.1-5.3-2.7-3-2.7-2.6-4.1-3.1-4.1-2.1-4.1-1.1z" fill="#07bbca"/><path d="M546.2 278.3l-4 .8-4.1 1.7-9.2 5.4-9.4 6.3-7.8 5.8-7.9 6.4-7.9 6.9-8 7.6-8 8.1-8 8.7-8 9.2-6.4 7.8-8 10.2-8.1 10.8-8 11.4-6.4 9.4 4.7-6 3.6-3.5 2.4-1.9 2.4-1.4 3.7-1.4 2.5-.5 2.6 0 3.8.8 2.6 1.1 2.6 1.5 4 3.1 2.7 2.5 2.7 3.1 4.1 5.3 5.4 8.7 4.2 7.6 5.5 11.7 4.2 9.8 5.6 14.6 4.6 13.2 8-2.4 9.3-3.1 10.2-7.9 11.5-8 9.7-6 11.3-5.9 9.5-4.2 10.9-3.8 9.3-2.5 9.8-1.8 12.5-8.3-4.4-18-3.7-14.1-3.8-13.1-3.9-12.3-5.1-15-4-10.1-4-9.2-4-8.2-4-7.3-4-6.3-4.1-5.3-4.1-4.4-4-3.4-4.1-2.4-4.1-1.4-2.7-.4z" fill="#08c8d4"/><path d="M546.2 278.3l-4 .8-4.1 1.7-9.2 5.4-9.4 6.3-7.8 5.8-7.9 6.4-7.9 6.9-8 7.6-8 8.1-8 8.7-8 9.2-6.4 7.8-8 10.2-8.1 10.8-8 11.4-6.4 9.4 4.7-6 3.6-3.5 2.4-1.9 2.4-1.4 3.7-1.4 2.5-.5 2.6 0 3.8.8 2.6 1.1 2.6 1.5 4 3.1 2.7 2.5 2.7 3.1 4.1 5.3 5.4 8.7 4.2 7.6 5.5 11.7 4.2 9.8 4.2 10.8 5.1 14.3 12.9-4 12.1-4.2 6.7-4.9 8.2-5.6 8.1-5 8.1-4.5 9.5-4.6 9.5-3.8 9.3-3 9.8-2.3 10.4-6.5 7.8-5.3-3.9-15.5-3.7-14.1-3.8-13.1-3.9-12.3-5.1-15-4-10.1-4-9.2-4-8.2-4-7.3-4-6.3-4.1-5.3-4.1-4.4-4-3.4-4.1-2.4-4.1-1.4-2.7-.4z" fill="#05d2dc"/><path d="M546.2 278.3l-4 .8-4.1 1.7-9.2 5.4-9.4 6.3-7.8 5.8-7.9 6.4-7.9 6.9-8 7.6-8 8.1-8 8.7-8 9.2-6.4 7.8-8 10.2-8.1 10.8-8 11.4-6.4 9.4 4.7-6 3.6-3.5 2.4-1.9 2.4-1.4 3.7-1.4 2.5-.5 2.6 0 3.8.8 2.6 1.1 2.6 1.5 4 3.1 2.7 2.5 2.7 3.1 4.1 5.3 4.1 6.3 4.1 7.3 5.6 11.3 4.1 9.5 4.2 10.5 5.5 15.2 9.3-2.7 8.5-2.7 16.6-6.2 8.1-5.4 6.5-3.9 6.5-3.6 6.4-3.3 6.3-2.9 6.3-2.5 6.3-2.2 6.6-1.9 13.3-8 12.1-8-4.5-17.9-3.8-13.8-3.8-12.8-3.8-12-3.9-11.1-4-10.1-4-9.2-4-8.2-4-7.3-4-6.3-4.1-5.3-4.1-4.4-4-3.4-4.1-2.4-4.1-1.4-2.7-.4z" fill="#02dfe6"/><path d="M547.5 278.2l-4 .5-4 1.4-7.5 4.2-9.4 6-9.4 6.8-7.8 6.2-8 6.9-7.9 7.4-8 8-8 8.6-8 9.1-8 9.7-8 10.2-8.1 10.8-8 11.4-6.4 9.4 4.7-6 3.6-3.5 2.4-1.9 2.4-1.4 3.7-1.4 2.5-.5 2.6 0 3.8.8 3.9 1.8 4 2.7 2.6 2.4 2.7 2.8 4.1 5 5.5 8.2 4.1 7.3 5.6 11.3 4.1 9.5 4.2 10.5 4.6 12.5 12-3.5 11.5-3.9 12.7-4.7 11.6-4.9 6.9-4 6.5-3.3 7.9-3.7 7.3-2.9 5.1-2.7 15.7-9.1 8.1-5.1 7.8-5.3-3.9-15.4-3.8-13.8-3.8-12.8-3.8-12-3.9-11.1-4-10.1-4-9.2-4-8.2-4-7.3-4-6.3-4.1-5.3-4.1-4.4-4-3.4-4.1-2.4-4.1-1.4z" fill="#04e8ea"/><path d="M547.5 278.2l-4 .5-4 1.4-7.5 4.2-9.4 6-9.4 6.8-7.8 6.2-8 6.9-7.9 7.4-8 8-8 8.6-8 9.1-8 9.7-8 10.2-8.1 10.8-8 11.4-6.4 9.4 4.7-6 3.6-3.5 2.4-1.9 2.4-1.4 3.7-1.4 2.5-.5 2.6 0 3.8.8 3.9 1.8 4 2.7 2.6 2.4 2.7 2.8 4.1 5 4.1 6 4.1 7 5.6 10.8 4.1 9.2 4.2 10.2 5 13.3 12.2-3.5 15.2-5 14.3-5.6 15.2-6.6 14.3-7 15-8 14.1-8.4 13.2-8.6-3.3-13-3.8-13.8-3.8-12.8-3.8-12-3.9-11.1-4-10.1-4-9.2-4-8.2-4-7.3-4-6.3-4.1-5.3-4.1-4.4-4-3.4-4.1-2.4-4.1-1.4z" fill="#0fe6e2"/><path d="M547.5 278.2l-4 .5-4 1.4-7.5 4.2-9.4 6-9.4 6.8-7.8 6.2-8 6.9-7.9 7.4-8 8-8 8.6-8 9.1-8 9.7-8 10.2-8.1 10.8-8 11.4-6.4 9.4 4.7-6 3.6-3.5 2.4-1.9 2.4-1.4 3.7-1.4 2.5-.5 2.6 0 3.8.8 3.9 1.8 4 2.7 2.6 2.4 2.7 2.8 4.1 5 4.1 6 4.1 7 4.2 7.9 4.1 9 4.2 9.8 5.4 14 14.2-4 13.3-4.4 14.4-5.5 15.3-6.6 14.3-6.9 15.1-8.1 14.1-8.3 13.2-8.6-6.5-24.3-3.8-12.8-3.8-12-3.9-11.1-4-10.1-4-9.2-4-8.2-4-7.3-4-6.3-4.1-5.3-4.1-4.4-4-3.4-4.1-2.4-4.1-1.4z" fill="#1be5db"/><path d="M548.7 278.3l-2.5 0-2.7.4-4 1.4-6 3.3-7.7 4.8-9.4 6.5-7.9 6.1-9.5 8-7.9 7.3-8 7.9-8 8.4-8 9-8 9.6-8 10.2-8.1 10.6-8 11.3-8 11.7 4.7-6 3.6-3.5 3.6-2.7 3.7-1.7 2.5-.6 2.5-.2 3.8.5 3.9 1.4 4 2.4 2.6 2.2 2.7 2.5 4 4.7 4.1 5.7 4.1 6.7 5.6 10.3 4.1 9 4.2 9.8 4.4 11.2 14.3-3.9 13.4-4.4 14.4-5.4 15.3-6.6 14.4-6.9 15.1-8 14.1-8.3 13.3-8.6-3.4-12.7-3.7-13.4-3.9-12.6-3.8-11.7-4-10.7-3.9-9.9-2.7-6-4-8.2-4-7.3-4-6.3-4.1-5.3-4.1-4.4-4-3.4-4.1-2.4-4.1-1.4z" fill="#2de3cd"/><path d="M548.9 278.3l-4.1.1-4 1.1-5.7 3-9.3 5.7-9.4 6.5-7.9 6.1-9.5 8-7.9 7.3-8 7.9-8 8.4-8 9-8 9.6-8 10.2-8.1 10.6-8 11.3-8 11.7 4.7-6 3.6-3.5 3.6-2.7 3.7-1.7 2.5-.6 2.5-.2 3.8.5 3.9 1.4 4 2.4 2.6 2.2 2.7 2.5 4 4.7 4.1 5.7 4.1 6.7 4.2 7.6 4.2 8.6 4.1 9.5 4.7 11.7 12.8-3.3 15.1-4.8 14.5-5.4 15.4-6.5 14.4-6.8 15.1-8 14.2-8.3 13.2-8.5-6.4-23.7-3.9-12.6-3.8-11.7-4-10.7-3.9-9.9-2.7-6-4-8.2-2.7-5-4-6.6-4-5.7-4.1-4.6-4.1-3.7-4.1-2.8-4-1.7z" fill="#45e1b9"/><path d="M548.9 278.3l-4.1.1-4 1.1-5.7 3-9.3 5.7-9.4 6.5-7.9 6.1-9.5 8-7.9 7.3-8 7.9-8 8.4-8 9-8 9.6-8 10.2-8.1 10.6-8 11.3-7.7 11.3 4.4-5.6 3.6-3.5 3.6-2.7 3.7-1.7 2.5-.6 2.5-.2 3.8.5 3.9 1.4 4 2.4 3.9 3.4 4.1 4.4 4.1 5.3 4.1 6.3 4.1 7.3 4.2 8.3 4.1 9.2 5 12.1 12.5-3.1 15.6-4.8 14.6-5.3 15.4-6.5 14.5-6.8 15.2-7.9 14.1-8.3 13.3-8.5-3.3-12.4-3.8-13.1-3.9-12.3-3.8-11.4-4-10.4-3.9-9.5-2.7-5.8-4-8-2.7-4.7-4-6.3-4.1-5.3-4.1-4.4-2.7-2.4-4.1-2.7-4-1.7z" fill="#5fd7a0"/><path d="M548.9 278.3l-4.1.1-4 1.1-5.7 3-9.3 5.7-9.4 6.5-7.9 6.1-9.5 8-7.9 7.3-8 7.9-8 8.4-8 9-8 9.6-8 10.2-8.1 10.6-8 11.3-6.8 9.9 4.7-5.5 3.6-3.2 3.6-2.3 3.7-1.4 3.8-.5 3.8.5 3.9 1.4 4 2.4 3.9 3.4 4.1 4.4 4.1 5.3 4.1 6.3 4.1 7.3 4.2 8.3 4.1 9.2 3.9 9.3 8.5-2 6.1-1.7 13.7-4.1 14.7-5.3 15.5-6.4 14.5-6.8 15.2-7.9 14.2-8.2 13.2-8.5-6.4-23-3.9-12.3-3.8-11.4-4-10.4-3.9-9.5-2.7-5.8-4-8-2.7-4.7-4-6.3-4.1-5.3-4.1-4.4-2.7-2.4-4.1-2.7-4-1.7z" fill="#7cc783"/><path d="M550.2 278.4l-4-.1-2.7.4-2.7.8-4.2 2.1-7.7 4.6-9.4 6.3-9.4 7-9.5 7.9-7.9 7.2-8 7.8-8 8.3-8 8.9-8 9.5-8 10-8.1 10.6-9.6 13.4-5.8 8.6 3.7-4.2 3.6-3.2 3.6-2.3 3.7-1.4 3.8-.5 3.8.5 3.9 1.4 4 2.4 3.9 3.4 4.1 4.4 4.1 5.3 2.7 4.1 4.1 7 4.2 7.9 4.1 9 4.1 9.4 7.2-1.5 7.4-1.9 14-4.2 14.7-5.2 15.6-6.3 14.6-6.8 15.2-7.8 14.2-8.2 13.3-8.5-3.3-11.9-3.8-12.8-6.4-19.5-4-10.4-3.9-9.5-2.7-5.8-4-8-2.7-4.7-4-6.3-2.7-3.7-4.1-4.6-2.7-2.6-4.1-3.1-4.1-2.1z" fill="#99b665"/><path d="M550.2 278.4l-4-.1-2.7.4-2.7.8-4.2 2.1-7.7 4.6-9.4 6.3-7.8 5.8-9.5 7.7-7.9 7.1-8 7.7-8 8.2-8 8.8-8 9.3-9.6 12-8.1 10.6-9.6 13.4-4.8 7.3 3.9-4 3.6-3 3.6-2 3.8-1.1 3.8-.2 3.8.8 3.9 1.8 2.7 1.7 3.9 3.4 4.1 4.4 4.1 5.3 2.7 4.1 4.1 7 2.8 5.2 4.2 8.6 4.2 9.6 12.9-2.9 8-2.1 7.9-2.4 14.8-5.2 15.7-6.3 14.6-6.7 15.2-7.8 14.3-8.1 13.3-8.5-6.4-22.2-6.4-19.5-4-10.4-3.9-9.5-2.7-5.8-4-8-2.7-4.7-4-6.3-2.7-3.7-4.1-4.6-2.7-2.6-4.1-3.1-4.1-2.1z" fill="#aea84e"/><path d="M550.3 278.4l-4.1-.1-2.7.4-2.7.8-4.2 2.1-7.7 4.6-9.4 6.3-7.8 5.8-9.5 7.7-7.9 7.1-8 7.7-8 8.2-8 8.8-8 9.3-9.6 12-8.1 10.6-8.8 12.3-4.5 7.2 4-3.9 2.4-1.9 3.6-2 3.8-1.1 3.8-.2 3.8.8 3.9 1.8 2.7 1.7 3.9 3.4 4.1 4.4 4.1 5.3 2.7 4.1 4.1 7 2.8 5.2 2.8 5.6 4.3 9.6 13.1-2.7 14.8-4.1 14.3-4.8 15.9-6.2 14.7-6.6 15.4-7.8 14.9-8.4 14.2-8.9-3.1-11.2-3.9-12.6-6.4-19-4-10.1-2.6-6.2-2.7-5.8-4-8-2.7-4.7-4-6.3-2.7-3.7-4.1-4.6-2.7-2.6-4.1-3.1-4.1-2.1z" fill="#be9a3a"/><path d="M551.6 278.7l-4.1-.5-2.7.2-2.6.7-4.1 1.7-6.1 3.5-9.4 6-9.4 6.8-9.4 7.6-7.9 6.9-9.6 9.2-8 8.2-8 8.8-8 9.3-9.6 12-9.7 12.7-6.5 9.2-2.4 3.8-1.7 3.2 2.9-2.7 3.6-2.7 3.7-1.7 2.5-.6 3.8-.2 3.8.8 3.9 1.8 2.7 1.7 3.9 3.4 2.7 2.8 4.1 5 2.7 3.9 4.1 6.7 2.8 4.9 2.8 5.4 4.4 9.5 13.2-2.6 14.3-3.8 15.1-4.9 15.9-6.2 14.9-6.5 15.4-7.8 14.4-8 14.7-9.2-6.3-21.3-6.4-19-4-10.1-2.6-6.2-2.7-5.8-4-8-2.7-4.7-4-6.3-2.7-3.7-4.1-4.6-2.7-2.6-4.1-3.1-2.7-1.5z" fill="#da9328"/><path d="M551.6 278.7l-4.1-.5-2.7.2-2.6.7-4.1 1.7-6.1 3.5-9.4 6-9.4 6.8-9.4 7.6-7.9 6.9-9.6 9.2-8 8.2-8 8.8-8 9.3-11.2 14.1-9.7 12.8-4 5.9-2.3 3.8-1.5 3.1 2.9-2.5 3.6-2.3 3.7-1.4 2.5-.5 3.8.2 2.6.6 3.9 1.8 2.7 1.7 3.9 3.4 2.7 2.8 4.1 5 2.7 3.9 4.1 6.7 2.8 4.9 5.8 11.8 13.4-2.5 14.4-3.6 15.3-4.9 15.9-6 15-6.6 15.4-7.6 14.5-8.1 14.7-9.2-5.6-18.7-6.4-19-4-10.1-2.6-6.2-2.7-5.8-4-8-2.7-4.7-4-6.3-2.7-3.7-4.1-4.6-2.7-2.6-4.1-3.1-2.7-1.5z" fill="#f78d15"/><path d="M551.6 278.7l-4.1-.5-2.7.2-2.6.7-4.1 1.7-6.1 3.5-9.4 6-9.4 6.8-9.4 7.6-7.9 6.9-9.6 9.2-8 8.2-9.6 10.6-8 9.5-9.6 12.1-9.3 12.4-4.6 7.1-2.4 4.9 2.9-2.2 2.4-1.4 3.7-1.4 2.5-.5 3.8.2 2.6.6 3.9 1.8 2.7 1.7 3.9 3.4 2.7 2.8 2.7 3.2 2.8 3.7 4.1 6.3 2.7 4.8 5.8 11.2 7-1.1 6.6-1.2 8.5-2 6.1-1.6 13.5-4.1 16.1-5.9 8.5-3.6 8.2-3.6 15.6-7.7 15.8-8.8 13.4-8.3-6.2-20.2-6.5-18.4-3.9-9.9-2.7-6-2.6-5.6-4.1-7.6-5.3-8.6-2.7-3.7-4.1-4.6-2.7-2.6-4.1-3.1-2.7-1.5z" fill="#ff8b10"/><path d="M553 279.1l-4.1-.8-4.1.1-4 1.1-4.2 2.1-10.8 6.6-9.4 6.5-9.5 7.3-9.5 8.2-9.5 9-9.6 9.8-9.6 10.6-8 9.5-9.6 12.1-8.1 10.7-3.6 5.8-1.9 3.6-1.4 3.2 2.8-1.9 2.4-1.2 3.8-1.1 2.5-.2 3.8.5 2.6.8 2.6 1.3 2.7 1.7 3.9 3.4 2.7 2.8 2.7 3.2 2.8 3.7 5.4 8.7 5.7 10.4 7.1-.9 6.7-1.2 8.3-1.8 6.4-1.6 7.9-2.3 7.6-2.4 14.4-5.3 8.6-3.5 8.2-3.6 15.6-7.6 14.5-7.9 8.2-5 6.5-4.2-5.4-17.6-6.5-18.4-5.2-12.9-2.7-5.8-4-8-5.4-9-2.7-3.9-4.1-5-2.7-2.8-4-3.4-2.8-1.7z" fill="#ff8a10"/><path d="M553 279.1l-4.1-.8-4.1.1-4 1.1-4.2 2.1-10.8 6.6-9.4 6.5-9.5 7.3-9.5 8.2-9.5 9-9.6 9.8-9.6 10.6-9.6 11.4-9.6 12.2-5.5 7.6-4 6.8-1.2 2.4-1.3 3.5 2.6-1.5 2.5-1.1 2.5-.6 2.5-.2 2.5.2 2.6.6 2.6 1.1 2.6 1.5 2.7 1.9 2.6 2.4 2.7 2.8 2.7 3.2 5.5 7.8 2.7 4.6 4 7.2.7-.1 6.6-.7 6.9-1.1 7.6-1.6 7.2-1.7 8.1-2.2 7.6-2.4 14.5-5.2 15.2-6.3 15.8-7.5 16-8.7 14.8-9.2-5.9-18.9-6.6-17.9-5.3-12.5-2.6-5.6-4.1-7.6-5.3-8.6-2.7-3.7-4.1-4.6-2.7-2.6-2.8-2.2-2.7-1.7z" fill="#ff970d"/><path d="M553 279.1l-4.1-.8-4.1.1-4 1.1-5.7 3-10.9 6.7-9.4 6.7-9.4 7.4-9.5 8.3-9.6 9.2-9.6 9.9-9.6 10.7-9.6 11.6-8.4 10.7-4.1 5.9-2.2 3.8-1.7 3.6-1.4 3.4-.6 2.1 2.2-1.1 2.5-.8 3.8-.5 2.5.2 2.6.6 3.9 1.8 2.7 1.7 2.6 2.2 2.7 2.5 2.7 3.1 2.7 3.4 2.7 3.9 2.8 4.3 3.5 6.3 6.1-.5 6.2-.9 6.8-1.1 8.5-1.9 6.2-1.5 13.5-4.1 7.4-2.5 8.8-3.3 15.1-6.4 15.5-7.5 14.5-8 13.4-8.2-5.1-16.4-6.6-17.9-5.3-12.5-2.6-5.6-4.1-7.6-5.3-8.6-2.7-3.7-4.1-4.6-2.7-2.6-2.8-2.2-2.7-1.7z" fill="#ffa50a"/><path d="M554.3 279.5l-4-1.1-4.1-.1-4 .8-4.1 1.7-10.8 6.4-9.4 6.4-11 8.4-9.5 8.2-11.1 10.6-9.6 9.9-11.2 12.6-9.6 11.7-5.9 7.6-2.7 3.9-1.9 3.2-2.8 5.9-1.2 3.4-.6 2.6 3-1 3.8-.5 3.8.5 3.9 1.4 2.6 1.5 2.7 1.9 2.6 2.4 2.7 2.8 2.7 3.2 2.8 3.7 2.7 4.1 3 5 5.3-.2 6.4-.7 12.3-2 12.5-3 7.9-2.2 7.5-2.4 14.3-5.2 15-6.4 14-6.8 14.5-7.9 13.4-8.2-5.6-17.6-5.3-14.1-5.3-12.5-2.6-5.6-4.1-7.6-5.3-8.6-2.7-3.7-2.8-3.2-2.7-2.8-2.7-2.4-2.7-1.9z" fill="#ffb307"/><path d="M554.3 279.5l-4-1.1-4.1-.1-4 .8-2.7 1-2.9 1.5-10.8 6.6-9.4 6.5-11 8.6-9.5 8.3-11.2 10.8-9.6 10-11.2 12.8-10 12.3-4.2 5.9-2.3 3.8-1.4 2.7-1.1 2.6-1.2 3.3-.8 3.2-.2 1.9 3.6-.8 3.8.2 3.9 1.1 3.9 2.1 4 3.1 4 4 4.1 5 5 7.5 8.8-.3 9-1 11.2-2.1 6.9-1.5 7.5-2 13.2-4.2 14.2-5.3 13.2-5.6 14-6.8 14.4-7.9 12-7.4-4.8-15-4-10.7-2.6-6.7-5.3-12-5.4-10.4-5.3-8.6-2.7-3.7-2.8-3.2-2.7-2.8-2.7-2.4-2.7-1.9z" fill="#ffc103"/><path d="M554.3 279.5l-4-1.1-4.1-.1-4 .8-2.7 1-2.9 1.5-10.8 6.6-11 7.7-11 8.8-9.5 8.4-9.6 9.3-9.6 10-11.2 12.8-9 11.2-4 5.8-2.1 3.7-1.6 3.5-1.2 3.3-.5 2.3-.5 2.4-.1 2.9 2.7-.2 3.8.5 3.9 1.4 2.6 1.5 4 3.1 2.7 2.5 4 4.7 4 5.5 5.9.1 4.8-.1 8-.8 5.7-.8 12-2.4 12.1-3.2 13.1-4.2 14-5.3 13.1-5.7 13.8-6.8 12.8-7.2 10.7-6.5-5.3-16.1-5.3-13.7-5.3-12-5.4-10.4-5.3-8.6-2.7-3.7-2.8-3.2-2.7-2.8-2.7-2.4-2.7-1.9z" fill="#ffcf00"/><path d="M555.7 280.1l-4.1-1.4-4.1-.5-4 .5-2.7.8-2.7 1.3-10.8 6.4-10.9 7.5-11 8.6-11.1 9.8-9.6 9.3-9.6 10-11.2 12.8-4.9 5.9-3.1 4.1-3.7 5.7-1.8 3.6-1.5 3.4-.9 3.3-.6 3.1-.1 2.9.3 2.9 2.5.2 2.6.6 2.6 1.1 2.6 1.5 2.7 1.9 2.6 2.4 2.7 2.8 3.8 4.6 6.5.5 6.9 0 8.3-.7 9.8-1.4 10.7-2.3 11.9-3.2 13-4.3 12.1-4.7 13.1-5.7 12.2-6 11.5-6.3 12.1-7.4-4.5-13.4-5.3-13.7-5.3-12-5.4-10.4-5.3-8.6-2.7-3.7-2.8-3.2-2.7-2.8-2.7-2.3-2.7-2z" fill="#ffe200"/><path d="M555.7 280.1l-4.1-1.4-2.7-.4-2.7 0-2.7.4-2.7.8-5.7 3-6.2 3.7-6.3 4.1-10.9 8-11.1 9.1-11.1 10.2-9.6 9.7-9.6 10.5-9.2 10.8-2.6 3.4-2.6 3.9-2.2 3.6-1.6 3.5-1.3 3.4-.7 3.2-.4 3 .1 2.8.5 2.7 1 2.4 2.7.9 3.9 2.1 4 3.1 3.9 3.8 5 1 5.6.5 3.1.2 7.3-.2 8.7-.9 10.9-1.8 10.3-2.4 11.6-3.4 10.9-3.7 12.1-4.7 11.3-5 12.2-6.1 11.4-6.3 10.7-6.5-4.9-14.4-5.3-13.3-5.3-11.6-5.4-9.9-4-6.3-2.7-3.7-2.8-3.2-2.7-2.8-2.7-2.3-2.7-2z" fill="#fff500"/><path d="M555.7 280.1l-2.7-1-2.7-.7-2.8-.2-2.7.2-2.6.7-2.7 1-7.5 4.2-6.2 3.9-6.3 4.3-11 8.3-6.3 5.2-6.3 5.6-11.2 10.8-9.6 10-10.8 12.3-4.7 6.2-2.3 3.6-1.9 3.6-1.5 3.4-1 3.3-.6 3.1-.1 2.9.3 2.8.8 2.5 1.3 2.4 1.7 2.2 2.3 1.9 1.4.9 3.1 1.6 1.8.7 4.2 1.2 2.3.5 5.3.6 8.8.2 7.7-.5 9.3-1.3 9.2-1.8 9.6-2.5 11.4-3.5 10.7-3.8 10.2-4.1 11.1-5 10.6-5.3 11.4-6.3 9.3-5.8-4-11.7-5.3-13.3-5.3-11.6-5.4-9.9-4-6.3-2.7-3.7-2.8-3.2-2.7-2.8-2.7-2.3-2.7-2z" fill="#fdfd04"/><path d="M557 280.8l-4-1.7-2.7-.7-2.8-.2-2.7.2-2.6.7-2.7 1-2.9 1.5-6.2 3.7-6.2 3.9-6.3 4.4-6.2 4.7-6.3 5-6.4 5.5-11.1 10.4-11.2 11.5-9.6 10.7-4.7 6.1-2.5 3.8-2 3.6-1.5 3.4-1 3.3-.6 3.1-.1 2.9.4 2.7.8 2.5 1.3 2.4 1.8 2.1 2.4 2 1.4.8 3.2 1.6 1.9.7 5.5 1.3 6.7.8 6.6 0 8-.5 9.9-1.3 9.3-2 10-2.6 9.5-2.9 10.7-3.8 10.1-4.1 11.1-5 10.5-5.3 10-5.5 9.3-5.7-4.5-12.5-5.2-12.9-4-8.6-5.4-9.9-4-6.3-2.7-3.7-2.8-3.2-4-4-2.7-2.2z" fill="#f9f90c"/><path d="M557 280.8l-4-1.7-2.7-.7-2.8-.2-4 .5-2.7.8-2.7 1.3-6.1 3.5-6.2 3.9-11 7.7-6.3 4.9-6.3 5.2-11.1 10.1-11.2 11.2-9.9 10.8-4.8 6.1-3.7 5.7-1.7 3.5-1.3 3.3-.8 3.2-.4 3 .2 2.8.6 2.6 1.1 2.4 1.6 2.3 2.1 2 1.3.9 3 1.6 1.8.7 4 1.2 2.4.5 5.2.7 6.4.2 9.7-.6 7.3-1 10.6-2 10-2.6 9.4-2.9 10.7-3.8 10.1-4.1 9.5-4.3 10.6-5.3 9.9-5.4 9.4-5.7-3.6-9.8-5.2-12.9-4-8.6-5.4-9.9-4-6.3-2.7-3.7-2.8-3.2-4-4-2.7-2.2z" fill="#f5f516"/><path d="M557 280.8l-4-1.7-2.7-.7-2.8-.2-4 .5-2.7.8-2.7 1.3-6.1 3.5-6.2 3.9-11 7.7-6.3 4.9-6.3 5.2-11.1 10.1-9.6 9.5-10.1 11-4.8 6.3-3.3 5.5-1.5 3.4-1.1 3.3-.6 3-.1 2.9.4 2.7.9 2.5 1.4 2.3.9 1.1 2.2 1.9 1.3.9 3.2 1.6 1.8.7 4.4 1.2 7 .9 7.3.1 8.1-.6 7.6-1 9-1.8 9.7-2.5 9.4-2.8 10.6-3.8 10.1-4.1 9.5-4.3 10.5-5.3 8.7-4.7 9.2-5.6-3.9-10.5-3.9-9.5-4-8.6-5.4-9.9-4-6.3-2.7-3.7-2.8-3.2-4-4-2.7-2.2z" fill="#eded2b"/><path d="M558.4 281.6l-4.1-2.1-2.7-.8-2.7-.4-4.1.1-2.6.7-2.7 1-4.4 2.4-6.2 3.7-11 7.4-11 8.4-11 9.6-9.6 9.2-10.8 11.2-3 3.6-2.5 3.2-1.8 2.6-2.1 3.7-1.6 3.4-1 3.2-.6 3.1-.1 2.9.4 2.7.9 2.5.7 1.2 1.7 2.1 2.3 1.9 1.3.9 3.3 1.5 2.1.7 4.1 1 5.3.7 6.3.2 7.8-.5 8-1 8.7-1.6 10-2.5 9.4-2.9 9-3.1 10.1-4.1 9.6-4.2 9-4.5 10-5.4 9.4-5.7-4.2-11-4-9.2-4-8.2-4-7.3-4-6.3-4.1-5.3-4.1-4.4-2.7-2.3z" fill="#e2e244"/><path d="M558.4 281.6l-4.1-2.1-2.7-.8-2.7-.4-4.1.1-2.6.7-2.7 1-9.1 5.2-10.9 7.2-11 8.3-9.5 8-9.5 8.8-10.2 10.3-5.3 6.3-4 5.7-1.9 3.6-1.3 3.3-.9 3.2-.3 2.9.2 2.8.6 2.6.9 1.7 1.2 1.7 2.1 2 1.2.9 3.1 1.6 3.7 1.3 2.2.6 5 .8 6 .3 7.5-.3 8.1-1 8.7-1.6 10.1-2.4 9.5-2.9 8.9-3.1 10.1-4 9.5-4.3 9.1-4.4 9.9-5.5 8-4.8-4.5-11.5-4-8.8-4-8-4-6.9-4.1-6-4.1-5-4-4z" fill="#dcdc52"/><path d="M558.4 281.6l-4.1-2.1-2.7-.8-2.7-.4-4.1.1-2.6.7-2.7 1-9.1 5.2-10.9 7.2-11 8.3-9.5 8-9.5 8.8-8.9 9-5 6.1-3.6 5.6-2.3 5.1-.9 3.2-.3 2.9.2 2.8.7 2.5.6 1.2 1.5 2.2 2.2 2 1.3.9 3.2 1.5 3.8 1.3 2.3.5 5.3.6 6.4.2 8-.5 6-.9 8.7-1.6 9.9-2.5 7.5-2.3 8.9-3.1 10.1-4 9.5-4.2 9-4.5 8.5-4.6 8.1-4.9-3.5-8.7-4-8.8-4-8-4-6.9-4.1-6-4.1-5-4-4z" fill="#d6d65f"/><path d="M559.7 282.5l-4-2.4-2.7-1-2.7-.7-4.1-.1-2.7.4-2.7.8-2.7 1.3-6.1 3.5-9.4 6-9.4 6.8-9.4 7.6-9.5 8.4-10.2 10-5.3 6.2-3.7 5.6-2.4 5.1-.8 3.2-.4 2.9.2 2.7.8 2.6.6 1.2 1.6 2.1 2.2 1.9 1.4.9 3.3 1.5 4.1 1.2 6.5.8 5.8.2 6.5-.4 8.1-1.1 8-1.5 8.5-2.2 9.3-2.8 8.8-3.1 8.3-3.4 8-3.5 9-4.4 8.5-4.6 8.1-4.8-2.4-6-4-8.8-4-8-4-6.9-2.7-4.1-4.1-5.3-4.1-4.4z" fill="#cdcd73"/><path d="M559.8 282.5l-4.1-2.4-2.7-1-2.7-.7-4.1-.1-2.7.4-2.7.8-2.7 1.3-4.6 2.6-9.3 5.8-9.4 6.7-7.9 6.1-9.5 8.2-8.8 8.3-4.8 5.2-4.3 5.9-2.9 5.3-1.2 3.3-.7 3 0 2.8.5 2.6.7 1.8 1.1 1.7 2.1 2 1.2.9 3.1 1.6 3.8 1.3 4.8.8 5.9.4 7.3-.3 7.6-.9 8-1.4 7.5-1.8 8.6-2.6 8.9-3 8.5-3.3 7.9-3.5 9.1-4.4 8.6-4.6 8-4.8-2.5-6.1-4-8.6-2.7-5.2-4-6.9-2.7-4.1-4.1-5.3-4.1-4.4z" fill="#c2c28a"/><path d="M559.8 282.5l-4.1-2.4-2.7-1-2.7-.7-4.1-.1-2.7.4-2.7.8-5.7 3-9.3 5.7-9.4 6.5-7.9 6.1-9.5 8-7.5 7-5.8 6.4-4 5.7-2.5 5.2-1 3.1-.3 2.5 0 1.8.6 2.6.8 1.7 1.1 1.7 2.1 2 1.3.9 3.2 1.5 4.1 1.1 5 .8 6.3.2 5.8-.4 7-.8 6.4-1.2 8.1-1.9 8.8-2.6 7.7-2.7 8.4-3.2 7.9-3.5 9.1-4.4 7.1-3.8 8.1-4.8-2.8-6.3-4-8.2-2.7-5-4-6.6-2.7-3.9-4.1-5-2.7-2.8z" fill="#b7b7a0"/><path d="M561.1 283.5l-4.1-2.7-4-1.7-4.1-.8-2.7 0-2.7.4-4 1.4-7.5 4.2-9.4 6-7.8 5.6-9.4 7.4-8.8 7.7-5.4 5.5-4.8 5.9-3.1 5.4-1.1 2.8-.6 2-.3 2.6 0 1.8.6 2.5 1.2 2.3 1.8 2.1 1.2.9 3 1.6 3.8 1.2 4.8.9 4.9.2 5.4-.1 7.2-.7 6.8-1.2 7-1.6 8.5-2.4 7.2-2.3 8.5-3.3 8-3.4 9.1-4.3 7.1-3.8 8.1-4.8-2.8-6.2-2.7-5.4-2.7-5-4-6.6-2.7-3.9-2.7-3.4-2.7-3z" fill="#b2adad"/><path d="M561.1 283.6l-4.1-2.8-4-1.7-4.1-.8-2.7 0-2.7.4-4 1.4-7.5 4.2-7.8 4.9-7.8 5.5-9.5 7.3-7.1 6.2-6.5 6.6-3.6 4.7-1.9 2.9-1.6 3.5-.9 2.8-.4 1.8-.1 1.4.3 2.7.4 1.3 1.2 2.2 2 2 2.7 1.7 3.6 1.4 4.6.9 5.8.4 4.8-.2 7.2-.7 6.5-1.1 8.1-1.9 7.5-2.2 7.1-2.4 8.4-3.2 7.9-3.5 7.5-3.6 7.1-3.8 6.7-4-2.8-6.1-2.7-5.2-5.4-9-2.7-3.9-2.7-3.4-2.7-3z" fill="#bb9c9d"/><path d="M561.1 283.6l-4.1-2.8-4-1.7-4.1-.8-2.7 0-2.7.4-4 1.4-6 3.3-7.7 4.8-7.9 5.4-9.4 7.2-6.7 5.7-4.3 4.5-2.6 3-2.1 2.9-1.1 1.8-1.8 3.5-.6 1.7-.7 2.9-.1 1.8.3 2.3.7 1.8 1.1 1.7 2 1.9 2.9 1.6 3.9 1.2 4.9.8 5.3.2 5-.3 4.9-.5 6.5-1.2 8-1.9 7.4-2.1 7-2.5 6.7-2.6 6.4-2.7 7.5-3.6 7.1-3.8 6.7-3.9-2.8-5.8-2.7-5-5.3-8.6-2.7-3.7-2.8-3.2-2.7-2.8z" fill="#c97f83"/><path d="M562.5 284.7l-4.1-3.1-4.1-2.1-4-1.1-4.1-.1-2.7.4-4 1.4-6 3.3-7.7 4.8-7.9 5.4-8.3 6.4-5.4 4.8-2.8 2.9-3 3.4-1.5 2-2.2 3.6-1.2 2.7-.7 2.1-.3 2.3 0 2 .4 1.7.9 1.9 1.8 2.1 2.7 1.7 3.6 1.3 3.3.7 4.3.3 4.6 0 7-.6 5.4-.9 6.9-1.5 6.2-1.7 7.1-2.4 6.8-2.5 6.4-2.7 7.6-3.6 7.2-3.7 6.7-3.9-4.1-7.8-5.3-8.6-4.1-5.3-2.7-3z" fill="#d46369"/><path d="M562.5 284.7l-4.1-3.1-4.1-2.1-4-1.1-4.1-.1-2.7.4-4 1.4-6 3.3-6.2 3.8-8.1 5.5-7.1 5.4-5.2 4.8-2.6 2.8-2.9 3.4-2.4 3.7-1 2.1-1 2.8-.3 1.5 0 2.7.7 2.5.7 1.1 1.9 2 2.9 1.6 3.1 1 3.2.6 6 .2 3.8-.1 4.4-.5 6.2-1.1 6-1.3 5.7-1.6 7.1-2.4 6.6-2.5 6.4-2.7 6-2.9 5.7-3 6.7-3.9-3.8-7-4-6.3-4.1-5.3-2.7-3z" fill="#df474f"/><path d="M562.5 284.7l-2.8-2.2-4-2.4-2.7-1-4.1-.8-2.7 0-4 .8-2.7 1-6 3.3-7.5 4.7-7.7 5.4-6 5.1-4.3 4.4-3.3 4.1-2 3.4-.7 1.6-.8 2.7-.2 1.8.2 1.6.7 2.1 1.7 2.1 2.6 1.7 3.7 1.3 2.3.4 4.8.3 4.8-.1 4.5-.5 4.9-.8 6-1.4 5.6-1.6 5.3-1.7 6.7-2.5 6.3-2.7 6-2.9 5.7-3 5.4-3.1-3.5-6.1-4.1-6-4.1-5z" fill="#e62e34"/><path d="M563.8 285.9l-2.7-2.3-2.7-2-2.7-1.5-4.1-1.4-2.7-.4-4.1.1-2.6.7-4.1 1.7-7.8 4.6-8.4 5.8-6.1 5.1-4.1 4.4-2.9 3.8-1.3 2.1-1.2 2.9-.4 2.7.1 1.6.9 2.3.8 1.1 1 .9 1.3.9 3.5 1.3 2.2.5 4.9.3 4.7-.1 4.6-.6 4.6-.8 5.9-1.4 4.9-1.5 10.8-3.9 10.6-4.8 9.7-5.4-3.1-5-2.7-3.9-2.7-3.4z" fill="#f2101c"/><path d="M563.8 285.9l-2.7-2.3-2.7-2-2.7-1.5-4.1-1.4-2.7-.4-2.7 0-2.7.4-3.4 1.1-6.5 3.8-6.1 4.1-4.8 3.7-4.9 4.6-3.4 4-2 3.6-1.1 3.2 0 2.6.4 1.2.6 1.1.9 1 1.2.9 1.5.8 1.8.6 2.2.5 2.6.3 3.2.1 3.9-.3 8-1.3 7.6-2 8.6-2.9 9.4-4.1 5.7-2.9 5.5-3.1-2.4-3.7-2.7-3.7-2.8-3.2z" fill="#ff0000"/><path d="M563.8 285.9l-2.7-2.3-2.7-2-2.7-1.5-2.7-1-2.7-.7-2.8-.2-2.7.2-2.4.6-6.1 3.5-4.8 3.3-3.9 3-4.8 4.4-3.2 3.9-1.8 3.4-.4 1.5-.2 1.5.2 1.3.4 1.2.7 1 1 1 1.4.8 1.8.6 2.1.5 2.7.3 4-.1 6.7-.9 5.9-1.3 7.1-2.2 8.1-3.2 5.9-2.8 6.9-3.9-4.2-5.5z" fill="#ff0000"/><path d="M565.2 287.3l-4.1-3.8-2.7-1.9-2.7-1.5-2.7-1-2.7-.7-2.8-.2-2.4.2-5.3 3-3.6 2.5-4.6 3.5-2.4 2.4-2.3 2.7-1.8 2.9-.6 2-.1 1 .1 1.3.5 1.2.9.9 1.3.9 1.7.7 3.9.5 2.7 0 4.6-.5 4.1-.8 5.5-1.5 5.1-1.8 4.7-2 4.4-2.1 5.4-3.1z" fill="#ff0000"/><path d="M538.8 284.8l-2.7 2.7-1.4 1.9-.8 1.6-.3 1.5.2 1.3.7 1.1 1.2.8 1.9.6 2.7.2 4.1-.3 6.3-1.5 3.4-1.1 4.7-1.9 2.9-1.4 4.1-2.4-2-2-2.7-2.3-4.1-2.8-4-1.7-4.1-.8-2 .9-3.5 2.1z" fill="#ff0000"/><path d="M503.3 470.5l-6.9-20.6-5.6-14.6-5.6-12.9-5.5-11.3-2.8-5-2.8-4.5-2.7-4.1-2.7-3.7-2.7-3.3-2.7-2.8-2.7-2.3-4-2.8-2.6-1.2-2.6-.9-2.5-.4-1.3-.1-2.5.2-2.5.7-2.5 1-2.5 1.5-3.6 2.9-2.3 2.5-2.4 2.8-2.2 3.3-3.4 5.5-4.4 8.7-2.1 4.9-3.1 7.9M503.3 470.5l6.7-6.1 6.7-5.7 6.7-5.3 8.2-6.2 6.6-4.5 6.5-4.1 6.5-3.8 8-4.2 6.4-3 7.9-3.2 6.3-2.2 7.7-2.2 6.1-1.4 7.6-1.3 6-.6 7.4-.3M509.2 465.2l-5.5-16.9-4.2-11.6-5.6-14-4.2-9.4-4.1-8.5-2.8-5-2.7-4.7-2.8-4.2-2.7-3.8-2.7-3.4-2.7-2.9-4-3.5-2.7-1.8-2.6-1.4-1.3-.5-2.6-.8-2.6-.3-2.6.1-1.2.2-2.5.8-2.5 1.1-2.5 1.6-2.4 2-2.4 2.4-2.3 2.7-2.3 3.2M430.4 390.1l-2.3 3.9-3.3 6.6-2.1 4.8-3.2 7.8M498.5 455.8l6.7-6.3 6.7-5.9 6.7-5.5 8.3-6.4 6.5-4.7 8.2-5.4 6.5-3.9 8.1-4.4 6.4-3 6.4-2.7 6.3-2.4 7.7-2.4 6.2-1.6 7.6-1.4 6.1-.8 7.4-.5M515.1 460.1l-5.6-17.1-4.1-11.7-5.6-14.3-4.2-9.5-4.1-8.6-2.8-5.2-2.7-4.8-2.8-4.3-2.7-3.9-2.7-3.5-2.8-3-4-3.7-2.6-1.9-2.7-1.5-3.9-1.4-2.6-.4-2.6 0-1.3.1-2.5.7-2.5 1-2.5 1.5-2.4 1.9-2.4 2.3-2.4 2.7-2.3 3M432.5 387.9l-3.3 6.7-4.3 10.2M493.6 442.4l6.7-6.5 6.7-6.1 6.7-5.8 8.3-6.7 6.7-4.9 8.2-5.6 6.5-4.1 8.1-4.6 6.5-3.3 6.3-2.9 6.4-2.5 7.8-2.7 6.2-1.7 7.7-1.6 6.1-1 7.5-.7M520.9 455.3l-5.5-17.3-4.2-11.9-5.5-14.4-4.2-9.7-4.1-8.8-2.8-5.3-2.8-4.9-2.7-4.4-2.7-4-2.8-3.6-2.7-3.1-4-3.9-2.7-2-2.7-1.6-3.9-1.6-2.6-.5-2.6-.1-1.3.1-2.5.6-2.5.9-2.5 1.4-2.5 1.8-2.4 2.2-2.4 2.6-2.4 3M435.8 384.2l-2.2 4.7-3.2 7.6M488.7 430.2l6.7-6.7 6.8-6.3 6.7-6 8.3-6.9 6.7-5.2 8.2-5.9 6.6-4.3 8.1-4.8 6.5-3.5 6.4-3 6.3-2.8 7.9-2.9 6.3-1.9 7.7-1.9 6.1-1.1 7.6-.9M526.7 450.8l-5.5-17.5-4.1-12-5.6-14.7-4.1-9.9-4.2-8.9-5.5-10.4-2.7-4.6-2.8-4.1-2.7-3.6-2.7-3.3-4.1-4-2.7-2.1-2.6-1.7-4-1.8-2.6-.6-2.6-.2-1.3.1-2.6.4-2.5.9-2.5 1.3-2.5 1.7-2.5 2.1-2.4 2.5-2.4 2.9M439.1 381l-3.3 7.6M483.8 419.4l6.8-7 6.7-6.5 6.7-6.2 8.4-7.2 6.6-5.4 8.3-6.1 6.6-4.5 8.2-5.1 6.4-3.7 6.5-3.3 6.4-2.9 7.9-3.2 6.3-2.1 7.7-2.1 6.2-1.3 7.6-1.1M532.5 446.6l-5.5-17.7-5.5-16.1-5.5-14.4-4.2-9.8-4.1-8.7-2.8-5.3-2.7-4.9-4.1-6.5-2.8-3.8-2.7-3.3-4.1-4.2-2.6-2.3-2.7-1.8-4-1.9-2.6-.7-2.7-.3-1.3 0-2.5.4-2.6.7-2.5 1.2-2.5 1.6-2.5 2-2.5 2.4-2.4 2.9M479 409.8l6.7-7.1 6.8-6.8 6.7-6.4 8.4-7.5 6.6-5.6 8.3-6.4 6.6-4.7 8.2-5.4 6.5-3.9 6.4-3.5 6.5-3.1 7.9-3.4 6.3-2.3 7.8-2.3 6.2-1.5 7.6-1.4M538.2 442.7l-5.4-17.9-5.5-16.3-5.5-14.7-4.1-9.9-4.2-8.9-2.7-5.4-2.8-5-4.1-6.7-2.7-3.9-2.8-3.4-4-4.4-2.7-2.3-2.7-1.9-2.7-1.5-2.6-1.1-2.7-.6-2.6-.1-1.3 0-2.6.5-2.5.9-2.6 1.3-2.5 1.7-2.5 2.1-2.4 2.5-2.5 2.9M474.1 401.6l6.8-7.4 6.7-7 6.8-6.6 8.3-7.8 6.7-5.8 8.3-6.7 6.6-4.9 8.2-5.6 6.5-4.1 6.5-3.7 6.4-3.4 8-3.6 6.3-2.5 7.9-2.6 6.2-1.7 7.7-1.6M543.9 439.1l-5.4-18.1-5.4-16.6-5.5-14.8-4.1-10.1-4.2-9.1-5.5-10.6-4.1-6.8-2.7-4-2.8-3.6-4-4.5-2.7-2.5-2.7-2-2.7-1.6-2.7-1.1-2.6-.8-2.7-.2-1.3 0-2.6.3-2.5.8-2.6 1.2-2.5 1.6-2.5 2-2.5 2.5-2.5 2.8M469.4 394.7l6.7-7.6 6.7-7.3 6.8-6.8 8.3-8 6.7-6 8.3-7 6.6-5.1 8.2-5.9 6.5-4.3 6.5-4 6.5-3.5 8-3.9 6.3-2.7 7.9-2.9 6.2-1.9 7.7-1.8M549.6 435.7l-5.4-18.3-5.4-16.7-5.5-15.1-4.1-10.2-4.1-9.3-5.5-10.8-4.1-7-2.7-4.1-2.8-3.7-4.1-4.7-2.7-2.5-2.7-2.2-2.7-1.7-2.6-1.2-2.7-.9-2.6-.3-1.3-.1-2.7.3-2.6.7-2.5 1-2.6 1.6-2.5 1.9-2.5 2.3-2.5 2.7M464.6 389.1l6.8-7.8 6.7-7.5 6.7-7 8.3-8.3 6.7-6.2 8.3-7.3 6.6-5.3 8.2-6.2 6.5-4.5 6.5-4.2 6.5-3.7 8-4.2 6.4-2.9 7.9-3.1 6.2-2.1 7.7-2.1M555.2 432.6l-5.3-18.5-5.4-16.9-5.4-15.3-4.1-10.4-4.1-9.4-5.5-11.1-4.1-7.1-2.8-4.2-2.7-3.8-4.1-4.8-2.7-2.7-2.7-2.3-2.7-1.8-2.7-1.3-2.7-1-2.6-.5-1.3 0-2.7.1-2.6.6-2.6 1-2.5 1.4-2.6 1.8-2.5 2.2-2.5 2.6M460 384.9l6.7-8.1 6.7-7.6 6.6-7.3 8.4-8.6 6.6-6.4 8.3-7.5 6.6-5.6 8.2-6.5 6.6-4.7 6.5-4.3 6.4-4 8-4.5 6.4-3.1 7.9-3.4 6.3-2.3 7.7-2.3M560.8 429.8l-5.3-18.7-5.3-17.1-5.4-15.5-4.1-10.5-4.1-9.6-5.5-11.3-4.1-7.3-2.7-4.3-2.8-3.9-4-5-2.8-2.8-2.7-2.4-2.7-1.9-2.7-1.4-2.6-1.1-2.7-.6-1.3-.1-2.7 0-2.6.5-2.6.9-2.6 1.3-2.5 1.7-2.6 2.1-2.5 2.5M455.3 381.9l6.7-8.2 6.7-7.9 6.7-7.4 8.3-8.9 6.6-6.6 8.3-7.8 6.6-5.8 8.2-6.7 6.5-5 6.5-4.6 6.5-4.2 8-4.7 6.4-3.3 7.9-3.7 6.2-2.5 7.8-2.6M566.4 427.2l-5.3-18.8-5.3-17.3-5.4-15.7-4-10.7-4.1-9.8-5.5-11.4-4.1-7.5-2.7-4.4-2.7-4-4.1-5.2-2.8-2.9-2.7-2.5-2.7-2-2.7-1.6-2.7-1.1-2.6-.7-1.4-.2-2.6-.1-2.6.4-2.7.7-2.6 1.2-2.5 1.7-2.6 2-2.5 2.4M450.8 380.4l6.6-8.5 6.7-8 6.6-7.7 8.3-9.2 6.6-6.8 8.3-8.1 6.6-6 8.1-7 6.6-5.2 6.5-4.7 6.4-4.5 8-4.9 6.4-3.6 7.9-4 6.3-2.7 7.8-2.9M571.9 425l-5.2-19.1-5.3-17.5-5.3-15.9-4.1-10.8-4-9.9-5.5-11.7-4.1-7.6-2.7-4.6-2.7-4.1-4.1-5.3-2.8-3-2.7-2.6-2.7-2.1-2.7-1.7-2.7-1.3-2.7-.8-1.3-.2-2.7-.2-2.6.2-2.6.7-2.6 1.1-2.6 1.5-2.6 1.9-2.6 2.4M446.3 380.1l6.6-8.7 6.7-8.2 6.6-7.9 8.2-9.4 6.6-7.1 8.2-8.3 6.6-6.2 8.2-7.3 6.5-5.4 6.4-5 6.5-4.6 8-5.3 6.4-3.8 7.9-4.2 6.2-2.9 7.8-3.2M577.4 423l-5.2-19.3-5.2-17.7-5.3-16-4.1-11-5.4-13.2-4-8.8-4.1-7.8-2.8-4.6-2.7-4.2-4.1-5.5-2.7-3.1-2.7-2.7-4.1-3.2-2.7-1.6-2.7-1.1-1.3-.5-2.7-.5-2.7 0-2.6.3-2.6.8-2.7 1.2-2.6 1.6-2.5 2M441.9 381.1l6.6-8.8 6.6-8.5 6.6-8.1 8.2-9.6 6.5-7.3 8.2-8.6 6.6-6.4 8.1-7.6 6.5-5.6 6.4-5.2 6.5-4.8 8-5.6 6.3-4 7.9-4.5 6.3-3.2 7.8-3.4M582.9 421.2l-5.2-19.4-5.2-17.8-5.3-16.3-4-11.1-5.4-13.4-4-8.9-4.1-8-2.7-4.8-2.7-4.3-4.1-5.6-2.8-3.3-2.7-2.8-4.1-3.3-2.7-1.7-2.7-1.3-1.3-.4-2.7-.6-2.7-.2-2.6.2-2.7.7-2.6 1.1-2.6 1.5-2.6 1.9M437.6 383.4l6.6-9 6.5-8.7 6.6-8.3 8.1-9.9 6.6-7.4 8.1-8.9 6.5-6.6 8.1-7.8 6.5-5.8 6.4-5.5 6.4-5.1 8-5.8 6.3-4.2 7.9-4.8 6.3-3.4 7.7-3.7M588.3 419.8l-5.1-19.6-5.2-18.1-5.3-16.4-4-11.3-5.3-13.6-4.1-9-4-8.2-2.7-4.8-2.8-4.4-4-5.9-2.8-3.3-2.7-2.9-4.1-3.5-2.7-1.8-2.7-1.4-1.3-.5-2.7-.8-2.7-.2-2.7.1-2.6.6-2.7.9-2.6 1.4-2.6 1.8M433.4 386.9l6.5-9.2 6.5-8.8 6.5-8.5 8.1-10.1 6.5-7.7 8.1-9.1 6.5-6.8 8.1-8.1 6.4-6 6.4-5.7 6.4-5.3 7.9-6.1 6.4-4.4 7.8-5.1 6.3-3.6 7.7-4M593.6 418.6l-5-19.8-5.2-18.2-5.2-16.6-4-11.5-5.3-13.7-4-9.3-4.1-8.2-2.7-5-2.7-4.5-4.1-6-2.7-3.5-2.7-3-4.1-3.7-2.7-1.9-2.7-1.5-1.3-.5-2.7-.9-2.7-.4-2.7.1-2.7.4-2.6.9-2.7 1.3-2.6 1.7M429.3 391.6l6.5-9.3 6.4-9 6.5-8.7 8-10.3 6.5-7.9 8-9.3 6.5-7.1 8-8.3 6.4-6.2 6.4-5.9 6.3-5.5 7.9-6.4 6.3-4.6 7.9-5.4 6.2-3.8 7.7-4.3M598.9 417.6l-5-19.9-5.1-18.4-5.2-16.8-3.9-11.5-5.3-14-4-9.4-4-8.4-2.8-5.1-2.7-4.6-4-6.2-2.7-3.5-2.8-3.2-4-3.8-2.8-2-2.7-1.6-1.3-.7-2.7-.9-2.7-.5-2.7-.1-2.7.3-2.6.8-2.7 1.2-2.6 1.6M425.4 397.5l3.1-4.8M604.2 417l-5-20.1-5-18.6-5.2-17-3.9-11.7-5.3-14.1-4-9.6-4-8.5-2.7-5.2-2.7-4.8-4-6.3-2.7-3.6-2.8-3.3-4-4-2.7-2.1-2.8-1.7-4-1.8-2.7-.6-2.7-.2-2.7.3-2.7.6-2.6 1.1-2.7 1.5M421.5 404.6l11-16.7M609.4 416.6l-4.9-20.3-5-18.7-5.1-17.2-3.9-11.8-5.3-14.4-3.9-9.6-4-8.8-2.7-5.2-2.7-4.9-4.1-6.5-2.7-3.7-2.7-3.4-4.1-4.1-2.7-2.3-2.7-1.8-4-1.9-2.7-.8-2.7-.3-2.7.2-2.7.5-2.7.9-2.6 1.4M417.7 412.7l9.4-14.6 9.4-13.8M614.6 416.4l-4.9-20.4-5-18.9-5-17.3-3.9-12-5.2-14.5-4-9.8-4-8.9-2.6-5.4-2.7-5-4-6.6-2.7-3.9-2.8-3.4-4-4.3-2.7-2.4-2.7-1.9-4.1-2.1-2.7-.8-2.7-.5-2.7 0-2.7.5-2.7.8-2.6 1.3M414.2 421.8l7.6-12.2 6.2-9.6 6.2-9.2 7.8-11" fill="none" stroke="#0a0a0a" stroke-width="0.75" stroke-linejoin="round" stroke-linecap="round"/>
<circle cx="507.7" cy="352.9" r="3.1" fill="#c63e3a" opacity="1"/><circle cx="453.7" cy="364.3" r="3.1" fill="#c63e3a" opacity="1"/><path d="M565.4 315.8L565.4 338" stroke="#4a5478" stroke-width="0.9" stroke-dasharray="1 1.1" fill="none" opacity="0.35"/><circle cx="565.4" cy="315.8" r="3.1" fill="#c63e3a" opacity="0.35"/><circle cx="565.4" cy="338.5" r="1.8" fill="#c63e3a" opacity="0.45"/>
<text transform="matrix(1.000 -0.417 -0.200 1.000 404.8 419)" font-size="10.3" text-anchor="end">-20</text><text transform="matrix(1.000 -0.417 -0.200 1.000 404.2 405.4)" font-size="10.3" text-anchor="end">0</text><text transform="matrix(1.000 -0.417 -0.200 1.000 403.5 391.7)" font-size="10.3" text-anchor="end">20</text><text transform="matrix(1.000 -0.417 -0.200 1.000 402.9 377.8)" font-size="10.3" text-anchor="end">40</text><text transform="matrix(1.000 -0.417 -0.200 1.000 402.3 363.7)" font-size="10.3" text-anchor="end">60</text><text transform="matrix(1.000 -0.417 -0.200 1.000 401.6 349.4)" font-size="10.3" text-anchor="end">80</text><text transform="matrix(1.000 -0.417 -0.200 1.000 401 335)" font-size="10.3" text-anchor="end">100</text><text transform="matrix(1.000 -0.417 -0.200 1.000 400.3 320.4)" font-size="10.3" text-anchor="end">120</text><text transform="matrix(1.000 -0.417 -0.200 1.000 399.6 305.5)" font-size="10.3" text-anchor="end">140</text><text transform="matrix(0.823 -0.411 0.741 0.545 497.1 494)" font-size="10.3" text-anchor="end">0</text><text transform="matrix(0.823 -0.411 0.741 0.545 487.6 487)" font-size="10.3" text-anchor="end">2</text><text transform="matrix(0.823 -0.411 0.741 0.545 478.3 480.1)" font-size="10.3" text-anchor="end">4</text><text transform="matrix(0.823 -0.411 0.741 0.545 469 473.3)" font-size="10.3" text-anchor="end">6</text><text transform="matrix(0.823 -0.411 0.741 0.545 459.9 466.6)" font-size="10.3" text-anchor="end">8</text><text transform="matrix(0.823 -0.411 0.741 0.545 450.9 460)" font-size="10.3" text-anchor="end">10</text><text transform="matrix(0.823 -0.411 0.741 0.545 442.1 453.5)" font-size="10.3" text-anchor="end">12</text><text transform="matrix(0.823 -0.411 0.741 0.545 433.3 447.1)" font-size="10.3" text-anchor="end">14</text><text transform="matrix(0.823 -0.411 0.741 0.545 424.7 440.7)" font-size="10.3" text-anchor="end">16</text><text transform="matrix(0.823 -0.411 0.741 0.545 416.2 434.4)" font-size="10.3" text-anchor="end">18</text><text transform="matrix(0.823 -0.411 0.741 0.545 407.8 428.3)" font-size="10.3" text-anchor="end">20</text><text transform="matrix(0.741 0.545 -0.823 0.411 507.3 494.1)" font-size="10.3" text-anchor="start">0.0</text><text transform="matrix(0.741 0.545 -0.823 0.411 521.8 486.8)" font-size="10.3" text-anchor="start">0.5</text><text transform="matrix(0.741 0.545 -0.823 0.411 536.1 479.7)" font-size="10.3" text-anchor="start">1.0</text><text transform="matrix(0.741 0.545 -0.823 0.411 550.2 472.7)" font-size="10.3" text-anchor="start">1.5</text><text transform="matrix(0.741 0.545 -0.823 0.411 564.1 465.7)" font-size="10.3" text-anchor="start">2.0</text><text transform="matrix(0.741 0.545 -0.823 0.411 577.8 458.9)" font-size="10.3" text-anchor="start">2.5</text><text transform="matrix(0.741 0.545 -0.823 0.411 591.3 452.2)" font-size="10.3" text-anchor="start">3.0</text><text transform="matrix(0.741 0.545 -0.823 0.411 604.6 445.5)" font-size="10.3" text-anchor="start">3.5</text><text transform="matrix(0.741 0.545 -0.823 0.411 617.7 439)" font-size="10.3" text-anchor="start">4.0</text><path d="M414.1 421.8L408.3 296.9M413.6 411.1l-3.7 1.5M413.4 408.4l-2 0.8M413.3 405.7l-2 0.8M413.2 403l-2 0.8M413.1 400.3l-2 0.8M412.9 397.6l-3.7 1.5M412.8 394.8l-2 0.8M412.7 392.1l-2 0.8M412.6 389.3l-2 0.8M412.4 386.6l-2 0.8M412.3 383.8l-3.7 1.5M412.2 381.1l-2 0.8M412.1 378.3l-2 0.8M411.9 375.5l-2 0.8M411.8 372.7l-2 0.8M411.7 369.9l-3.7 1.5M411.6 367.1l-2 0.8M411.4 364.3l-2 0.8M411.3 361.5l-2 0.8M411.2 358.7l-2 0.8M411 355.8l-3.7 1.5M410.9 353l-2 0.8M410.8 350.2l-2 0.8M410.6 347.3l-2 0.8M410.5 344.4l-2 0.8M410.4 341.6l-3.7 1.5M410.3 338.7l-2 0.8M410.1 335.8l-2 0.8M410 332.9l-2 0.8M409.9 330l-2 0.8M409.7 327.1l-3.7 1.5M409.6 324.2l-2 0.8M409.5 321.3l-2 0.8M409.3 318.4l-2 0.8M409.2 315.5l-2 0.8M409.1 312.5l-3.7 1.5M408.9 309.6l-2 0.8M408.8 306.6l-2 0.8M408.6 303.6l-2 0.8M408.5 300.7l-2 0.8M408.4 297.7l-3.7 1.5M413.7 413.8l-2 0.8M413.8 416.5l-2 0.8M413.9 419.2l-2 0.8M414.1 421.8l-2 0.8M414.1 421.8L503.4 487.6M503.4 487.6L613.8 432.5M503.4 487.6l-3.6 1.8M498.7 484.1l-2 1M493.9 480.6l-3.6 1.8M489.2 477.1l-2 1M484.6 473.7l-3.6 1.8M479.9 470.3l-2 1M475.3 466.9l-3.6 1.8M470.7 463.5l-2 1M466.2 460.2l-3.6 1.8M461.7 456.9l-2 1M457.2 453.6l-3.6 1.8M452.8 450.3l-2 1M448.4 447.1l-3.6 1.8M444 443.8l-2 1M439.6 440.6l-3.6 1.8M435.3 437.4l-2 1M431 434.3l-3.6 1.8M426.7 431.1l-2 1M422.5 428l-3.6 1.8M418.2 424.9l-2 1M414.1 421.8l-3.6 1.8M503.4 487.6l3.2 2.4M506.3 486.1l1.8 1.3M509.3 484.7l1.8 1.3M512.2 483.2l1.8 1.3M515 481.8l1.8 1.3M517.9 480.3l3.2 2.4M520.8 478.9l1.8 1.3M523.7 477.5l1.8 1.3M526.5 476l1.8 1.3M529.4 474.6l1.8 1.3M532.2 473.2l3.2 2.4M535.1 471.8l1.8 1.3M537.9 470.4l1.8 1.3M540.7 469l1.8 1.3M543.5 467.6l1.8 1.3M546.3 466.2l3.2 2.4M549.1 464.8l1.8 1.3M551.9 463.4l1.8 1.3M554.7 462l1.8 1.3M557.4 460.6l1.8 1.3M560.2 459.2l3.2 2.4M562.9 457.9l1.8 1.3M565.7 456.5l1.8 1.3M568.4 455.1l1.8 1.3M571.2 453.8l1.8 1.3M573.9 452.4l3.2 2.4M576.6 451l1.8 1.3M579.3 449.7l1.8 1.3M582 448.3l1.8 1.3M584.7 447l1.8 1.3M587.4 445.7l3.2 2.4M590.1 444.3l1.8 1.3M592.7 443l1.8 1.3M595.4 441.7l1.8 1.3M598 440.3l1.8 1.3M600.7 439l3.2 2.4M603.3 437.7l1.8 1.3M606 436.4l1.8 1.3M608.6 435.1l1.8 1.3M611.2 433.8l1.8 1.3M613.8 432.5l3.2 2.4" stroke="#000" stroke-width="0.9" fill="none"/><text transform="translate(360 377.5) rotate(85)" font-size="11.4" text-anchor="middle" style="" fill="#000">L-asparaginase production</text><text transform="translate(345 387.5) rotate(85)" font-size="11.4" text-anchor="middle" style="" fill="#000">(U/gds)</text><text transform="translate(416.8 476.5) rotate(37.5)" font-size="10.4" text-anchor="middle" style="font-style:italic;" fill="#000">L-asparagine (g/L)</text><text transform="translate(597.5 489) rotate(-25.5)" font-size="11.2" text-anchor="middle" style="" fill="#000">Dextrose (g/L)</text>
<rect x="625.3" y="314.6" width="16.2" height="9.2" fill="#ff0000" stroke="#222" stroke-width="0.9"/><text transform="translate(645.8 322.6) rotate(0)" font-size="9.8" text-anchor="start" style="" fill="#000">&gt; 120</text><rect x="625.3" y="326.3" width="16.2" height="9.2" fill="#e83038" stroke="#222" stroke-width="0.9"/><text transform="translate(645.8 334.3) rotate(0)" font-size="9.8" text-anchor="start" style="" fill="#000">&lt; 120</text><rect x="625.3" y="338.1" width="16.2" height="9.2" fill="#b0a0a8" stroke="#222" stroke-width="0.9"/><text transform="translate(645.8 346.1) rotate(0)" font-size="9.8" text-anchor="start" style="" fill="#000">&lt; 100</text><rect x="625.3" y="349.8" width="16.2" height="9.2" fill="#e0e040" stroke="#222" stroke-width="0.9"/><text transform="translate(645.8 357.8) rotate(0)" font-size="9.8" text-anchor="start" style="" fill="#000">&lt; 80</text><rect x="625.3" y="361.5" width="16.2" height="9.2" fill="#ffd000" stroke="#222" stroke-width="0.9"/><text transform="translate(645.8 369.5) rotate(0)" font-size="9.8" text-anchor="start" style="" fill="#000">&lt; 60</text><rect x="625.3" y="373.2" width="16.2" height="9.2" fill="#ff8c10" stroke="#222" stroke-width="0.9"/><text transform="translate(645.8 381.2) rotate(0)" font-size="9.8" text-anchor="start" style="" fill="#000">&lt; 40</text><rect x="625.3" y="385" width="16.2" height="9.2" fill="#50e0b0" stroke="#222" stroke-width="0.9"/><text transform="translate(645.8 393) rotate(0)" font-size="9.8" text-anchor="start" style="" fill="#000">&lt; 20</text><rect x="625.3" y="396.7" width="16.2" height="9.2" fill="#10d0d8" stroke="#222" stroke-width="0.9"/><text transform="translate(645.8 404.7) rotate(0)" font-size="9.8" text-anchor="start" style="" fill="#000">&lt; 0</text><rect x="625.3" y="408.4" width="16.2" height="9.2" fill="#007898" stroke="#222" stroke-width="0.9"/><text transform="translate(645.8 416.4) rotate(0)" font-size="9.8" text-anchor="start" style="" fill="#000">&lt; -20</text>
</g>
<g>
<path d="M75 671L69.1 547.7M89.2 664.6L84.2 541.8M103.3 658.3L99.1 536.1M117.1 652.1L113.8 530.4M130.8 646L128.3 524.9M144.3 639.9L142.5 519.4M157.6 634L156.6 513.9M170.7 628.1L170.4 508.6M183.6 622.3L184.1 503.3M275.9 681.5L281.9 557.4M265 674.6L270.4 551M254.3 667.7L259 544.7M243.7 660.9L247.8 538.5M233.3 654.2L236.7 532.4M223.1 647.7L225.9 526.4M213 641.2L215.2 520.5M203 634.8L204.6 514.7M193.2 628.5L194.3 509M183.6 622.3L184.1 503.3M74.4 657.9L183.6 609.7M183.6 609.7L276.5 668.5M73.6 642.9L183.7 595.1M183.7 595.1L277.3 653.3M72.9 627.6L183.8 580.4M183.8 580.4L278 637.9M72.2 612.1L183.8 565.4M183.8 565.4L278.8 622.3M71.4 596.3L183.9 550.2M183.9 550.2L279.6 606.4M70.6 580.3L183.9 534.8M183.9 534.8L280.3 590.3M69.9 564.1L184 519.2M184 519.2L281.1 574M69.1 547.7L184.1 503.3M184.1 503.3L281.9 557.4" stroke="#a8a8a8" stroke-width="0.6" stroke-dasharray="1 1" fill="none"/><path d="M69.1 547.7L184.1 503.3M184.1 503.3L281.9 557.4M183.6 622.3L184.1 503.3M275.9 681.5L281.9 557.4M75 671L183.6 622.3M183.6 622.3L275.9 681.5" stroke="#aaa" stroke-width="0.6" stroke-dasharray="1 1" fill="none"/>
<clipPath id="fcE"><path d="M164.9 737.4L275.9 681.5L183.6 622.3L75 671z"/></clipPath><g clip-path="url(#fcE)"><path d="M164.9 737.4L275.9 681.5L183.6 622.3L75 671z" fill="#07c2cf"/><path d="M78.8 724.1l-6.4-8.8-1-10.4 4.4-11.7 9.3-12.3 13.6-12.5 17.3-12.1 20.2-11.3 22.3-10.2 23.5-8.7 24-7 23.5-5.1 22.5-3.1 20.7-1 18.3 1.1 15.2 3.2 11.8 5.2 7.8 7.1 3.5 8.8-1.1 10.3-5.7 11.3-10.4 12.2-14.9 12.4-18.9 12.3-22.3 11.6-24.9 10.5-26.4 8.7-26.9 6.5-26 4-23.9 1.4-20.8-1.5-16.6-4.2z" fill="#06d2db"/><path d="M80.1 723.6l-6.3-8.7-1-10.4 4.3-11.6 9.2-12.1 13.5-12.4 17.1-12 20-11.2 22.1-10 23.2-8.7 23.7-6.9 23.4-5.1 22.3-3.1 20.5-.9 18.1 1.1 15.1 3.1 11.6 5.2 7.8 7 3.4 8.8-1.1 10.1-5.7 11.3-10.3 12-14.7 12.3-18.7 12.2-22.1 11.5-24.7 10.3-26.1 8.6-26.6 6.4-25.7 4-23.7 1.3-20.5-1.4-16.5-4.1z" fill="#03dde4"/><path d="M81.5 723l-6.3-8.6-1-10.3 4.2-11.4 9.1-12.1 13.3-12.2 17-11.8 19.8-11.1 21.8-10 23.1-8.6 23.4-6.9 23.2-5 22-3 20.3-1 18 1.1 14.9 3.1 11.6 5.2 7.6 6.9 3.4 8.7-1 10-5.7 11.2-10.2 11.9-14.6 12.2-18.6 12-21.8 11.4-24.4 10.2-25.9 8.5-26.3 6.4-25.5 3.9-23.4 1.3-20.3-1.4-16.2-4.1z" fill="#01e8eb"/><path d="M82.8 722.4l-6.2-8.5-1-10.2 4.2-11.3 8.9-11.9 13.2-12.1 16.8-11.7 19.5-11 21.7-9.9 22.8-8.5 23.2-6.8 22.9-5 21.9-3 20.1-.9 17.8 1 14.8 3.2 11.4 5 7.6 6.9 3.3 8.6-1.1 9.9-5.6 11.1-10.1 11.8-14.5 12.1-18.3 11.9-21.7 11.2-24.1 10.1-25.6 8.4-26 6.3-25.2 3.9-23.2 1.3-20-1.4-16.1-4.1z" fill="#0be7e5"/><path d="M84.2 721.8l-6.2-8.4-1-10 4.1-11.2 8.8-11.8 13.1-12 16.6-11.6 19.3-10.9 21.4-9.8 22.6-8.3 23-6.8 22.7-4.9 21.6-3 20-1 17.5 1.1 14.7 3.1 11.3 5 7.5 6.9 3.3 8.4-1.1 9.9-5.6 10.9-10 11.7-14.3 11.9-18.2 11.8-21.4 11.1-23.9 10-25.3 8.3-25.7 6.2-24.9 3.9-22.9 1.3-19.9-1.4-15.9-4z" fill="#16e5de"/><path d="M85.6 721.2l-6.2-8.3-1-9.9 4.1-11.1 8.7-11.6 12.9-11.9 16.4-11.5 19.1-10.7 21.2-9.7 22.3-8.3 22.8-6.7 22.5-4.9 21.4-3 19.7-.9 17.4 1.1 14.5 3 11.2 5 7.4 6.8 3.3 8.4-1.1 9.7-5.5 10.8-10 11.6-14.2 11.8-18 11.6-21.1 11-23.6 9.9-25.1 8.2-25.4 6.2-24.6 3.8-22.7 1.2-19.6-1.4-15.7-3.9z" fill="#20e4d8"/><path d="M86.9 720.6l-6-8.2-1-9.8 3.9-10.9 8.6-11.6 12.8-11.7 16.2-11.3 18.9-10.7 21-9.6 22.1-8.2 22.5-6.6 22.2-4.9 21.2-2.9 19.6-.9 17.2 1 14.4 3 11 5 7.3 6.7 3.2 8.3-1 9.6-5.5 10.8-9.9 11.4-14 11.7-17.8 11.5-21 10.8-23.3 9.8-24.8 8.1-25.1 6.1-24.3 3.7-22.4 1.3-19.4-1.4-15.6-3.9z" fill="#35e2c6"/><path d="M88.3 720l-6-8.1-1-9.7 3.9-10.8 8.5-11.4 12.6-11.6 16-11.2 18.7-10.6 20.7-9.4 21.9-8.2 22.3-6.5 22-4.8 21-2.9 19.3-1 17 1.1 14.3 3 10.9 4.9 7.2 6.6 3.2 8.2-1.1 9.6-5.5 10.6-9.7 11.3-13.9 11.5-17.6 11.4-20.7 10.7-23.1 9.6-24.5 8.1-24.8 6-24 3.7-22.1 1.2-19.2-1.3-15.4-3.9z" fill="#4be0b4"/><path d="M89.7 719.4l-5.9-8-1-9.6 3.8-10.7 8.4-11.2 12.4-11.4 15.8-11.2 18.6-10.4 20.4-9.4 21.6-8 22.1-6.5 21.8-4.8 20.7-2.8 19.1-1 16.9 1.1 14 2.9 10.8 4.9 7.2 6.5 3.1 8.2-1.1 9.4-5.4 10.5-9.7 11.2-13.7 11.4-17.4 11.2-20.5 10.6-22.8 9.5-24.2 7.9-24.5 6-23.7 3.6-21.9 1.2-18.9-1.3-15.2-3.8z" fill="#6bd194"/><path d="M91.2 718.7l-5.9-7.9-1-9.4 3.8-10.5 8.2-11.2 12.3-11.2 15.6-11 18.3-10.4 20.2-9.2 21.4-8 21.8-6.4 21.5-4.7 20.5-2.8 18.9-1 16.7 1.1 13.9 2.9 10.7 4.8 7 6.5 3.1 8-1.1 9.4-5.3 10.3-9.6 11.1-13.6 11.2-17.2 11.2-20.3 10.4-22.5 9.4-23.9 7.8-24.2 5.9-23.4 3.6-21.6 1.2-18.7-1.3-15-3.8z" fill="#8dbd71"/><path d="M92.6 718.1l-5.8-7.8-1-9.3 3.7-10.4 8.1-11 12.1-11.1 15.4-10.9 18.1-10.2 20-9.2 21.1-7.9 21.6-6.3 21.3-4.6 20.3-2.9 18.6-.9 16.5 1 13.8 3 10.5 4.7 7 6.4 3 8-1.1 9.2-5.3 10.3-9.5 10.8-13.4 11.2-17 11-20 10.3-22.3 9.3-23.6 7.7-23.9 5.8-23.1 3.5-21.3 1.2-18.5-1.3-14.8-3.7z" fill="#aaab52"/><path d="M94.1 717.5l-5.8-7.7-1-9.2 3.7-10.3 8-10.8 11.9-11 15.2-10.8 17.9-10 19.7-9.1 20.9-7.8 21.3-6.3 21-4.6 20.1-2.7 18.4-1 16.3 1.1 13.6 2.8 10.4 4.7 6.9 6.4 3 7.8-1.1 9.2-5.3 10.1-9.3 10.7-13.3 11.1-16.8 10.8-19.8 10.2-22 9.1-23.3 7.6-23.5 5.7-22.9 3.6-21 1.1-18.2-1.3-14.6-3.6z" fill="#bd9a3b"/><path d="M95.6 716.8l-5.8-7.6-1-9 3.6-10.1 7.9-10.8 11.8-10.8 15-10.6 17.6-10 19.5-9 20.6-7.7 21.1-6.2 20.8-4.5 19.8-2.7 18.2-.9 16.1 1 13.4 2.8 10.3 4.6 6.8 6.3 2.9 7.8-1 9-5.3 10-9.2 10.6-13.2 10.9-16.6 10.7-19.5 10.1-21.7 9-22.9 7.5-23.3 5.6-22.5 3.5-20.8 1.1-18-1.3-14.4-3.5z" fill="#de9225"/><path d="M97 716.2l-5.6-7.5-1-9 3.5-9.9 7.8-10.6 11.6-10.7 14.8-10.5 17.4-9.8 19.2-8.9 20.4-7.6 20.8-6.1 20.5-4.5 19.6-2.7 18-.9 15.9 1 13.3 2.8 10.1 4.6 6.7 6.2 2.9 7.7-1.1 8.9-5.2 9.8-9.1 10.5-13 10.8-16.4 10.5-19.3 10-21.4 8.8-22.6 7.4-23 5.6-22.2 3.4-20.5 1.1-17.7-1.2-14.2-3.6z" fill="#ff8c10"/><path d="M98.6 715.5l-5.6-7.4-1-8.8 3.4-9.8 7.7-10.4 11.4-10.6 14.6-10.4 17.2-9.7 18.9-8.7 20.1-7.5 20.6-6.1 20.2-4.4 19.4-2.7 17.8-.9 15.7 1 13 2.8 10.1 4.5 6.6 6.1 2.8 7.6-1.1 8.8-5.1 9.8-9.1 10.3-12.8 10.6-16.2 10.4-19 9.8-21.1 8.8-22.3 7.2-22.7 5.5-21.9 3.4-20.1 1.1-17.5-1.2-14.1-3.5z" fill="#ff8b10"/><path d="M100.1 714.8l-5.5-7.2-1-8.7 3.4-9.7 7.5-10.3 11.2-10.4 14.4-10.2 16.9-9.6 18.8-8.6 19.8-7.4 20.3-6 20-4.4 19-2.6 17.6-.9 15.5.9 12.9 2.8 9.9 4.5 6.5 6 2.8 7.5-1.1 8.7-5 9.6-9 10.2-12.6 10.5-16 10.2-18.8 9.7-20.8 8.6-22 7.2-22.3 5.4-21.6 3.3-19.9 1.1-17.2-1.2-13.9-3.5z" fill="#ff8c0f"/><path d="M101.6 714.2l-5.4-7.2-1-8.5 3.3-9.6 7.4-10.1 11.1-10.3 14.2-10.1 16.6-9.4 18.5-8.5 19.6-7.4 20-5.9 19.7-4.3 18.8-2.6 17.4-.8 15.3.9 12.7 2.7 9.7 4.4 6.4 6 2.8 7.4-1.1 8.6-5 9.5-8.9 10-12.4 10.3-15.8 10.1-18.5 9.5-20.5 8.5-21.7 7.1-22 5.3-21.3 3.3-19.5 1-17-1.2-13.7-3.3z" fill="#ff970d"/><path d="M103.2 713.5l-5.4-7.1-1-8.4 3.3-9.4 7.3-10 10.9-10.1 13.9-9.9 16.4-9.3 18.2-8.4 19.3-7.3 19.7-5.8 19.5-4.3 18.6-2.5 17.1-.9 15.1 1 12.5 2.6 9.7 4.4 6.2 5.9 2.7 7.3-1 8.4-5 9.4-8.7 9.9-12.3 10.2-15.6 9.9-18.2 9.4-20.2 8.3-21.4 7-21.7 5.2-20.9 3.2-19.3 1.1-16.7-1.2-13.4-3.3z" fill="#ffa20b"/><path d="M104.8 712.8l-5.3-6.9-1-8.3 3.2-9.3 7.1-9.8 10.8-10 13.7-9.8 16.2-9.2 17.9-8.2 19-7.2 19.4-5.7 19.2-4.2 18.3-2.6 16.9-.8 14.9.9 12.4 2.7 9.4 4.3 6.2 5.8 2.7 7.2-1.1 8.3-4.9 9.2-8.6 9.8-12.2 10-15.3 9.8-17.9 9.2-19.9 8.3-21.1 6.8-21.3 5.1-20.6 3.2-19 1-16.4-1.1-13.3-3.3z" fill="#ffac08"/><path d="M106.4 712.1l-5.2-6.8-1-8.2 3.1-9.1 7-9.7 10.6-9.8 13.5-9.6 15.9-9.1 17.7-8.1 18.7-7.1 19.1-5.6 18.9-4.2 18.1-2.5 16.6-.8 14.7.9 12.2 2.6 9.3 4.2 6.1 5.8 2.6 7.1-1.1 8.2-4.8 9.1-8.5 9.6-12 9.9-15.1 9.6-17.7 9.1-19.6 8.1-20.7 6.7-21 5-20.2 3.1-18.7 1.1-16.2-1.2-13-3.2z" fill="#ffb706"/><path d="M108 711.4l-5.1-6.7-1-8 3-9 6.9-9.5 10.4-9.7 13.3-9.5 15.7-8.9 17.3-8 18.5-6.9 18.8-5.6 18.7-4.1 17.7-2.5 16.4-.8 14.4.9 12.1 2.6 9.1 4.1 6 5.7 2.6 7-1.1 8.1-4.8 8.9-8.4 9.5-11.8 9.7-14.8 9.5-17.4 8.9-19.3 8-20.4 6.6-20.6 4.9-19.9 3.1-18.4 1-15.9-1.1-12.8-3.2z" fill="#ffc203"/><path d="M109.7 710.6l-5.1-6.5-1-7.9 3-8.8 6.8-9.4 10.1-9.5 13.1-9.3 15.4-8.8 17.1-7.9 18.2-6.8 18.5-5.5 18.4-4 17.5-2.5 16.1-.8 14.2.9 11.8 2.5 9.1 4.1 5.8 5.6 2.5 6.9-1 8-4.7 8.8-8.3 9.3-11.6 9.5-14.7 9.4-17.1 8.7-18.9 7.8-20.1 6.5-20.2 4.9-19.6 3-18.1 1-15.6-1.1-12.6-3.1z" fill="#ffcd01"/><path d="M111.4 709.9l-5-6.5-1-7.7 2.9-8.6 6.6-9.2 10-9.4 12.9-9.2 15.1-8.6 16.8-7.8 17.9-6.7 18.2-5.4 18.1-4 17.2-2.4 15.9-.7 13.9.8 11.7 2.5 8.8 4.1 5.8 5.5 2.5 6.7-1.1 7.9-4.6 8.6-8.2 9.2-11.4 9.4-14.4 9.1-16.8 8.6-18.7 7.7-19.7 6.4-19.9 4.8-19.2 2.9-17.7 1-15.4-1.1-12.4-3z" fill="#ffd700"/><path d="M113.1 709.1l-5-6.3-1-7.6 2.9-8.5 6.5-9 9.8-9.2 12.6-9 14.9-8.5 16.5-7.6 17.6-6.6 17.9-5.4 17.7-3.9 17-2.3 15.6-.8 13.7.9 11.5 2.4 8.7 4 5.7 5.4 2.4 6.7-1.1 7.7-4.6 8.5-8 9-11.2 9.2-14.2 9-16.5 8.5-18.3 7.5-19.4 6.2-19.5 4.7-18.9 2.9-17.4 1-15.1-1.1-12.1-3z" fill="#ffe600"/><path d="M114.8 708.4l-4.8-6.2-1-7.5 2.8-8.3 6.3-8.9 9.6-9 12.4-8.8 14.6-8.4 16.2-7.5 17.3-6.5 17.6-5.2 17.4-3.9 16.7-2.3 15.3-.7 13.5.8 11.3 2.4 8.5 3.9 5.6 5.3 2.4 6.6-1.1 7.6-4.5 8.3-7.9 8.9-11.1 9-13.9 8.9-16.2 8.3-18 7.3-18.9 6.2-19.2 4.6-18.5 2.8-17.1.9-14.8-1-12-2.9z" fill="#fff700"/><path d="M116.6 707.6l-4.8-6.1-1-7.3 2.7-8.1 6.3-8.7 9.4-8.9 12.1-8.7 14.3-8.1 15.9-7.4 17-6.4 17.3-5.2 17.1-3.7 16.4-2.3 15-.8 13.3.9 11 2.3 8.5 3.9 5.4 5.2 2.3 6.4-1.1 7.5-4.4 8.2-7.8 8.7-10.8 8.8-13.7 8.7-15.9 8.2-17.6 7.2-18.6 6-18.8 4.5-18.2 2.8-16.7.9-14.5-1-11.7-2.9z" fill="#fdfd04"/><path d="M118.4 706.8l-4.7-5.9-1-7.2 2.7-8 6.1-8.5 9.2-8.7 11.8-8.5 14.1-8 15.6-7.3 16.6-6.2 17-5.1 16.8-3.7 16-2.2 14.8-.8 13.1.8 10.8 2.4 8.2 3.8 5.4 5.1 2.2 6.3-1 7.3-4.4 8.1-7.6 8.5-10.7 8.7-13.4 8.5-15.6 7.9-17.3 7.1-18.2 5.9-18.4 4.4-17.8 2.7-16.4.9-14.2-1-11.5-2.8z" fill="#fafa0b"/><path d="M120.2 706l-4.6-5.8-1-7 2.6-7.8 6-8.4 9-8.5 11.6-8.3 13.7-7.9 15.3-7.1 16.3-6.1 16.7-5 16.5-3.6 15.7-2.2 14.5-.8 12.8.8 10.6 2.3 8.1 3.7 5.2 5.1 2.2 6.2-1.1 7.1-4.3 7.9-7.5 8.4-10.4 8.5-13.1 8.3-15.3 7.8-17 6.9-17.8 5.8-18 4.3-17.5 2.7-16 .8-13.9-.9-11.2-2.8z" fill="#f7f713"/><path d="M122.1 705.2l-4.5-5.7-1-6.8 2.5-7.7 5.8-8.1 8.8-8.4 11.4-8.1 13.4-7.7 15-7 15.9-6 16.4-4.9 16.1-3.6 15.4-2.1 14.3-.7 12.5.8 10.4 2.2 7.9 3.6 5.1 5 2.1 6-1 7.1-4.3 7.7-7.3 8.2-10.3 8.3-12.8 8.1-15 7.7-16.5 6.7-17.5 5.7-17.6 4.2-17.1 2.6-15.6.8-13.7-.9-10.9-2.7z" fill="#f0f023"/><path d="M124 704.4l-4.4-5.6-1-6.7 2.4-7.4 5.7-8 8.6-8.2 11.1-8 13.1-7.5 14.7-6.8 15.6-5.9 16-4.8 15.8-3.5 15.1-2.1 13.9-.7 12.2.8 10.2 2.2 7.7 3.5 5.1 4.9 2 5.9-1 6.9-4.2 7.6-7.2 8-10 8.1-12.6 8-14.6 7.4-16.2 6.6-17.1 5.5-17.2 4.1-16.7 2.6-15.3.8-13.3-.9-10.7-2.6z" fill="#e9e936"/><path d="M125.9 703.5l-4.3-5.4-1-6.5 2.4-7.3 5.5-7.8 8.4-8 10.8-7.8 12.9-7.3 14.3-6.7 15.2-5.8 15.6-4.6 15.5-3.5 14.8-2 13.6-.7 12 .7 9.9 2.2 7.6 3.5 4.9 4.7 2 5.8-1.1 6.7-4 7.4-7.1 7.9-9.8 7.9-12.3 7.8-14.3 7.3-15.8 6.4-16.7 5.4-16.8 4-16.2 2.5-15 .8-13-.9-10.4-2.6z" fill="#dede4d"/><path d="M127.9 702.7l-4.2-5.3-1-6.4 2.3-7.1 5.4-7.6 8.2-7.8 10.5-7.6 12.5-7.2 14-6.5 14.9-5.6 15.2-4.6 15.1-3.3 14.5-2.1 13.3-.6 11.7.7 9.7 2.1 7.4 3.4 4.7 4.6 2 5.7-1.1 6.6-3.9 7.2-6.9 7.7-9.6 7.7-12 7.6-14 7.1-15.4 6.3-16.3 5.2-16.4 3.9-15.8 2.4-14.5.8-12.7-.9-10.2-2.5z" fill="#dada58"/><path d="M129.9 701.8l-4.1-5.2-.9-6.2 2.2-6.9 5.2-7.4 7.9-7.5 10.3-7.5 12.2-7 13.6-6.4 14.5-5.5 14.9-4.4 14.8-3.3 14.1-2 12.9-.6 11.4.7 9.5 2.1 7.2 3.3 4.6 4.5 1.9 5.6-1 6.4-3.9 7-6.7 7.5-9.4 7.5-11.7 7.4-13.6 6.9-15 6.1-15.9 5.1-15.9 3.8-15.4 2.3-14.2.8-12.3-.8-10-2.5z" fill="#d5d563"/><path d="M132 700.9l-4-5-.9-6 2.1-6.8 5.1-7.2 7.7-7.3 10-7.3 11.8-6.8 13.3-6.2 14.1-5.4 14.5-4.3 14.4-3.2 13.7-1.9 12.6-.7 11.2.7 9.2 2 7 3.3 4.5 4.4 1.8 5.4-1 6.2-3.8 6.9-6.6 7.2-9.1 7.4-11.4 7.2-13.3 6.7-14.6 6-15.4 4.9-15.5 3.7-14.9 2.2-13.8.8-12-.8-9.7-2.4z" fill="#cdcd74"/><path d="M134.2 699.9l-4-4.8-.9-5.9 2.1-6.5 4.9-7 7.5-7.1 9.7-7.1 11.5-6.6 12.9-6 13.7-5.3 14.1-4.2 14-3.1 13.3-1.9 12.3-.6 10.9.7 8.9 1.9 6.8 3.2 4.4 4.3 1.7 5.3-.9 6-3.8 6.7-6.3 7-8.9 7.2-11.1 7-12.9 6.5-14.2 5.8-14.9 4.7-15.1 3.6-14.5 2.2-13.4.7-11.7-.8-9.4-2.2z" fill="#c4c485"/><path d="M136.3 699l-3.8-4.7-.9-5.7 2-6.3 4.8-6.8 7.2-6.9 9.4-6.9 11.2-6.4 12.5-5.9 13.3-5 13.7-4.1 13.6-3.1 12.9-1.8 12-.6 10.5.7 8.7 1.9 6.6 3.1 4.2 4.1 1.7 5.1-.9 5.9-3.7 6.5-6.2 6.8-8.6 7-10.8 6.7-12.5 6.3-13.7 5.6-14.5 4.7-14.6 3.4-14.1 2.2-13 .7-11.2-.8-9.2-2.2z" fill="#bcbc97"/><path d="M138.6 698l-3.7-4.6-.9-5.4 1.9-6.2 4.6-6.5 7-6.7 9.1-6.6 10.8-6.3 12.1-5.7 12.9-4.9 13.3-4 13.1-2.9 12.6-1.8 11.6-.5 10.2.6 8.4 1.8 6.4 3 4.1 4.1 1.6 4.9-.9 5.7-3.5 6.3-6.1 6.6-8.4 6.7-10.4 6.6-12.1 6.1-13.3 5.4-14 4.5-14.1 3.3-13.6 2.1-12.6.6-10.9-.7-8.8-2.1z" fill="#b3b3a9"/><path d="M140.9 696.9l-3.5-4.3-.9-5.3 1.8-5.9 4.4-6.3 6.8-6.5 8.7-6.4 10.5-6.1 11.7-5.4 12.4-4.8 12.9-3.9 12.7-2.8 12.2-1.7 11.2-.6 9.8.7 8.2 1.7 6.1 2.9 4 3.9 1.6 4.8-1 5.6-3.4 6-5.8 6.4-8.1 6.5-10.1 6.3-11.7 5.9-12.9 5.2-13.5 4.3-13.6 3.3-13.2 2-12 .6-10.6-.7-8.5-2.1z" fill="#b3aaab"/><path d="M143.4 695.9l-3.5-4.2-.8-5.1 1.7-5.7 4.2-6.1 6.5-6.2 8.4-6.2 10.1-5.8 11.3-5.3 12-4.6 12.4-3.7 12.2-2.7 11.8-1.7 10.8-.5 9.5.6 7.9 1.7 5.9 2.8 3.8 3.7 1.5 4.7-.9 5.3-3.3 5.9-5.7 6.1-7.8 6.3-9.7 6-11.3 5.7-12.4 5-13 4.2-13.1 3.1-12.6 1.9-11.7.6-10.1-.7-8.2-2z" fill="#be9799"/><path d="M145.9 694.8l-3.4-4-.8-4.9 1.7-5.5 4-5.8 6.2-6 8.1-5.9 9.7-5.6 10.8-5.1 11.5-4.4 11.9-3.6 11.9-2.7 11.2-1.6 10.4-.5 9.2.6 7.6 1.7 5.7 2.6 3.6 3.7 1.4 4.4-.8 5.2-3.3 5.6-5.4 5.9-7.5 6-9.4 5.8-10.8 5.5-11.9 4.8-12.5 4-12.5 3-12.2 1.8-11.1.6-9.8-.7-7.8-1.9z" fill="#c68588"/><path d="M148.5 693.7l-3.2-3.9-.8-4.6 1.5-5.3 3.9-5.6 5.9-5.7 7.8-5.7 9.2-5.3 10.3-4.9 11.1-4.3 11.4-3.4 11.4-2.5 10.8-1.6 10-.5 8.7.6 7.3 1.6 5.4 2.6 3.5 3.4 1.4 4.3-.9 4.9-3.1 5.4-5.2 5.7-7.2 5.7-9 5.6-10.3 5.2-11.4 4.6-12 3.8-12 2.9-11.6 1.7-10.6.6-9.3-.7-7.6-1.8z" fill="#ce7378"/><path d="M151.2 692.5l-3.1-3.7-.8-4.4 1.5-5 3.7-5.3 5.6-5.5 7.4-5.4 8.8-5.1 9.9-4.7 10.5-4 10.9-3.3 10.8-2.4 10.4-1.5 9.5-.5 8.4.5 6.9 1.6 5.2 2.4 3.3 3.4 1.3 4-.8 4.7-3 5.2-5 5.4-6.9 5.5-8.5 5.3-9.9 4.9-10.9 4.4-11.3 3.6-11.5 2.7-11 1.7-10.2.5-8.8-.6-7.2-1.7z" fill="#d56167"/><path d="M154 691.2l-2.9-3.4-.7-4.2 1.4-4.7 3.4-5.1 5.3-5.2 7-5.1 8.4-4.9 9.3-4.4 10.1-3.9 10.3-3.1 10.3-2.3 9.8-1.4 9-.4 8 .5 6.6 1.4 4.9 2.4 3.2 3.1 1.2 3.9-.8 4.5-2.9 4.9-4.7 5.1-6.6 5.2-8.1 5-9.4 4.7-10.2 4.2-10.8 3.4-10.9 2.5-10.4 1.6-9.6.5-8.4-.6-6.8-1.6z" fill="#dc4f57"/><path d="M157 689.9l-2.7-3.3-.7-3.9 1.3-4.4 3.2-4.8 5-4.9 6.6-4.8 7.8-4.6 8.9-4.2 9.4-3.6 9.8-3 9.7-2.2 9.3-1.3 8.5-.4 7.5.5 6.2 1.3 4.7 2.3 2.9 2.9 1.2 3.7-.8 4.2-2.7 4.6-4.5 4.9-6.2 4.9-7.6 4.7-8.9 4.4-9.7 3.9-10.1 3.3-10.2 2.4-9.9 1.4-9 .5-7.9-.5-6.4-1.6z" fill="#e13f46"/><path d="M160.2 688.5l-2.5-3-.7-3.7 1.2-4.1 3-4.5 4.6-4.6 6.2-4.5 7.3-4.3 8.3-3.9 8.8-3.4 9.2-2.8 9.1-2 8.7-1.3 8-.4 7 .5 5.8 1.3 4.4 2 2.7 2.8 1.1 3.5-.8 3.9-2.5 4.3-4.2 4.6-5.8 4.5-7.2 4.5-8.3 4.1-9 3.6-9.5 3-9.5 2.3-9.2 1.4-8.5.4-7.3-.5-6-1.4z" fill="#e62f36"/><path d="M163.6 687l-2.3-2.8-.7-3.4 1.1-3.8 2.7-4.1 4.4-4.3 5.6-4.1 6.8-4 7.7-3.7 8.2-3.1 8.5-2.6 8.4-1.9 8.1-1.2 7.4-.3 6.5.4 5.4 1.2 4 1.9 2.6 2.6.9 3.2-.7 3.7-2.3 4-4 4.2-5.3 4.2-6.7 4.1-7.6 3.8-8.4 3.4-8.8 2.7-8.8 2.1-8.5 1.3-7.8.4-6.8-.5-5.5-1.3z" fill="#eb2028"/><path d="M167.3 685.4l-2.1-2.6-.7-3 1-3.5 2.5-3.8 3.9-3.8 5.2-3.9 6.2-3.6 7-3.4 7.5-2.8 7.7-2.4 7.7-1.7 7.4-1.1 6.8-.3 6 .3 4.9 1.1 3.7 1.8 2.3 2.4.9 2.9-.7 3.4-2.1 3.6-3.6 3.9-5 3.8-6 3.8-7 3.4-7.7 3.1-8 2.5-8 1.9-7.7 1.1-7.1.4-6.2-.4-5.1-1.2z" fill="#f20f1b"/><path d="M171.4 683.6l-1.9-2.3-.6-2.7.9-3.1 2.2-3.4 3.5-3.4 4.6-3.5 5.5-3.2 6.3-3 6.7-2.6 6.9-2.1 6.9-1.6 6.6-.9 6.1-.3 5.4.3 4.4 1 3.3 1.6 2.1 2.1.7 2.6-.6 3-1.9 3.3-3.3 3.4-4.4 3.5-5.4 3.3-6.3 3.1-6.8 2.8-7.1 2.2-7.2 1.7-6.9 1-6.3.3-5.6-.3-4.5-1.1z" fill="#f9000f"/><path d="M176 681.6l-1.7-2-.5-2.3.8-2.7 1.9-2.9 3-3 4-3 4.7-2.8 5.5-2.6 5.8-2.3 6-1.8 6-1.4 5.7-.8 5.3-.3 4.7.3 3.8.9 2.9 1.4 1.7 1.8.7 2.3-.6 2.6-1.7 2.9-2.8 2.9-3.8 3-4.7 2.9-5.4 2.7-5.9 2.3-6.2 2-6.2 1.4-6 .9-5.4.3-4.8-.3-3.9-.9z" fill="#ff0000"/><path d="M181.5 679.2l-1.4-1.6-.4-1.9.5-2.2 1.6-2.4 2.4-2.4 3.3-2.4 3.9-2.4 4.4-2.1 4.7-1.8 5-1.5 4.9-1.1 4.7-.7 4.3-.2 3.8.2 3.1.7 2.4 1.1 1.4 1.6.5 1.8-.4 2.2-1.4 2.3-2.3 2.4-3.2 2.5-3.8 2.3-4.4 2.2-4.9 1.9-5 1.6-5 1.1-4.9.8-4.4.2-3.9-.3-3.2-.7z" fill="#ff0000"/><path d="M188.5 676.1l-1-1.1-.3-1.4.4-1.5 1.1-1.7 1.7-1.7 2.3-1.7 2.7-1.7 3.2-1.5 3.3-1.3 3.5-1 3.5-.8 3.4-.5 3-.2 2.7.2 2.2.5 1.7.8 1 1.1.4 1.3-.4 1.5-1 1.7-1.6 1.7-2.2 1.7-2.8 1.7-3.1 1.5-3.4 1.4-3.5 1.1-3.6.8-3.4.5-3.1.2-2.8-.2-2.2-.5z" fill="#ff0000"/></g>
<path d="M181.8 539.5L181.8 556" stroke="#4a5478" stroke-width="0.9" stroke-dasharray="1 1.1" fill="none" opacity="1"/><circle cx="181.8" cy="539.5" r="3.1" fill="#c63e3a" opacity="1"/><path d="M125 584.9L125 598" stroke="#4a5478" stroke-width="0.9" stroke-dasharray="1 1.1" fill="none" opacity="1"/><circle cx="125" cy="584.9" r="3.1" fill="#c63e3a" opacity="1"/><circle cx="125" cy="598.6" r="3.1" fill="#c63e3a" opacity="1"/>
<path d="M99.7 638.8l-5.5 9-3.4 6.9-4.4 11-3.5 11.1 7.2-6.3 7.6-5.9 9.3-6.4 9.2-5.6 6.8-6 6.2-4.8 6.1-4.2 6.2-3.6 4.6-2.4 4.6-2 4.5-1.6 4.6-1.4 4.5-1 4.5-.7 4.5-.3 5.5-.1 5.4-1.8 5.8-18.9 3.9-11.4 2.6-7 4-9.6 2.7-5.8 2.7-5.3 2.8-4.7 4.1-6.2 2.8-3.4 2.8-2.9 2.8-2.3 2.8-1.8 2.8-1.1 2.8-.6 2.8-.1-7.6-.3-7.7.4-7.7 1.2-6.2 1.5-4.6 1.4-4.8 1.8-4.6 1.9-7.8 4-7.9 4.7-7.9 5.4-9.5 7.6-7.9 7.1-7.9 7.9-7.9 8.6-9.5 11.4-7.7 10.2-7.8 10.8z" fill="#dcdcdc"/><path d="M211 542.6l-7.8 1.8-6.2 2-7.8 3.1-6.2 3.1-7.9 4.5-7.9 5.3-4.9 3.7-7.9 6.6-6.2 5.6-7.9 7.9-7.9 8.6-7.8 9.3-7.8 10.1-7.8 10.7-6.5 9.6-6 9.4 2.4-3.3 2.4-2.9 3.7-3.2 2.5-1.5 1.2-.5 2.5-.5 1.3-.1 2.6.3 2.6.9 2.7 1.5 1.3 1 4 3.8 4.1 5.1 4.2 6.6 4.1 7.8 4.2 9.3 4.3 10.5 4.2 11.8 4.2 13.1 4.3 14.4 5.1 19.1 1.9-.3 7.1-11.8 8.3-13 8.4-12 8.3-11.1 6.7-8.2 6.6-7.5 6.6-6.9 6.5-6.2 6.5-5.6 6.5-5 6.4-4.3 7.9-4.5 6.3-2.8 6.2-2.2 6.1-1.6 7.6-1.2-3.7-14.8-3.9-13.6-3.9-12.3-4-11-4-9.6-2.7-5.8-4.1-7.4-4.2-6.1-2.8-3.3-4.2-3.8-2.8-1.8-1.4-.7-2.8-.9-5.9-.5-4.7 0-6.1.4z" fill="#0063a4"/><path d="M211 542.6l-7.8 1.8-6.2 2-7.8 3.1-6.2 3.1-7.9 4.5-7.9 5.3-4.9 3.7-7.9 6.6-6.2 5.6-7.9 7.9-7.9 8.6-7.8 9.3-7.8 10.1-7.8 10.7-6.5 9.6-6 9.4 2.4-3.3 2.4-2.9 3.7-3.2 2.5-1.5 1.2-.5 2.5-.5 1.3-.1 2.6.3 1.3.4 2.6 1.2 1.4.8 4 3.3 4.1 4.8 2.7 3.9 2.8 4.5 4.1 7.8 4.2 9.3 4.3 10.5 4.2 11.8 4.2 13.1 4.3 14.4 4.4 16.1 4.6-.8 8.4-13.6 6.7-10.2 6.7-9.5 6.6-9 6.7-8.3 8.3-9.5 6.6-6.9 8.2-7.7 6.5-5.4 6.4-4.8 6.4-4.2 6.3-3.5 6.3-2.8 6.2-2.2 6.1-1.6 7.6-1.2-3.7-14.8-3.9-13.6-3.9-12.3-4-11-4-9.6-2.7-5.8-4.1-7.4-4.2-6.1-2.8-3.3-4.2-3.8-2.8-1.8-1.4-.7-2.8-.9-5.9-.5-4.7 0-6.1.4z" fill="#007c98"/><path d="M212.3 542.4l-7.5 1.6-7.8 2.4-7.8 3.1-6.2 3.1-7.9 4.5-7.9 5.3-4.9 3.7-7.9 6.6-6.2 5.6-7.9 7.9-7.9 8.6-7.8 9.3-7.8 10.1-7.8 10.7-6.5 9.6-6 9.4 2.4-3.3 2.4-2.9 3.7-3.2 2.5-1.5 1.2-.5 2.5-.5 1.3-.1 2.6.3 1.3.4 2.6 1.2 1.4.8 4 3.3 4.1 4.8 4.1 6 4.1 7.5 4.2 8.7 4.3 10.1 4.2 11.4 4.2 12.7 4.3 14 4.9 17.9 7.7-1.3 7.9-12.6 6.7-10 6.6-9.4 8.4-10.9 6.6-8 6.6-7.4 6.6-6.7 8.2-7.5 6.5-5.3 6.4-4.6 6.4-4 6.3-3.3 6.3-2.7 6.1-2.1 6.1-1.4 6.1-.9-2.5-10-3.8-14-3.9-12.7-3.9-11.4-4-10.2-2.7-6-4.1-7.9-4.2-6.5-2.8-3.6-4.2-4.3-2.8-2.1-1.4-.8-2.8-1.2-2.8-.6-7.6-.3-6.1.2z" fill="#0393aa"/><path d="M212.6 542.3l-7.8 1.7-7.8 2.4-7.8 3.1-6.2 3.1-7.9 4.5-7.9 5.3-4.9 3.7-7.9 6.6-6.2 5.6-7.9 7.9-7.9 8.6-7.8 9.3-7.8 10.1-7.8 10.7-6.5 9.6-6 9.4 2.4-3.3 2.4-2.9 3.7-3.2 2.5-1.5 1.2-.5 2.5-.5 1.3-.1 2.6.3 1.3.4 2.6 1.2 1.4.8 4 3.3 4.1 4.8 4.1 6 4.1 7.5 4.2 8.7 4.3 10.1 4.2 11.4 4.2 12.7 4.3 14 4.1 14.9 10.7-1.8 7.3-11.6 6.7-9.9 6.7-9.3 8.3-10.7 6.7-7.8 8.2-8.9 6.6-6.4 8.1-7.1 4.9-3.8 6.4-4.5 6.4-3.8 6.3-3.2 4.7-1.9 6.1-2.1 6.1-1.4 6.1-.9-2.5-10-3.8-14-3.9-12.7-3.9-11.4-4-10.2-2.7-6-4.1-7.9-4.2-6.5-2.8-3.6-4.2-4.3-2.8-2.1-1.4-.8-2.8-1.2-2.8-.6-7.6-.3-6.1.2z" fill="#05aabc"/><path d="M212.6 542.3l-7.8 1.7-7.8 2.4-7.8 3.1-6.2 3.1-7.9 4.5-7.9 5.3-4.9 3.7-7.9 6.6-6.2 5.6-7.9 7.9-7.9 8.6-7.8 9.3-7.8 10.1-7.8 10.7-6.5 9.6-6 9.4 3.6-4.8 3.6-3.7 2.5-1.7 1.3-.7 2.5-.8 1.2-.2 2.6 0 1.3.2 2.6.9 1.3.7 4 2.9 4.1 4.2 4.1 5.7 4.2 6.9 4.1 8.4 4.2 9.6 4.3 11 4.2 12.3 4.2 13.5 4.8 16.6 13.7-2.3 6.8-10.6 6.7-9.7 6.7-9.1 8.3-10.5 6.6-7.7 8.3-8.7 6.5-6.2 8.2-6.9 4.8-3.7 6.4-4.3 4.8-2.8 6.3-3.2 4.7-1.9 6.1-2.1 6.1-1.4 6.1-.9-2.5-10-3.8-14-3.9-12.7-3.9-11.4-4-10.2-2.7-6-4.1-7.9-4.2-6.5-2.8-3.6-4.2-4.3-2.8-2.1-1.4-.8-2.8-1.2-2.8-.6-7.6-.3-6.1.2z" fill="#07c1cf"/><path d="M212.6 542.3l-7.8 1.7-7.8 2.4-7.8 3.1-6.2 3.1-7.9 4.5-7.9 5.3-4.9 3.7-7.9 6.6-6.2 5.6-7.9 7.9-7.9 8.6-7.8 9.3-7.8 10.1-7.8 10.7-6.5 9.6-6 9.4 3.6-4.8 3.6-3.7 2.5-1.7 1.3-.7 2.5-.8 1.2-.2 2.6 0 1.3.2 2.6.9 1.3.7 4 2.9 4.1 4.2 4.1 5.7 4.2 6.9 4.1 8.4 4.2 9.6 4.3 11 4.2 12.3 4.2 13.5 4 13.5 7-1.1 9.8-1.8 7.9-11.8 6.6-9.4 6.7-8.8 8.3-10.1 6.6-7.4 8.3-8.3 6.5-5.9 8.1-6.5 4.8-3.4 4.8-3.1 4.8-2.6 6.2-3.1 4.7-1.8 6.2-1.9 4.5-1 6.1-.9-2.5-10-3.8-14-3.9-12.7-3.9-11.4-4-10.2-2.7-6-4.1-7.9-4.2-6.5-2.8-3.6-4.2-4.3-2.8-2.1-1.4-.8-2.8-1.2-2.8-.6-7.6-.3-6.1.2z" fill="#05d2dc"/><path d="M214.1 542.1l-7.7 1.5-7.8 2.2-7.8 3-4.8 2.3-6.3 3.3-7.8 4.8-7.9 5.7-7.9 6.3-7.9 7.1-7.9 7.9-7.9 8.6-6.2 7.3-6.5 8.3-7.8 10.5-7.8 11.2-7.6 11.8 3.6-4.8 3.6-3.7 2.5-1.7 1.3-.7 2.5-.8 1.2-.2 2.6 0 1.3.2 2.6.9 1.3.7 4 2.9 4.1 4.2 4.1 5.7 4.2 6.9 4.1 8.4 4.2 9.6 4.3 11 4.2 12.3 7.3 23.9 9.4-1.4 10.7-2 7.1-10.6 6.7-9.3 6.7-8.6 8.3-9.9 6.6-7.2 8.2-8.1 6.5-5.8 8.1-6.3 4.8-3.3 4.8-2.9 4.7-2.6 6.3-2.8 4.7-1.7 4.6-1.4 4.5-1 6.1-.9-2.5-10-3.8-14-3.9-12.7-3.9-11.4-4-10.2-2.7-6-4.1-7.9-4.2-6.5-2.8-3.6-4.2-4.3-2.8-2.1-1.4-.8-2.8-1.2-2.8-.6-6.1-.3-6 .1z" fill="#02e0e6"/><path d="M214.1 542.1l-7.7 1.5-7.8 2.2-7.8 3-4.8 2.3-6.3 3.3-7.8 4.8-7.9 5.7-7.9 6.3-7.9 7.1-7.9 7.9-7.9 8.6-6.2 7.3-6.5 8.3-7.8 10.5-7.8 11.2-7.6 11.8 3.6-4.8 3.6-3.7 2.5-1.7 1.3-.7 2.5-.8 1.2-.2 2.6 0 1.3.2 2.6.9 1.3.7 4 2.9 2.7 2.7 4.1 5.1 4.2 6.6 4.1 7.8 4.2 9.3 4.3 10.5 4.2 11.8 4.2 13.1 3.6 11.9 11.8-1.7 11.6-2.2 6.4-9.3 6.7-9.1 5-6.4 6.6-8 5-5.6 6.6-6.9 6.5-6.2 6.5-5.6 4.9-3.8 6.4-4.5 6.4-3.8 6.3-3.2 4.7-1.9 6.1-2.1 6.1-1.4 6.1-.9-2.5-10-3.8-14-3.9-12.7-3.9-11.4-4-10.2-2.7-6-4.1-7.9-4.2-6.5-2.8-3.6-4.2-4.3-2.8-2.1-1.4-.8-2.8-1.2-2.8-.6-6.1-.3-6 .1z" fill="#05e7e9"/><path d="M214.9 542l-5.5.9-7.8 2-7.8 2.7-7.8 3.5-6.3 3.3-7.8 4.8-7.9 5.7-7.9 6.3-7.9 7.1-7.9 7.9-7.9 8.6-6.2 7.3-6.5 8.3-7.8 10.5-7.8 11.2-7.6 11.8 3.6-4.8 3.6-3.7 2.5-1.7 1.3-.7 2.5-.8 1.2-.2 2.6 0 1.3.2 2.6.9 1.3.7 4 2.9 2.7 2.7 4.1 5.1 4.2 6.6 4.1 7.8 2.8 6 4.3 10.1 4.2 11.4 4.2 12.7 4.1 13.3 14.1-2.1 12.7-2.5 5.6-7.8 6.6-9 5-6.3 6.7-7.8 4.9-5.5 6.6-6.7 6.6-6.1 6.5-5.4 4.8-3.7 6.4-4.3 4.8-2.8 6.3-3.2 4.7-1.9 6.1-2.1 6.1-1.4 6.1-.9-2.5-10-3.8-14-3.9-12.7-3.9-11.4-4-10.2-2.7-6-4.1-7.9-4.2-6.5-2.8-3.6-4.2-4.3-2.8-2.1-1.4-.8-2.8-1.2-2.8-.6-6.1-.3-6 .1z" fill="#12e6e1"/><path d="M215.5 541.9l-6.1 1-7.8 2-7.8 2.7-7.8 3.5-6.3 3.3-7.8 4.8-7.9 5.7-7.9 6.3-7.9 7.1-7.9 7.9-7.9 8.6-6.2 7.3-6.5 8.3-7.8 10.5-7.8 11.2-7.6 11.8 3.6-4.8 3.6-3.7 2.5-1.7 1.3-.7 2.5-.8 1.2-.2 2.6 0 1.3.2 2.6.9 1.3.7 4 2.9 2.7 2.7 4.1 5.1 4.2 6.6 4.1 7.8 2.8 6 4.3 10.1 4.2 11.4 4.2 12.7 3.1 10.1 14.3-2 16.2-3.2 6.2-8.6 5-6.5 5-6.2 6.6-7.7 5-5.3 6.6-6.6 4.9-4.5 6.5-5.4 4.8-3.7 6.4-4.3 4.8-2.8 6.3-3.2 4.7-1.9 6.1-2.1 6.1-1.4 6.1-.9-2.5-10-3.8-14-3.9-12.7-3.9-11.4-4-10.2-2.7-6-4.1-7.9-4.2-6.5-2.8-3.6-4.2-4.3-2.8-2.1-1.4-.8-2.8-1.2-2.8-.6-6.1-.3-6 .1z" fill="#1ee4d9"/><path d="M215.5 541.9l-6.1 1-7.8 2-7.8 2.7-7.8 3.5-6.3 3.3-7.8 4.8-7.9 5.7-7.9 6.3-7.9 7.1-7.9 7.9-7.9 8.6-6.2 7.3-6.5 8.3-7.8 10.5-7.8 11.2-7.6 11.8 3.6-4.8 3.6-3.7 2.5-1.7 1.3-.7 2.5-.8 2.5-.3 1.3.1 2.6.6 1.3.5 2.7 1.5 1.3 1 2.7 2.3 4.1 4.8 4.1 6 4.1 7.5 2.8 5.7 4.2 9.6 4.3 11 4.2 12.3 3.6 11.2 7.3-.9 9.5-1.4 8.8-1.7 8.5-1.8 10.2-13.4 5-6.1 6.6-7.5 4.9-5.2 6.6-6.4 4.9-4.4 6.5-5.3 4.8-3.5 6.4-4.2 4.8-2.6 6.2-3.1 4.7-1.8 6.2-1.9 4.5-1 6.1-.9-2.5-10-3.8-14-3.9-12.7-3.9-11.4-4-10.2-2.7-6-4.1-7.9-4.2-6.5-2.8-3.6-4.2-4.3-2.8-2.1-1.4-.8-2.8-1.2-2.8-.6-6.1-.3-6 .1z" fill="#35e2c7"/><path d="M215.5 541.9l-6.1 1-7.8 2-7.8 2.7-7.8 3.5-6.3 3.3-7.8 4.8-7.9 5.7-7.9 6.3-7.9 7.1-7.9 7.9-7.9 8.6-6.2 7.3-6.5 8.3-7.8 10.5-7.8 11.2-7.6 11.8 3.6-4.8 3.6-3.7 2.5-1.7 1.3-.7 2.5-.8 2.5-.3 1.3.1 2.6.6 1.3.5 2.7 1.5 1.3 1 2.7 2.3 4.1 4.8 4.1 6 4.1 7.5 2.8 5.7 2.8 6.3 4.3 10.5 4.2 11.8 4 12.3 9.8-1.2 9.3-1.4 8.9-1.7 9.9-2.2 10.7-13.6 5-5.8 6.6-7.2 4.9-5 4.9-4.6 4.9-4.3 6.5-5.1 4.8-3.4 4.8-3.1 4.8-2.6 6.2-3.1 4.7-1.8 6.2-1.9 4.5-1 6.1-.9-2.5-10-3.8-14-3.9-12.7-3.9-11.4-4-10.2-2.7-6-4.1-7.9-4.2-6.5-2.8-3.6-4.2-4.3-2.8-2.1-1.4-.8-2.8-1.2-2.8-.6-6.1-.3-6 .1z" fill="#4ee0b2"/><path d="M217.1 541.7l-6.1.9-7.8 1.8-7.8 2.6-7.8 3.3-7.9 4.1-7.8 4.8-7.9 5.7-7.9 6.3-7.9 7.1-7.9 7.9-7.9 8.6-6.2 7.3-6.5 8.3-7.8 10.5-7.8 11.2-7.6 11.8 3.6-4.8 3.6-3.7 2.5-1.7 1.3-.7 2.5-.8 2.5-.3 1.3.1 2.6.6 1.3.5 2.7 1.5 1.3 1 2.7 2.3 4.1 4.8 4.1 6 4.1 7.5 2.8 5.7 2.8 6.3 4.3 10.5 2.8 7.7 4.4 13.2 8.5-1 10.7-1.6 11.2-2 11.5-2.6 6-7.7 5-5.9 9.9-10.8 5-4.9 4.9-4.5 4.8-4.1 6.5-5 4.8-3.3 4.8-2.9 4.7-2.6 6.3-2.8 4.7-1.7 4.6-1.4 4.5-1 6.1-.9-2.5-10-3.8-14-3.9-12.7-3.9-11.4-4-10.2-2.7-6-2.8-5.4-4.1-7-2.8-3.9-4.2-4.7-2.8-2.4-1.4-1-2.8-1.5-2.8-.9-4.4-.4-6.2-.1z" fill="#77ca88"/><path d="M217.1 541.7l-6.1.9-7.8 1.8-7.8 2.6-7.8 3.3-7.9 4.1-7.8 4.8-7.9 5.7-7.9 6.3-7.9 7.1-7.9 7.9-7.9 8.6-6.2 7.3-6.5 8.3-7.8 10.5-7.8 11.2-7.6 11.8 3.6-4.8 3.6-3.7 2.5-1.7 1.3-.7 2.5-.8 2.5-.3 1.3.1 2.6.6 2.6 1.2 1.4.8 2.6 2.1 4.1 4.2 4.1 5.7 4.2 6.9 2.7 5.4 2.8 6 4.3 10.1 4.2 11.4 3.3 9.9 11.8-1.3 10-1.5 11.3-2.1 13-3.1 6.3-7.6 4.9-5.7 9.9-10.3 4.9-4.6 4.9-4.3 4.9-3.9 4.8-3.5 4.8-3.2 4.8-2.8 4.7-2.4 4.7-2.1 4.7-1.7 4.6-1.4 4.5-1 6.1-.9-2.5-10-3.8-14-3.9-12.7-3.9-11.4-4-10.2-2.7-6-2.8-5.4-4.1-7-2.8-3.9-4.2-4.7-2.8-2.4-1.4-1-2.8-1.5-2.8-.9-4.4-.4-6.2-.1z" fill="#a0b35e"/><path d="M217.1 541.7l-6.1.9-7.8 1.8-7.8 2.6-7.8 3.3-7.9 4.1-7.8 4.8-7.9 5.7-7.9 6.3-7.9 7.1-7.9 7.9-7.9 8.6-6.2 7.3-6.5 8.3-7.8 10.5-7.8 11.2-7.6 11.8 3.6-4.8 3.6-3.7 2.5-1.7 1.3-.7 2.5-.8 2.5-.3 1.3.1 2.6.6 2.6 1.2 1.4.8 2.6 2.1 4.1 4.2 2.7 3.6 4.2 6.6 2.7 5.1 4.2 8.7 2.8 6.6 4.3 11 3.6 10.5 12.5-1.3 12.9-1.9 12.1-2.4 13-3.2 9.6-11 9.9-10.1 4.9-4.5 4.8-4.1 4.9-3.8 4.8-3.4 4.8-3.1 4.8-2.6 4.7-2.4 4.7-1.9 4.6-1.6 4.6-1.3 4.6-.9 4.5-.6-2.5-10-3.8-14-3.9-12.7-3.9-11.4-4-10.2-2.7-6-2.8-5.4-4.1-7-2.8-3.9-4.2-4.7-2.8-2.4-1.4-1-2.8-1.5-2.8-.9-4.4-.4-6.2-.1z" fill="#b89f42"/><path d="M217.1 541.7l-6.1.9-7.8 1.8-7.8 2.6-7.8 3.3-7.9 4.1-7.8 4.8-7.9 5.7-7.9 6.3-7.9 7.1-7.9 7.9-7.9 8.6-6.2 7.3-6.5 8.3-7.8 10.5-7.8 11.2-7.6 11.8 3.6-4.8 3.6-3.7 2.5-1.7 1.3-.7 2.5-.8 2.5-.3 1.3.1 2.6.6 2.6 1.2 1.4.8 2.6 2.1 4.1 4.2 2.7 3.6 4.2 6.6 2.7 5.1 4.2 8.7 2.8 6.6 2.9 7.2 3.9 11 13.9-1.3 12.8-2 14.3-2.9 14.2-3.5 9.3-10.3 4.9-5 4.9-4.6 8.2-6.9 4.8-3.7 4.8-3.3 8-4.6 4.7-2.4 4.7-1.9 4.6-1.6 4.6-1.3 4.6-.9 4.5-.6-2.5-10-3.8-14-3.9-12.7-3.9-11.4-4-10.2-2.7-6-2.8-5.4-4.1-7-2.8-3.9-4.2-4.7-2.8-2.4-1.4-1-2.8-1.5-2.8-.9-4.4-.4-6.2-.1z" fill="#da9327"/><path d="M218.7 541.5l-7.7 1.1-7.8 1.8-7.8 2.6-7.8 3.3-6.2 3.2-7.9 4.7-7.9 5.4-7.9 6.2-7.9 7-7.9 7.7-7.8 8.5-7.9 9.1-6.5 8.3-7.8 10.5-7.8 11.2-7.6 11.8 3.6-4.8 2.4-2.6 3.7-2.8 2.5-1.2 2.5-.5 1.3-.1 2.6.3 2.6.9 1.3.7 2.7 1.8 4 3.8 2.8 3.3 4.1 6 2.8 4.8 4.1 8.4 2.8 6.3 2.9 6.8 4.2 11.4 12.7-1.1 9.5-1.3 6.9-1.2 16.1-3.3 14.8-3.8 8.9-9.4 8.2-7.7 8.1-6.7 4.8-3.5 4.8-3.2 7.9-4.5 4.7-2.2 4.7-1.8 7.7-2.3 4.6-.9 4.5-.6-2.5-10-3.8-14-3.9-12.7-3.9-11.4-4-10.2-2.7-6-2.8-5.4-4.1-7-2.8-3.9-4.2-4.7-2.8-2.4-1.4-1-2.8-1.5-2.8-.9-3-.4-6-.1z" fill="#ff8c10"/><path d="M218.7 541.5l-7.7 1.1-7.8 1.8-7.8 2.6-7.8 3.3-6.2 3.2-7.9 4.7-7.9 5.4-7.9 6.2-7.9 7-7.9 7.7-7.8 8.5-7.9 9.1-6.5 8.3-7.8 10.5-7.8 11.2-7.6 11.9 3.6-4.9 2.4-2.6 3.7-2.8 2.5-1.2 2.5-.5 1.3-.1 2.6.3 2.6.9 2.7 1.5 4 3.3 2.7 3 4.1 5.7 2.8 4.5 4.1 7.8 2.8 6 4.3 10.1 2.9 7.9 3.5-.1 14.3-1.4 8.3-1.2 7.9-1.3 15.8-3.5 15.7-4.2 8-8.1 8.1-7.3 8.1-6.3 8-5.3 7.9-4.2 7.8-3.3 7.7-2.3 4.6-.9 4.5-.6-2.5-10-3.8-14-3.9-12.7-2.6-7.8-4-10.5-2.7-6.3-4.1-8.4-4.1-7-2.8-3.9-4.2-4.7-2.8-2.4-1.4-1-2.8-1.5-2.8-.9-3-.4-6-.1z" fill="#ff8b10"/><path d="M218.7 541.5l-7.7 1.1-7.8 1.8-7.8 2.6-7.8 3.3-6.2 3.2-7.9 4.7-7.9 5.4-7.9 6.2-7.9 7-7.9 7.7-7.8 8.5-7.9 9.1-6.5 8.3-7.8 10.5-7.8 11.2-7.6 11.9 3.6-4.9 2.4-2.6 3.7-2.8 2.5-1.2 2.5-.5 1.3-.1 2.6.3 2.6.9 2.7 1.5 4 3.3 2.7 3 4.1 5.7 2.8 4.5 4.1 7.8 2.8 6 6 14.6 5.4-.2 14.5-1.4 9.9-1.4 6.7-1.2 8.7-1.8 9.2-2.2 16.8-4.8 6.7-6.4 8.2-6.9 8-5.9 8-4.9 6.3-3.2 7.8-3 7.6-2.1 7.6-1.2-2.5-10-3.8-14-3.9-12.7-2.6-7.8-4-10.5-2.7-6.3-4.1-8.4-4.1-7-2.8-3.9-4.2-4.7-2.8-2.4-1.4-1-2.8-1.5-2.8-.9-3-.4-6-.1z" fill="#ff910e"/><path d="M220.3 541.4l-7.7.9-7.8 1.7-7.8 2.4-7.8 3.1-7.8 4-7.9 4.7-7.9 5.4-7.9 6.2-7.9 7-7.9 7.7-7.8 8.5-7.9 9.1-6.5 8.3-7.8 10.5-7.8 11.2-6.5 10.2 3.7-4.6 2.4-2.3 2.5-1.7 2.5-1.2 2.5-.5 2.6 0 2.6.6 2.6 1.2 4 2.9 2.7 2.7 4.1 5.1 2.8 4.2 4.1 7.5 2.8 5.7 2.8 6.3 3.2 7.9 6.5-.3 8.2-.6 9.1-1 8.7-1.3 8.9-1.7 8.6-1.9 9.5-2.3 8.7-2.5 9.6-3 8-7 6.5-5 6.4-4.3 6.4-3.6 6.2-3.1 7.8-2.8 6.1-1.6 7.6-1.2-2.5-10-3.8-14-3.9-12.7-2.6-7.8-4-10.5-2.7-6.3-4.1-8.4-4.1-7-2.8-3.9-2.8-3.3-2.8-2.7-2.8-2.1-1.4-.8-2.8-1.2-2.8-.6-6.1-.3z" fill="#ff9e0b"/><path d="M220.3 541.4l-7.7.9-7.8 1.7-7.8 2.4-7.8 3.1-7.8 4-7.9 4.7-7.9 5.4-6.3 4.9-7.8 6.8-6.6 6.3-7.9 8.1-7.9 8.9-7.8 9.7-7.8 10.3-9.4 13.5-3.8 5.8-1.6 2.8 2.6-3 2.4-2.3 2.5-1.7 2.5-1.2 2.5-.5 2.6 0 2.6.6 2.6 1.2 4 2.9 2.7 2.7 2.8 3.3 2.7 3.9 4.2 6.9 2.7 5.4 2.8 6 3.3 7.6 6.2-.1 7.9-.5 8.8-.9 15.2-2.3 10.2-2 8.4-2 8.1-2.2 9.1-2.7 11.4-3.8 6.7-5.3 6.4-4.5 6.4-3.8 6.3-3.2 4.7-1.9 6.1-2.1 6.1-1.4 5.5-.8.5-.3-2.4-9.8-3.8-14-3.9-12.7-3.9-11.4-4-10.2-2.7-6-2.8-5.4-4.1-7-2.8-3.9-2.8-3.3-2.8-2.7-2.8-2.1-1.4-.8-2.8-1.2-2.8-.6-6.1-.3z" fill="#ffab08"/><path d="M221.8 541.4l-7.7.7-7.7 1.5-7.8 2.2-7.8 3-7.8 3.8-7.9 4.5-7.9 5.3-7.9 6.1-7.8 6.8-6.6 6.3-7.9 8.1-7.9 8.9-7.8 9.7-7.8 10.3-11 15.9-1.7 2.8-.8 1.8 2.5-2.6 2.5-2 2.5-1.5 2.5-.8 2.5-.3 2.6.3 2.6.9 1.3.7 4 2.9 2.7 2.7 2.8 3.3 2.7 3.9 2.8 4.5 2.7 5.1 2.8 5.7 3.2 7.1 9.9-.2 8.1-.5 8.2-.9 7.1-1 9.1-1.6 8.6-1.8 8.4-2 15.7-4.4 9.3-3.1 10.6-3.9 6.5-4.4 7.9-4.5 4.7-2.2 4.7-1.8 4.6-1.5 3.9-1 7.5-4.6-2.9-11.5-2.6-9.2-3.9-12.7-2.6-7.8-4-10.5-2.7-6.3-2.7-5.8-4.1-7.4-2.8-4.2-4.2-5.2-2.8-2.7-1.4-1.1-2.8-1.8-2.8-1.2-2.8-.6-6.1-.3z" fill="#ffb806"/><path d="M223.2 541.3l-6.1.4-7.7 1.2-7.8 2-7.8 2.7-7.8 3.5-7.9 4.2-7.9 5-7.9 5.8-7.9 6.6-7.9 7.2-7.9 8.1-7.8 8.7-7.9 9.5-9.4 12.4-9.2 13.2-1.6 2.8-1.4 3 2.4-2.2 2.5-1.7 2.5-1.2 1.3-.3 2.5-.3 2.6.3 2.6.9 1.3.7 2.7 1.8 2.7 2.3 2.7 3 2.7 3.6 2.8 4.2 2.8 4.8 2.7 5.4 3 6.4 6.4.1 7.6-.3 8-.6 7.1-.8 7.1-1 9-1.5 15.2-3.4 7.8-2.1 9.6-2.9 9.3-3 7.1-2.7 8.5-3.4 6.6-2.9 7.8-3.7 6-3.1 7.1-4 5.4-3.4-2.1-8.5-3.9-13.6-3.9-12.3-2.6-7.4-2.7-6.9-2.7-6.3-2.7-5.8-4.1-7.4-2.8-4.2-2.8-3.6-2.8-3-4.2-3.4-2.8-1.5-2.8-.9-5.9-.5z" fill="#ffc403"/><path d="M223.2 541.3l-6.1.4-7.7 1.2-7.8 2-7.8 2.7-7.8 3.5-7.9 4.2-7.9 5-7.9 5.8-7.9 6.6-7.9 7.2-7.9 8.1-9.5 10.6-9.4 11.8-10.7 14.5-2.7 4.1-1.6 2.6-1.1 2.3-.8 2.3 3.4-2.5 2.5-1.2 1.3-.3 2.5-.3 1.3.1 2.6.6 1.3.5 2.7 1.5 2.6 2.1 2.7 2.7 2.8 3.3 2.7 3.9 2.8 4.5 2.7 5.1 2.7 5.4 10.3.2 9.4-.4 7.5-.7 8.4-1.1 14.7-2.5 15.8-3.7 8.4-2.4 8-2.5 7.3-2.5 8.8-3.3 13.2-5.7 7.8-3.7 5.9-3.1 11.1-6.7-5.3-19-3.9-12.3-2.6-7.4-4-10.2-2.7-6-2.8-5.4-4.1-7-2.8-3.9-2.8-3.3-2.8-2.7-1.4-1.1-2.8-1.8-2.8-1.2-2.8-.6-4.5-.3z" fill="#ffd100"/><path d="M223.2 541.3l-6.1.4-7.7 1.2-7.8 2-7.8 2.7-7.8 3.5-7.9 4.2-7.9 5-7.9 5.8-7.9 6.6-7.9 7.2-7.9 8.1-9.5 10.6-10.7 13.4-10.1 14-2.4 4.3-.7 1.8-.8 2.7 1.8-1.1 2.5-1.2 2.5-.5 1.3-.1 2.6.3 1.3.4 2.6 1.2 1.4.8 4 3.3 4.1 4.8 4.1 6 5 9.1 6.2.3 5.8.1 6.2-.2 8-.6 14-1.7 15.2-2.8 8.4-1.9 8.1-2.1 13.4-4.1 14.3-5.2 8.4-3.5 6.4-2.9 12.1-6.1 5.7-3.3 5.4-3.3-3.2-11.6-2.6-8.6-3.9-11.9-2.7-7.2-2.6-6.6-2.7-6-2.8-5.4-4.1-7-2.8-3.9-2.8-3.3-2.8-2.7-1.4-1.1-2.8-1.8-2.8-1.2-2.8-.6-4.5-.3z" fill="#ffdf00"/><path d="M224.8 541.3l-7.7.4-7.7 1.2-7.8 2-7.8 2.7-7.8 3.5-7.9 4.2-7.9 5-7.9 5.8-7.9 6.6-9.5 8.9-4.6 4.6-6.2 6.8-7.9 9.1-9.4 12.1-6.4 8.8-1.6 2.7-1.3 2.8-1 3.3-.2 1.8 3.7-1.4 2.5-.3 1.3.1 2.6.6 1.3.5 2.7 1.5 4 3.3 4.1 4.8 4.1 6 2.9 5.1 8.6.6 6.7.1 7.4-.2 8.2-.6 14.4-1.9 13.4-2.6 14.4-3.5 15.3-4.7 14.2-5.2 13.1-5.7 12.1-6.1 5.7-3.2 5.3-3.4-4.9-17.1-3.9-11.9-2.7-7.2-2.6-6.6-2.7-6-2.8-5.4-4.1-7-2.8-3.9-2.8-3.3-2.8-2.7-1.4-1.1-2.8-1.8-2.8-1.2-2.8-.6z" fill="#fff400"/><path d="M224.8 541.3l-7.7.4-7.7 1.2-7.8 2-7.8 2.7-7.8 3.5-7.9 4.2-7.9 5-7.9 5.8-9.5 8-9.2 8.8-9.5 10.1-9.5 11.1-7.8 10.1-5.2 7.2-1.7 3.4-.8 2.4-.6 2.6 0 2.8 2.7-.6 2.6 0 2.6.6 1.3.5 2.7 1.5 4 3.3 2.7 3 2.7 3.6 3.3 5 7.2.9 9.4.4 10.6-.2 8.8-.8 13-1.8 13.8-2.6 14.9-3.8 14.1-4.4 14.1-5.2 13-5.7 12-6.2 9.5-5.8-2.8-9.8-2.6-8.3-5.3-15-2.6-6.6-2.7-6-2.8-5.4-4.1-7-2.8-3.9-2.8-3.3-2.8-2.7-1.4-1.1-2.8-1.8-2.8-1.2-2.8-.6z" fill="#fdfd04"/><path d="M224.8 541.3l-7.7.4-7.7 1.2-6.2 1.5-4.6 1.4-7.8 3-7.8 3.8-7.9 4.5-7.9 5.3-7.9 6.1-4.9 4.2-6.2 5.6-9.6 9.7-9.5 10.6-10.7 13.4-3.9 5.4-1.5 2.5-1.4 3-.7 3-.2 1.8 0 2 .5 2.2 2.6.1 2.6.6 2.6 1.2 1.4.8 2.6 2.1 2.7 2.7 4.4 5.5 1.9.5 5 .8 4.2.5 4.3.3 6.6.2 11.2-.5 13.1-1.3 11.4-1.9 12.8-2.7 14-3.7 13-4.3 13.9-5.3 11.2-5.1 10.4-5.4 9.5-5.8-3.2-10.9-2.6-8.1-5.3-14.3-2.7-6.3-2.7-5.8-2.7-5.1-4.2-6.5-2.8-3.6-2.8-3-2.8-2.4-2.8-1.8-2.8-1.2-2.8-.6z" fill="#f9f90d"/><path d="M226.3 541.3l-7.6.2-4.6.6-4.7.8-6.2 1.5-4.6 1.4-7.8 3-9.4 4.7-7.9 4.7-7.9 5.4-7.9 6.2-9.5 8.5-6.3 6.2-4.9 5.2-4.6 5.1-6.2 7.3-9 11.6-2 3.3-1.1 2.3-.7 2.1-.4 2.7.1 2.8.3 1.5 1 2.5.9 1.3 2.4.9 2.7 1.5 2.6 2.1 2.8 2.7 6.1 1.9 7.3 1.3 8.7.7 10.2 0 12.2-.8 9.5-1.2 11.3-1.9 12.9-2.9 13.5-3.8 12.8-4.3 12-4.8 11.1-5.1 10.2-5.5 8.1-5-4.9-15.8-5.3-14.3-2.7-6.3-2.7-5.8-2.7-5.1-2.8-4.5-2.8-3.9-2.8-3.3-2.8-2.7-2.8-2.1-2.8-1.5-2.8-.9-3-.4z" fill="#f5f517"/><path d="M226.3 541.3l-7.6.2-7.7 1.1-7.8 1.8-4.6 1.4-4.8 1.8-4.6 1.9-6.2 3.1-7.9 4.5-7.9 5.3-7.9 6.1-4.9 4.2-6.2 5.6-9.6 9.7-9.5 10.6-6.2 7.6-3.9 5.2-1.6 2.7-1.3 3.2-.7 2.9-.1 1.8.2 2.1.6 1.9.5 1.3 1.6 2.3 1 1 2.4 2 2.9 1.7 3.4 1.5 6.2 1.8 7.4 1.3 8.8.7 10.5-.1 12.4-.9 10.1-1.4 11.1-2.1 14.4-3.4 11.5-3.4 10.9-3.8 11.8-4.7 9.5-4.4 9.5-5.1 8.8-5.4-2.7-8.7-2.6-7.8-5.3-13.8-2.7-6-2.8-5.4-2.7-4.8-2.8-4.2-2.8-3.6-2.8-3-2.8-2.4-2.8-1.8-1.4-.7-2.8-.9-3-.4z" fill="#ecec2d"/><path d="M226.3 541.3l-7.6.2-7.7 1.1-7.8 1.8-4.6 1.4-4.8 1.8-4.6 1.9-6.2 3.1-7.9 4.5-7.9 5.3-7.9 6.1-9.5 8.3-9.5 9.4-9.5 10.5-6.2 7.4-3 3.9-1.9 3.2-1 2.4-.6 2.1-.4 2.6.1 1.5.6 2.6.7 1.6 1.4 2 .9 1 2.4 2 2.9 1.7 3.5 1.5 6.2 1.8 7.5 1.2 8.9.6 10.7-.1 9-.7 11.8-1.6 11-2 12.4-3 11.6-3.3 10.9-3.8 11.9-4.7 9.5-4.4 10.2-5.5 8-5-4.3-13.3-5.3-13.8-2.7-6-2.8-5.4-2.7-4.8-2.8-4.2-2.8-3.6-2.8-3-2.8-2.4-2.8-1.8-1.4-.7-2.8-.9-3-.4z" fill="#e0e04a"/><path d="M227.7 541.3l-9 .2-7.7 1.1-7.8 1.8-7.8 2.6-7.8 3.3-7.9 4.1-7.8 4.8-7.9 5.7-9.6 7.8-6.2 5.6-4.6 4.6-9.5 10.1-9.5 11.1-1.9 2.9-1.3 2.8-.6 1.7-.6 3.1.1 2 .5 2.2 1.2 2.4.8 1.1 1 1.1 2.3 1.9 2.9 1.8 3.5 1.4 6.2 1.8 7.6 1.2 9.1.6 10.5-.3 8.9-.7 10.6-1.5 11-2 12.3-3 11.5-3.4 10.8-3.7 10.2-4.1 11-5.1 8.7-4.8 7.9-5-4.6-13.7-2.7-6.9-2.7-6.3-4.1-8.4-2.7-4.8-2.8-4.2-4.2-5.2-2.8-2.7-2.8-2.1-2.8-1.5-2.8-.9z" fill="#dada57"/><path d="M227.7 541.3l-9 .2-7.7 1.1-7.8 1.8-7.8 2.6-7.8 3.3-7.9 4.1-7.8 4.8-7.9 5.7-9.6 7.8-9.5 8.9-4.6 4.6-6.2 6.8-7.4 8.7-1.6 2.5-.9 1.8-.9 2.6-.4 2.3-.1 1.5.5 2.7.5 1.2 1.4 2.4 1.3 1.4 2 1.6 2.9 1.7 1.7.8 5.8 1.9 7.3 1.3 8.7.7 10.4 0 9.2-.7 11.8-1.6 11-2.1 10.8-2.5 11.1-3.3 11.5-3.9 11.1-4.5 9.4-4.5 8.7-4.7 7.9-5.1-2.3-6.8-2.7-7.2-2.6-6.6-2.7-6-4.1-7.9-2.8-4.5-2.8-3.9-4.2-4.7-2.8-2.4-2.8-1.8-1.4-.7-2.8-.9z" fill="#d4d464"/><path d="M227.9 541.3l-7.6.1-7.7.9-7.8 1.7-7.8 2.4-7.8 3.1-7.8 4-7.9 4.7-7.9 5.4-9.5 7.6-7.9 7.1-9.6 9.7-6.2 6.8-2.8 3.5-1.4 1.9-1.4 2.6-.9 2.7-.3 1.6-.1 2.2.3 2 1.1 2.5.8 1.1.9 1.1 2.3 2 1.4.9 3.2 1.5 5.9 2 7.3 1.3 8.9.6 10.3-.2 8.9-.7 10.5-1.4 10.9-2.1 10.3-2.5 11.5-3.4 10.8-3.7 10-4.1 9.4-4.4 8.6-4.7 7.9-5.1-3.9-10.8-2.6-6.6-2.7-6-4.1-7.9-2.8-4.5-2.8-3.9-4.2-4.7-2.8-2.4-2.8-1.8-1.4-.7-2.8-.9z" fill="#caca79"/><path d="M227.9 541.3l-7.6.1-7.7.9-7.8 1.7-7.8 2.4-7.8 3.1-7.8 4-7.9 4.7-6.3 4.2-9.5 7.4-7.9 7-9.5 9.4-7.8 8.7-2.5 3.8-1.2 2.9-.4 1.7-.2 1.6.3 2.7.5 1.5 1.2 2.1 1.3 1.4 1.9 1.6 3 1.7 1.6.8 6 1.9 7.4 1.2 9 .6 7.2-.1 8.8-.6 11.8-1.6 10.9-2.1 12.2-3 10.4-3.2 9.8-3.4 9.9-4.2 9.2-4.4 8.4-4.8 6.5-4.3-4-10.8-4-9.3-4.1-7.9-2.8-4.5-2.8-3.9-4.2-4.7-2.8-2.4-2.8-1.8-1.4-.7-2.8-.9z" fill="#c0c08e"/><path d="M227.9 541.3l-7.6.1-7.7.9-7.8 1.7-6.2 1.8-7.8 3-7.8 3.8-7.9 4.5-4.9 3.2-7.9 5.8-6.2 5.1-4.6 4.1-9.6 9.2-5 5.4-1.9 2.3-2.4 3.8-1.1 2.9-.4 2 0 1.5.4 2 .7 1.9.7 1.1.9 1.1 2.3 2 1.4.8 3.2 1.6 6 1.9 4.8.8 8.7.8 9.4-.1 9.6-.7 9.9-1.4 10.8-2.1 10.2-2.5 9.5-2.8 10.8-3.8 9.9-4.1 9.3-4.4 8.4-4.8 6.3-4.4-4.1-10.7-4.1-8.8-4.1-7.4-2.8-4.2-2.8-3.6-4.2-4.3-1.4-1.1-2.8-1.8-2.8-1.2-1.4-.4z" fill="#b6b6a3"/><path d="M229.4 541.4l-7.6 0-6.3.5-6.1 1-7.8 2-6.2 2.1-7.8 3.3-7.9 4.1-7.8 4.8-7.9 5.7-7.9 6.3-9.6 8.7-7.8 8.1-2.7 4-.9 1.8-.8 2.6-.2 2.1.1 1.4.7 2.4.8 1.3.9 1.1 2.2 1.9 1.4.9 3.2 1.6 6.1 1.8 5.8.9 7.9.6 9.8-.2 9.9-.9 9.2-1.4 10.7-2.2 10-2.6 9.3-2.9 8.8-3.2 9.9-4.1 7.6-3.8 8.4-4.8 6.3-4.3-4.3-10.4-4.1-8.4-4.1-7-4.2-5.6-4.2-4.3-1.4-1.1-2.8-1.8-1.4-.7-2.8-.9z" fill="#b2acac"/><path d="M229.4 541.4l-7.6 0-6.3.5-6.1 1-7.8 2-6.2 2.1-7.8 3.3-6.2 3.2-7.9 4.7-7.9 5.4-7.9 6.2-7.9 7-7.7 7.7-1.9 2.4-1.5 2.5-.9 2-.4 1.6-.2 2.9.5 1.9.9 1.9.8 1.1 2.2 2 1.4.9 3.2 1.5 5.4 1.6 5.8 1 7.9.5 8.4-.1 8.4-.7 10.2-1.5 11.2-2.3 9.9-2.6 9.3-2.9 8.7-3.2 9.8-4.2 7.5-3.8 6.8-4.1 6.2-4.4-2.9-6.9-4.1-8.4-4.1-7-4.2-5.6-4.2-4.3-1.4-1.1-2.8-1.8-1.4-.7-2.8-.9z" fill="#c19193"/><path d="M230.8 541.4l-6-.1-7.7.4-6.1.9-7.8 1.8-6.2 2-7.8 3.1-7.8 4-6.3 3.6-7.9 5.3-7.9 6.1-7.8 6.8-4.2 3.9-2.2 2.3-1.6 2.1-1.3 1.9-1.4 3.4-.4 3 .3 1.7 1 2.2 1.8 2.1 1.1 1 2.9 1.6 3.2 1.3 2.5.7 4.7.9 5.5.6 6.5.2 7.5-.3 8.9-.9 9.4-1.5 8.2-1.7 8.2-2.1 9.4-2.9 8.7-3.2 8.2-3.5 7.5-3.7 5.7-3.2 4.5-3 4.2-3.2-2.8-6.4-2.8-5.4-2.7-4.8-2.8-4.2-2.8-3.6-4.2-4.3-2.8-2.1-2.8-1.5-2.8-.9z" fill="#cd757a"/><path d="M230.8 541.4l-6-.1-6.1.2-7.7 1.1-6.2 1.4-7.8 2.4-6.2 2.4-7.8 3.8-4.9 2.7-7.9 5-7.9 5.8-7.9 6.6-3.7 3.4-2.1 2.1-2.4 3-1.1 1.8-.7 1.8-.4 1.6-.1 1.5.1 1.6.9 2.2 1.7 2.2 2.5 1.8 1.6.8 3.6 1.4 4.4 1.1 5.2.7 6.2.3 7.2-.2 8.6-.7 8.2-1.3 8.6-1.7 8-2 7.6-2.2 7.2-2.5 8.4-3.3 7.8-3.6 5.8-3.1 6.6-4.2 4.7-3.7-4.1-8.3-2.7-4.8-2.8-4.2-4.2-5.2-2.8-2.7-2.8-2.1-1.4-.8-2.8-1.2-1.4-.4z" fill="#d85960"/><path d="M230.8 541.4l-6-.1-6.1.2-7.7 1.1-6.2 1.4-7.8 2.4-6.2 2.4-4.8 2.3-6.3 3.3-6.2 3.8-7.9 5.4-7.9 6.2-5.2 4.7-1.9 2.2-1.3 2-.9 1.8-.6 1.6-.3 1.6 0 1.4.3 1.3.5 1.2 1.6 2.2 2.5 1.9 1.6.8 3.6 1.3 4.5 1 5.4.7 6.3.2 6.5-.2 5.4-.5 6.6-.9 8.7-1.6 8.2-1.9 7.6-2.2 7.2-2.5 6.8-2.6 6.4-2.8 7.3-3.8 7.5-4.7 5.1-4.1-3.7-7.2-2.8-4.5-2.8-3.9-4.2-4.7-2.8-2.4-1.4-1-2.8-1.5-2.8-.9z" fill="#e14047"/><path d="M232.4 541.6l-6.1-.3-7.6.2-6.1.8-6.2 1.3-4.8 1.3-6.2 2.1-6.2 2.5-6.2 3.1-7.9 4.5-4.9 3.2-7.9 5.8-3.6 2.9-2.2 2.1-2.6 3-1.2 1.9-.8 1.8-.4 1.6-.1 1.4.1 1.4.4 1.3.7 1.1.9 1.1 2.4 1.8 3.3 1.5 4.2 1.2 5 .8 6.1.3 6-.1 5.4-.4 6.8-.9 6.6-1.1 6.2-1.4 7.9-2.1 7.4-2.3 6.9-2.6 6.5-2.7 6-3 4.2-2.4 4.8-3.1 3.9-3 2.1-2-3.2-5.8-2.8-4.2-2.8-3.6-2.8-3-2.8-2.4-2.8-1.8-2.8-1.2z" fill="#e8282e"/><path d="M232.4 541.6l-6.1-.3-7.6.2-6.1.8-6.2 1.3-4.8 1.3-6.2 2.1-6.2 2.5-6.2 3.1-7.9 4.5-4.9 3.2-6 4.4-2.7 2.3-1.8 1.7-2.1 2.7-1.1 1.8-.7 1.7-.3 1.5.1 1.4.3 1.3.6 1.2.8 1.1 2.4 1.9 3.3 1.5 4.2 1.1 4.3.6 4 .2 7 0 5.7-.5 7-.9 6.5-1.2 6.1-1.4 5.8-1.6 7.3-2.4 5.2-1.9 4.9-2 5.9-2.9 5.8-3.3 3.9-2.5 3.5-2.8 3-3-2.5-4.1-2.8-3.9-2.8-3.3-2.8-2.7-1.4-1.1-2.8-1.8-2.8-1.2z" fill="#f20f1b"/><path d="M233.8 541.8l-5.9-.5-4.7 0-6.1.4-6.1.9-6.2 1.4-6.2 1.8-4.8 1.8-6.2 2.7-6.2 3.2-6.3 3.6-6.2 4.1-3.7 3.2-3 3.2-1.5 2.6-.5 1.6-.2 1.5.2 1.4.5 1.2.8 1.1 1 1 1.3.9 1.5.8 3.9 1.2 4.7.9 3 .2 6 .1 4.7-.3 9.8-1.2 6-1.2 6.5-1.5 11-3.5 5.1-1.9 4.8-2.1 7.4-3.9 5.2-3.3 4.5-3.8 2.7-3.1-4.2-5.7-4.2-4.3-1.4-1.1-2.8-1.8-1.4-.7z" fill="#fd0005"/><path d="M233.8 541.8l-3-.4-6-.1-6.1.2-6.1.8-6.2 1.3-4.8 1.3-4.6 1.5-6.2 2.4-4.8 2.3-6.3 3.3-5.7 3.5-3.8 2.9-2.4 2.5-1.4 1.9-.9 1.8-.4 1.6 0 1.4.3 1.3.7 1.1 1 1 2.8 1.7 1.8.7 3.9.9 3.3.4 3.3.1 5.5-.1 4.9-.4 4.6-.6 8.6-1.7 9.6-2.6 5.3-1.9 5-1.9 7.6-3.7 2.8-1.6 3.9-2.6 2.3-1.8 2.1-2 1.7-2.1 1.3-2.4-3.8-4.2-2.8-2.4-2.8-1.8-2.8-1.2z" fill="#ff0000"/><path d="M214.1 542.1l-4.7.8-4.6 1.1-7.8 2.4-7.8 3.1-8.1 4.2-5.1 3.6-2.6 2.3-1.5 1.9-.9 1.9-.3 1.6.1 1.3.6 1.2.8 1.1 1.3.9 1.5.8 1.8.7 3.4.7 4.2.4 7.2-.2 4.4-.4 5.4-.9 7.1-1.5 6.5-1.9 6.9-2.5 6.3-2.9 4.2-2.3 3.8-2.6 3.3-2.9 1.7-2.1.8-1.3.5-1.6 0-1.5-.6-1.5-3.9-2.6-3.2-1.3-4.2-.7-4.3-.1-6 .1z" fill="#ff0000"/><path d="M184.3 552.5l-3.8 3-2 2.3-.8 1.6-.3 1.5.3 1.4.7 1.1 1.1.9 1.6.8 1.9.6 2.3.5 6 .3 6.5-.5 8.2-1.4 6.3-1.7 7-2.4 6.2-2.9 5.3-3.3 3.3-2.9 1.5-2.3.5-1.4 0-1.4-.5-1.2-1-1.1-1.2-.8-1.7-.7-2-.5-5.2-.6-7.4.3-7.7 1.2-4.6 1.1-5.5 1.6-5.1 1.9-3.1 1.3-3 1.5z" fill="#ff0000"/><path d="M193 549l-3.8 2.6-1.1.8-1 1.3-.5.8-.5 1.6.4 1.3.9 1 1.5.8 2.1.5 4.1.4 5.2-.3 6.5-1.1 3.8-1.1 5.2-1.8 3.2-1.4 4.2-2.4 2.3-1.8 1.1-1.1.7-1.1.3-.8.1-1.4-.6-1.2-1.2-.9-1.6-.7-4-.6-4.6 0-5.2.7-6.9 1.6-6 2.1z" fill="#ff0000"/><path d="M164.4 737l-5.1-19-5.6-18.9-5.7-16.6-2.8-7.5-2.8-6.9-4.2-9.2-2.8-5.4-2.8-4.8-2.7-4.2-2.8-3.6-2.7-3-2.7-2.4-2.6-1.8-2.7-1.2-2.6-.6-2.6 0-2.5.6-2.5 1.1-2.5 1.8-2.4 2.3-2.4 2.8-2.4 3.4-2.3 4-2.3 4.4-2.2 5-2.2 5.5-4.2 12.4M166.6 736.1l6.7-11.1 6.7-10.5 6.7-9.9 8.3-11.4 6.7-8.5 6.6-7.9 6.6-7.2 8.2-8.1 6.6-5.7 6.4-5.1 6.5-4.5 7.9-4.7 6.3-3 3.1-1.3 4.7-1.6 6.1-1.6 3-.6 4.6-.5M170.8 729.1l-5.6-21-4.2-14.3-4.3-13.1-4.2-11.8-4.2-10.5-4.2-9.2-4.2-7.8-4.1-6.5-4.1-5.1-1.4-1.4-2.7-2.3-1.4-1-2.6-1.4-2.7-.9-2.6-.2-1.3.1-2.5.6-1.3.6-2.5 1.5-1.2 1-2.5 2.3-2.4 2.9-2.4 3.5M99.9 639.1l-3.5 7-3.3 8.2-3.2 9.3-2.9 9.4M160 720.5l6.7-11.2 6.8-10.7 6.7-10 8.4-11.6 6.6-8.6 8.4-9.8 6.6-7.2 8.3-8 6.5-5.6 6.5-5.1 6.5-4.3 3.2-2 4.8-2.6 6.3-2.9 3.1-1.2 4.7-1.5 6.2-1.5 3-.5 4.6-.4M176.6 719.7l-5.5-21-4.2-14.3-4.2-13-4.3-11.8-4.2-10.5-4.2-9.1-4.2-7.7-4.1-6.5-4.2-5-1.3-1.4-2.7-2.3-1.4-.9-2.7-1.4-1.3-.5-2.6-.4-1.3-.1-2.6.4-1.3.5-2.6 1.2-1.2.9-2.5 2.2-2.5 2.7-2.4 3.2M103.2 635.5l-2.3 5.1-3.3 8.6-3.2 9.8-3.1 10.4M155.1 703.6l6.7-11.2 6.8-10.6 6.7-9.9 8.4-11.6 6.7-8.5 8.4-9.8 6.6-7.1 8.3-7.9 6.6-5.6 6.5-4.9 6.5-4.3 3.2-1.8 4.8-2.6 6.4-2.8 3.2-1.1 4.6-1.5 6.2-1.3 3.1-.4 4.6-.4M182.5 710.7l-4.2-15.9-4.1-14.6-4.2-13.5-4.3-12.2-4.2-10.8-4.2-9.5-4.2-8.2-4.1-6.8-4.2-5.4-1.4-1.5-2.7-2.6-1.4-1-2.7-1.7-1.3-.6-2.7-.7-1.3-.1-2.6.1-1.3.3-2.6 1.1-1.3.7-2.5 1.9-2.5 2.5-2.5 3.1M106.6 632.9l-2.3 5.7-3.3 9.5-2.2 6.9-3 11M150.1 688.5l6.8-11.2 6.7-10.6 6.8-9.9 8.4-11.5 6.7-8.4 8.4-9.7 6.7-7 8.3-7.8 6.6-5.5 6.6-4.8 6.5-4.2 3.2-1.9 4.8-2.4 6.4-2.7 3.2-1.1 4.7-1.3 6.2-1.3 3.1-.3 4.6-.3M188.4 702.3l-4.2-15.9-4.2-14.7-4.1-13.4-4.2-12.1-4.3-10.8-4.2-9.5-4.2-8.1-4.1-6.7-4.2-5.4-1.4-1.5-2.7-2.5-1.4-1-2.7-1.6-1.3-.6-2.7-.6-1.3-.1-2.7.2-1.3.3-2.6 1.1-1.3.8-2.5 2-1.3 1.2-2.5 2.8M109.9 631.5l-4.5 13-2.1 7.2-3 11M145.2 675l6.8-11.1 6.7-10.5 6.8-9.9 8.4-11.4 6.8-8.4 8.4-9.5 6.7-7 8.3-7.7 6.6-5.4 6.6-4.7 6.5-4.1 3.2-1.8 4.9-2.3 6.4-2.6 3.1-1.1 4.8-1.2 6.2-1.1 3.1-.4 4.6-.1M194.2 694.3l-4.1-15.9-4.2-14.6-4.1-13.4-4.2-12-4.2-10.8-4.2-9.4-4.2-8.1-4.2-6.6-4.2-5.3-1.4-1.5-2.7-2.5-1.4-1-2.7-1.5-1.4-.5-2.7-.7-1.3 0-2.7.2-1.3.4-2.6 1.2-1.3.8-2.6 2-1.2 1.2-2.6 2.9M113.2 631.2l-4.4 14.1-3.8 14.2M140.3 663.4l6.7-11.1 6.8-10.4 6.8-9.8 8.4-11.4 6.8-8.3 8.4-9.5 6.7-6.8 8.3-7.6 6.6-5.3 6.6-4.6 6.6-4 3.2-1.8 4.9-2.3 6.4-2.4 3.1-1 4.8-1.2 6.2-1 3.1-.3 4.7-.1M200 686.7l-4.1-15.8-4.1-14.5-4.2-13.4-4.1-12-4.2-10.7-2.8-6.4-4.2-8.4-4.2-7.1-4.2-5.7-1.4-1.6-2.8-2.7-1.3-1.1-2.8-1.8-1.3-.7-2.8-.9-1.3-.2-2.7 0-1.3.3-2.7.9-1.3.7-2.6 1.8-1.3 1.1-2.5 2.7M116.6 631.9l-3.4 11.2-3.2 12.2M135.4 653.5l6.7-11 6.8-10.3 6.8-9.8 8.4-11.2 6.8-8.2 8.4-9.4 6.7-6.7 8.3-7.5 6.7-5.3 6.5-4.5 6.6-3.9 3.2-1.7 4.9-2.2 6.4-2.4 3.2-.9 4.8-1.1 6.2-.9 3.1-.2 4.7-.1M205.8 679.7l-4-15.8-4.2-14.5-4.1-13.3-4.2-11.9-4.2-10.7-2.8-6.3-4.2-8.4-4.1-7-2.8-3.9-1.4-1.7-2.8-3-1.4-1.3-2.7-2-1.4-.8-2.7-1.2-1.4-.3-2.7-.2-1.4.1-2.6.7-1.4.5-2.6 1.6-1.3 1-2.6 2.4M119.8 633.7l-2.2 7.9-3 11.8M130.6 645.5l6.7-10.9 6.7-10.3 6.8-9.6 8.4-11.2 6.8-8.1 8.4-9.3 6.7-6.6 8.3-7.4 6.7-5.1 6.6-4.5 6.5-3.8 3.3-1.6 4.8-2.2 6.4-2.3 3.2-.9 4.8-1 6.3-.8 3.1-.2 4.6.1M211.6 673.2l-4-15.8-4.1-14.5-4.1-13.2-2.8-8.1-4.2-11-2.8-6.6-4.2-8.8-4.2-7.4-2.8-4.1-4.1-5.1-1.4-1.4-2.8-2.3-1.4-1-2.7-1.4-1.4-.4-2.7-.5-1.4 0-2.7.4-1.3.4-2.7 1.4-1.3.8-2.6 2.2M123.1 636.5l-3.3 12.7M125.8 639.3l6.7-10.8 6.7-10.2 6.8-9.5 8.4-11 6.7-8.1 8.4-9.2 6.7-6.5 8.3-7.3 6.7-5 6.6-4.4 6.5-3.7 3.3-1.6 4.8-2.1 6.4-2.2 3.2-.8 4.8-1 6.3-.7 3.1-.1 4.6.1M217.4 667.1l-4-15.7-4.1-14.4-4.1-13.2-2.8-8-4.1-11-2.8-6.5-4.2-8.8-4.2-7.3-2.8-4.1-4.2-5-1.4-1.4-2.8-2.3-1.3-.9-2.8-1.3-2.8-.8-1.3-.1-2.7.2-1.4.3-2.7 1.1-1.3.7-2.7 2M126.4 640.3l-1.1 4.4M121.1 635l6.7-10.7 6.7-10.1 6.7-9.5 8.4-10.9 6.7-7.9 8.4-9.1 6.7-6.4 8.3-7.2 6.6-4.9 6.6-4.3 6.5-3.6 3.3-1.6 4.8-2 6.4-2.1 3.2-.8 4.8-.9 6.2-.6 3.2-.1 4.6.2M223.1 661.5l-4-15.6-4-14.4-4.1-13.1-2.8-8-4.1-10.9-2.8-6.5-2.8-5.9-4.2-7.7-2.8-4.4-4.2-5.4-1.4-1.5-2.7-2.6-1.4-1-2.8-1.6-2.8-1-1.4-.3-2.7 0-1.4.1-2.7.9-1.3.6-2.7 1.7M116.4 632.5l6.7-10.6 6.7-10 6.7-9.3 8.3-10.8 6.7-7.9 6.7-7.2 6.7-6.5 8.3-7.2 6.6-5.1 6.6-4.3 6.5-3.7 3.3-1.6 4.8-2.1 6.4-2.2 6.4-1.5 6.3-.9 3.1-.2 4.7 0M228.9 656.5l-4-15.6-4.1-14.3-4-13-2.8-8-4.1-10.8-2.8-6.5-2.8-5.9-4.2-7.6-2.8-4.4-4.2-5.3-1.4-1.5-2.8-2.5-1.3-1-2.8-1.6-2.8-.9-1.4-.3-2.7 0-1.4.2-2.7.9-1.4.6-2.7 1.8M111.9 631.9l9.9-15.6 5-7.2 6.7-9.1 5-6.3 6.7-8 5-5.5 6.6-6.8 5-4.6 6.6-5.6 5-3.8 6.5-4.4 4.9-2.9 6.5-3.3 4.8-2 6.5-2.1M234.5 651.9l-3.9-15.5-4-14.2-4.1-13-2.7-7.9-4.2-10.8-2.7-6.4-2.8-5.8-4.2-7.6-2.8-4.3-4.2-5.3-2.8-2.8-1.4-1.1-2.8-1.8-2.8-1.2-1.3-.4-2.8-.3-1.4.1-2.7.6-1.4.5-2.7 1.5M107.4 633l8.3-12.9 8.3-11.9 8.3-10.9 8.3-9.9 8.2-8.8 8.3-7.8 8.2-6.8 5-3.6 4.9-3.2M240.2 647.8l-4-15.4-2.6-9.6-4.1-13.3-2.7-8.2-4.1-11.1-2.7-6.7-2.8-6.1-4.2-8-2.8-4.5-4.1-5.7-2.8-3-1.4-1.3-2.8-2.1-2.8-1.4-1.4-.5-2.8-.6-1.4-.1-2.8.4-1.3.4-2.8 1.2M103.1 635.9l4.9-7.8 4.9-7.3 5-7.1 6.6-8.8 4.9-6.2 5-5.9 4.9-5.5 6.6-6.7M245.8 644.2l-3.9-15.3-2.7-9.6-4-13.2-2.7-8.1-4.1-11.1-2.7-6.6-2.8-6-4.2-8-2.8-4.5-4.1-5.6-2.8-2.9-1.4-1.3-2.8-2-2.8-1.5-1.4-.4-2.8-.6-2.8.1-1.4.3-2.7 1M98.9 640.5l8.1-12.5 4.9-7.1 4.9-6.7M251.3 641.1l-3.9-15.3-2.6-9.4-4-13.2-2.7-8.1-4.1-10.9-2.7-6.6-2.7-6-2.8-5.4-2.8-4.7-4.2-6-2.8-3.3-1.4-1.3-2.8-2.4-2.8-1.6-1.4-.7-2.8-.7-2.8-.2-1.4.1-2.7.7M94.8 646.8l3.2-5M256.8 638.5l-3.8-15.2-2.7-9.4-3.9-13.1-2.7-8-4.1-10.9-2.7-6.5-2.7-5.9-2.8-5.4-2.8-4.7-2.8-4.1-2.8-3.5-1.4-1.5-2.8-2.6-2.8-1.9-1.4-.8-2.8-1-2.8-.4-1.4 0-2.8.4M90.8 654.8l6.4-9.9 6.5-9.2M262.3 636.4l-3.9-15.1-2.6-9.4-5.2-17-4.1-11.3-2.7-6.7-2.7-6.2-2.8-5.6-2.7-5-2.8-4.3-2.8-3.8-1.4-1.6-2.8-2.9-2.8-2.2-1.4-.9-2.8-1.3-2.8-.7-1.4-.1-2.8.2M87 664.3l4.8-7.4 6.3-9.2 6.4-8.6 6.4-8M267.7 634.7l-3.9-15-2.5-9.3-5.3-16.9-4-11.2-2.7-6.7-2.7-6.1-2.8-5.5-2.7-4.9-2.8-4.3-2.8-3.7-1.4-1.7-2.8-2.8-2.8-2.1-2.8-1.6-2.8-1-1.4-.2-2.8-.1M83.3 675.2l7.9-11.8 7.9-10.8 7.9-10 4.8-5.5 4.8-5.2M273 633.6l-3.8-14.9-2.6-9.3-5.2-16.8-2.6-7.5-2.7-6.9-2.7-6.4-2.7-5.8-2.8-5.1-2.7-4.6-2.8-4-1.4-1.7-2.8-3.1-2.8-2.4-2.8-1.8-2.8-1.3-1.4-.4-2.8-.3M93.9 667.4l6.2-8 7.9-9.3 6.3-6.7 7.8-7.5M278.3 632.9l-3.8-14.8-2.5-9.2-5.2-16.6-2.7-7.5-2.6-6.9-2.7-6.3-2.8-5.7-2.7-5.1-2.7-4.6-2.8-3.9-1.4-1.7-2.8-3-2.8-2.4-2.8-1.8-2.8-1.2-1.4-.4-2.8-.3M116.7 652l6.2-5.4 6.2-4.9" fill="none" stroke="#0a0a0a" stroke-width="0.75" stroke-linejoin="round" stroke-linecap="round"/>
<circle cx="177.7" cy="610.6" r="3.1" fill="#c63e3a" opacity="1"/><circle cx="120.9" cy="622.5" r="3.1" fill="#c63e3a" opacity="1"/><path d="M236.1 571.8L236.1 585" stroke="#4a5478" stroke-width="0.9" stroke-dasharray="1 1.1" fill="none" opacity="0.35"/><circle cx="236.1" cy="571.8" r="3.1" fill="#c63e3a" opacity="0.35"/>
<text transform="matrix(1.000 -0.418 -0.200 1.000 65.6 665.8)" font-size="10.3" text-anchor="end">0</text><text transform="matrix(1.000 -0.418 -0.200 1.000 64.9 650.7)" font-size="10.3" text-anchor="end">20</text><text transform="matrix(1.000 -0.418 -0.200 1.000 64.1 635.4)" font-size="10.3" text-anchor="end">40</text><text transform="matrix(1.000 -0.418 -0.200 1.000 63.4 619.9)" font-size="10.3" text-anchor="end">60</text><text transform="matrix(1.000 -0.418 -0.200 1.000 62.6 604.2)" font-size="10.3" text-anchor="end">80</text><text transform="matrix(1.000 -0.418 -0.200 1.000 61.9 588.2)" font-size="10.3" text-anchor="end">100</text><text transform="matrix(1.000 -0.418 -0.200 1.000 61.1 572)" font-size="10.3" text-anchor="end">120</text><text transform="matrix(1.000 -0.418 -0.200 1.000 60.3 555.5)" font-size="10.3" text-anchor="end">140</text><text transform="matrix(0.822 -0.414 0.740 0.547 158.7 743.9)" font-size="10.3" text-anchor="end">0.2</text><text transform="matrix(0.822 -0.414 0.740 0.547 148 736)" font-size="10.3" text-anchor="end">0.4</text><text transform="matrix(0.822 -0.414 0.740 0.547 137.5 728.3)" font-size="10.3" text-anchor="end">0.6</text><text transform="matrix(0.822 -0.414 0.740 0.547 127.2 720.6)" font-size="10.3" text-anchor="end">0.8</text><text transform="matrix(0.822 -0.414 0.740 0.547 117.1 713.2)" font-size="10.3" text-anchor="end">1.0</text><text transform="matrix(0.822 -0.414 0.740 0.547 107.1 705.8)" font-size="10.3" text-anchor="end">1.2</text><text transform="matrix(0.822 -0.414 0.740 0.547 97.3 698.5)" font-size="10.3" text-anchor="end">1.4</text><text transform="matrix(0.822 -0.414 0.740 0.547 87.6 691.4)" font-size="10.3" text-anchor="end">1.6</text><text transform="matrix(0.822 -0.414 0.740 0.547 78.1 684.3)" font-size="10.3" text-anchor="end">1.8</text><text transform="matrix(0.822 -0.414 0.740 0.547 68.7 677.4)" font-size="10.3" text-anchor="end">2.0</text><text transform="matrix(0.740 0.547 -0.822 0.414 168.8 743.9)" font-size="10.3" text-anchor="start">0.0</text><text transform="matrix(0.740 0.547 -0.822 0.414 183.4 736.6)" font-size="10.3" text-anchor="start">0.5</text><text transform="matrix(0.740 0.547 -0.822 0.414 197.8 729.3)" font-size="10.3" text-anchor="start">1.0</text><text transform="matrix(0.740 0.547 -0.822 0.414 212 722.2)" font-size="10.3" text-anchor="start">1.5</text><text transform="matrix(0.740 0.547 -0.822 0.414 225.9 715.2)" font-size="10.3" text-anchor="start">2.0</text><text transform="matrix(0.740 0.547 -0.822 0.414 239.7 708.3)" font-size="10.3" text-anchor="start">2.5</text><text transform="matrix(0.740 0.547 -0.822 0.414 253.3 701.4)" font-size="10.3" text-anchor="start">3.0</text><text transform="matrix(0.740 0.547 -0.822 0.414 266.6 694.7)" font-size="10.3" text-anchor="start">3.5</text><text transform="matrix(0.740 0.547 -0.822 0.414 279.8 688.1)" font-size="10.3" text-anchor="start">4.0</text><path d="M75 671L69.1 547.7M74.4 657.9l-3.7 1.5M74.2 654.9l-2 0.8M74.1 651.9l-2 0.8M73.9 648.9l-2 0.8M73.8 645.9l-2 0.8M73.6 642.9l-3.7 1.5M73.5 639.8l-2 0.8M73.4 636.8l-2 0.8M73.2 633.7l-2 0.8M73.1 630.7l-2 0.8M72.9 627.6l-3.7 1.5M72.8 624.5l-2 0.8M72.6 621.4l-2 0.8M72.5 618.3l-2 0.8M72.3 615.2l-2 0.8M72.2 612.1l-3.7 1.5M72 608.9l-2 0.8M71.9 605.8l-2 0.8M71.7 602.6l-2 0.8M71.6 599.5l-2 0.8M71.4 596.3l-3.7 1.5M71.3 593.1l-2 0.8M71.1 590l-2 0.8M71 586.8l-2 0.8M70.8 583.6l-2 0.8M70.6 580.3l-3.7 1.5M70.5 577.1l-2 0.8M70.3 573.9l-2 0.8M70.2 570.6l-2 0.8M70 567.4l-2 0.8M69.9 564.1l-3.7 1.5M69.7 560.9l-2 0.8M69.5 557.6l-2 0.8M69.4 554.3l-2 0.8M69.2 551l-2 0.8M69.1 547.7l-3.7 1.5M74.5 660.9l-2 0.8M74.7 663.9l-2 0.8M74.8 666.9l-2 0.8M74.9 669.8l-2 0.8M75 671L164.9 737.4M164.9 737.4L275.9 681.5M164.9 737.4l-3.6 1.8M159.6 733.5l-2 1M154.3 729.5l-3.6 1.8M149 725.7l-2 1M143.8 721.8l-3.6 1.8M138.6 718l-2 1M133.5 714.2l-3.6 1.8M128.4 710.4l-2 1M123.4 706.7l-3.6 1.8M118.4 703l-2 1M113.4 699.3l-3.6 1.8M108.5 695.7l-2 1M103.6 692.1l-3.6 1.8M98.7 688.5l-2 1M93.9 684.9l-3.6 1.8M89.1 681.4l-2 1M84.4 677.9l-3.6 1.8M79.7 674.4l-2 1M75 671l-3.6 1.8M164.9 737.4l3.2 2.4M167.9 735.9l1.8 1.3M170.8 734.5l1.8 1.3M173.7 733l1.8 1.3M176.6 731.5l1.8 1.3M179.5 730.1l3.2 2.4M182.4 728.6l1.8 1.3M185.3 727.1l1.8 1.3M188.2 725.7l1.8 1.3M191.1 724.3l1.8 1.3M193.9 722.8l3.2 2.4M196.8 721.4l1.8 1.3M199.6 719.9l1.8 1.3M202.5 718.5l1.8 1.3M205.3 717.1l1.8 1.3M208.1 715.7l3.2 2.4M210.9 714.3l1.8 1.3M213.7 712.9l1.8 1.3M216.5 711.4l1.8 1.3M219.3 710l1.8 1.3M222.1 708.6l3.2 2.4M224.8 707.3l1.8 1.3M227.6 705.9l1.8 1.3M230.3 704.5l1.8 1.3M233.1 703.1l1.8 1.3M235.8 701.7l3.2 2.4M238.5 700.4l1.8 1.3M241.3 699l1.8 1.3M244 697.6l1.8 1.3M246.7 696.3l1.8 1.3M249.4 694.9l3.2 2.4M252 693.5l1.8 1.3M254.7 692.2l1.8 1.3M257.4 690.9l1.8 1.3M260.1 689.5l1.8 1.3M262.7 688.2l3.2 2.4M265.4 686.8l1.8 1.3M268 685.5l1.8 1.3M270.6 684.2l1.8 1.3M273.3 682.9l1.8 1.3M275.9 681.5l3.2 2.4" stroke="#000" stroke-width="0.9" fill="none"/><text transform="translate(20.7 627.5) rotate(85)" font-size="11.4" text-anchor="middle" style="" fill="#000">L-asparaginase production</text><text transform="translate(5.8 637.5) rotate(85)" font-size="11.4" text-anchor="middle" style="" fill="#000">(U/gds)</text><text transform="translate(75.4 728) rotate(38.5)" font-size="10.6" text-anchor="middle" style="font-style:italic;" fill="#000">KNO<tspan font-size="70%" dy="2">3</tspan><tspan dy="-2"> (g/L)</tspan></text><text transform="translate(258.8 739.6) rotate(-25.5)" font-size="11.2" text-anchor="middle" style="" fill="#000">Dextrose (g/L)</text>
<rect x="283.4" y="569.6" width="15.4" height="9.2" fill="#ff0000" stroke="#222" stroke-width="0.9"/><text transform="translate(303.3 577.6) rotate(0)" font-size="9.8" text-anchor="start" style="" fill="#000">&gt; 120</text><rect x="283.4" y="581.4" width="15.4" height="9.2" fill="#e04048" stroke="#222" stroke-width="0.9"/><text transform="translate(303.3 589.4) rotate(0)" font-size="9.8" text-anchor="start" style="" fill="#000">&lt; 120</text><rect x="283.4" y="593.1" width="15.4" height="9.2" fill="#a8a8a8" stroke="#222" stroke-width="0.9"/><text transform="translate(303.3 601.1) rotate(0)" font-size="9.8" text-anchor="start" style="" fill="#000">&lt; 100</text><rect x="283.4" y="604.9" width="15.4" height="9.2" fill="#e0e048" stroke="#222" stroke-width="0.9"/><text transform="translate(303.3 612.9) rotate(0)" font-size="9.8" text-anchor="start" style="" fill="#000">&lt; 80</text><rect x="283.4" y="616.6" width="15.4" height="9.2" fill="#ffd800" stroke="#222" stroke-width="0.9"/><text transform="translate(303.3 624.6) rotate(0)" font-size="9.8" text-anchor="start" style="" fill="#000">&lt; 60</text><rect x="283.4" y="628.4" width="15.4" height="9.2" fill="#ff8810" stroke="#222" stroke-width="0.9"/><text transform="translate(303.3 636.4) rotate(0)" font-size="9.8" text-anchor="start" style="" fill="#000">&lt; 40</text><rect x="283.4" y="640.1" width="15.4" height="9.2" fill="#50d8a8" stroke="#222" stroke-width="0.9"/><text transform="translate(303.3 648.1) rotate(0)" font-size="9.8" text-anchor="start" style="" fill="#000">&lt; 20</text><rect x="283.4" y="651.9" width="15.4" height="9.2" fill="#10d0e0" stroke="#222" stroke-width="0.9"/><text transform="translate(303.3 659.9) rotate(0)" font-size="9.8" text-anchor="start" style="" fill="#000">&lt; 0</text>
</g>
<g>
<path d="M412.1 668.7L405.9 547.5M426.2 662.3L421 541.7M440.1 656L435.8 536M453.9 649.8L450.4 530.4M467.4 643.8L464.8 524.8M480.8 637.7L478.9 519.3M493.9 631.8L492.9 514M506.9 626L506.6 508.7M519.7 620.2L520.2 503.4M611 679.4L617.3 557.4M598.8 671.6L604.4 550.2M586.9 663.9L591.6 543.1M575.2 656.3L579.2 536.2M563.7 648.8L566.9 529.4M552.4 641.5L554.9 522.7M541.3 634.3L543.1 516.2M530.4 627.2L531.6 509.8M519.7 620.2L520.2 503.4M411.4 655.9L519.7 607.9M519.7 607.9L611.6 666.6M410.8 643L519.8 595.4M519.8 595.4L612.3 653.6M410.1 629.9L519.8 582.8M519.8 582.8L613 640.4M409.4 616.6L519.9 570M519.9 570L613.7 627M408.7 603.2L519.9 557M519.9 557L614.4 613.5M408 589.6L520 543.9M520 543.9L615.1 599.7M407.3 575.7L520.1 530.6M520.1 530.6L615.8 585.8M406.6 561.7L520.1 517.1M520.1 517.1L616.6 571.7M405.9 547.5L520.2 503.4M520.2 503.4L617.3 557.4" stroke="#a8a8a8" stroke-width="0.6" stroke-dasharray="1 1" fill="none"/><path d="M405.9 547.5L520.2 503.4M520.2 503.4L617.3 557.4M519.7 620.2L520.2 503.4M611 679.4L617.3 557.4M412.1 668.7L519.7 620.2M519.7 620.2L611 679.4" stroke="#aaa" stroke-width="0.6" stroke-dasharray="1 1" fill="none"/>
<clipPath id="fcF"><path d="M500.9 735.4L611 679.4L519.7 620.2L412.1 668.7z"/></clipPath><g clip-path="url(#fcF)"><path d="M500.9 735.4L611 679.4L519.7 620.2L412.1 668.7z" fill="#4ce0b3"/><path d="M489.9 781l-16.7-3.5-14.8-7.5-12.3-10.9-9.2-13.8-6-15.8-2.5-17 .8-17.6 3.9-17.3 6.8-16.4 9.1-15 11.1-13.2 12.7-10.9 13.7-8.5 14.4-6 14.6-3.1 14.4-.4 13.8 2.3 12.9 5.2 11.4 7.8 9.7 10.2 7.5 12.6 5.1 14.5 2.2 16.1-.7 17.1-4 17.5-7.1 17.3-10.3 16.3-13 14.4-15.3 11.8-16.9 8.5-17.7 4.7z" fill="#67d399"/><path d="M490.1 779.9l-16.4-3.5-14.7-7.3-12.1-10.8-9.2-13.6-5.9-15.6-2.6-16.9.8-17.4 3.9-17.1 6.7-16.3 9-14.9 11-13 12.5-10.9 13.7-8.4 14.2-5.9 14.5-3.1 14.3-.4 13.7 2.3 12.7 5.1 11.3 7.8 9.6 10.1 7.4 12.5 5 14.4 2.2 15.9-.7 16.9-4 17.4-7.1 17.1-10.1 16.1-12.9 14.2-15.1 11.7-16.8 8.4-17.5 4.6z" fill="#81c47e"/><path d="M490.4 778.9l-16.3-3.5-14.5-7.3-12-10.6-9.1-13.5-5.9-15.4-2.5-16.7.8-17.2 3.8-17 6.6-16.1 8.9-14.7 10.9-12.9 12.4-10.8 13.5-8.4 14.1-5.8 14.3-3.1 14.2-.4 13.6 2.3 12.5 5.1 11.3 7.6 9.5 10.2 7.3 12.3 5 14.2 2.2 15.8-.8 16.8-3.9 17.1-7.1 17-10 15.9-12.8 14.1-15 11.5-16.5 8.3-17.3 4.6z" fill="#9cb562"/><path d="M490.6 777.8l-16.1-3.4-14.3-7.2-11.9-10.6-9-13.2-5.8-15.3-2.5-16.5.7-17 3.8-16.8 6.5-16 8.8-14.5 10.8-12.8 12.3-10.7 13.3-8.3 14-5.8 14.2-3.1 14-.4 13.5 2.4 12.4 5 11.1 7.5 9.4 10.1 7.3 12.2 4.9 14.1 2.2 15.6-.8 16.6-3.9 17-7 16.7-9.9 15.8-12.7 13.9-14.8 11.4-16.3 8.2-17.2 4.5z" fill="#aea84e"/><path d="M490.8 776.7l-15.8-3.4-14.2-7.1-11.8-10.4-8.9-13.1-5.8-15.1-2.5-16.3.8-16.8 3.7-16.7 6.4-15.7 8.7-14.5 10.7-12.6 12.1-10.6 13.3-8.3 13.8-5.7 14.1-3 13.9-.4 13.3 2.3 12.3 4.9 11 7.6 9.3 9.9 7.2 12.1 4.8 13.9 2.1 15.5-.8 16.4-3.8 16.9-6.9 16.5-9.9 15.5-12.5 13.8-14.6 11.2-16.2 8.2-16.9 4.4z" fill="#bd9b3c"/><path d="M491.1 775.6l-15.7-3.3-14-7-11.7-10.3-8.8-13-5.7-14.9-2.5-16.1.7-16.7 3.7-16.4 6.3-15.6 8.7-14.3 10.5-12.6 12-10.4 13.1-8.2 13.7-5.6 13.9-3.1 13.8-.4 13.2 2.3 12.2 4.9 10.9 7.5 9.2 9.8 7.1 12 4.7 13.8 2.1 15.3-.8 16.3-3.8 16.6-6.9 16.4-9.7 15.3-12.4 13.6-14.5 11.1-15.9 8-16.8 4.4z" fill="#d5942b"/><path d="M491.3 774.5l-15.5-3.3-13.8-6.9-11.5-10.2-8.8-12.7-5.6-14.8-2.5-15.9.7-16.5 3.6-16.2 6.2-15.5 8.6-14.1 10.4-12.5 11.9-10.3 12.9-8.1 13.6-5.6 13.8-3 13.6-.4 13.1 2.2 12.1 4.9 10.7 7.4 9.1 9.7 7.1 11.9 4.7 13.7 2 15.1-.8 16.1-3.8 16.4-6.8 16.2-9.7 15.2-12.2 13.4-14.3 11-15.8 7.9-16.5 4.3z" fill="#ef8f1a"/><path d="M491.6 773.4l-15.3-3.3-13.7-6.8-11.4-10-8.6-12.6-5.6-14.6-2.5-15.7.7-16.3 3.5-16.1 6.2-15.3 8.4-14 10.3-12.3 11.8-10.2 12.8-8 13.4-5.6 13.7-3 13.4-.4 13 2.3 11.9 4.8 10.7 7.3 9 9.7 6.9 11.7 4.7 13.6 2 14.9-.9 15.9-3.7 16.3-6.8 16-9.5 14.9-12.1 13.3-14.1 10.8-15.6 7.8-16.4 4.3z" fill="#ff8c10"/><path d="M491.9 772.2l-15.2-3.2-13.5-6.7-11.3-9.9-8.5-12.4-5.5-14.4-2.5-15.6.6-16 3.5-15.9 6.1-15.1 8.4-13.9 10.1-12.1 11.7-10.2 12.6-7.9 13.3-5.5 13.5-3 13.4-.4 12.7 2.2 11.9 4.8 10.5 7.3 8.9 9.5 6.9 11.6 4.5 13.4 2 14.8-.8 15.8-3.7 16-6.7 15.8-9.5 14.8-11.9 13.1-14 10.7-15.4 7.7-16.1 4.2z" fill="#ff8b10"/><path d="M492.1 771.1l-14.9-3.1-13.4-6.7-11.1-9.7-8.4-12.3-5.5-14.2-2.5-15.4.6-15.8 3.5-15.7 6-15 8.2-13.7 10.1-12 11.5-10.1 12.5-7.8 13.1-5.5 13.4-2.9 13.2-.4 12.6 2.2 11.7 4.7 10.5 7.2 8.7 9.5 6.8 11.5 4.5 13.2 2 14.7-.9 15.5-3.7 15.9-6.6 15.6-9.3 14.6-11.8 12.9-13.8 10.5-15.3 7.6-15.9 4.2z" fill="#ff8b10"/><path d="M492.4 770l-14.8-3.1-13.1-6.6-11-9.6-8.4-12.1-5.4-14-2.4-15.2.5-15.7 3.4-15.5 5.9-14.7 8.2-13.6 9.9-11.9 11.4-10 12.4-7.7 13-5.4 13.2-2.9 13-.4 12.5 2.2 11.6 4.7 10.3 7.1 8.7 9.3 6.7 11.4 4.4 13.1 1.9 14.5-.8 15.3-3.7 15.7-6.6 15.4-9.2 14.4-11.6 12.7-13.7 10.4-15 7.5-15.7 4.1z" fill="#ff940e"/><path d="M492.6 768.8l-14.5-3.1-13-6.4-10.9-9.5-8.2-11.9-5.4-13.8-2.4-15 .6-15.5 3.3-15.3 5.8-14.6 8-13.4 9.9-11.8 11.2-9.8 12.2-7.7 12.9-5.3 13-2.9 12.9-.4 12.4 2.2 11.4 4.6 10.2 7 8.6 9.3 6.6 11.2 4.3 13 1.9 14.3-.8 15.2-3.7 15.4-6.4 15.2-9.2 14.2-11.5 12.6-13.4 10.2-14.9 7.4-15.5 4.1z" fill="#ff9d0c"/><path d="M492.9 767.6l-14.4-3-12.8-6.3-10.7-9.4-8.1-11.8-5.4-13.6-2.3-14.7.5-15.3 3.3-15.1 5.7-14.5 7.9-13.2 9.7-11.6 11.1-9.8 12.1-7.6 12.7-5.2 12.9-2.9 12.7-.4 12.3 2.2 11.3 4.6 10 6.9 8.5 9.2 6.5 11.1 4.3 12.8 1.8 14.1-.8 15-3.6 15.3-6.4 15-9 14-11.4 12.4-13.3 10-14.6 7.3-15.3 4z" fill="#ffa50a"/><path d="M493.2 766.4l-14.2-2.9-12.6-6.3-10.6-9.2-8-11.6-5.3-13.4-2.4-14.6.5-15 3.2-15 5.7-14.2 7.8-13.1 9.6-11.5 10.9-9.6 12-7.5 12.5-5.2 12.8-2.9 12.6-.3 12 2.1 11.2 4.5 9.9 6.9 8.4 9 6.4 11 4.2 12.7 1.8 13.9-.8 14.8-3.6 15.1-6.3 14.8-8.9 13.8-11.3 12.2-13.1 9.9-14.4 7.2-15.1 3.9z" fill="#ffae08"/><path d="M493.4 765.2l-13.9-2.9-12.5-6.1-10.4-9.1-7.9-11.4-5.2-13.3-2.4-14.3.5-14.9 3.1-14.7 5.6-14.1 7.7-12.9 9.4-11.3 10.8-9.5 11.8-7.5 12.4-5.1 12.6-2.8 12.5-.4 11.9 2.1 11 4.5 9.8 6.8 8.2 8.9 6.4 10.9 4.2 12.5 1.7 13.8-.8 14.6-3.6 14.8-6.2 14.6-8.8 13.6-11.1 12-12.9 9.8-14.3 7.1-14.8 3.8z" fill="#ffb606"/><path d="M493.7 764l-13.7-2.8-12.3-6.1-10.3-8.9-7.8-11.3-5.2-13-2.3-14.2.5-14.6 3.1-14.5 5.4-13.9 7.6-12.7 9.3-11.3 10.7-9.4 11.6-7.3 12.2-5.1 12.5-2.8 12.3-.3 11.7 2.1 10.9 4.4 9.7 6.7 8.1 8.8 6.3 10.8 4.1 12.3 1.7 13.6-.9 14.4-3.5 14.6-6.2 14.4-8.6 13.4-11 11.9-12.7 9.6-14 6.9-14.6 3.8z" fill="#ffbf04"/><path d="M494 762.8l-13.5-2.8-12.1-6-10.2-8.8-7.7-11-5.1-12.9-2.3-13.9.4-14.4 3.1-14.4 5.4-13.6 7.4-12.6 9.2-11.1 10.5-9.3 11.5-7.2 12.1-5.1 12.2-2.7 12.2-.3 11.6 2 10.7 4.4 9.6 6.6 8 8.7 6.1 10.6 4.1 12.2 1.6 13.4-.8 14.2-3.5 14.5-6.1 14.1-8.6 13.2-10.7 11.7-12.6 9.5-13.8 6.8-14.4 3.7z" fill="#ffc702"/><path d="M494.3 761.6l-13.4-2.8-11.9-5.9-10-8.6-7.6-10.9-5-12.6-2.3-13.8.4-14.2 3-14.1 5.3-13.5 7.4-12.4 9-10.9 10.3-9.2 11.4-7.1 11.9-5 12.1-2.7 12-.3 11.4 2 10.6 4.3 9.4 6.6 7.9 8.6 6.1 10.4 3.9 12 1.7 13.2-.9 14-3.4 14.3-6 13.9-8.5 13-10.6 11.5-12.4 9.3-13.6 6.7-14.1 3.7z" fill="#ffd000"/><path d="M494.6 760.3l-13.2-2.7-11.7-5.8-9.8-8.5-7.5-10.7-5-12.4-2.3-13.5.4-14 3-13.9 5.2-13.3 7.2-12.2 8.9-10.8 10.2-9.1 11.2-7 11.7-4.9 12-2.7 11.8-.3 11.3 2 10.4 4.2 9.3 6.5 7.8 8.5 5.9 10.3 3.9 11.8 1.6 13.1-.8 13.8-3.5 14-5.9 13.7-8.3 12.8-10.5 11.3-12.2 9.1-13.3 6.6-14 3.6z" fill="#ffd800"/><path d="M494.8 759l-12.9-2.6-11.5-5.7-9.7-8.3-7.4-10.6-4.9-12.2-2.2-13.3.4-13.7 2.8-13.7 5.1-13.1 7.1-12.1 8.8-10.6 10.1-8.9 11-7 11.5-4.9 11.8-2.6 11.6-.3 11.2 2 10.3 4.2 9.1 6.3 7.7 8.4 5.8 10.2 3.9 11.7 1.5 12.8-.8 13.6-3.4 13.8-5.9 13.5-8.2 12.6-10.3 11-11.9 9.1-13.2 6.4-13.7 3.6z" fill="#ffe000"/><path d="M495.1 757.8l-12.6-2.7-11.4-5.5-9.5-8.2-7.3-10.4-4.8-12-2.2-13 .3-13.6 2.8-13.5 5-12.9 7-11.8 8.6-10.5 9.9-8.8 10.9-6.9 11.4-4.8 11.6-2.5 11.4-.4 11 2 10.2 4.1 9 6.3 7.5 8.3 5.8 10 3.7 11.5 1.5 12.6-.8 13.4-3.4 13.6-5.7 13.3-8.1 12.3-10.2 10.9-11.7 8.9-13 6.3-13.5 3.5z" fill="#ffe900"/><path d="M495.4 756.4l-12.4-2.5-11.2-5.5-9.3-8-7.2-10.2-4.8-11.8-2.2-12.8.4-13.3 2.7-13.3 4.9-12.7 6.9-11.7 8.5-10.3 9.7-8.6 10.7-6.8 11.2-4.7 11.4-2.6 11.3-.3 10.8 1.9 10 4.1 8.9 6.2 7.4 8.1 5.7 9.9 3.6 11.3 1.5 12.5-.8 13.1-3.3 13.4-5.7 13-8 12.2-10 10.7-11.5 8.6-12.7 6.3-13.3 3.4z" fill="#fff100"/><path d="M495.7 755.1l-12.2-2.5-11-5.4-9.2-7.8-7-10-4.7-11.6-2.2-12.6.3-13.1 2.7-13 4.8-12.5 6.8-11.5 8.3-10.2 9.6-8.5 10.5-6.7 11-4.6 11.3-2.5 11.1-.3 10.6 1.9 9.9 4 8.7 6.1 7.3 8 5.5 9.7 3.6 11.2 1.5 12.2-.9 12.9-3.2 13.2-5.6 12.8-7.9 11.9-9.8 10.5-11.3 8.5-12.5 6.1-13 3.4z" fill="#fff900"/><path d="M496 753.8l-12-2.5-10.7-5.2-9.1-7.8-6.9-9.7-4.6-11.4-2.2-12.4.3-12.8 2.6-12.8 4.8-12.3 6.6-11.3 8.2-10 9.4-8.4 10.3-6.6 10.9-4.6 11-2.4 11-.3 10.4 1.8 9.7 4 8.6 6 7.1 7.9 5.5 9.6 3.5 10.9 1.4 12.1-.8 12.7-3.2 12.9-5.6 12.5-7.7 11.7-9.6 10.3-11.2 8.4-12.2 6-12.8 3.3z" fill="#fefe01"/><path d="M496.3 752.4l-11.7-2.4-10.6-5.1-8.8-7.6-6.9-9.6-4.5-11.1-2.1-12.2.2-12.6 2.6-12.5 4.6-12.1 6.5-11.1 8-9.9 9.3-8.2 10.1-6.5 10.7-4.5 10.9-2.4 10.7-.3 10.3 1.8 9.5 3.9 8.5 5.9 7 7.8 5.3 9.4 3.5 10.8 1.4 11.8-.9 12.5-3.2 12.6-5.4 12.4-7.6 11.4-9.4 10.1-11 8.2-12 5.9-12.5 3.2z" fill="#fbfb08"/><path d="M496.7 751l-11.6-2.3-10.3-5.1-8.7-7.4-6.7-9.4-4.5-10.9-2.1-11.9.3-12.3 2.5-12.4 4.5-11.8 6.3-10.9 7.9-9.7 9.1-8.1 10-6.4 10.4-4.4 10.7-2.4 10.6-.3 10.1 1.8 9.4 3.9 8.2 5.8 6.9 7.6 5.3 9.3 3.4 10.5 1.3 11.7-.9 12.2-3.1 12.4-5.4 12.1-7.4 11.2-9.3 9.9-10.7 8-11.8 5.8-12.3 3.1z" fill="#f8f80f"/><path d="M497 749.6l-11.3-2.3-10.2-4.9-8.5-7.2-6.5-9.2-4.4-10.7-2.1-11.7.2-12.1 2.4-12.1 4.5-11.6 6.2-10.7 7.7-9.5 8.9-8 9.8-6.2 10.3-4.4 10.5-2.3 10.4-.3 9.9 1.7 9.2 3.8 8.1 5.7 6.7 7.5 5.2 9.1 3.3 10.4 1.3 11.4-.9 12-3.1 12.2-5.2 11.8-7.3 11-9.1 9.7-10.5 7.8-11.6 5.6-12 3.1z" fill="#f5f517"/><path d="M497.3 748.2l-11.1-2.3-9.9-4.8-8.3-7-6.5-9-4.3-10.5-2-11.4.2-11.8 2.4-11.9 4.3-11.4 6.1-10.5 7.5-9.3 8.8-7.8 9.5-6.2 10.1-4.2 10.3-2.3 10.2-.3 9.8 1.7 8.9 3.7 8 5.6 6.6 7.4 5 8.9 3.3 10.2 1.2 11.2-.8 11.7-3.1 11.9-5.1 11.6-7.2 10.8-8.9 9.4-10.3 7.7-11.3 5.5-11.7 3z" fill="#eeee28"/><path d="M497.6 746.7l-10.8-2.2-9.7-4.7-8.1-6.9-6.3-8.7-4.3-10.2-2-11.2.2-11.6 2.3-11.6 4.2-11.1 6-10.4 7.4-9.1 8.5-7.7 9.4-6 9.9-4.2 10.1-2.2 10-.3 9.5 1.7 8.8 3.6 7.8 5.5 6.5 7.2 4.9 8.8 3.2 10 1.2 10.9-.9 11.5-3 11.7-5 11.3-7 10.6-8.7 9.2-10.1 7.5-11.1 5.3-11.5 3z" fill="#e7e73a"/><path d="M498 745.3l-10.6-2.2-9.5-4.6-7.9-6.7-6.2-8.6-4.2-9.9-1.9-10.9.1-11.4 2.2-11.3 4.2-10.9 5.8-10.1 7.2-8.9 8.4-7.6 9.2-5.9 9.7-4.1 9.8-2.2 9.8-.3 9.4 1.7 8.6 3.6 7.6 5.4 6.3 7 4.8 8.6 3.1 9.8 1.2 10.7-.9 11.2-2.9 11.4-5 11.1-6.8 10.3-8.5 9-9.9 7.3-10.8 5.2-11.2 2.9z" fill="#d9d95a"/><path d="M498.3 743.8l-10.3-2.2-9.2-4.4-7.8-6.6-6.1-8.3-4-9.7-2-10.7.2-11 2.1-11.1 4.1-10.7 5.6-9.8 7.1-8.8 8.2-7.4 8.9-5.7 9.5-4.1 9.7-2.2 9.6-.2 9.1 1.6 8.4 3.5 7.5 5.3 6.2 6.9 4.7 8.4 2.9 9.6 1.2 10.4-.9 11.1-2.9 11.1-4.8 10.8-6.7 10-8.3 8.8-9.7 7.1-10.5 5.1-10.9 2.8z" fill="#cece71"/><path d="M498.7 742.2l-10.1-2-9-4.4-7.6-6.4-5.9-8.1-3.9-9.4-2-10.4.2-10.8 2-10.8 4-10.4 5.5-9.7 6.9-8.5 7.9-7.2 8.8-5.7 9.3-3.9 9.4-2.2 9.4-.2 8.9 1.6 8.3 3.4 7.2 5.2 6.1 6.8 4.5 8.1 2.9 9.4 1.1 10.2-.8 10.8-2.8 10.8-4.8 10.5-6.5 9.8-8.2 8.6-9.3 6.9-10.3 4.9-10.7 2.8z" fill="#c8c87e"/><path d="M499 740.6l-9.7-2-8.8-4.2-7.4-6.2-5.8-7.9-3.8-9.2-1.9-10.1.1-10.5 2-10.5 3.8-10.2 5.4-9.4 6.7-8.3 7.8-7.1 8.5-5.5 9.1-3.8 9.2-2.1 9.1-.3 8.7 1.6 8.1 3.3 7 5.1 5.9 6.6 4.5 8 2.8 9.1 1.1 10-.9 10.5-2.7 10.5-4.7 10.3-6.4 9.5-7.9 8.3-9.1 6.7-10 4.8-10.4 2.7z" fill="#c1c18c"/><path d="M499.4 739l-9.5-1.9-8.5-4.1-7.2-6-5.6-7.7-3.8-8.9-1.9-9.8.1-10.3 2-10.2 3.7-9.9 5.2-9.2 6.5-8.1 7.6-6.9 8.3-5.4 8.8-3.7 9-2.1 8.9-.2 8.5 1.5 7.8 3.3 7 4.9 5.7 6.5 4.3 7.8 2.7 8.9 1 9.7-.8 10.2-2.7 10.2-4.5 10-6.2 9.2-7.7 8.1-8.9 6.6-9.7 4.6-10.1 2.6z" fill="#bbbb99"/><path d="M499.8 737.4l-9.3-1.9-8.2-4-7-5.8-5.5-7.4-3.6-8.7-1.9-9.5.1-10 1.9-9.9 3.6-9.6 5-9 6.4-7.9 7.3-6.7 8.1-5.2 8.6-3.7 8.8-2 8.6-.2 8.3 1.5 7.6 3.2 6.7 4.8 5.6 6.3 4.2 7.5 2.6 8.7 1 9.5-.8 9.9-2.7 9.9-4.4 9.7-6 9-7.5 7.8-8.6 6.3-9.5 4.6-9.7 2.4z" fill="#b5b5a6"/><path d="M500.1 735.7l-8.9-1.8-8-3.9-6.8-5.6-5.3-7.2-3.5-8.4-1.8-9.2 0-9.7 1.8-9.6 3.5-9.4 4.9-8.6 6.2-7.7 7.1-6.5 7.9-5.1 8.3-3.6 8.5-1.9 8.4-.3 8.1 1.5 7.4 3.1 6.5 4.7 5.4 6.1 4 7.4 2.6 8.4.9 9.1-.8 9.6-2.6 9.7-4.3 9.4-5.8 8.7-7.3 7.6-8.4 6.1-9.1 4.4-9.5 2.4z" fill="#b1aeae"/><path d="M500.5 733.9l-8.6-1.7-7.7-3.7-6.6-5.5-5.1-6.9-3.5-8.1-1.7-8.9 0-9.4 1.7-9.3 3.4-9.1 4.7-8.4 6-7.4 6.9-6.3 7.6-5 8.1-3.5 8.2-1.8 8.2-.3 7.8 1.4 7.2 3.1 6.3 4.5 5.2 5.9 3.9 7.2 2.5 8.1.9 8.9-.8 9.3-2.5 9.4-4.2 9.1-5.7 8.4-7 7.3-8.1 5.9-8.8 4.2-9.2 2.3z" fill="#b5a8a9"/><path d="M500.9 732.1l-8.3-1.7-7.5-3.5-6.3-5.3-4.9-6.6-3.4-7.9-1.7-8.6 0-9 1.7-9 3.2-8.7 4.6-8.2 5.7-7.2 6.7-6.1 7.4-4.8 7.8-3.4 8-1.8 7.9-.2 7.5 1.3 7 3 6.1 4.4 5 5.7 3.8 7 2.4 7.8.8 8.6-.8 9-2.4 9.1-4.1 8.7-5.5 8.1-6.8 7.1-7.8 5.6-8.5 4.1-8.8 2.2z" fill="#bc9b9c"/><path d="M501.4 730.3l-8-1.6-7.2-3.5-6.1-5-4.8-6.4-3.3-7.5-1.6-8.3 0-8.7 1.6-8.7 3.1-8.4 4.4-7.9 5.5-6.9 6.4-5.9 7.2-4.7 7.5-3.2 7.7-1.8 7.6-.2 7.3 1.3 6.7 2.8 5.9 4.3 4.9 5.5 3.6 6.7 2.3 7.7.8 8.2-.8 8.7-2.4 8.7-3.9 8.4-5.3 7.8-6.5 6.8-7.5 5.5-8.2 3.9-8.5 2.1z" fill="#c38d90"/><path d="M501.8 728.3l-7.7-1.5-6.9-3.3-5.8-4.8-4.6-6.1-3.2-7.2-1.5-8-.1-8.3 1.6-8.4 2.9-8.1 4.2-7.5 5.3-6.7 6.2-5.7 6.9-4.5 7.2-3.1 7.4-1.7 7.4-.2 7 1.2 6.4 2.8 5.7 4.1 4.6 5.3 3.5 6.5 2.2 7.3.8 8-.8 8.3-2.3 8.3-3.7 8.1-5.1 7.5-6.3 6.5-7.2 5.2-7.9 3.7-8.1 2.1z" fill="#c88084"/><path d="M502.2 726.4l-7.3-1.5-6.6-3.1-5.6-4.6-4.4-5.9-3-6.9-1.5-7.6 0-7.9 1.4-8 2.8-7.8 4-7.2 5.1-6.5 5.9-5.4 6.6-4.3 6.9-3 7.2-1.7 7-.2 6.7 1.2 6.2 2.7 5.4 3.9 4.5 5.1 3.3 6.2 2.1 7 .7 7.7-.8 8-2.1 8-3.7 7.7-4.8 7.1-6.1 6.2-6.9 5-7.5 3.6-7.7 1.9z" fill="#ce7378"/><path d="M502.7 724.3l-7-1.4-6.2-3-5.4-4.3-4.2-5.6-2.8-6.6-1.5-7.2-.1-7.6 1.4-7.6 2.6-7.4 3.9-6.9 4.8-6.2 5.7-5.2 6.2-4.1 6.7-2.9 6.8-1.6 6.7-.1 6.4 1.1 5.9 2.5 5.2 3.8 4.3 4.9 3.1 5.9 2 6.7.7 7.3-.8 7.6-2.1 7.6-3.4 7.4-4.7 6.8-5.7 5.9-6.6 4.7-7.1 3.4-7.4 1.8z" fill="#d3656c"/><path d="M503.2 722.1l-6.6-1.3-5.9-2.8-5.1-4.1-4-5.3-2.7-6.2-1.4-6.8-.1-7.2 1.3-7.3 2.5-7 3.6-6.6 4.6-5.8 5.4-5 5.9-3.9 6.3-2.7 6.5-1.5 6.4-.2 6.1 1.1 5.6 2.4 4.9 3.6 4.1 4.6 3 5.7 1.8 6.4.6 6.9-.7 7.2-2 7.2-3.3 7-4.4 6.4-5.5 5.6-6.2 4.4-6.7 3.2-7 1.8z" fill="#da555c"/><path d="M503.7 719.8l-6.2-1.2-5.6-2.6-4.8-3.9-3.7-5-2.6-5.8-1.3-6.4-.1-6.8 1.2-6.8 2.3-6.7 3.4-6.2 4.4-5.5 5-4.7 5.6-3.7 6-2.6 6.1-1.4 6-.2 5.8 1.1 5.3 2.2 4.6 3.4 3.9 4.5 2.8 5.3 1.7 6 .6 6.5-.7 6.8-1.9 6.8-3.1 6.6-4.2 6-5.1 5.3-5.9 4.2-6.4 3-6.5 1.6z" fill="#e0434a"/><path d="M504.3 717.4l-5.8-1.2-5.3-2.4-4.4-3.6-3.5-4.6-2.4-5.5-1.3-6-.1-6.3 1.1-6.4 2.2-6.2 3.2-5.8 4-5.2 4.7-4.4 5.3-3.5 5.6-2.4 5.7-1.3 5.7-.2 5.4 1 4.9 2.1 4.4 3.2 3.5 4.2 2.7 4.9 1.6 5.7.5 6.1-.6 6.4-1.8 6.3-3 6.2-3.9 5.6-4.8 4.9-5.4 3.9-6 2.8-6.1 1.5z" fill="#e53238"/><path d="M504.9 714.8l-5.4-1.1-4.8-2.2-4.1-3.3-3.3-4.3-2.3-5-1.1-5.5-.1-5.9 1-5.9 2-5.8 2.9-5.3 3.7-4.9 4.4-4.1 4.9-3.2 5.2-2.3 5.3-1.2 5.3-.2 5 1 4.6 1.9 4 3 3.3 3.9 2.5 4.6 1.4 5.2.5 5.7-.6 5.9-1.7 5.9-2.7 5.6-3.7 5.2-4.4 4.5-5.1 3.6-5.4 2.6-5.7 1.4z" fill="#eb2028"/><path d="M505.5 712l-4.9-1-4.4-2-3.7-3-3-3.9-2.1-4.5-1.1-5.1-.1-5.3.9-5.4 1.8-5.3 2.7-4.9 3.4-4.4 4-3.8 4.5-2.9 4.7-2.1 4.9-1.2 4.8-.1 4.6.9 4.2 1.8 3.7 2.7 3 3.5 2.2 4.3 1.4 4.8.4 5.1-.6 5.4-1.6 5.4-2.4 5.1-3.4 4.8-4 4.1-4.6 3.2-5 2.4-5.2 1.2z" fill="#f30d1a"/><path d="M506.2 708.9l-4.4-.8-3.9-1.8-3.3-2.7-2.7-3.5-1.9-4-1-4.5-.1-4.8.8-4.8 1.6-4.7 2.4-4.4 3.1-4 3.6-3.4 4-2.6 4.2-1.9 4.4-1 4.3-.2 4.1.8 3.8 1.6 3.3 2.5 2.7 3.2 2 3.8 1.1 4.3.4 4.6-.5 4.8-1.4 4.8-2.3 4.6-3 4.2-3.6 3.7-4.1 2.9-4.4 2.1-4.6 1.1z" fill="#f9000e"/><path d="M507 705.5l-3.8-.8-3.4-1.5-2.9-2.3-2.3-3-1.6-3.5-.9-3.9-.1-4.1.7-4.2 1.4-4.1 2-3.8 2.7-3.5 3.1-2.9 3.4-2.3 3.7-1.6 3.8-.9 3.8-.1 3.6.6 3.2 1.4 2.9 2.2 2.3 2.7 1.7 3.4 1.1 3.7.2 4-.4 4.2-1.3 4.1-1.9 4-2.6 3.6-3.1 3.2-3.6 2.5-3.8 1.8-4 .9z" fill="#fb0008"/><path d="M507.9 701.4l-3.1-.6-2.7-1.3-2.4-1.8-1.9-2.4-1.3-2.9-.7-3.2-.1-3.3.5-3.4 1.1-3.4 1.7-3.1 2.1-2.8 2.6-2.4 2.8-1.9 3.1-1.4 3.1-.7 3-.1 3 .5 2.7 1.2 2.3 1.8 1.9 2.2 1.4 2.8.8 3 .2 3.3-.4 3.4-1 3.4-1.6 3.2-2.1 3-2.5 2.5-2.9 2.1-3.2 1.4-3.2.8z" fill="#fe0002"/><path d="M509.1 696.1l-2.2-.4-1.9-.9-1.7-1.3-1.3-1.7-1-2-.5-2.2-.1-2.3.4-2.5.8-2.3 1.2-2.3 1.5-2 1.8-1.7 2-1.4 2.1-.9 2.2-.5 2.2-.1 2.1.4 1.9.8 1.7 1.3 1.3 1.6 1 1.9.6 2.2.1 2.3-.3 2.5-.7 2.3-1.1 2.3-1.5 2.1-1.9 1.8-2 1.4-2.2 1-2.3.6z" fill="#ff0000"/></g>
<path d="M513.6 546.5L513.6 556" stroke="#4a5478" stroke-width="0.9" stroke-dasharray="1 1.1" fill="none" opacity="1"/><circle cx="513.6" cy="546.5" r="3.1" fill="#c63e3a" opacity="1"/><circle cx="513.6" cy="556.6" r="3.1" fill="#c63e3a" opacity="1"/><path d="M576.1 604.5L576.1 585" stroke="#4a5478" stroke-width="0.9" stroke-dasharray="1 1.1" fill="none" opacity="1"/><circle cx="576.1" cy="604.5" r="3.1" fill="#c63e3a" opacity="1"/><circle cx="443.5" cy="632.2" r="3.1" fill="#c63e3a" opacity="1"/><circle cx="444.2" cy="654.6" r="3.1" fill="#c63e3a" opacity="1"/>
<path d="M446.3 637.2l-7.2 17.2-4.1 10.6-3.2 9.1 3.6-8.8 4.6-9.2 5.4-12.4 4.5-9.5 6-11.7 6.1-10.5 6.1-9.2 3.1-4.1 4.6-5.6 3.1-3.3 4.6-4.4 3.1-2.5 4.6-3.2 3-1.7 3.1-1.4 3-1 3.1-.8 3-.4 4.5 0 4.5.6 4.5 1.4 2.5-1.8 2.5-1.4 3.8-1.5 2.6-.5 2.5-.2 3.9.3 3.9 1.1 2.6 1.2 2.6 1.5 2.6 1.9 3.9 3.5 2.6 2.8 2.7 3.2 4 5.3-4.2-5.9-2.8-3.6-4.3-5-2.9-3.1-2.9-2.7-4.3-3.6-4.4-3.1-2.9-1.6-4.4-2-3.2-1.1-2.9-.7-4.5-.5-4.5 0-3.1.5-3 .6-4.5 1.5-3.2 1.5-4.5 2.6-6.1 4.6-4.5 4-3.2 3.3-4.5 5.1-2.8 3.6-3.2 4.3-4.4 6.5-7.5 12.6-7.4 14.3z" fill="#dcdcdc"/><path d="M577.7 659l4.2 6.1 4.3 7 4.2 7.5 4.3 8.2.4-5 .2-5-.4-8.8-4.1-13.3-3.8-11.1-3.8-10.4-6.3-15.7-2.6-5.6-3.9-7.9-2.6-4.7-3.9-6.5-5.5-7.9-4.3-5.4-2.8-3.2-5.8-5.8-4.3-3.6-2.9-2.1-6-3.4-4.4-1.8-2.9-.8-3.1-.6-3-.3-3.1 0-2.9.2-4.6.9-3.2 1-2.9 1.2-6.1 3.4-4.5 3.3-6.1 5.3-4.5 4.7-4.8 5.7-6 8.2-6 9.3-4.3 7.5-4.7 8.8-5.8 12-5.8 12.9-6 15-5.9 15.7-2.4 7.7 5-11.9 4.5-9.2 4.6-8 4.8-6.8 2.4-2.8 2.5-2.6 2.5-2.1 2.5-1.9 2.6-1.4 2.6-1.1 3.9-1 4-.2 4 .7 4.1 1.6 4.2 2.4 4.2 3.3 4.2 4.2 4.2 5.1 4.4 6 7-7.3 5.1-4.5 5.2-3.6 5.1-2.9 5.2-2.1 3.3-.9 3.4-.6 5-.3 3.3.3 3.3.6 3.2 1 4.9 2 3.2 1.8 4.7 3.3 3.1 2.6 4.6 4.5 4.5 5.2z" fill="#33e2c9"/><path d="M577.6 658.9l4.3 6.2 4.3 7 7.6 14 .5-5.1.2-5-.1-4.7-.3-5.1-3.3-10.5-3.8-11.1-3.8-10.4-6.3-15.7-2.6-5.6-3.9-7.9-2.6-4.7-3.9-6.5-5.5-7.9-4.3-5.4-2.8-3.2-5.8-5.8-4.3-3.6-2.9-2.1-6-3.4-4.4-1.8-2.9-.8-3.1-.6-3-.3-3.1 0-2.9.2-4.6.9-3.2 1-2.9 1.2-6.1 3.4-4.5 3.3-6.1 5.3-4.5 4.7-4.8 5.7-6 8.2-6 9.3-4.3 7.5-4.7 8.8-5.8 12-5.8 12.9-6 15-5.2 13.8-2.5 7.9 4.4-10.2 4.5-9.2 4.6-8 4.8-6.8 2.4-2.8 2.5-2.6 2.5-2.1 2.5-1.9 2.6-1.4 2.6-1.1 3.9-1 4-.2 4 .7 4.1 1.6 4.2 2.4 4.2 3.3 4.2 4.2 4.2 5.1 4.4 6 7-7.3 5.1-4.5 5.2-3.6 5.1-2.9 5.2-2.1 3.3-.9 3.4-.6 5-.3 3.3.3 3.3.6 3.2 1 4.9 2 3.2 1.8 4.7 3.3 3.1 2.6 4.6 4.5 3 3.4z" fill="#40e1bd"/><path d="M576.1 656.9l4.4 6.1 4.3 6.7 4.2 7.3 4 7.4.5-5.2.2-4.9-.3-9-.2-1.8-2.4-7.8-3.8-11.1-3.8-10.4-6.3-15.7-2.6-5.6-3.9-7.9-2.6-4.7-3.9-6.5-5.5-7.9-4.3-5.4-2.8-3.2-5.8-5.8-4.3-3.6-2.9-2.1-6-3.4-4.4-1.8-2.9-.8-3.1-.6-3-.3-3.1 0-2.9.2-4.6.9-3.2 1-2.9 1.2-6.1 3.4-4.5 3.3-6.1 5.3-4.5 4.7-4.8 5.7-6 8.2-6 9.3-4.3 7.5-4.7 8.8-5.8 12-5.8 12.9-6 15-4.6 12.2-2.4 7.9 4.8-11 4.5-8.9 4.7-7.7 3.6-5 2.4-2.8 2.5-2.6 2.5-2.1 2.5-1.9 2.6-1.4 2.6-1.1 3.9-1 4-.2 4 .7 4.1 1.6 4.2 2.4 4.2 3.3 4.2 4.2 4.2 5.1 4.4 6 5.2-5.6 5.2-4.7 3.5-2.8 5.1-3.4 5.2-2.6 5-1.8 5.1-1 5-.3 3.3.3 4.9 1.1 4.9 1.8 4.8 2.5 4.7 3.3 4.6 4 4.6 4.7z" fill="#4ee0b1"/><path d="M574.9 655.4l4.1 5.5 4.4 6.5 4.2 7.1 4.5 8.2.6-6.4.2-6.8-.4-7-.1-1.8-.4-1.1-3.7-11.4-3.8-10.7-6.4-16-6.4-13.9-3.9-7.3-3.9-6.5-5.5-7.9-4.3-5.4-2.8-3.2-5.8-5.8-4.3-3.6-2.9-2.1-6-3.4-4.4-1.8-2.9-.8-3.1-.6-3-.3-3.1 0-2.9.2-4.6.9-3.2 1-2.9 1.2-6.1 3.4-4.5 3.3-6.1 5.3-4.5 4.7-4.8 5.7-6 8.2-6 9.3-4.3 7.5-4.7 8.8-5.8 12-5.8 12.9-6 15-4 10.4-2.4 8.1 4.2-9.4 4.5-8.9 4.7-7.7 3.6-5 2.4-2.8 2.5-2.6 2.5-2.1 2.5-1.9 2.6-1.4 2.6-1.1 3.9-1 4-.2 4 .7 4.1 1.6 4.2 2.4 4.2 3.3 4.2 4.2 4.2 5.1 4.4 6 5.2-5.6 5.2-4.7 3.5-2.8 5.1-3.4 3.4-1.8 5.2-2.1 5-1.3 5-.5 3.4.1 4.9.8 4.9 1.6 4.8 2.3 4.7 3 4.7 3.8 4.6 4.5z" fill="#6ad195"/><path d="M574.6 655.1l4.4 5.8 4.4 6.5 4.2 7.1 3.6 6.5.6-5.8.3-6-.1-6-.5-5.3-3.2-9.7-3.8-10.7-6.4-16-6.4-13.9-3.9-7.3-3.9-6.5-5.5-7.9-4.3-5.4-2.8-3.2-5.8-5.8-4.3-3.6-2.9-2.1-6-3.4-4.4-1.8-2.9-.8-3.1-.6-3-.3-3.1 0-2.9.2-4.6.9-3.2 1-2.9 1.2-6.1 3.4-4.5 3.2-4.5 3.9-4.8 4.8-4.5 5.1-6 7.9-6 9-4.7 8-4.3 7.9-5.9 11.7-5.7 12.6-6.1 14.7-4.7 12.5-2.5 8.2 4.6-10.1 4.6-8.6 4.7-7.4 3.6-4.6 2.4-2.7 2.5-2.4 3.8-2.9 2.6-1.4 2.6-1.1 3.9-1 4-.2 4 .7 4.1 1.6 4.2 2.4 4.2 3.3 4.2 4.2 4.2 5.1 4.4 6 5.2-5.6 5.2-4.7 3.5-2.8 5.1-3.4 3.4-1.8 5.2-2.1 5-1.3 5-.5 3.4.1 4.9.8 4.9 1.6 4.8 2.3 4.7 3 4.7 3.8 4.6 4.5z" fill="#88c076"/><path d="M573.8 654.1l3.8 4.8 4.3 6.2 4.3 7 4.1 7.2.6-5.2.4-6.7-.1-6.1-.6-6.2-3.6-10.5-3.8-10.4-6.3-15.7-2.6-5.6-3.9-7.9-2.6-4.7-3.9-6.5-5.5-7.9-4.3-5.4-2.8-3.2-5.8-5.8-4.3-3.6-2.9-2.1-6-3.4-4.4-1.8-2.9-.8-3.1-.6-3-.3-3.1 0-2.9.2-4.6.9-3.2 1-2.9 1.2-6.1 3.4-4.5 3.2-4.5 3.9-4.8 4.8-4.5 5.1-6 7.9-6 9-4.7 8-4.3 7.9-5.9 11.7-5.7 12.6-6.1 14.7-4.2 11-2.3 8.1 5.1-10.7 3.4-6.4 4.7-7.4 3.6-4.6 2.4-2.7 2.5-2.4 3.8-2.9 2.6-1.4 2.6-1.1 3.9-1 4-.2 4 .7 4.1 1.6 4.2 2.4 4.2 3.3 4.2 4.2 4.2 5.1 4.4 6 5.2-5.6 5.2-4.7 3.5-2.8 5.1-3.4 3.4-1.8 5.2-2.1 5-1.3 5-.5 3.4.1 4.9.8 4.9 1.6 4.8 2.3 4.7 3 4.7 3.8 4.6 4.5z" fill="#a5af59"/><path d="M573.1 653.3l3 3.6 4.4 6.1 4.3 6.7 4.6 7.9.7-6.3.4-6.7-.2-6.6-.7-5.8-6.4-18-6.3-15.7-2.6-5.6-3.9-7.9-2.6-4.7-3.9-6.5-5.5-7.9-4.3-5.4-2.8-3.2-5.8-5.8-4.3-3.6-2.9-2.1-6-3.4-4.4-1.8-2.9-.8-3.1-.6-3-.3-3.1 0-2.9.2-4.6.9-3.2 1-2.9 1.2-6.1 3.4-4.5 3.2-4.5 3.9-4.8 4.8-4.5 5.1-6 7.9-6 9-4.7 8-4.3 7.9-5.9 11.7-5.7 12.6-6.1 14.7-3.5 9.4-2.3 8.1 4.4-9.1 3.4-6.4 4.7-7.4 3.6-4.6 2.4-2.7 2.5-2.4 3.8-2.9 2.6-1.4 2.6-1.1 3.9-1 4-.2 4 .7 4.1 1.6 4.2 2.4 4.2 3.3 4.2 4.2 4.2 5.1 4.4 6 5.2-5.6 5.2-4.7 3.5-2.8 5.1-3.4 3.4-1.8 5.2-2.1 5-1.3 5-.5 3.4.1 4.9.8 4.9 1.6 4.8 2.3 3.1 1.9 4.7 3.6 4.7 4.2z" fill="#b6a145"/><path d="M573.1 653.3l3 3.6 4.4 6.1 4.3 6.7 3.7 6.2.8-7 .3-6.5-.2-6.1-.7-6.9-5.5-15.2-6.3-15.7-2.6-5.6-3.9-7.9-2.6-4.7-3.9-6.5-5.5-7.9-4.3-5.4-2.8-3.2-5.8-5.8-4.3-3.6-2.9-2.1-6-3.4-4.4-1.8-2.9-.8-3.1-.6-3-.3-3.1 0-2.9.2-4.6.9-3.2 1-2.9 1.2-6.1 3.4-4.5 3.2-4.5 3.9-4.8 4.8-4.5 5.1-6 7.9-6 9-4.7 8-4.3 7.9-5.9 11.7-5.7 12.6-6.1 14.7-2.9 7.8-2.2 8.1 4.8-9.7 3.4-6.2 4.8-7 3.6-4.4 2.5-2.6 2.5-2.1 3.8-2.6 3.9-1.8 3.9-1 4-.2 4 .7 4.1 1.6 4.2 2.4 4.2 3.3 4.2 4.2 4.2 5.1 4.4 6 5.2-5.6 5.2-4.7 3.5-2.8 5.1-3.4 3.4-1.8 5.2-2.1 5-1.3 5-.5 3.4.1 4.9.8 4.9 1.6 4.8 2.3 3.1 1.9 4.7 3.6 4.7 4.2z" fill="#cb9631"/><path d="M572.5 652.5l3.6 4.4 4.4 6.1 7 11.2.9-6.8.4-6.7-.2-6.9-.9-7.3-5.7-15.6-6.4-15.3-5.2-10.6-2.6-4.7-3.9-6.5-5.5-7.9-4.3-5.4-2.8-3.2-5.8-5.8-4.3-3.6-2.9-2.1-6-3.4-4.4-1.8-2.9-.8-3.1-.6-3-.3-3.1 0-2.9.2-4.6.9-3.2 1-2.9 1.2-6.1 3.4-4.5 3.2-4.5 3.9-4.8 4.8-4.5 5.1-6 7.9-6 9-4.7 8-4.3 7.9-5.9 11.7-5.7 12.6-6.1 14.7-2.4 6.8-2 7.5 4.1-8.1 3.4-6.2 4.8-7 3.6-4.4 2.5-2.6 2.5-2.1 3.8-2.6 3.9-1.8 3.9-1 4-.2 4 .7 4.1 1.6 4.2 2.4 4.2 3.3 4.2 4.2 4.2 5.1 4.4 6 5.2-5.6 3.5-3.2 3.4-3 5.2-3.6 3.4-2 5.2-2.4 5-1.5 5.1-.8 3.3-.1 4.9.6 4.9 1.3 4.9 2 4.7 2.8 4.7 3.6 4.7 4.2z" fill="#ea901d"/><path d="M571.6 651.5l3 3.6 4.4 5.8 2.9 4.2 4.6 7.4 1-7 .4-7.6-.3-7-.9-7.3-6-16-5.1-12-5.2-10.6-2.6-4.7-3.9-6.5-5.5-7.9-4.3-5.4-2.8-3.2-5.8-5.8-4.3-3.6-2.9-2.1-6-3.4-4.4-1.8-2.9-.8-3.1-.6-3-.3-3.1 0-2.9.2-4.6.9-3.2 1-2.9 1.2-6.1 3.4-4.5 3.2-4.5 3.9-4.8 4.8-4.5 5.1-6 7.9-6 9-4.7 8-4.3 7.9-5.9 11.7-5.7 12.6-5.4 13-2.6 7.5-1.8 6.9 4.5-8.6 3.5-5.9 3.6-5.2 3.6-4.4 2.5-2.6 2.5-2.1 3.8-2.6 3.9-1.8 3.9-1 4-.2 4 .7 4.1 1.6 4.2 2.4 4.2 3.3 4.2 4.2 4.2 5.1 4.4 6 5.2-5.6 3.5-3.2 3.4-3 5.2-3.6 3.4-2 5.2-2.4 5-1.5 5.1-.8 3.3-.1 4.9.6 4.9 1.3 4.9 2 3.2 1.8 4.7 3.3 4.6 4z" fill="#ff8c10"/><path d="M571 650.9l3.6 4.2 3 3.8 2.9 4.1 5 7.8 1.1-7.4.4-7.8-.3-7.6-1-7.2-6.3-16.3-5.1-11.6-5.2-10.3-5.2-8.8-5.5-7.9-4.3-5.4-2.8-3.2-5.8-5.8-4.3-3.6-2.9-2.1-6-3.4-4.4-1.8-2.9-.8-3.1-.6-3-.3-3.1 0-2.9.2-4.6.9-3.2 1-2.9 1.2-6.1 3.4-4.5 3.2-4.5 3.9-4.8 4.8-4.5 5.1-6 7.9-6 9-4.7 8-4.3 7.9-5.9 11.7-5.7 12.6-4.7 11.4-2.6 7.7-1.7 6.6 4.9-9 3.5-5.6 3.6-5 3.6-4.1 3.8-3.4 3.8-2.6 3.9-1.8 3.9-1 4-.2 4 .7 4.1 1.6 4.2 2.4 4.2 3.3 4.2 4.2 4.2 5.1 4.4 6 5.2-5.6 3.5-3.2 3.4-3 5.2-3.6 3.4-2 5.2-2.4 5-1.5 5.1-.8 3.3-.1 4.9.6 4.9 1.3 4.9 2 3.2 1.8 4.7 3.3 4.6 4z" fill="#ff8b10"/><path d="M570.1 649.9l3 3.4 4.5 5.6 6.9 10.2 1.1-7 .5-8.2-.4-8.7-1.1-7.4-3.9-10.2-5.1-12-5.2-10.6-5.2-9.1-2.6-4.1-4.2-5.9-5.7-7.1-2.8-3.1-4.4-4.2-5.9-4.8-5.7-3.5-3.1-1.5-2.9-1.1-2.9-.8-3.1-.6-3-.3-4.5 0-3.1.5-3 .6-4.5 1.5-4.5 2.2-4.8 3-4.5 3.5-6.1 5.6-6.1 6.8-4.4 5.7-4.8 6.9-5.9 9.6-5.9 10.6-5.9 11.7-4.6 10.1-5.2 12.2-2.3 7-1.8 7.4 4.1-7.4 3.5-5.6 3.6-5 3.6-4.1 2.5-2.4 2.5-2 3.9-2.3 3.9-1.6 3.9-.7 4 .2 4.1 1 4.1 1.8 4.2 2.7 4.2 3.6 2.8 2.9 4.2 5.1 4.4 6 5.2-5.6 3.5-3.2 3.4-3 5.2-3.6 3.4-2 5.2-2.4 5-1.5 5.1-.8 3.3-.1 4.9.6 3.3.8 4.9 1.8 3.2 1.6 4.7 3 4.7 3.8z" fill="#ff8d0f"/><path d="M569.6 649.4l3.5 3.9 3 3.6 2.9 4 4.4 6.5 1.4-8.7.4-8.1-.4-7.5-.6-4.4-.7-3.8-4.1-10.4-5.1-11.6-3.9-7.9-5.2-9.1-2.6-4.1-4.2-5.9-5.7-7.1-2.8-3.1-4.4-4.2-5.9-4.8-5.7-3.5-3.1-1.5-2.9-1.1-2.9-.8-3.1-.6-3-.3-4.5 0-3.1.5-3 .6-4.5 1.5-4.5 2.2-4.8 3-4.5 3.5-6.1 5.6-6.1 6.8-4.4 5.7-4.8 6.9-5.9 9.6-5.9 10.6-5.9 11.7-4.6 10.1-4.4 10.6-2.5 7.5-1.6 7 4.4-7.9 3.6-5.4 3.6-4.6 3.7-4 3.7-3.1 3.9-2.3 3.9-1.6 3.9-.7 4 .2 4.1 1 4.1 1.8 4.2 2.7 4.2 3.6 2.8 2.9 4.2 5.1 4.4 6 5.2-5.6 3.5-3.2 3.4-3 5.2-3.6 3.4-2 5.2-2.4 5-1.5 5.1-.8 3.3-.1 4.9.6 3.3.8 4.9 1.8 3.2 1.6 4.7 3 4.7 3.8z" fill="#ff970d"/><path d="M568.6 648.3l6 6.8 3 3.8 4.8 6.8.8-4.4.6-4.3.4-8.1-.1-4.6-.3-4.5-1.4-7.9-4.3-10.4-3.8-8.6-3.9-7.9-5.2-9.1-2.6-4.1-4.2-5.9-5.7-7.1-2.8-3.1-4.4-4.2-5.9-4.8-5.7-3.5-3.1-1.5-2.9-1.1-2.9-.8-3.1-.6-3-.3-4.5 0-3.1.5-3 .6-4.5 1.5-4.5 2.2-4.8 3-4.5 3.5-6.1 5.6-6.1 6.8-4.4 5.7-4.8 6.9-5.9 9.6-5.9 10.6-5.9 11.7-4.6 10.1-3.7 8.9-2.5 7.8-1.5 6.8 3.6-6.3 3.6-5.4 3.6-4.6 3.7-4 3.7-3.1 3.9-2.3 3.9-1.6 3.9-.7 4 .2 4.1 1 4.1 1.8 4.2 2.7 4.2 3.6 2.8 2.9 4.2 5.1 4.4 6 5.2-5.6 3.5-3.2 3.4-3 5.2-3.6 3.4-2 5.2-2.4 3.3-1.1 5.1-1 3.3-.3 5 .3 3.3.6 4.9 1.6 3.2 1.4 4.7 2.8 4.7 3.6z" fill="#ffa10b"/><path d="M568 647.8l3.6 3.7 3 3.6 6.7 8.9.8-4 .7-4.8.5-8.1-.1-4.6-.3-4.3-1.2-7.3-1-3.3-5.1-12-3.9-8-5.2-9.6-5.4-8.3-2.7-3.8-4.3-5.4-4.2-4.8-2.9-2.8-5.8-5-4.4-3.1-2.9-1.6-3.1-1.5-2.9-1.1-2.9-.8-3.1-.6-3-.3-4.5 0-3.1.5-3 .6-4.5 1.5-4.5 2.2-4.8 3-4.5 3.5-6.1 5.6-6.1 6.8-4.4 5.7-4.8 6.9-5.9 9.6-5.9 10.6-5.9 11.7-5.2 11.5-2.4 5.9-2.2 6.9-1.6 7.7 3.9-6.5 3.6-5.2 3.6-4.4 3.7-3.7 3.8-2.9 3.9-2 3.9-1.3 2.6-.4 4 .2 4.1 1 4.1 1.8 4.2 2.7 4.2 3.6 2.8 2.9 4.2 5.1 4.4 6 5.2-5.6 3.5-3.2 3.4-3 5.2-3.6 3.4-2 5.2-2.4 3.3-1.1 5.1-1 3.3-.3 5 .3 3.3.6 4.9 1.6 3.2 1.4 4.7 2.8 4.7 3.6z" fill="#ffaa09"/><path d="M567 646.8l6.1 6.5 7 9.1 1.6-8.4.6-8.6-.3-8.3-1.2-7.8-.8-3.4-4.4-10.3-3.9-8-5.2-9.6-5.4-8.3-2.7-3.8-4.3-5.4-4.2-4.8-2.9-2.8-5.8-5-4.4-3.1-2.9-1.6-3.1-1.5-2.9-1.1-2.9-.8-3.1-.6-3-.3-4.5 0-3.1.5-3 .6-4.5 1.5-4.5 2.2-4.8 3-4.5 3.5-6.1 5.6-4.5 4.9-4.8 6-4.4 6.1-6 9.3-5.9 10.4-5.8 11.4-6 12.8-2.1 5.2-2.6 8.4-1.5 7.2 4.3-6.7 2.4-3.4 3.6-4.4 3.7-3.7 3.8-2.9 3.9-2 3.9-1.3 2.6-.4 4 .2 4.1 1 4.1 1.8 4.2 2.7 4.2 3.6 2.8 2.9 4.2 5.1 4.4 6 5.2-5.6 3.5-3.2 3.4-3 5.2-3.6 3.4-2 5.2-2.4 3.3-1.1 5.1-1 3.3-.3 5 .3 3.3.6 4.9 1.6 3.2 1.4 4.7 2.8 3.2 2.3z" fill="#ffb406"/><path d="M565.9 645.8l5.7 5.7 3 3.6 4.4 5.6 1.5-8 .8-8.2 0-3.9-.2-4.5-1-7.5-1.4-5.7-1.8-4.4-5.2-10.9-5.2-9.6-5.4-8.3-2.7-3.8-4.3-5.4-4.2-4.8-2.9-2.8-5.8-5-4.4-3.1-2.9-1.6-3.1-1.5-2.9-1.1-2.9-.8-3.1-.6-3-.3-4.5 0-3.1.5-3 .6-4.5 1.5-4.5 2.2-4.8 3-4.5 3.5-6.1 5.6-4.5 4.9-4.8 6-6 8.5-5.9 9.6-5.9 10.6-5.9 11.7-3.9 8.6-2.6 6.8-1.9 6.6-1.3 6.9 3.4-5.2 3.6-5 3.6-4.1 2.5-2.4 3.8-2.9 3.9-2 3.9-1.3 2.6-.4 4 .2 4.1 1 4.1 1.8 4.2 2.7 4.2 3.6 2.8 2.9 4.2 5.1 4.4 6 5.2-5.6 3.5-3.2 3.4-3 3.5-2.5 3.4-2.2 5.2-2.6 3.4-1.3 5-1.3 3.4-.4 5 0 3.2.5 4.9 1.3 3.3 1.3 4.8 2.5 4.7 3.3z" fill="#ffbd04"/><path d="M565.5 645.4l3.1 2.9 3 3.2 6.2 7.5 1.6-7.7.8-8.1.1-4.4-.1-4.1-1-7.5-1.2-5.4-1.1-3.3-5.2-10.9-5.2-9.6-5.4-8.3-2.7-3.8-4.3-5.4-4.2-4.8-2.9-2.8-5.8-5-4.4-3.1-2.9-1.6-3.1-1.5-2.9-1.1-2.9-.8-3.1-.6-3-.3-4.5 0-3.1.5-3 .6-4.5 1.5-4.5 2.2-4.8 3-4.5 3.5-6.1 5.6-4.5 4.9-4.8 6-6 8.5-5.9 9.6-5.9 10.6-5.9 11.7-3.4 7.5-2.3 6.5-1.9 6.9-1.2 6.4 3.7-5.4 3.6-4.6 3.7-4 2.5-2.1 3.8-2.6 2.6-1.3 3.9-1.3 2.6-.4 4 .2 4.1 1 4.1 1.8 4.2 2.7 4.2 3.6 2.8 2.9 4.2 5.1 4.4 6 5.2-5.6 3.5-3.2 3.4-3 3.5-2.5 3.4-2.2 5.2-2.6 3.4-1.3 5-1.3 3.4-.4 5 0 3.2.5 4.9 1.3 3.3 1.3 4.8 2.5 3.1 2.1z" fill="#ffc702"/><path d="M563.9 644.1l3.1 2.7 3.1 3.1 6.4 7.5 1.7-7.4 1-8.2 0-7.7-.8-7.8-1-4.9-1.4-4.8-4.3-9-5.2-9.6-5.4-8.3-2.7-3.8-4.3-5.4-4.2-4.8-2.9-2.8-5.8-5-4.4-3.1-2.9-1.6-3.1-1.5-2.9-1.1-2.9-.8-3.1-.6-3-.3-4.5 0-3.1.5-3 .6-4.5 1.5-4.5 2.2-4.8 3-4.5 3.5-6.1 5.6-4.5 4.9-4.8 6-6 8.5-5.9 9.6-5.9 10.6-5.9 11.7-2.8 6.4-2.3 6.7-1.7 6.6-1 6.1 3.9-5.5 2.4-3 3.7-4 2.5-2.1 3.8-2.6 2.6-1.3 3.9-1.3 2.6-.4 4 .2 4.1 1 4.1 1.8 4.2 2.7 4.2 3.6 2.8 2.9 4.2 5.1 4.4 6 5.2-5.6 3.5-3.2 3.4-3 3.5-2.5 3.4-2.2 5.2-2.6 3.4-1.3 5-1.3 3.4-.4 3.3-.1 3.3.3 4.9 1.1 3.3 1.1 4.8 2.3 3.1 1.9z" fill="#ffd100"/><path d="M562.4 642.8l3.1 2.6 3.1 2.9 6.6 7.5 1.8-7.3 1-7.9.3-6.8-.6-7.3-1.3-6.9-1.8-6.1-2.9-5.9-3.9-7.3-2.6-4.4-4.1-6.2-2.7-3.8-4.3-5.4-4.2-4.8-2.9-2.8-5.8-5-4.4-3.1-2.9-1.6-3.1-1.5-2.9-1.1-2.9-.8-3.1-.6-3-.3-4.5 0-3.1.5-3 .6-4.5 1.5-4.5 2.2-4.8 3-4.5 3.5-6.1 5.6-4.5 4.9-4.8 6-6 8.5-5.9 9.6-5.9 10.6-5.4 10.7-2.7 6.2-2.2 6.7-1.5 6.5-.9 5.8 4.1-5.5 2.4-2.8 2.5-2.6 2.5-2.1 3.8-2.6 2.6-1.3 3.9-1.3 2.6-.4 4 .2 4.1 1 4.1 1.8 4.2 2.7 4.2 3.6 2.8 2.9 4.2 5.1 4.4 6 5.2-5.6 3.5-3.2 3.4-3 3.5-2.5 3.4-2.2 3.4-1.8 3.5-1.5 5-1.5 3.4-.6 3.3-.3 3.4.1 4.9.8 3.2 1 4.9 2 3.2 1.8z" fill="#ffda00"/><path d="M560.8 641.6l3.1 2.5 3.1 2.7 3.1 3.1 3.8 4.2 1.8-6.9 1.1-7.2.4-7.3-.4-7-1-6.5-2-6.9-.8-2.1-1.3-2.6-3.9-7.3-2.6-4.4-4.1-6.2-2.7-3.8-4.3-5.4-4.2-4.8-2.9-2.8-5.8-5-4.4-3.1-2.9-1.6-3.1-1.5-2.9-1.1-2.9-.8-3.1-.6-3-.3-4.5 0-3.1.5-3 .6-4.5 1.5-4.5 2.2-4.8 3-4.5 3.5-4.5 4-6.1 6.5-4.4 5.5-4.8 6.6-6 9.3-5.9 10.4-6.1 11.9-2.8 6.8-2.1 6.6-1.5 6.5-.7 5.5 5.5-6.8 3.7-3.7 2.5-2 3.9-2.3 2.6-1.1 2.6-.8 2.6-.4 4 .2 4.1 1 4.1 1.8 4.2 2.7 4.2 3.6 2.8 2.9 4.2 5.1 4.4 6 5.2-5.6 3.5-3.2 3.4-3 3.5-2.5 3.4-2.2 3.4-1.8 3.5-1.5 5-1.5 3.4-.6 3.3-.3 3.4.1 4.9.8 3.2 1 3.3 1.3 3.2 1.6z" fill="#ffe300"/><path d="M559.2 640.5l3.2 2.3 3.1 2.6 3.1 2.9 3.9 4.2 1.9-6.7 1.1-6.2.6-6.6-.2-7.1-.9-6.9-1.3-5.5-2.2-6.2-2.4-4.7-5.2-8.8-2.8-4.1-4.2-5.7-2.8-3.5-4.2-4.8-4.4-4.2-2.8-2.4-4.4-3.3-3.1-1.9-2.9-1.5-4.4-1.8-2.9-.8-3.1-.6-3-.3-4.5 0-3.1.5-3 .6-4.5 1.5-4.5 2.2-4.8 3-4.5 3.5-4.5 4-6.1 6.5-4.4 5.5-4.8 6.6-6 9.3-5.9 10.4-5.3 10.3-2.4 5.7-2.1 6.5-1.4 6.4-.9 7 5.6-6.7 2.5-2.4 2.5-2 3.9-2.3 2.6-1.1 2.6-.8 2.6-.4 4 .2 4.1 1 4.1 1.8 4.2 2.7 4.2 3.6 2.8 2.9 4.2 5.1 4.4 6 7-7.3 3.4-3 3.5-2.8 3.4-2.3 3.4-2 3.5-1.7 5-1.8 3.4-.8 3.4-.4 3.3-.1 4.9.6 3.3.8 3.3 1.1 3.2 1.4z" fill="#ffed00"/><path d="M559.1 640.5l3.3 2.3 3.1 2.6 5.6 5.5 1.9-6.5 1.2-6.1.7-6.5.1-5.2-.6-6.7-1-5.5-1.5-5.2-2.3-5.6-5.7-9.8-2.8-4.1-4.2-5.7-2.8-3.5-4.2-4.8-4.4-4.2-2.8-2.4-5.9-4.3-4.5-2.4-2.8-1.2-3.2-1.1-2.9-.7-4.5-.5-3.1 0-4.5.5-4.6 1.1-4.5 1.7-6.1 3.4-6.1 4.6-4.5 4-4.5 4.7-4.8 5.7-6 8.2-6 9.3-5.9 10.4-4.4 8.7-2.5 5.9-2 6.6-1.4 6.5-.8 6.7 3.4-3.9 2.5-2.6 2.5-2.1 2.5-1.9 2.6-1.4 2.6-1.1 2.6-.8 2.6-.4 4 .2 4.1 1 4.1 1.8 4.2 2.7 4.2 3.6 2.8 2.9 4.2 5.1 4.4 6 7-7.3 3.4-3 3.5-2.8 3.4-2.3 3.4-2 3.5-1.7 5-1.8 3.4-.8 3.4-.4 3.3-.1 4.9.6 3.3.8 3.3 1.1 3.2 1.4z" fill="#fff600"/><path d="M557.7 639.5l3.1 2.1 3.1 2.5 5.7 5.3 2.1-6.5 1.3-6.2.7-6.6.1-6.2-.5-5.8-1.3-6.8-2.1-6.3-2.1-4.8-5.2-8.4-4.2-5.9-2.8-3.6-5.7-6.6-4.4-4.2-2.8-2.4-5.9-4.3-4.5-2.4-2.8-1.2-3.2-1.1-2.9-.7-4.5-.5-3.1 0-4.5.5-4.6 1.1-4.5 1.7-6.1 3.4-6.1 4.6-4.5 4-4.5 4.7-4.8 5.7-4.4 5.9-6 9-5.9 10.1-4.9 9.4-2.8 6.9-1.9 6.6-1.3 6.3-.6 6.6 3.4-3.7 2.5-2.4 3.8-2.9 2.6-1.4 3.9-1.6 2.6-.5 4-.2 2.7.4 4.1 1.3 2.7 1.3 4.2 2.7 2.8 2.3 2.8 2.7 2.8 3.1 2.8 3.5 4.4 6 7-7.3 3.4-3 3.5-2.8 3.4-2.3 3.4-2 3.5-1.7 5-1.8 3.4-.8 3.4-.4 3.3-.1 3.3.3 3.3.6 3.2 1 3.3 1.3z" fill="#ffff00"/><path d="M557 639.1l5.4 3.7 5.7 5 2.1-6.4 1.5-6.4.8-6.6.2-6.2-.7-7-1.1-5.6-2-6.2-2.2-4.9-2.8-4.7-2.8-4.1-2.7-3.8-4.3-5.4-4.2-4.8-2.9-2.8-5.8-5-4.4-3.1-2.9-1.6-3.1-1.5-2.9-1.1-2.9-.8-3.1-.6-3-.3-3.1 0-4.5.5-4.6 1.1-4.5 1.7-6.1 3.4-6.1 4.6-4.5 4-4.5 4.7-4.8 5.7-4.4 5.9-6 9-5.9 10.1-4.2 8.2-2.7 6.8-1.8 6.6-1.1 6.3-.5 6.5 3.5-3.6 2.5-2.1 3.8-2.6 2.6-1.3 3.9-1.3 2.6-.4 2.7 0 2.7.4 4.1 1.3 2.7 1.3 4.2 2.7 2.8 2.3 2.8 2.7 2.8 3.1 2.8 3.5 4.4 6 7-7.3 3.4-3 3.5-2.8 3.4-2.3 3.4-2 3.5-1.7 5-1.8 3.4-.8 3.4-.4 3.3-.1 3.3.3 3.3.6 3.2 1 3.3 1.3z" fill="#fcfc07"/><path d="M556.7 638.9l4.1 2.7 5.7 4.7 2.3-6.5 1.5-6 .9-6.3.3-6.7-.4-6.1-1-5.5-1.4-5.2-2.6-6.2-1.8-3.3-3.2-4.8-2.7-3.8-4.3-5.4-4.2-4.8-2.9-2.8-5.8-5-4.4-3.1-2.9-1.6-3.1-1.5-2.9-1.1-2.9-.8-3.1-.6-3-.3-3.1 0-4.5.5-4.6 1.1-4.5 1.7-6.1 3.4-6.1 4.6-4.5 4-4.5 4.7-4.8 5.7-4.4 5.9-6 9-5.9 10-3.3 6.8-2.7 7-1.7 6.5-1 6.3-.4 6.5 3.5-3.3 2.5-2 3.9-2.3 2.6-1.1 3.9-1 2.6-.2 2.7.2 2.7.5 4.1 1.6 2.8 1.5 2.8 1.9 2.8 2.3 2.8 2.7 2.8 3.1 2.8 3.5 4.4 6 7-7.3 3.4-3 3.5-2.8 3.4-2.3 3.4-2 3.5-1.7 5-1.8 3.4-.8 3.4-.4 3.3-.1 3.3.3 3.3.6 3.2 1 3.3 1.3z" fill="#f8f80f"/><path d="M556.1 638.6l4.7 3 4 3.2 2.4-6.5 1.8-6.6.8-5 .4-4.8 0-4.6-.3-4.3-.6-4.2-1-4-1.2-3.9-2.1-4.7-1.8-3.4-2.1-3.1-2.7-3.8-4.3-5.4-4.2-4.8-2.9-2.8-5.8-5-4.4-3.1-2.9-1.6-3.1-1.5-2.9-1.1-2.9-.8-3.1-.6-3-.3-3.1 0-4.5.5-4.6 1.1-4.5 1.7-6.1 3.4-6.1 4.6-4.5 4-6.1 6.5-4.4 5.5-4.8 6.6-6 9.3-4.1 7.1-2.9 6.1-2.4 6.7-1.6 6.5-.8 6.2-.3 6.5 3.5-2.9 2.5-1.9 2.6-1.4 2.6-1.1 3.9-1 2.6-.2 2.7.2 2.7.5 4.1 1.6 2.8 1.5 2.8 1.9 2.8 2.3 2.8 2.7 2.8 3.1 2.8 3.5 4.4 6 7-7.3 3.4-3 3.5-2.8 3.4-2.3 3.4-2 3.5-1.7 3.4-1.3 3.3-.9 3.4-.6 3.3-.3 3.4.1 3.2.5 3.3.8 3.3 1.1z" fill="#f4f41a"/><path d="M554.5 637.7l4.7 2.8 3.8 2.8 2.4-5.9 2-6.7.9-4.6.5-4.3.2-4.7-.2-4.4-.5-4.2-1-4.9-1.4-4.3-1.5-3.6-1.7-3.5-2.1-3.3-6.5-8.4-4.2-4.8-2.9-2.8-5.8-5-2.9-2.1-3.1-1.9-2.9-1.5-2.8-1.2-3.2-1.1-2.9-.7-2.9-.4-3.1-.2-4.5.3-4.6.9-3.2 1-2.9 1.2-4.5 2.4-4.5 3-4.8 3.9-4.5 4.3-6.1 6.8-6 7.9-4.4 6.5-5 8.2-3.3 6.5-2.3 5.8-1.8 6.4-1.1 6.3-.4 6.1.1 3.7 3.2-2.7 2.6-1.6 3.9-1.8 2.6-.8 3.9-.4 2.7.2 2.7.5 2.8 1 2.7 1.3 2.8 1.7 2.8 2.1 2.8 2.5 2.8 2.9 2.8 3.3 5.8 7.8 7-7.3 3.4-3 3.5-2.8 3.4-2.3 3.4-2 3.5-1.7 3.4-1.3 3.3-.9 3.4-.6 3.3-.3 3.4.1 3.2.5 3.3.8 3.3 1.1z" fill="#ecec2d"/><path d="M552.9 637l4.8 2.5 3.5 2.4 2.6-6.1 2.1-6.7.9-4.6.6-4.4.3-4.6-.1-4.1-.5-4.6-.8-4.1-1.1-3.8-1.4-3.7-1.7-3.5-1.4-2.5-2.3-3.3-2.8-3.6-5.7-6.6-4.4-4.2-2.8-2.4-5.9-4.3-2.9-1.6-3.1-1.5-2.9-1.1-2.9-.8-3.1-.6-3-.3-4.5 0-4.5.7-4.8 1.4-4.5 2-4.5 2.6-4.5 3.3-6.1 5.3-4.5 4.7-4.8 5.7-6 8.2-6 9.3-2.8 5.2-2.5 5.7-2 6-1.4 6.5-.6 5.4-.1 3.9.2 3.9 3.1-2.3 2.6-1.4 3.9-1.6 2.6-.5 4-.2 2.7.4 4.1 1.3 2.7 1.3 2.8 1.7 2.8 2.1 4.2 3.9 4.2 4.8 5.8 7.8 7-7.3 5.1-4.5 3.5-2.5 3.4-2.2 3.4-1.8 3.5-1.5 3.3-1.1 3.4-.8 3.4-.4 3.3-.1 3.3.3 3.3.6 3.2 1z" fill="#e1e148"/><path d="M552.2 636.7l3.9 1.9 3.1 1.9 2.8-6.2 1.4-3.8 1.1-3.6.9-3.9.6-4.5.3-4.7 0-3.9-.3-3.5-.7-4.1-1-3.9-1.3-3.7-2.8-5.9-3.3-4.8-2.8-3.5-4.2-4.8-5.9-5.5-5.7-4.4-6-3.4-2.8-1.2-3.2-1.1-2.9-.7-2.9-.4-4.7-.1-4.5.5-4.6 1.1-4.5 1.7-4.5 2.4-4.5 3-4.8 3.9-4.5 4.3-6.1 6.8-4.4 5.7-4.8 6.9-4.6 7.4-2.9 5.9-2.1 5.9-1.4 5.2-1.1 6.2-.3 6.1.4 5.6 2.8-1.8 2.6-1.3 2.6-1 2.6-.5 2.6-.2 2.7.2 2.7.5 2.8 1 2.7 1.3 2.8 1.7 2.8 2.1 2.8 2.5 2.8 2.9 2.8 3.3 5.8 7.8 7-7.3 5.1-4.5 3.5-2.5 3.4-2.2 3.4-1.8 3.5-1.5 3.3-1.1 3.4-.8 3.4-.4 3.3-.1 3.3.3 3.3.6 3.2 1z" fill="#d1d16b"/><path d="M552.2 636.7l4.9 2.4 2.2-4.2 1.7-4 1.3-3.7 1.2-4.3.8-4.4.4-3.2.2-6.9-.2-3.6-.6-3.5-.7-3.3-1.2-3.8-2.3-5.3-3.1-5.1-5.5-6.5-5.8-5.8-5.9-4.8-5.7-3.5-3.1-1.5-2.9-1.1-4.5-1.2-4.5-.5-4.5 0-4.5.7-4.8 1.4-4.5 2-4.5 2.6-4.5 3.3-4.5 3.8-4.8 4.8-4.5 5.1-6 7.9-4.8 7.1-2.9 5.2-2.4 5.5-1.7 5-1.2 4.8-.8 4.7-.3 4.5 0 4.5.5 4.5 2.5-1.3 2.6-1.1 2.6-.8 2.6-.4 2.7 0 2.7.4 2.7.8 2.7 1.1 2.8 1.5 2.8 1.9 2.8 2.3 2.8 2.7 4.2 4.8 5.8 7.8 7-7.3 5.1-4.5 3.5-2.5 3.4-2.2 3.4-1.8 3.5-1.5 3.3-1.1 3.4-.8 3.4-.4 3.3-.1 3.3.3 3.3.6 3.2 1z" fill="#caca7a"/><path d="M551.4 636.3l3.4 1.5 2.1-3.8 2.2-4.5 1.4-3.9 1.6-5.3 1.2-6.7.2-6.7-.6-6.6-.5-2.7-1.1-3.8-1.3-3.7-1.2-2.4-2.6-4.5-3.5-4.4-5.7-5.9-5.8-5-4.4-3.1-2.9-1.6-3.1-1.5-2.9-1.1-2.9-.8-4.5-.8-4.7-.1-4.5.5-4.6 1.1-4.5 1.7-4.5 2.4-3.2 2.1-4.5 3.5-6.1 5.6-4.5 4.9-4.4 5.5-4.8 6.6-3.4 5.4-2.3 4.4-2.3 5.7-1.4 4.6-1 5.3-.6 6.1.1 5.9.7 5.1 4.6-1.9 2.6-.5 2.6-.2 2.7.2 2.7.5 4.1 1.6 2.8 1.5 2.8 1.9 2.8 2.3 2.8 2.7 4.2 4.8 5.8 7.8 7-7.3 3.4-3 3.5-2.8 5.1-3.4 3.4-1.8 3.5-1.5 3.3-1.1 3.4-.8 3.4-.4 3.3-.1 3.3.3 3.3.6z" fill="#c2c289"/><path d="M475 586.2l-4.9 6.9-3.1 5.3-2.5 5.5-2 6-1.3 6.5-.5 6.3.3 5.8 1 5.8 2.6-.9 2.6-.5 4-.2 2.7.4 2.7.8 4.1 1.8 2.8 1.7 2.8 2.1 4.2 3.9 4.2 4.8 5.8 7.8 7-7.3 5.1-4.5 3.5-2.5 3.4-2.2 3.4-1.8 3.5-1.5 5-1.5 5.1-.8 3.3-.1 4.9.6 3.3.8 4.2 1.5 1.2-1.9 2.7-4.7 2.1-4.8 1.7-4.8 1.3-5.5.7-4.8.2-5.8-.4-4.4-1-5.3-1.3-4.3-1.9-4.3-2-3.4-2.3-3.2-3.3-3.8-4.4-4.2-4.3-3.6-4.4-3.1-4.5-2.4-2.8-1.2-4.5-1.4-3.1-.6-3-.3-4.5 0-3.1.5-4.6 1.1-4.5 1.7-2.9 1.5-3.2 1.9-4.5 3.3-3.2 2.6-4.5 4.3-4.5 4.9z" fill="#bbbb98"/><path d="M546.1 634.6l3.4 1 2.7-4 2.2-4 2-4.1 1.6-4.3 1.6-5.9.8-6.3.2-3.4-.2-3.4-.8-5.9-1.5-5.1-2-4.8-2.7-4.4-2.5-3.2-5.4-5.3-4.3-3.6-4.4-3.1-2.9-1.6-3.1-1.5-2.9-1.1-4.5-1.2-4.5-.5-4.5 0-3.1.5-4.6 1.1-4.5 1.7-4.5 2.4-3.2 2.1-4.5 3.5-4.5 4-4.5 4.7-4.8 5.7-3.8 5.2-2.8 4.4-2.8 5.4-1.7 4.4-1.3 4.5-.8 3.5-.6 4.7-.1 4.4.3 4.4.6 4.1 1.1 3.9 4.2-.8 4 .2 2.7.5 2.8 1 4.1 2.1 2.8 1.9 2.8 2.3 4.2 4.2 4.2 5.1 4.3 6 7.1-7.3 5.1-4.5 5.2-3.6 5.1-2.9 5.2-2.1 3.3-.9 3.4-.6 5-.3 3.3.3z" fill="#b4b4a7"/><path d="M541.5 633.9l4.8.8 3.7-4.9 3.7-6.4 2.5-6 1.5-5.1.9-5.4.4-5.8-.4-5.7-.8-4.1-1.6-5-1.6-3.5-2.8-4.5-3.4-4-4.4-4.1-4.4-3.5-4.4-2.8-2.9-1.5-4.4-1.8-4.5-1.2-4.5-.5-4.5 0-3.1.5-4.6 1.1-4.5 1.7-4.5 2.4-3.2 2.1-4.5 3.5-4.5 4-4.5 4.7-4.8 5.7-3.1 4.3-2.4 3.8-2.3 4.7-2 5.1-1.6 6.2-.7 4.8-.1 5.8.4 4.4.8 4.2 1.6 5 4.4-.2 4 .7 4.1 1.6 4.2 2.4 4.2 3.3 4.2 4.2 4.2 5.1 4.3 6 7.1-7.3 5.1-4.5 5.2-3.6 5.1-2.9 5.2-2.1 5-1.3 5-.5z" fill="#b2adad"/><path d="M537.9 633.8l4.7.2 2.4-2.7 3.6-4.8 2.5-4.1 2.1-4.3 2.1-5.6 1.1-4.3.6-4 .3-3.9 0-3.7-.5-4.2-.9-4-1.2-3.7-1.7-3.6-2-3.3-2.4-3.1-2.8-3-3.1-2.6-4.4-3.3-3.1-1.9-2.9-1.5-4.4-1.8-4.5-1.2-2.9-.4-3.1-.2-4.5.3-3 .5-3.2.9-4.5 1.7-2.9 1.5-4.8 3-4.5 3.5-4.5 4-3.2 3.3-4.5 5.1-3.1 4.3-2.7 4.3-2.3 4.7-1.9 5-1.2 4.8-.7 4.7-.3 4.5.4 5.4.9 4.4 1.3 4 1.7 4 4 .4 2.7.8 4.1 1.8 2.8 1.7 4.2 3.3 2.8 2.7 2.8 3.1 3.8 4.8 3.5.4 3.1.1.7-.1 4.8-4.5 5.2-4.3 3.4-2.3 3.4-2 3.5-1.7 5-1.8 3.4-.8z" fill="#b7a4a5"/><path d="M506.7 560.5l-2.9 1-3.2 1.5-4.5 2.6-2.9 2-3.2 2.6-4.5 4-6.5 7-4.3 6-2 3.7-1.6 3.5-1.3 3.3-1 3.5-.7 3.2-.6 4.3-.1 3 .2 3.5.4 3.6.6 2.7.8 2.7 1.7 3.8 1.3 2.5 1.7 2.7 2.5.7 2.7 1.1 4.2 2.4 4.2 3.3 5 5.1 3.4.8 4.5.6 4.5.1 4.2-.3 3.3-2.8 3.5-2.5 3.4-2.2 3.4-1.8 3.5-1.5 3.3-1.1 3.4-.8 4.8-.5 3.6-3.5 4-4.8 2.6-3.8 2.3-3.9 1.9-4.1 1.5-4.4 1.2-5 .5-4.8.1-4.5-.4-4.2-1.1-4.9-1.5-4-1.8-3.5-2.2-3.3-2.6-3-3.3-3-4.4-3.3-4.4-2.6-4.4-2-4.5-1.4-4.5-.8-4.7-.1-4.5.5z" fill="#bf9698"/><path d="M508.3 560l-3.2 1-2.9 1.2-4.5 2.4-3.2 2.1-6.1 4.8-4.5 4.3-2.6 2.9-2.6 3.1-1.8 2.7-1.8 3-1.8 3.5-1.4 3.4-1.2 3.9-.7 3.2-.6 4-.1 3 .1 3.7.5 3.4.7 3.1 1.2 3.5 1.1 2.6 1.4 2.4 2.5 3.5 2 2.2 2.3 2.1 2.7 2 3 1.8 5.5 2.3 4.5 1.1 3.6.5 3.2.2 5.4-.3 4.7-.8 3.6-.9 5.6-3.2 3.5-1.5 3.8-1.2 5.1-3.7 3.6-3.3 3.2-3.4 3.6-4.7 2.5-4.1 2-4.1 1.6-4.2 1.2-4.7.7-4.5.1-4.8-.4-4.2-.8-4-1.2-3.8-1.6-3.5-2.1-3.4-2.5-3.1-3-2.8-3.9-2.9-4.4-2.6-4.4-2-4.5-1.4-3.1-.6-4.5-.4-4.5.3z" fill="#c5898c"/><path d="M508.3 560l-3.2 1-2.9 1.2-6.1 3.4-4.5 3.2-3.2 2.7-2.7 2.5-3 3.2-2.4 3-2 2.9-1.7 2.8-1.7 3.5-1.3 3.4-1 3.2-.7 3.2-.5 3-.2 3.3.2 3.8.4 3 .6 2.7.8 2.7 1.5 3.3 1.6 2.9 1.7 2.3 1.9 2.2 2.3 2.1 2.6 2 3 1.8 2.9 1.4 2.5.9 3 .8 4.3.7 3 .2 5.4-.2 4.7-.7 4.1-1.2 3.8-1.3 5-2.4 3-1.8 4.2-3 3.6-3.2 3.3-3.4 2.8-3.6 2.5-3.8 2.1-4 1.7-4.2 1.3-4.4.7-4.7.2-4.4-.3-4.3-.7-4-1.2-3.5-1.7-3.8-2.1-3.3-2.6-3.1-2-1.9-3.5-2.6-3.9-2.3-4.4-2-4.5-1.4-3.1-.6-4.5-.4-4.5.3z" fill="#ca7c80"/><path d="M508.3 560l-3.2 1-2.9 1.2-6.1 3.4-6.1 4.6-2.8 2.5-3.1 3.1-2.1 2.7-2.2 3.2-1.5 2.5-1.7 3.5-1.3 3.3-.9 3.2-.6 3.2-.4 3-.1 3 .2 3 .6 4 .7 2.6 1 2.6 1.2 2.5 1.5 2.4 1.7 2.3 2 2.2 2.4 2 4.3 2.8 3.4 1.6 2.8.9 3.8.9 2.8.3 3.1.2 4-.2 4.5-.7 4.2-1.1 3.7-1.4 5-2.4 4.4-2.7 2.6-2.1 3.6-3.2 3.1-3.4 2.8-3.7 2.1-3.4 1.9-4 1.4-3.6 1.1-4.2.6-4.1.1-4-.2-3.5-.7-3.8-1.2-3.8-1.7-3.5-2.1-3.3-2.7-3-2.1-1.9-3.6-2.6-3.3-1.7-4.4-1.8-4.5-1.2-4.5-.5-3.1 0-2.9.2z" fill="#d06e74"/><path d="M509.9 559.6l-3.2.9-2.9 1-3.2 1.5-2.9 1.6-3.2 2.1-3.5 2.6-4.3 4.1-1.9 2.2-2.3 3-3.2 5.6-2.3 5.8-1.2 5.5-.3 3.1 0 2.9.3 2.8.5 2.7.7 2.7 1 2.5 1.2 2.5 1.6 2.4 1.8 2.2 2.1 2.1 3.9 3 5 2.4 4.2 1.3 2.5.4 2.8.3 5 0 4.8-.6 4.2-1.1 3.7-1.4 3.4-1.5 3-1.8 4.2-2.9 3.6-3.2 3.1-3.2 2-2.6 2.5-3.8 2-4 1.1-2.8 1.3-4.4.5-3.1.3-3.3-.1-4.3-.4-2.8-1.1-3.8-1.5-3.6-2-3.4-2.5-3.1-2.1-1.9-3.6-2.6-2.8-1.5-3.8-1.5-2.9-.8-3.1-.6-4.5-.4-4.5.3z" fill="#d56167"/><path d="M509.9 559.6l-3.2.9-2.9 1-3.2 1.5-2.8 1.6-5.1 3.5-4.3 4-3.8 4.7-1.5 2.3-1.7 3.2-2.1 5.1-.8 3.2-.5 3-.2 3 .1 2.9.4 2.7.6 2.7.9 2.6 1.1 2.5 2.3 3.5 1.9 2.2 2.2 2.1 4.2 2.8 1.7.8 3.5 1.3 5.2 1.1 3 .2 3.7-.1 3.7-.5 4.2-1 3.7-1.4 3.4-1.5 4.5-2.7 2.6-2 2.4-2.1 3.3-3.4 2.7-3.6 1.6-2.6 1.9-3.6 1.2-3.2 1.1-3.8.5-3.2.2-3.9-.3-3.4-.8-3.9-.8-2.6-1.7-3.5-1.5-2.2-1.7-2-3-2.9-2.5-1.7-2.8-1.5-3.4-1.3-3.7-1-2.9-.4-3.1-.2-4.5.3z" fill="#dd4e56"/><path d="M511.3 559.4l-3 .6-3.2 1-5.2 2.5-4 2.5-4.7 3.9-3.8 4.4-1.7 2.4-1.5 2.5-2 4.6-.8 2.5-.7 3.1-.4 5.2.2 2.8.5 2.7.8 2.6 1 2.5 2.2 3.6 2.9 3.3 3.8 2.9 3.2 1.7 1.8.7 4.5 1.1 2.7.4 5.1-.1 2.7-.3 4.1-.9 3.7-1.3 3.4-1.6 3-1.8 2.7-1.9 2.5-2 2.3-2.2 2-2.4 2.6-3.6 1.5-2.7 1.5-3.3 1.1-3.5.7-3.2.3-3.2-.1-3.4-.5-3.5-.7-2.6-1.5-3.6-1.4-2.2-1.6-2.1-1.9-2-2.3-1.8-2.6-1.7-3.1-1.4-3.8-1.1-3.3-.5-2.9-.2-3 .1z" fill="#e23d44"/><path d="M487.2 576.4l-1.6 3.1-1.1 2.8-.7 2.6-.5 3.1-.2 3 .1 2.8.5 2.7.8 2.6 1.1 2.5 1.4 2.4 1.8 2.2 2.1 2.1 2.7 1.9 1.5.8 3.7 1.5 2.3.6 2.4.4 3 .2 3.9-.2 2.3-.4 2.1-.5 3.8-1.2 3.4-1.6 3-1.7 2.7-2 2.4-2.1 2.1-2.2 2.8-3.6 1.6-2.5 1.3-2.7 1.1-2.8.9-3.3.6-4.6-.1-2.9-.3-2.1-.4-1.9-.8-2.5-1.1-2.4-1.3-2-2.8-3.3-3.5-2.6-2.9-1.6-1.7-.6-4-1.1-2.5-.3-3-.1-4.2.4-4.9 1.2-4.9 2-4.1 2.4-2.5 1.9-2.2 2-3.5 3.8z" fill="#e72b32"/><path d="M489.2 575.9l-1.2 2.7-.9 2.5-.7 3.1-.2 2.1-.1 2.4.3 2.8.6 2.6 1 2.5 1.3 2.4 1.7 2.3 2.2 2 1.2 1 3 1.7 1.8.8 4.5 1.1 2.9.2 2.1 0 2.5-.2 4.3-1 1.9-.6 3.4-1.5 4.3-2.7 2.5-2.1 2.3-2.1 1.9-2.4 1.7-2.4 1.4-2.7 1.2-2.7 1.2-5 .2-4.4-.6-4.1-1.4-3.7-2-3.3-2.9-3-2.4-1.8-3.2-1.6-1.6-.5-3.3-.8-4-.3-4.1.4-3.9.9-4.9 1.9-4.2 2.5-3.5 2.9-2.1 2.1-1.8 2.3z" fill="#ee1923"/><path d="M492.5 573.9l-1.8 4-.6 2.4-.4 2.3-.1 2.2.2 2.8.6 2.6.4 1.3.6 1.2 1.4 2.4.9 1.1 2.2 2 2.7 1.8 1.7.8 2 .7 2.3.5 4.5.2 2.5-.2 2.2-.5 1.9-.6 3.5-1.4 4.4-2.7 3.7-3.2 1.8-2.2 1.6-2.3 2-4.2 1.2-4.4.2-3.3-.4-4-1.4-3.7-1.3-2.3-2.8-3-2.5-1.7-3.2-1.4-2.5-.7-1.8-.3-2.9-.1-3.6.3-3.8 1-3.3 1.3-2.9 1.6-3.6 2.8-3.1 3.2z" fill="#f50615"/><path d="M496.2 572.4l-1.6 3.5-.8 3.4-.1 1.6.1 2.5.2 1.4.7 2.2 1.5 2.7 1.9 2.1 1.2 1 3 1.7 2.7.8 3.5.4 2.6-.1 2.2-.5 3.8-1.2 3-1.7 3.8-2.9 2.9-3.5 1.4-2.5.7-1.5 1-3.6.2-3-.3-2.7-.8-2.6-1.2-2.3-1.7-2.1-2.3-1.8-3.1-1.5-3.1-.8-3-.1-2.5.2-3.8.9-3.2 1.5-2.7 1.7-2.4 1.9-2 2.2z" fill="#fa000c"/><path d="M502 569.8l-1.6 2.4-1 2.9-.4 2.2.2 2.8.9 2.6 1.6 2.2 1.1 1 1.4.9 1.8.7 2.7.5 2.7-.1 2.2-.4 3.4-1.5 2.7-1.8 1.8-1.9 1.5-2.1 1-2.1.5-1.5.3-3-.2-2-.6-2-1.4-2.2-.9-1-2.7-1.7-1.8-.7-2.5-.3-2.8.2-2.1.5-1.7.6-2.8 1.7-2.2 1.8z" fill="#fc0006"/><path d="M500.5 655.9l-4.3-5.9-4.3-5.1-4.2-4.2-2.8-2.3-2.8-1.9-4.1-2.2-2.8-.9-2.7-.6-4-.1-2.6.3-2.7.8-3.8 1.8-2.6 1.7-2.5 2-3.7 3.6-2.5 2.9-2.4 3.2-3.5 5.4-4.6 8.3-4.4 9.6-3.8 9.4M500.5 655.9l5.2-5.5 3.4-3.3 3.5-2.9 5.2-3.7 3.4-2 3.4-1.7 5.1-1.8 3.4-.7 3.4-.5 3.3 0 3.3.2 3.3.7 3.3.9 4.8 2.1 3.2 1.8 3.1 2.1 3.2 2.4 3.1 2.8 3 3.1 3 3.3 4.5 5.6 5.8 8.5 5.7 9.7 5.5 10.6M506.5 649.5l-4.2-6.5-2.9-3.8-2.8-3.4-4.3-4.4-2.8-2.5-2.8-2.1-4.1-2.3-2.8-1.1-2.7-.7-2.7-.3-2.7 0-2.6.4-2.6.8-3.9 1.9-2.6 1.7-2.5 2.1-2.5 2.4-2.5 2.8-2.4 3.1-2.4 3.4-3.5 5.7-4.6 8.8-4.4 9.9-4.1 10.7M495.5 649.1l5.2-6.1 3.4-3.6 3.5-3.3 3.5-2.9 3.4-2.5 3.4-2.2 3.4-1.8 3.5-1.5 3.3-1.1 3.4-.7 3.4-.4 3.3-.1 3.3.3 3.3.6 3.2 1 3.3 1.3 3.2 1.7 3.1 2 3.2 2.3 3.1 2.6 3.1 2.9 3 3.3 3 3.5 3 3.9 2.9 4.1 5.7 9.1 5.6 10.3 4.9 10M512.6 644.2l-4.3-7-2.8-4.2-2.9-3.8-4.2-4.9-2.9-2.8-2.8-2.4-4.1-2.9-2.8-1.4-2.7-1.1-2.8-.6-2.7-.3-2.7.1-2.6.5-3.9 1.4-2.6 1.4-2.6 1.8-2.5 2.1-2.5 2.5-2.5 2.8-2.4 3.1-2.4 3.5-2.4 3.8-4.6 8.6-4.5 9.7-4.3 11M490.5 643.4l3.5-4.5 3.4-4.1 3.5-3.8 3.4-3.4 3.5-3.1 3.4-2.7 3.5-2.3 3.4-2 3.4-1.7 3.4-1.2 3.3-.9 3.4-.6 3.3-.2 3.3.1 3.3.5 3.3.8 3.2 1.2 3.2 1.5 3.2 1.8 3.2 2.2 3.1 2.5 3.1 2.8 3 3.1 4.6 5.3 2.9 3.8 3 4.2 5.7 9.2 5.6 10.2 2.7 5.6 3.9 8.5M518.6 640l-4.2-7.5-2.9-4.6-2.9-4.1-4.2-5.5-2.8-3.1-2.8-2.8-4.2-3.4-2.8-1.7-2.8-1.4-2.7-1-2.8-.6-2.7-.2-2.6.1-4 1-2.6 1.1-2.6 1.4-2.6 1.8-2.5 2.2-2.5 2.5-2.5 2.9-3.7 4.9-4.7 7.7-4.6 8.9-4.5 10.2M485.6 638.9l3.4-4.8 3.5-4.5 3.4-4.1 3.5-3.8 3.4-3.4 3.5-3 3.4-2.7 5.1-3.4 3.4-1.8 3.4-1.4 3.4-1.1 3.3-.7 3.4-.4 3.3 0 3.3.3 4.9 1.1 3.2 1.2 3.2 1.5 3.2 1.9 3.1 2.2 3.2 2.5 3 2.8 3.1 3.1 4.5 5.3 3 3.9 2.9 4.2 2.9 4.4 4.2 7.2 5.6 10.6 2.7 5.7 4 9M524.6 636.8l-4.2-8-2.9-4.9-2.8-4.4-4.3-6-2.8-3.5-2.9-3.1-4.2-3.9-2.8-2.1-2.7-1.8-2.8-1.3-2.7-.9-2.8-.6-2.7-.2-4 .5-2.6.7-2.6 1.2-2.6 1.5-2.6 1.8-2.5 2.2-2.6 2.6-3.7 4.5-2.4 3.4-2.4 3.7-4.7 8.4-4.5 9.7M480.7 635.7l3.5-5.2 3.4-4.8 3.4-4.5 3.5-4.1 3.4-3.8 3.4-3.4 3.4-3 5.2-3.9 3.4-2.1 3.4-1.8 3.3-1.5 3.4-1 3.3-.7 3.4-.4 3.3 0 4.9.6 3.3.9 3.2 1.2 3.2 1.5 4.7 2.9 3.2 2.4 3 2.6 3.1 3 4.5 5.1 3 3.7 3 4.1 2.9 4.3 4.3 7.1 5.5 10.3 2.8 5.6 4 8.8M530.6 634.8l-4.3-8.5-5.7-10.1-4.2-6.5-2.9-3.8-2.8-3.5-4.2-4.4-2.8-2.5-2.8-2-4.1-2.4-2.8-1.1-2.7-.7-4.1-.4-2.7.3-2.6.6-2.6 1-2.7 1.4-2.5 1.7-2.6 2.1-3.8 3.7-2.5 3-2.4 3.2-2.4 3.7-2.4 3.9-4.7 8.8M475.9 633.6l6.8-10.7 3.5-4.8 3.4-4.5 3.4-4.1 3.4-3.7 3.4-3.4 5.1-4.4 3.4-2.5 3.4-2.1 3.4-1.8 3.4-1.4 3.3-1.1 3.4-.7 3.3-.3 4.9.1 3.3.5 3.2.9 3.2 1.2 4.8 2.4 3.2 2.1 3.1 2.3 3.1 2.7 4.6 4.6 3 3.5 2.9 3.7 3 4.1 4.3 6.6 5.7 9.8 2.7 5.3 4.1 8.5M536.5 633.8l-4.3-9-5.6-10.7-4.3-7-2.8-4.2-2.8-3.8-4.3-5-2.8-2.8-2.8-2.4-4.1-2.9-2.8-1.4-2.7-1.1-4.1-.9-2.7 0-2.7.2-4 1.2-2.6 1.2-2.6 1.6-3.8 3-2.6 2.5-2.5 2.8-2.4 3.1-2.5 3.5-4.8 7.9M471.2 632.7l6.8-11.4 3.4-5.1 3.4-4.8 3.4-4.4 3.4-4.1 3.4-3.8 5.1-4.9 3.4-2.8 3.3-2.5 3.4-2.1 3.4-1.8 3.3-1.4 3.4-1.1 3.3-.7 4.9-.3 3.3.1 3.3.6 3.2.8 4.8 2 3.2 1.7 3.1 2 3.1 2.4 4.7 4.1 3 3.2 3 3.4 3 3.8 4.3 6.2 5.8 9.3 2.8 5 4.1 8.1M542.3 633.9l-4.2-9.5-5.7-11.4-4.2-7.5-2.8-4.5-2.8-4.2-4.3-5.5-2.8-3.1-2.8-2.8-4.1-3.4-2.8-1.8-2.8-1.4-4.1-1.4-2.7-.4-2.7-.1-4 .7-2.6.9-2.6 1.2-3.9 2.6-2.6 2.1-2.5 2.5-3.8 4.4-2.4 3.3-2.4 3.7M466.5 632.9l6.7-12 6.8-10.6 3.4-4.7 3.4-4.5 3.3-4 5.1-5.5 3.4-3.2 3.4-2.8 3.4-2.5 3.3-2.1 3.4-1.7 3.3-1.4 3.3-1.1 5-.9 3.3-.1 3.2.1 3.3.6 4.8 1.4 3.2 1.4 3.1 1.7 3.2 2 4.6 3.7 3.1 2.8 3 3.2 3 3.4 4.4 5.8 5.8 8.7 2.8 4.7 4.2 7.7M548 635.1l-4.2-10-4.2-9.2-4.2-8.3-5.6-9.8-4.2-6.3-2.8-3.7-2.8-3.3-4.2-4.2-2.8-2.3-2.7-2-4.2-2.2-2.7-.9-2.7-.6-4-.2-2.7.4-2.7.7-3.9 1.8-2.6 1.6-2.6 2-3.8 3.7-2.5 2.9-2.5 3.2M461.9 634.3l5-9.6 3.4-5.9 6.7-11 3.3-4.9 3.4-4.6 3.4-4.2 3.3-3.9 3.4-3.5 3.4-3.2 3.3-2.8 3.4-2.5 3.3-2.1 3.4-1.7 3.3-1.4 4.9-1.4 3.3-.5 3.3-.2 3.3.2 4.8.9 3.2 1 3.2 1.4 3.1 1.7 4.7 3.2 3.1 2.5 3 2.8 3 3.2 4.5 5.3 5.8 8.1 2.9 4.5 4.2 7.2M553.7 637.3l-4.2-10.5-4.1-9.7-4.2-8.8-5.6-10.4-4.2-6.8-2.8-4-2.8-3.7-4.2-4.7-2.7-2.7-2.8-2.3-4.1-2.7-4.1-1.8-4.1-1-2.7-.2-2.7.2-4 1-2.6 1.1-2.6 1.5-3.9 2.9-2.5 2.4-2.5 2.7M457.4 636.8l5-10 3.3-6.3 6.6-11.6 6.7-10.1 3.4-4.6 3.3-4.2 3.4-3.9 3.3-3.5 3.4-3.2 3.3-2.8 3.3-2.4 3.4-2.1 3.3-1.8 4.9-1.9 3.3-.9 3.3-.5 3.2-.1 4.9.4 3.2.7 3.2 1 3.1 1.4 4.7 2.7 3.1 2.1 3.1 2.6 3 2.8 4.5 4.8 3 3.6 2.9 3.9 2.9 4.1 4.3 6.8M559.3 640.5l-5.5-14.4-4.2-9.9-4.1-9-4.2-8.2-4.2-7.3-4.1-6.4-4.2-5.5-2.8-3.3-2.7-2.8-4.2-3.5-4.1-2.7-4.1-1.7-2.7-.7-2.7-.4-4 .2-2.7.6-2.6 1-3.9 2.1-2.6 1.9-2.5 2.2M453 640.4l4.9-10.5 3.3-6.6 6.6-12.1 6.6-10.9 3.3-4.9 3.4-4.5 3.3-4.2 3.3-3.9 3.3-3.5 3.4-3.1 3.3-2.8 3.3-2.4 3.3-2.1 5-2.5 3.2-1.2 3.3-.9 3.3-.5 4.8-.1 3.2.4 3.2.7 3.2 1 4.7 2.2 3.1 1.8 3.1 2.2 3 2.5 4.6 4.3 3 3.3 2.9 3.6 2.9 3.8 4.3 6.4M564.7 644.7l-5.4-15-4.1-10.3-4.1-9.5-4.1-8.7-4.2-7.8-4.1-6.9-4.2-6.1-2.8-3.5-2.7-3.2-4.2-4-4.1-3.2-4.1-2.3-2.7-1.1-2.7-.6-4-.4-4 .6-4 1.3-2.6 1.4-2.6 1.7M448.7 645.1l4.9-11 3.2-6.8 6.5-12.8 6.6-11.5 6.6-10.1 3.3-4.5 3.3-4.2 3.3-3.8 3.3-3.5 3.3-3.1 3.3-2.8 3.3-2.4 4.9-3 3.3-1.6 3.3-1.2 3.2-.8 3.3-.5 3.2-.2 3.2.2 3.2.5 4.7 1.4 3.1 1.4 3.1 1.6 3.1 2 3.1 2.4 3 2.6 3 2.9 3 3.3 4.4 5.4M570.1 649.9l-4-11.9-4-11-4.1-10.2-4.1-9.4-4.1-8.6-4.1-7.7-4.2-6.9-2.7-4-2.8-3.8-4.1-4.8-4.1-4-4.1-3.1-4.1-2.2-4.1-1.4-4-.6-4 .3-2.6.7-2.6 1M444.5 650.7l6.4-14.9 6.4-13.7 6.5-12.4 4.9-8.4 4.9-7.7 3.3-4.6 3.3-4.4 3.2-4 3.3-3.6 3.3-3.3 3.3-2.9 4.9-3.8 3.3-2.1 3.2-1.7 3.3-1.4 3.2-1 3.3-.7 3.2-.3 3.2 0 3.1.3 3.2.7 3.1 1 3.1 1.3 3.1 1.7 3.1 2 3 2.3M575.4 656l-4-12.3-4-11.5-4-10.6-4.1-9.9-4-9-4.1-8.2-4.1-7.3-4.1-6.5-4.1-5.7-4.2-4.7-4.1-3.9-4-3.1-4.1-2.2-4-1.3-4-.6-2.7.2-2.6.5M440.5 657.4l6.2-15.5 4.8-10.8 6.4-13.3 4.8-9.1 4.8-8.3 4.9-7.6 4.9-6.9 3.3-4.1 3.2-3.8 4.9-5.1 4.9-4.3 4.9-3.4 3.2-1.9 3.3-1.6 4.8-1.7 3.2-.6 3.2-.4 4.7.1 3.2.5 3.1.9M580.5 663l-3.9-12.7-3.9-11.9-4-11.1-4-10.3-4-9.4-4.1-8.7-4.1-7.8-4-7-4.1-6.1-4.1-5.3-4.1-4.4-4.1-3.6-4-2.7-4.1-1.9-4-1-4-.2M436.5 665l4.6-12.1 4.7-11.4 4.7-10.7 4.7-10 4.8-9.3 4.8-8.6 4.8-7.8 3.3-4.8 3.2-4.5 4.9-6 4.8-5.3 4.9-4.5 4.8-3.8 4.8-2.9 4.9-2.2 4.8-1.4M585.6 670.8l-3.9-13-3.9-12.3-3.9-11.5-4-10.7-3.9-9.9-2.7-6.2-4-8.5-4.1-7.8-2.7-4.7-4-6.3-4.1-5.5-4.1-4.6-4-3.8-4.1-3-4-2.1-4-1.3M432.6 673.6l7.6-20.4 6.2-15 4.7-10.4 3.1-6.6 6.4-12.1 4.7-8.3 3.2-5.1 6.4-9.2 3.2-4.1 3.3-3.8 3.2-3.4 4.8-4.5M590.5 679.5l-3.8-13.3-3.8-12.7-6.5-19.4-3.9-10.6-4-9.8-2.6-6.1-4-8.5-2.7-5.2-4-7.1-4.1-6.2-4-5.5-4.1-4.5-4-3.8-4-2.9-4-2M429.6 680.9l3.7-10.7 4.6-12.2 4.5-11.4 4.7-10.8 4.6-10.2 4.7-9.4 4.7-8.7 4.8-7.9M594.7 687l-3.2-11.7-3.7-13-6.4-20-3.9-11-3.9-10.3-3.9-9.4-2.7-5.9-2.6-5.5-4-7.5-2.7-4.6-4-6.2-2.6-3.6-4.1-4.8-4-4-4-3.1M431.5 674.9l7.1-19.1M595 680.8l-6.2-21.5-5.1-15.7-6.4-17.7-5.2-12.6-5.2-11.2-2.7-5.1-3.9-6.9-2.7-4.2-4-5.6-2.6-3.2-4-4.2M594.7 673.6l-4.9-16.5-5-15.2-5.2-13.8-5.1-12.5-3.9-8.5-5.2-10-5.3-8.5-2.6-3.8-2.7-3.4M594.4 667.6l-4.9-15.7-3.8-10.9-3.8-10.1-3.8-9.4-3.9-8.6-3.9-7.8-3.9-7-3.9-6.3" fill="none" stroke="#0a0a0a" stroke-width="0.75" stroke-linejoin="round" stroke-linecap="round"/>
<circle cx="444.6" cy="661" r="3.1" fill="#c63e3a" opacity="1"/><circle cx="573.3" cy="633.2" r="3.1" fill="#c63e3a" opacity="1"/><circle cx="571.3" cy="653.5" r="3.1" fill="#c63e3a" opacity="1"/><circle cx="571.8" cy="667.4" r="3.1" fill="#c63e3a" opacity="1"/><circle cx="507.8" cy="572" r="3.1" fill="#c63e3a" opacity="0.35"/><circle cx="501.5" cy="624.7" r="3.1" fill="#c63e3a" opacity="0.3"/><path d="M501.8 666.5L501.8 656" stroke="#4a5478" stroke-width="0.9" stroke-dasharray="1 1.1" fill="none" opacity="0.5"/><circle cx="501.8" cy="666.5" r="3.1" fill="#c63e3a" opacity="0.5"/>
<text transform="matrix(1.000 -0.419 -0.200 1.000 402.6 663.8)" font-size="10.3" text-anchor="end">0</text><text transform="matrix(1.000 -0.419 -0.200 1.000 402 650.9)" font-size="10.3" text-anchor="end">20</text><text transform="matrix(1.000 -0.419 -0.200 1.000 401.3 637.8)" font-size="10.3" text-anchor="end">40</text><text transform="matrix(1.000 -0.419 -0.200 1.000 400.6 624.5)" font-size="10.3" text-anchor="end">60</text><text transform="matrix(1.000 -0.419 -0.200 1.000 400 611.1)" font-size="10.3" text-anchor="end">80</text><text transform="matrix(1.000 -0.419 -0.200 1.000 399.3 597.4)" font-size="10.3" text-anchor="end">100</text><text transform="matrix(1.000 -0.419 -0.200 1.000 398.6 583.6)" font-size="10.3" text-anchor="end">120</text><text transform="matrix(1.000 -0.419 -0.200 1.000 397.8 569.6)" font-size="10.3" text-anchor="end">140</text><text transform="matrix(1.000 -0.419 -0.200 1.000 397.1 555.4)" font-size="10.3" text-anchor="end">160</text><text transform="matrix(0.820 -0.417 0.735 0.553 494.6 742)" font-size="10.3" text-anchor="end">0.4</text><text transform="matrix(0.820 -0.417 0.735 0.553 482.8 733.1)" font-size="10.3" text-anchor="end">0.6</text><text transform="matrix(0.820 -0.417 0.735 0.553 471.1 724.3)" font-size="10.3" text-anchor="end">0.8</text><text transform="matrix(0.820 -0.417 0.735 0.553 459.7 715.7)" font-size="10.3" text-anchor="end">1.0</text><text transform="matrix(0.820 -0.417 0.735 0.553 448.5 707.3)" font-size="10.3" text-anchor="end">1.2</text><text transform="matrix(0.820 -0.417 0.735 0.553 437.6 699.1)" font-size="10.3" text-anchor="end">1.4</text><text transform="matrix(0.820 -0.417 0.735 0.553 426.8 691)" font-size="10.3" text-anchor="end">1.6</text><text transform="matrix(0.820 -0.417 0.735 0.553 416.2 683)" font-size="10.3" text-anchor="end">1.8</text><text transform="matrix(0.820 -0.417 0.735 0.553 405.8 675.2)" font-size="10.3" text-anchor="end">2.0</text><text transform="matrix(0.735 0.553 -0.820 0.417 504.7 742)" font-size="10.3" text-anchor="start">4</text><text transform="matrix(0.735 0.553 -0.820 0.417 519.3 734.7)" font-size="10.3" text-anchor="start">6</text><text transform="matrix(0.735 0.553 -0.820 0.417 533.6 727.4)" font-size="10.3" text-anchor="start">8</text><text transform="matrix(0.735 0.553 -0.820 0.417 547.6 720.2)" font-size="10.3" text-anchor="start">10</text><text transform="matrix(0.735 0.553 -0.820 0.417 561.5 713.2)" font-size="10.3" text-anchor="start">12</text><text transform="matrix(0.735 0.553 -0.820 0.417 575.1 706.2)" font-size="10.3" text-anchor="start">14</text><text transform="matrix(0.735 0.553 -0.820 0.417 588.6 699.4)" font-size="10.3" text-anchor="start">16</text><text transform="matrix(0.735 0.553 -0.820 0.417 601.8 692.7)" font-size="10.3" text-anchor="start">18</text><text transform="matrix(0.735 0.553 -0.820 0.417 614.8 686.1)" font-size="10.3" text-anchor="start">20</text><path d="M412.1 668.7L405.9 547.5M411.4 655.9l-3.7 1.5M411.3 653.4l-2 0.8M411.1 650.8l-2 0.8M411 648.2l-2 0.8M410.9 645.6l-2 0.8M410.8 643l-3.7 1.5M410.6 640.4l-2 0.8M410.5 637.8l-2 0.8M410.4 635.2l-2 0.8M410.2 632.5l-2 0.8M410.1 629.9l-3.7 1.5M409.9 627.3l-2 0.8M409.8 624.6l-2 0.8M409.7 622l-2 0.8M409.5 619.3l-2 0.8M409.4 616.6l-3.7 1.5M409.3 614l-2 0.8M409.1 611.3l-2 0.8M409 608.6l-2 0.8M408.9 605.9l-2 0.8M408.7 603.2l-3.7 1.5M408.6 600.5l-2 0.8M408.4 597.8l-2 0.8M408.3 595l-2 0.8M408.2 592.3l-2 0.8M408 589.6l-3.7 1.5M407.9 586.8l-2 0.8M407.7 584.1l-2 0.8M407.6 581.3l-2 0.8M407.5 578.5l-2 0.8M407.3 575.7l-3.7 1.5M407.2 573l-2 0.8M407 570.2l-2 0.8M406.9 567.4l-2 0.8M406.7 564.5l-2 0.8M406.6 561.7l-3.7 1.5M406.5 558.9l-2 0.8M406.3 556.1l-2 0.8M406.2 553.2l-2 0.8M406 550.4l-2 0.8M405.9 547.5l-3.7 1.5M411.5 658.5l-2 0.8M411.7 661l-2 0.8M411.8 663.6l-2 0.8M411.9 666.1l-2 0.8M412.1 668.7L500.9 735.4M500.9 735.4L611 679.4M500.9 735.4l-3.6 1.8M494.9 731l-2 1M489 726.5l-3.6 1.8M483.2 722.1l-2 1M477.4 717.8l-3.6 1.8M471.7 713.5l-2 1M466 709.2l-3.6 1.8M460.4 705l-2 1M454.8 700.8l-3.6 1.8M449.3 696.7l-2 1M443.8 692.6l-3.6 1.8M438.4 688.5l-2 1M433.1 684.4l-3.6 1.8M427.7 680.5l-2 1M422.5 676.5l-3.6 1.8M417.2 672.6l-2 1M412.1 668.7l-3.6 1.8M500.9 735.4l3.2 2.4M508.2 731.7l1.8 1.3M515.4 728.1l3.2 2.4M522.6 724.4l1.8 1.3M529.7 720.8l3.2 2.4M536.8 717.2l1.8 1.3M543.8 713.6l3.2 2.4M550.7 710.1l1.8 1.3M557.6 706.6l3.2 2.4M564.5 703.1l1.8 1.3M571.3 699.6l3.2 2.4M578 696.2l1.8 1.3M584.7 692.8l3.2 2.4M591.4 689.4l1.8 1.3M597.9 686.1l3.2 2.4M604.5 682.8l1.8 1.3M611 679.4l3.2 2.4" stroke="#000" stroke-width="0.9" fill="none"/><text transform="translate(360 626) rotate(85)" font-size="11.4" text-anchor="middle" style="" fill="#000">L-asparaginase production</text><text transform="translate(345 636) rotate(85)" font-size="11.4" text-anchor="middle" style="" fill="#000">(U/gds)</text><text transform="translate(412.5 723.7) rotate(39)" font-size="10.6" text-anchor="middle" style="font-style:italic;" fill="#000">KNO<tspan font-size="70%" dy="2">3</tspan><tspan dy="-2"> (g/L)</tspan></text><text transform="translate(590.4 734.8) rotate(-25.5)" font-size="11.2" text-anchor="middle" style="" fill="#000">L-asparagine (g/L)</text>
<rect x="619.3" y="567.4" width="15.4" height="9.2" fill="#ff0000" stroke="#222" stroke-width="0.9"/><text transform="translate(639.2 575.4) rotate(0)" font-size="9.8" text-anchor="start" style="" fill="#000">&gt; 140</text><rect x="619.3" y="579.2" width="15.4" height="9.2" fill="#f80010" stroke="#222" stroke-width="0.9"/><text transform="translate(639.2 587.2) rotate(0)" font-size="9.8" text-anchor="start" style="" fill="#000">&lt; 140</text><rect x="619.3" y="591" width="15.4" height="9.2" fill="#d86068" stroke="#222" stroke-width="0.9"/><text transform="translate(639.2 599) rotate(0)" font-size="9.8" text-anchor="start" style="" fill="#000">&lt; 120</text><rect x="619.3" y="602.8" width="15.4" height="9.2" fill="#a8a0a8" stroke="#222" stroke-width="0.9"/><text transform="translate(639.2 610.8) rotate(0)" font-size="9.8" text-anchor="start" style="" fill="#000">&lt; 100</text><rect x="619.3" y="614.6" width="15.4" height="9.2" fill="#c8c860" stroke="#222" stroke-width="0.9"/><text transform="translate(639.2 622.6) rotate(0)" font-size="9.8" text-anchor="start" style="" fill="#000">&lt; 80</text><rect x="619.3" y="626.4" width="15.4" height="9.2" fill="#ffff00" stroke="#222" stroke-width="0.9"/><text transform="translate(639.2 634.4) rotate(0)" font-size="9.8" text-anchor="start" style="" fill="#000">&lt; 60</text><rect x="619.3" y="638.2" width="15.4" height="9.2" fill="#ffc800" stroke="#222" stroke-width="0.9"/><text transform="translate(639.2 646.2) rotate(0)" font-size="9.8" text-anchor="start" style="" fill="#000">&lt; 40</text><rect x="619.3" y="650" width="15.4" height="9.2" fill="#ff9010" stroke="#222" stroke-width="0.9"/><text transform="translate(639.2 658) rotate(0)" font-size="9.8" text-anchor="start" style="" fill="#000">&lt; 20</text><rect x="619.3" y="661.8" width="15.4" height="9.2" fill="#a8a850" stroke="#222" stroke-width="0.9"/><text transform="translate(639.2 669.8) rotate(0)" font-size="9.8" text-anchor="start" style="" fill="#000">&lt; 0</text>
</g>
<text x="15.2" y="33.5" font-size="20.8" fill="#0a0acc" stroke="#0a0acc">(A)</text>
<text x="349.1" y="29.3" font-size="20.8" fill="#0a0acc" stroke="#0a0acc">(B)</text>
<text x="10.7" y="279.5" font-size="20.8" fill="#0a0acc" stroke="#0a0acc">(C)</text>
<text x="349.8" y="279.5" font-size="20.8" fill="#0a0acc" stroke="#0a0acc">(D)</text>
<text x="9.8" y="529.9" font-size="20.8" fill="#0a0acc" stroke="#0a0acc">(E)</text>
<text x="349.8" y="529.9" font-size="20.8" fill="#0a0acc" stroke="#0a0acc">(F)</text>
</g></svg></body></html>
